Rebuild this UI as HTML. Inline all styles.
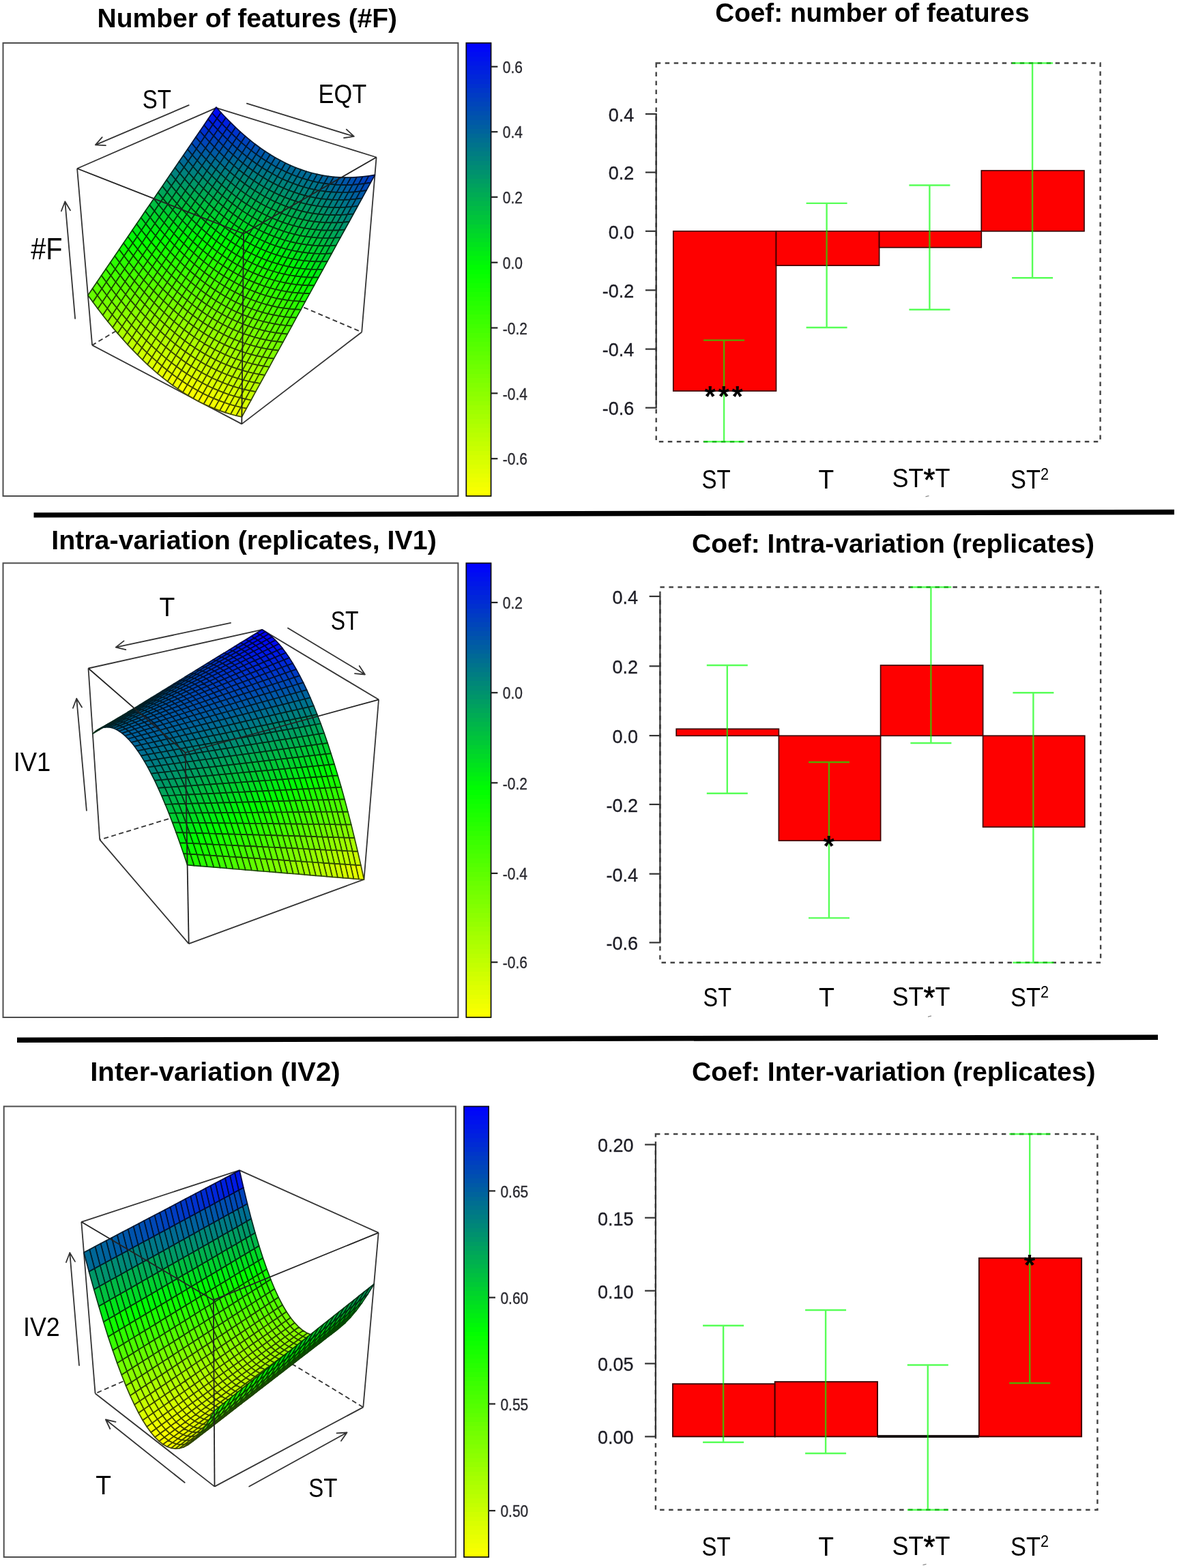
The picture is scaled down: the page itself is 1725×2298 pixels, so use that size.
<!DOCTYPE html>
<html lang="en"><head><meta charset="utf-8"><title>Response surfaces and coefficients</title>
<style>html,body{margin:0;padding:0;background:#fff}body{width:1725px;height:2298px;overflow:hidden}svg{display:block}</style>
</head><body>
<svg width="1725" height="2298" viewBox="0 0 1725 2298" font-family="'Liberation Sans', sans-serif">
<rect width="1725" height="2298" fill="#fff"/>
<path d="M49.5 751.2L1721 746.7V754.3L49.5 758.6z" fill="#000"/>
<path d="M25 1520.6L1697 1516.4V1524L25 1528z" fill="#000"/>
<text x="142.6" y="39.8" font-size="38" font-weight="bold" textLength="439.5" lengthAdjust="spacingAndGlyphs">Number of features (#F)</text>
<text x="1048.2" y="32" font-size="38" font-weight="bold" textLength="460.5" lengthAdjust="spacingAndGlyphs">Coef: number of features</text>
<text x="75.2" y="805.4" font-size="38" font-weight="bold" textLength="564.6" lengthAdjust="spacingAndGlyphs">Intra-variation (replicates, IV1)</text>
<text x="1014" y="810.2" font-size="38" font-weight="bold" textLength="590" lengthAdjust="spacingAndGlyphs">Coef: Intra-variation (replicates)</text>
<text x="132.2" y="1584.4" font-size="38" font-weight="bold" textLength="366.5" lengthAdjust="spacingAndGlyphs">Inter-variation (IV2)</text>
<text x="1014" y="1584" font-size="38" font-weight="bold" textLength="591.5" lengthAdjust="spacingAndGlyphs">Coef: Inter-variation (replicates)</text>
<rect x="4.5" y="63" width="666.9" height="664" fill="none" stroke="#4d4d4d" stroke-width="2"/>
<rect x="4.5" y="825.3" width="666.9" height="665.7" fill="none" stroke="#4d4d4d" stroke-width="2"/>
<rect x="5.7" y="1621.5" width="662.1" height="660.5" fill="none" stroke="#4d4d4d" stroke-width="2"/>
<g shape-rendering="crispEdges">
<rect x="683.3" y="63.00" width="36.3" height="7.24" fill="#0003fc"/>
<rect x="683.3" y="69.64" width="36.3" height="7.24" fill="#0008f7"/>
<rect x="683.3" y="76.28" width="36.3" height="7.24" fill="#000df2"/>
<rect x="683.3" y="82.92" width="36.3" height="7.24" fill="#0012ed"/>
<rect x="683.3" y="89.56" width="36.3" height="7.24" fill="#0017e8"/>
<rect x="683.3" y="96.20" width="36.3" height="7.24" fill="#001ce3"/>
<rect x="683.3" y="102.84" width="36.3" height="7.24" fill="#0021de"/>
<rect x="683.3" y="109.48" width="36.3" height="7.24" fill="#0026d9"/>
<rect x="683.3" y="116.12" width="36.3" height="7.24" fill="#002bd4"/>
<rect x="683.3" y="122.76" width="36.3" height="7.24" fill="#0030cf"/>
<rect x="683.3" y="129.40" width="36.3" height="7.24" fill="#0036c9"/>
<rect x="683.3" y="136.04" width="36.3" height="7.24" fill="#003bc4"/>
<rect x="683.3" y="142.68" width="36.3" height="7.24" fill="#0040bf"/>
<rect x="683.3" y="149.32" width="36.3" height="7.24" fill="#0045ba"/>
<rect x="683.3" y="155.96" width="36.3" height="7.24" fill="#004ab5"/>
<rect x="683.3" y="162.60" width="36.3" height="7.24" fill="#004fb0"/>
<rect x="683.3" y="169.24" width="36.3" height="7.24" fill="#0054ab"/>
<rect x="683.3" y="175.88" width="36.3" height="7.24" fill="#0059a6"/>
<rect x="683.3" y="182.52" width="36.3" height="7.24" fill="#005ea1"/>
<rect x="683.3" y="189.16" width="36.3" height="7.24" fill="#00639c"/>
<rect x="683.3" y="195.80" width="36.3" height="7.24" fill="#006996"/>
<rect x="683.3" y="202.44" width="36.3" height="7.24" fill="#006e91"/>
<rect x="683.3" y="209.08" width="36.3" height="7.24" fill="#00738c"/>
<rect x="683.3" y="215.72" width="36.3" height="7.24" fill="#007887"/>
<rect x="683.3" y="222.36" width="36.3" height="7.24" fill="#007d82"/>
<rect x="683.3" y="229.00" width="36.3" height="7.24" fill="#00827d"/>
<rect x="683.3" y="235.64" width="36.3" height="7.24" fill="#008778"/>
<rect x="683.3" y="242.28" width="36.3" height="7.24" fill="#008c73"/>
<rect x="683.3" y="248.92" width="36.3" height="7.24" fill="#00916e"/>
<rect x="683.3" y="255.56" width="36.3" height="7.24" fill="#009669"/>
<rect x="683.3" y="262.20" width="36.3" height="7.24" fill="#009c63"/>
<rect x="683.3" y="268.84" width="36.3" height="7.24" fill="#00a15e"/>
<rect x="683.3" y="275.48" width="36.3" height="7.24" fill="#00a659"/>
<rect x="683.3" y="282.12" width="36.3" height="7.24" fill="#00ab54"/>
<rect x="683.3" y="288.76" width="36.3" height="7.24" fill="#00b04f"/>
<rect x="683.3" y="295.40" width="36.3" height="7.24" fill="#00b54a"/>
<rect x="683.3" y="302.04" width="36.3" height="7.24" fill="#00ba45"/>
<rect x="683.3" y="308.68" width="36.3" height="7.24" fill="#00bf40"/>
<rect x="683.3" y="315.32" width="36.3" height="7.24" fill="#00c43b"/>
<rect x="683.3" y="321.96" width="36.3" height="7.24" fill="#00c936"/>
<rect x="683.3" y="328.60" width="36.3" height="7.24" fill="#00cf30"/>
<rect x="683.3" y="335.24" width="36.3" height="7.24" fill="#00d42b"/>
<rect x="683.3" y="341.88" width="36.3" height="7.24" fill="#00d926"/>
<rect x="683.3" y="348.52" width="36.3" height="7.24" fill="#00de21"/>
<rect x="683.3" y="355.16" width="36.3" height="7.24" fill="#00e31c"/>
<rect x="683.3" y="361.80" width="36.3" height="7.24" fill="#00e817"/>
<rect x="683.3" y="368.44" width="36.3" height="7.24" fill="#00ed12"/>
<rect x="683.3" y="375.08" width="36.3" height="7.24" fill="#00f20d"/>
<rect x="683.3" y="381.72" width="36.3" height="7.24" fill="#00f708"/>
<rect x="683.3" y="388.36" width="36.3" height="7.24" fill="#00fc03"/>
<rect x="683.3" y="395.00" width="36.3" height="7.24" fill="#03ff00"/>
<rect x="683.3" y="401.64" width="36.3" height="7.24" fill="#08ff00"/>
<rect x="683.3" y="408.28" width="36.3" height="7.24" fill="#0dff00"/>
<rect x="683.3" y="414.92" width="36.3" height="7.24" fill="#12ff00"/>
<rect x="683.3" y="421.56" width="36.3" height="7.24" fill="#17ff00"/>
<rect x="683.3" y="428.20" width="36.3" height="7.24" fill="#1cff00"/>
<rect x="683.3" y="434.84" width="36.3" height="7.24" fill="#21ff00"/>
<rect x="683.3" y="441.48" width="36.3" height="7.24" fill="#26ff00"/>
<rect x="683.3" y="448.12" width="36.3" height="7.24" fill="#2bff00"/>
<rect x="683.3" y="454.76" width="36.3" height="7.24" fill="#30ff00"/>
<rect x="683.3" y="461.40" width="36.3" height="7.24" fill="#36ff00"/>
<rect x="683.3" y="468.04" width="36.3" height="7.24" fill="#3bff00"/>
<rect x="683.3" y="474.68" width="36.3" height="7.24" fill="#40ff00"/>
<rect x="683.3" y="481.32" width="36.3" height="7.24" fill="#45ff00"/>
<rect x="683.3" y="487.96" width="36.3" height="7.24" fill="#4aff00"/>
<rect x="683.3" y="494.60" width="36.3" height="7.24" fill="#4fff00"/>
<rect x="683.3" y="501.24" width="36.3" height="7.24" fill="#54ff00"/>
<rect x="683.3" y="507.88" width="36.3" height="7.24" fill="#59ff00"/>
<rect x="683.3" y="514.52" width="36.3" height="7.24" fill="#5eff00"/>
<rect x="683.3" y="521.16" width="36.3" height="7.24" fill="#63ff00"/>
<rect x="683.3" y="527.80" width="36.3" height="7.24" fill="#69ff00"/>
<rect x="683.3" y="534.44" width="36.3" height="7.24" fill="#6eff00"/>
<rect x="683.3" y="541.08" width="36.3" height="7.24" fill="#73ff00"/>
<rect x="683.3" y="547.72" width="36.3" height="7.24" fill="#78ff00"/>
<rect x="683.3" y="554.36" width="36.3" height="7.24" fill="#7dff00"/>
<rect x="683.3" y="561.00" width="36.3" height="7.24" fill="#82ff00"/>
<rect x="683.3" y="567.64" width="36.3" height="7.24" fill="#87ff00"/>
<rect x="683.3" y="574.28" width="36.3" height="7.24" fill="#8cff00"/>
<rect x="683.3" y="580.92" width="36.3" height="7.24" fill="#91ff00"/>
<rect x="683.3" y="587.56" width="36.3" height="7.24" fill="#96ff00"/>
<rect x="683.3" y="594.20" width="36.3" height="7.24" fill="#9cff00"/>
<rect x="683.3" y="600.84" width="36.3" height="7.24" fill="#a1ff00"/>
<rect x="683.3" y="607.48" width="36.3" height="7.24" fill="#a6ff00"/>
<rect x="683.3" y="614.12" width="36.3" height="7.24" fill="#abff00"/>
<rect x="683.3" y="620.76" width="36.3" height="7.24" fill="#b0ff00"/>
<rect x="683.3" y="627.40" width="36.3" height="7.24" fill="#b5ff00"/>
<rect x="683.3" y="634.04" width="36.3" height="7.24" fill="#baff00"/>
<rect x="683.3" y="640.68" width="36.3" height="7.24" fill="#bfff00"/>
<rect x="683.3" y="647.32" width="36.3" height="7.24" fill="#c4ff00"/>
<rect x="683.3" y="653.96" width="36.3" height="7.24" fill="#c9ff00"/>
<rect x="683.3" y="660.60" width="36.3" height="7.24" fill="#cfff00"/>
<rect x="683.3" y="667.24" width="36.3" height="7.24" fill="#d4ff00"/>
<rect x="683.3" y="673.88" width="36.3" height="7.24" fill="#d9ff00"/>
<rect x="683.3" y="680.52" width="36.3" height="7.24" fill="#deff00"/>
<rect x="683.3" y="687.16" width="36.3" height="7.24" fill="#e3ff00"/>
<rect x="683.3" y="693.80" width="36.3" height="7.24" fill="#e8ff00"/>
<rect x="683.3" y="700.44" width="36.3" height="7.24" fill="#edff00"/>
<rect x="683.3" y="707.08" width="36.3" height="7.24" fill="#f2ff00"/>
<rect x="683.3" y="713.72" width="36.3" height="7.24" fill="#f7ff00"/>
<rect x="683.3" y="720.36" width="36.3" height="7.24" fill="#fcff00"/>
</g>
<rect x="683.3" y="63" width="36.3" height="664" fill="none" stroke="#0a0a14" stroke-width="1.7"/>
<line x1="719.6" y1="97.7" x2="729.4" y2="97.7" stroke="#222" stroke-width="2.2"/>
<text x="736.8" y="106.9" font-size="23.5" textLength="29.2" lengthAdjust="spacingAndGlyphs" fill="#2a2a30" stroke="#2a2a30" stroke-width="0.35">0.6</text>
<line x1="719.6" y1="193.2" x2="729.4" y2="193.2" stroke="#222" stroke-width="2.2"/>
<text x="736.8" y="202.4" font-size="23.5" textLength="29.2" lengthAdjust="spacingAndGlyphs" fill="#2a2a30" stroke="#2a2a30" stroke-width="0.35">0.4</text>
<line x1="719.6" y1="288.8" x2="729.4" y2="288.8" stroke="#222" stroke-width="2.2"/>
<text x="736.8" y="298" font-size="23.5" textLength="29.2" lengthAdjust="spacingAndGlyphs" fill="#2a2a30" stroke="#2a2a30" stroke-width="0.35">0.2</text>
<line x1="719.6" y1="384.7" x2="729.4" y2="384.7" stroke="#222" stroke-width="2.2"/>
<text x="736.8" y="393.9" font-size="23.5" textLength="29.2" lengthAdjust="spacingAndGlyphs" fill="#2a2a30" stroke="#2a2a30" stroke-width="0.35">0.0</text>
<line x1="719.6" y1="480.5" x2="729.4" y2="480.5" stroke="#222" stroke-width="2.2"/>
<text x="736.8" y="489.7" font-size="23.5" textLength="36.2" lengthAdjust="spacingAndGlyphs" fill="#2a2a30" stroke="#2a2a30" stroke-width="0.35">-0.2</text>
<line x1="719.6" y1="576.4" x2="729.4" y2="576.4" stroke="#222" stroke-width="2.2"/>
<text x="736.8" y="585.6" font-size="23.5" textLength="36.2" lengthAdjust="spacingAndGlyphs" fill="#2a2a30" stroke="#2a2a30" stroke-width="0.35">-0.4</text>
<line x1="719.6" y1="672.2" x2="729.4" y2="672.2" stroke="#222" stroke-width="2.2"/>
<text x="736.8" y="681.4" font-size="23.5" textLength="36.2" lengthAdjust="spacingAndGlyphs" fill="#2a2a30" stroke="#2a2a30" stroke-width="0.35">-0.6</text>
<g shape-rendering="crispEdges">
<rect x="683.3" y="825.30" width="36.3" height="7.26" fill="#0003fc"/>
<rect x="683.3" y="831.96" width="36.3" height="7.26" fill="#0008f7"/>
<rect x="683.3" y="838.61" width="36.3" height="7.26" fill="#000df2"/>
<rect x="683.3" y="845.27" width="36.3" height="7.26" fill="#0012ed"/>
<rect x="683.3" y="851.93" width="36.3" height="7.26" fill="#0017e8"/>
<rect x="683.3" y="858.58" width="36.3" height="7.26" fill="#001ce3"/>
<rect x="683.3" y="865.24" width="36.3" height="7.26" fill="#0021de"/>
<rect x="683.3" y="871.90" width="36.3" height="7.26" fill="#0026d9"/>
<rect x="683.3" y="878.56" width="36.3" height="7.26" fill="#002bd4"/>
<rect x="683.3" y="885.21" width="36.3" height="7.26" fill="#0030cf"/>
<rect x="683.3" y="891.87" width="36.3" height="7.26" fill="#0036c9"/>
<rect x="683.3" y="898.53" width="36.3" height="7.26" fill="#003bc4"/>
<rect x="683.3" y="905.18" width="36.3" height="7.26" fill="#0040bf"/>
<rect x="683.3" y="911.84" width="36.3" height="7.26" fill="#0045ba"/>
<rect x="683.3" y="918.50" width="36.3" height="7.26" fill="#004ab5"/>
<rect x="683.3" y="925.15" width="36.3" height="7.26" fill="#004fb0"/>
<rect x="683.3" y="931.81" width="36.3" height="7.26" fill="#0054ab"/>
<rect x="683.3" y="938.47" width="36.3" height="7.26" fill="#0059a6"/>
<rect x="683.3" y="945.13" width="36.3" height="7.26" fill="#005ea1"/>
<rect x="683.3" y="951.78" width="36.3" height="7.26" fill="#00639c"/>
<rect x="683.3" y="958.44" width="36.3" height="7.26" fill="#006996"/>
<rect x="683.3" y="965.10" width="36.3" height="7.26" fill="#006e91"/>
<rect x="683.3" y="971.75" width="36.3" height="7.26" fill="#00738c"/>
<rect x="683.3" y="978.41" width="36.3" height="7.26" fill="#007887"/>
<rect x="683.3" y="985.07" width="36.3" height="7.26" fill="#007d82"/>
<rect x="683.3" y="991.72" width="36.3" height="7.26" fill="#00827d"/>
<rect x="683.3" y="998.38" width="36.3" height="7.26" fill="#008778"/>
<rect x="683.3" y="1005.04" width="36.3" height="7.26" fill="#008c73"/>
<rect x="683.3" y="1011.70" width="36.3" height="7.26" fill="#00916e"/>
<rect x="683.3" y="1018.35" width="36.3" height="7.26" fill="#009669"/>
<rect x="683.3" y="1025.01" width="36.3" height="7.26" fill="#009c63"/>
<rect x="683.3" y="1031.67" width="36.3" height="7.26" fill="#00a15e"/>
<rect x="683.3" y="1038.32" width="36.3" height="7.26" fill="#00a659"/>
<rect x="683.3" y="1044.98" width="36.3" height="7.26" fill="#00ab54"/>
<rect x="683.3" y="1051.64" width="36.3" height="7.26" fill="#00b04f"/>
<rect x="683.3" y="1058.30" width="36.3" height="7.26" fill="#00b54a"/>
<rect x="683.3" y="1064.95" width="36.3" height="7.26" fill="#00ba45"/>
<rect x="683.3" y="1071.61" width="36.3" height="7.26" fill="#00bf40"/>
<rect x="683.3" y="1078.27" width="36.3" height="7.26" fill="#00c43b"/>
<rect x="683.3" y="1084.92" width="36.3" height="7.26" fill="#00c936"/>
<rect x="683.3" y="1091.58" width="36.3" height="7.26" fill="#00cf30"/>
<rect x="683.3" y="1098.24" width="36.3" height="7.26" fill="#00d42b"/>
<rect x="683.3" y="1104.89" width="36.3" height="7.26" fill="#00d926"/>
<rect x="683.3" y="1111.55" width="36.3" height="7.26" fill="#00de21"/>
<rect x="683.3" y="1118.21" width="36.3" height="7.26" fill="#00e31c"/>
<rect x="683.3" y="1124.87" width="36.3" height="7.26" fill="#00e817"/>
<rect x="683.3" y="1131.52" width="36.3" height="7.26" fill="#00ed12"/>
<rect x="683.3" y="1138.18" width="36.3" height="7.26" fill="#00f20d"/>
<rect x="683.3" y="1144.84" width="36.3" height="7.26" fill="#00f708"/>
<rect x="683.3" y="1151.49" width="36.3" height="7.26" fill="#00fc03"/>
<rect x="683.3" y="1158.15" width="36.3" height="7.26" fill="#03ff00"/>
<rect x="683.3" y="1164.81" width="36.3" height="7.26" fill="#08ff00"/>
<rect x="683.3" y="1171.46" width="36.3" height="7.26" fill="#0dff00"/>
<rect x="683.3" y="1178.12" width="36.3" height="7.26" fill="#12ff00"/>
<rect x="683.3" y="1184.78" width="36.3" height="7.26" fill="#17ff00"/>
<rect x="683.3" y="1191.43" width="36.3" height="7.26" fill="#1cff00"/>
<rect x="683.3" y="1198.09" width="36.3" height="7.26" fill="#21ff00"/>
<rect x="683.3" y="1204.75" width="36.3" height="7.26" fill="#26ff00"/>
<rect x="683.3" y="1211.41" width="36.3" height="7.26" fill="#2bff00"/>
<rect x="683.3" y="1218.06" width="36.3" height="7.26" fill="#30ff00"/>
<rect x="683.3" y="1224.72" width="36.3" height="7.26" fill="#36ff00"/>
<rect x="683.3" y="1231.38" width="36.3" height="7.26" fill="#3bff00"/>
<rect x="683.3" y="1238.03" width="36.3" height="7.26" fill="#40ff00"/>
<rect x="683.3" y="1244.69" width="36.3" height="7.26" fill="#45ff00"/>
<rect x="683.3" y="1251.35" width="36.3" height="7.26" fill="#4aff00"/>
<rect x="683.3" y="1258.00" width="36.3" height="7.26" fill="#4fff00"/>
<rect x="683.3" y="1264.66" width="36.3" height="7.26" fill="#54ff00"/>
<rect x="683.3" y="1271.32" width="36.3" height="7.26" fill="#59ff00"/>
<rect x="683.3" y="1277.98" width="36.3" height="7.26" fill="#5eff00"/>
<rect x="683.3" y="1284.63" width="36.3" height="7.26" fill="#63ff00"/>
<rect x="683.3" y="1291.29" width="36.3" height="7.26" fill="#69ff00"/>
<rect x="683.3" y="1297.95" width="36.3" height="7.26" fill="#6eff00"/>
<rect x="683.3" y="1304.60" width="36.3" height="7.26" fill="#73ff00"/>
<rect x="683.3" y="1311.26" width="36.3" height="7.26" fill="#78ff00"/>
<rect x="683.3" y="1317.92" width="36.3" height="7.26" fill="#7dff00"/>
<rect x="683.3" y="1324.57" width="36.3" height="7.26" fill="#82ff00"/>
<rect x="683.3" y="1331.23" width="36.3" height="7.26" fill="#87ff00"/>
<rect x="683.3" y="1337.89" width="36.3" height="7.26" fill="#8cff00"/>
<rect x="683.3" y="1344.55" width="36.3" height="7.26" fill="#91ff00"/>
<rect x="683.3" y="1351.20" width="36.3" height="7.26" fill="#96ff00"/>
<rect x="683.3" y="1357.86" width="36.3" height="7.26" fill="#9cff00"/>
<rect x="683.3" y="1364.52" width="36.3" height="7.26" fill="#a1ff00"/>
<rect x="683.3" y="1371.17" width="36.3" height="7.26" fill="#a6ff00"/>
<rect x="683.3" y="1377.83" width="36.3" height="7.26" fill="#abff00"/>
<rect x="683.3" y="1384.49" width="36.3" height="7.26" fill="#b0ff00"/>
<rect x="683.3" y="1391.14" width="36.3" height="7.26" fill="#b5ff00"/>
<rect x="683.3" y="1397.80" width="36.3" height="7.26" fill="#baff00"/>
<rect x="683.3" y="1404.46" width="36.3" height="7.26" fill="#bfff00"/>
<rect x="683.3" y="1411.12" width="36.3" height="7.26" fill="#c4ff00"/>
<rect x="683.3" y="1417.77" width="36.3" height="7.26" fill="#c9ff00"/>
<rect x="683.3" y="1424.43" width="36.3" height="7.26" fill="#cfff00"/>
<rect x="683.3" y="1431.09" width="36.3" height="7.26" fill="#d4ff00"/>
<rect x="683.3" y="1437.74" width="36.3" height="7.26" fill="#d9ff00"/>
<rect x="683.3" y="1444.40" width="36.3" height="7.26" fill="#deff00"/>
<rect x="683.3" y="1451.06" width="36.3" height="7.26" fill="#e3ff00"/>
<rect x="683.3" y="1457.71" width="36.3" height="7.26" fill="#e8ff00"/>
<rect x="683.3" y="1464.37" width="36.3" height="7.26" fill="#edff00"/>
<rect x="683.3" y="1471.03" width="36.3" height="7.26" fill="#f2ff00"/>
<rect x="683.3" y="1477.69" width="36.3" height="7.26" fill="#f7ff00"/>
<rect x="683.3" y="1484.34" width="36.3" height="7.26" fill="#fcff00"/>
</g>
<rect x="683.3" y="825.3" width="36.3" height="665.7" fill="none" stroke="#0a0a14" stroke-width="1.7"/>
<line x1="719.6" y1="883" x2="729.4" y2="883" stroke="#222" stroke-width="2.2"/>
<text x="736.8" y="892.2" font-size="23.5" textLength="29.2" lengthAdjust="spacingAndGlyphs" fill="#2a2a30" stroke="#2a2a30" stroke-width="0.35">0.2</text>
<line x1="719.6" y1="1015.2" x2="729.4" y2="1015.2" stroke="#222" stroke-width="2.2"/>
<text x="736.8" y="1024.4" font-size="23.5" textLength="29.2" lengthAdjust="spacingAndGlyphs" fill="#2a2a30" stroke="#2a2a30" stroke-width="0.35">0.0</text>
<line x1="719.6" y1="1147.3" x2="729.4" y2="1147.3" stroke="#222" stroke-width="2.2"/>
<text x="736.8" y="1156.5" font-size="23.5" textLength="36.2" lengthAdjust="spacingAndGlyphs" fill="#2a2a30" stroke="#2a2a30" stroke-width="0.35">-0.2</text>
<line x1="719.6" y1="1279.9" x2="729.4" y2="1279.9" stroke="#222" stroke-width="2.2"/>
<text x="736.8" y="1289.1" font-size="23.5" textLength="36.2" lengthAdjust="spacingAndGlyphs" fill="#2a2a30" stroke="#2a2a30" stroke-width="0.35">-0.4</text>
<line x1="719.6" y1="1410.2" x2="729.4" y2="1410.2" stroke="#222" stroke-width="2.2"/>
<text x="736.8" y="1419.4" font-size="23.5" textLength="36.2" lengthAdjust="spacingAndGlyphs" fill="#2a2a30" stroke="#2a2a30" stroke-width="0.35">-0.6</text>
<g shape-rendering="crispEdges">
<rect x="680" y="1621.50" width="36.2" height="7.21" fill="#0003fc"/>
<rect x="680" y="1628.11" width="36.2" height="7.21" fill="#0008f7"/>
<rect x="680" y="1634.71" width="36.2" height="7.21" fill="#000df2"/>
<rect x="680" y="1641.32" width="36.2" height="7.21" fill="#0012ed"/>
<rect x="680" y="1647.92" width="36.2" height="7.21" fill="#0017e8"/>
<rect x="680" y="1654.53" width="36.2" height="7.21" fill="#001ce3"/>
<rect x="680" y="1661.13" width="36.2" height="7.21" fill="#0021de"/>
<rect x="680" y="1667.73" width="36.2" height="7.21" fill="#0026d9"/>
<rect x="680" y="1674.34" width="36.2" height="7.21" fill="#002bd4"/>
<rect x="680" y="1680.94" width="36.2" height="7.21" fill="#0030cf"/>
<rect x="680" y="1687.55" width="36.2" height="7.21" fill="#0036c9"/>
<rect x="680" y="1694.15" width="36.2" height="7.21" fill="#003bc4"/>
<rect x="680" y="1700.76" width="36.2" height="7.21" fill="#0040bf"/>
<rect x="680" y="1707.37" width="36.2" height="7.21" fill="#0045ba"/>
<rect x="680" y="1713.97" width="36.2" height="7.21" fill="#004ab5"/>
<rect x="680" y="1720.58" width="36.2" height="7.21" fill="#004fb0"/>
<rect x="680" y="1727.18" width="36.2" height="7.21" fill="#0054ab"/>
<rect x="680" y="1733.79" width="36.2" height="7.21" fill="#0059a6"/>
<rect x="680" y="1740.39" width="36.2" height="7.21" fill="#005ea1"/>
<rect x="680" y="1746.99" width="36.2" height="7.21" fill="#00639c"/>
<rect x="680" y="1753.60" width="36.2" height="7.21" fill="#006996"/>
<rect x="680" y="1760.20" width="36.2" height="7.21" fill="#006e91"/>
<rect x="680" y="1766.81" width="36.2" height="7.21" fill="#00738c"/>
<rect x="680" y="1773.41" width="36.2" height="7.21" fill="#007887"/>
<rect x="680" y="1780.02" width="36.2" height="7.21" fill="#007d82"/>
<rect x="680" y="1786.62" width="36.2" height="7.21" fill="#00827d"/>
<rect x="680" y="1793.23" width="36.2" height="7.21" fill="#008778"/>
<rect x="680" y="1799.84" width="36.2" height="7.21" fill="#008c73"/>
<rect x="680" y="1806.44" width="36.2" height="7.21" fill="#00916e"/>
<rect x="680" y="1813.05" width="36.2" height="7.21" fill="#009669"/>
<rect x="680" y="1819.65" width="36.2" height="7.21" fill="#009c63"/>
<rect x="680" y="1826.26" width="36.2" height="7.21" fill="#00a15e"/>
<rect x="680" y="1832.86" width="36.2" height="7.21" fill="#00a659"/>
<rect x="680" y="1839.46" width="36.2" height="7.21" fill="#00ab54"/>
<rect x="680" y="1846.07" width="36.2" height="7.21" fill="#00b04f"/>
<rect x="680" y="1852.67" width="36.2" height="7.21" fill="#00b54a"/>
<rect x="680" y="1859.28" width="36.2" height="7.21" fill="#00ba45"/>
<rect x="680" y="1865.88" width="36.2" height="7.21" fill="#00bf40"/>
<rect x="680" y="1872.49" width="36.2" height="7.21" fill="#00c43b"/>
<rect x="680" y="1879.10" width="36.2" height="7.21" fill="#00c936"/>
<rect x="680" y="1885.70" width="36.2" height="7.21" fill="#00cf30"/>
<rect x="680" y="1892.31" width="36.2" height="7.21" fill="#00d42b"/>
<rect x="680" y="1898.91" width="36.2" height="7.21" fill="#00d926"/>
<rect x="680" y="1905.52" width="36.2" height="7.21" fill="#00de21"/>
<rect x="680" y="1912.12" width="36.2" height="7.21" fill="#00e31c"/>
<rect x="680" y="1918.72" width="36.2" height="7.21" fill="#00e817"/>
<rect x="680" y="1925.33" width="36.2" height="7.21" fill="#00ed12"/>
<rect x="680" y="1931.93" width="36.2" height="7.21" fill="#00f20d"/>
<rect x="680" y="1938.54" width="36.2" height="7.21" fill="#00f708"/>
<rect x="680" y="1945.14" width="36.2" height="7.21" fill="#00fc03"/>
<rect x="680" y="1951.75" width="36.2" height="7.21" fill="#03ff00"/>
<rect x="680" y="1958.36" width="36.2" height="7.21" fill="#08ff00"/>
<rect x="680" y="1964.96" width="36.2" height="7.21" fill="#0dff00"/>
<rect x="680" y="1971.57" width="36.2" height="7.21" fill="#12ff00"/>
<rect x="680" y="1978.17" width="36.2" height="7.21" fill="#17ff00"/>
<rect x="680" y="1984.78" width="36.2" height="7.21" fill="#1cff00"/>
<rect x="680" y="1991.38" width="36.2" height="7.21" fill="#21ff00"/>
<rect x="680" y="1997.99" width="36.2" height="7.21" fill="#26ff00"/>
<rect x="680" y="2004.59" width="36.2" height="7.21" fill="#2bff00"/>
<rect x="680" y="2011.20" width="36.2" height="7.21" fill="#30ff00"/>
<rect x="680" y="2017.80" width="36.2" height="7.21" fill="#36ff00"/>
<rect x="680" y="2024.40" width="36.2" height="7.21" fill="#3bff00"/>
<rect x="680" y="2031.01" width="36.2" height="7.21" fill="#40ff00"/>
<rect x="680" y="2037.62" width="36.2" height="7.21" fill="#45ff00"/>
<rect x="680" y="2044.22" width="36.2" height="7.21" fill="#4aff00"/>
<rect x="680" y="2050.82" width="36.2" height="7.21" fill="#4fff00"/>
<rect x="680" y="2057.43" width="36.2" height="7.21" fill="#54ff00"/>
<rect x="680" y="2064.03" width="36.2" height="7.21" fill="#59ff00"/>
<rect x="680" y="2070.64" width="36.2" height="7.21" fill="#5eff00"/>
<rect x="680" y="2077.24" width="36.2" height="7.21" fill="#63ff00"/>
<rect x="680" y="2083.85" width="36.2" height="7.21" fill="#69ff00"/>
<rect x="680" y="2090.45" width="36.2" height="7.21" fill="#6eff00"/>
<rect x="680" y="2097.06" width="36.2" height="7.21" fill="#73ff00"/>
<rect x="680" y="2103.66" width="36.2" height="7.21" fill="#78ff00"/>
<rect x="680" y="2110.27" width="36.2" height="7.21" fill="#7dff00"/>
<rect x="680" y="2116.88" width="36.2" height="7.21" fill="#82ff00"/>
<rect x="680" y="2123.48" width="36.2" height="7.21" fill="#87ff00"/>
<rect x="680" y="2130.09" width="36.2" height="7.21" fill="#8cff00"/>
<rect x="680" y="2136.69" width="36.2" height="7.21" fill="#91ff00"/>
<rect x="680" y="2143.30" width="36.2" height="7.21" fill="#96ff00"/>
<rect x="680" y="2149.90" width="36.2" height="7.21" fill="#9cff00"/>
<rect x="680" y="2156.51" width="36.2" height="7.21" fill="#a1ff00"/>
<rect x="680" y="2163.11" width="36.2" height="7.21" fill="#a6ff00"/>
<rect x="680" y="2169.72" width="36.2" height="7.21" fill="#abff00"/>
<rect x="680" y="2176.32" width="36.2" height="7.21" fill="#b0ff00"/>
<rect x="680" y="2182.93" width="36.2" height="7.21" fill="#b5ff00"/>
<rect x="680" y="2189.53" width="36.2" height="7.21" fill="#baff00"/>
<rect x="680" y="2196.14" width="36.2" height="7.21" fill="#bfff00"/>
<rect x="680" y="2202.74" width="36.2" height="7.21" fill="#c4ff00"/>
<rect x="680" y="2209.35" width="36.2" height="7.21" fill="#c9ff00"/>
<rect x="680" y="2215.95" width="36.2" height="7.21" fill="#cfff00"/>
<rect x="680" y="2222.56" width="36.2" height="7.21" fill="#d4ff00"/>
<rect x="680" y="2229.16" width="36.2" height="7.21" fill="#d9ff00"/>
<rect x="680" y="2235.76" width="36.2" height="7.21" fill="#deff00"/>
<rect x="680" y="2242.37" width="36.2" height="7.21" fill="#e3ff00"/>
<rect x="680" y="2248.97" width="36.2" height="7.21" fill="#e8ff00"/>
<rect x="680" y="2255.58" width="36.2" height="7.21" fill="#edff00"/>
<rect x="680" y="2262.18" width="36.2" height="7.21" fill="#f2ff00"/>
<rect x="680" y="2268.79" width="36.2" height="7.21" fill="#f7ff00"/>
<rect x="680" y="2275.39" width="36.2" height="7.21" fill="#fcff00"/>
</g>
<rect x="680" y="1621.5" width="36.2" height="660.5" fill="none" stroke="#0a0a14" stroke-width="1.7"/>
<line x1="716.2" y1="1745.4" x2="726" y2="1745.4" stroke="#222" stroke-width="2.2"/>
<text x="733.4" y="1754.6" font-size="23.5" textLength="40.9" lengthAdjust="spacingAndGlyphs" fill="#2a2a30" stroke="#2a2a30" stroke-width="0.35">0.65</text>
<line x1="716.2" y1="1901.6" x2="726" y2="1901.6" stroke="#222" stroke-width="2.2"/>
<text x="733.4" y="1910.8" font-size="23.5" textLength="40.9" lengthAdjust="spacingAndGlyphs" fill="#2a2a30" stroke="#2a2a30" stroke-width="0.35">0.60</text>
<line x1="716.2" y1="2057.5" x2="726" y2="2057.5" stroke="#222" stroke-width="2.2"/>
<text x="733.4" y="2066.7" font-size="23.5" textLength="40.9" lengthAdjust="spacingAndGlyphs" fill="#2a2a30" stroke="#2a2a30" stroke-width="0.35">0.55</text>
<line x1="716.2" y1="2214" x2="726" y2="2214" stroke="#222" stroke-width="2.2"/>
<text x="733.4" y="2223.2" font-size="23.5" textLength="40.9" lengthAdjust="spacingAndGlyphs" fill="#2a2a30" stroke="#2a2a30" stroke-width="0.35">0.50</text>
<g fill="none">
<line x1="318.3" y1="396.5" x2="135.1" y2="505.9" stroke="#333" stroke-width="1.8" stroke-dasharray="7 4.5"/>
<line x1="318.3" y1="396.5" x2="530.2" y2="486.7" stroke="#333" stroke-width="1.8" stroke-dasharray="7 4.5"/>
<line x1="318.3" y1="396.5" x2="316.9" y2="158.1" stroke="#333" stroke-width="1.8" stroke-dasharray="7 4.5"/>
<line x1="316.9" y1="158.1" x2="113.1" y2="247" stroke="#333" stroke-width="1.8"/>
<line x1="316.9" y1="158.1" x2="551.6" y2="230.5" stroke="#333" stroke-width="1.8"/>
<line x1="135.1" y1="505.9" x2="113.1" y2="247" stroke="#333" stroke-width="1.8"/>
<line x1="530.2" y1="486.7" x2="551.6" y2="230.5" stroke="#333" stroke-width="1.8"/>
<line x1="135.1" y1="505.9" x2="354.3" y2="621.4" stroke="#333" stroke-width="1.8"/>
<line x1="530.2" y1="486.7" x2="354.3" y2="621.4" stroke="#333" stroke-width="1.8"/>
</g>
<g stroke-width="1.7" stroke-linejoin="round">
<path d="M316.9 157.1L323.9 165L318 173.7L310.9 165.8z" fill="#000bf4" stroke="#000344"/>
<path d="M323.9 165L331 172.5L325.1 181.4L318 173.7z" fill="#0016e9" stroke="#000641"/>
<path d="M310.9 165.8L318 173.7L312 182.6L304.9 174.6z" fill="#0017e8" stroke="#000640"/>
<path d="M331 172.5L338.1 179.7L332.2 188.7L325.1 181.4z" fill="#0020df" stroke="#00083e"/>
<path d="M318 173.7L325.1 181.4L319.1 190.3L312 182.6z" fill="#0022dd" stroke="#00093d"/>
<path d="M304.9 174.6L312 182.6L306 191.4L298.9 183.4z" fill="#0023dc" stroke="#00093d"/>
<path d="M338.1 179.7L345.2 186.7L339.3 195.7L332.2 188.7z" fill="#002ad5" stroke="#000b3b"/>
<path d="M325.1 181.4L332.2 188.7L326.2 197.7L319.1 190.3z" fill="#002cd3" stroke="#000c3b"/>
<path d="M312 182.6L319.1 190.3L313.1 199.2L306 191.4z" fill="#002ed1" stroke="#000c3a"/>
<path d="M298.9 183.4L306 191.4L300 200.3L292.9 192.2z" fill="#002fd0" stroke="#000d3a"/>
<path d="M332.2 188.7L339.3 195.7L333.3 204.7L326.2 197.7z" fill="#0036c9" stroke="#000f38"/>
<path d="M319.1 190.3L326.2 197.7L320.2 206.7L313.1 199.2z" fill="#0038c7" stroke="#000f37"/>
<path d="M345.2 186.7L352.4 193.3L346.4 202.4L339.3 195.7z" fill="#0033cc" stroke="#000e39"/>
<path d="M306 191.4L313.1 199.2L307.1 208.2L300 200.3z" fill="#003ac5" stroke="#001037"/>
<path d="M292.9 192.2L300 200.3L294 209.2L286.9 201z" fill="#003bc4" stroke="#001036"/>
<path d="M326.2 197.7L333.3 204.7L327.3 213.8L320.2 206.7z" fill="#0042bd" stroke="#001234"/>
<path d="M339.3 195.7L346.4 202.4L340.5 211.5L333.3 204.7z" fill="#003fc0" stroke="#001135"/>
<path d="M313.1 199.2L320.2 206.7L314.2 215.7L307.1 208.2z" fill="#0045ba" stroke="#001334"/>
<path d="M352.4 193.3L359.6 199.6L353.6 208.8L346.4 202.4z" fill="#003bc4" stroke="#001036"/>
<path d="M300 200.3L307.1 208.2L301.1 217.2L294 209.2z" fill="#0046b9" stroke="#001333"/>
<path d="M286.9 201L294 209.2L287.9 218.2L280.8 209.9z" fill="#0047b8" stroke="#001333"/>
<path d="M320.2 206.7L327.3 213.8L321.4 222.9L314.2 215.7z" fill="#004eb1" stroke="#001531"/>
<path d="M333.3 204.7L340.5 211.5L334.5 220.7L327.3 213.8z" fill="#004bb4" stroke="#001532"/>
<path d="M307.1 208.2L314.2 215.7L308.2 224.8L301.1 217.2z" fill="#0051ae" stroke="#001630"/>
<path d="M346.4 202.4L353.6 208.8L347.7 218L340.5 211.5z" fill="#0047b8" stroke="#001333"/>
<path d="M294 209.2L301.1 217.2L295 226.2L287.9 218.2z" fill="#0052ad" stroke="#001630"/>
<path d="M359.6 199.6L366.8 205.6L360.8 214.8L353.6 208.8z" fill="#0042bd" stroke="#001234"/>
<path d="M280.8 209.9L287.9 218.2L281.9 227.2L274.8 218.8z" fill="#0053ac" stroke="#001730"/>
<path d="M314.2 215.7L321.4 222.9L315.3 232.1L308.2 224.8z" fill="#005aa5" stroke="#00192e"/>
<path d="M327.3 213.8L334.5 220.7L328.5 229.9L321.4 222.9z" fill="#0057a8" stroke="#00182f"/>
<path d="M301.1 217.2L308.2 224.8L302.2 233.9L295 226.2z" fill="#005da2" stroke="#001a2d"/>
<path d="M340.5 211.5L347.7 218L341.7 227.2L334.5 220.7z" fill="#0053ac" stroke="#001730"/>
<path d="M287.9 218.2L295 226.2L289 235.2L281.9 227.2z" fill="#005ea1" stroke="#001a2d"/>
<path d="M353.6 208.8L360.8 214.8L354.9 224.1L347.7 218z" fill="#004fb0" stroke="#001631"/>
<path d="M274.8 218.8L281.9 227.2L275.8 236.2L268.7 227.7z" fill="#005fa0" stroke="#001a2c"/>
<path d="M366.8 205.6L374 211.3L368.1 220.6L360.8 214.8z" fill="#0049b6" stroke="#001432"/>
<path d="M308.2 224.8L315.3 232.1L309.3 241.3L302.2 233.9z" fill="#006798" stroke="#001c2a"/>
<path d="M321.4 222.9L328.5 229.9L322.5 239.1L315.3 232.1z" fill="#00649b" stroke="#001c2b"/>
<path d="M295 226.2L302.2 233.9L296.1 243L289 235.2z" fill="#006996" stroke="#001d2a"/>
<path d="M334.5 220.7L341.7 227.2L335.7 236.5L328.5 229.9z" fill="#00609f" stroke="#001a2c"/>
<path d="M281.9 227.2L289 235.2L282.9 244.3L275.8 236.2z" fill="#006a95" stroke="#001d29"/>
<path d="M347.7 218L354.9 224.1L348.9 233.4L341.7 227.2z" fill="#005ba4" stroke="#00192d"/>
<path d="M268.7 227.7L275.8 236.2L269.7 245.2L262.5 236.7z" fill="#006b94" stroke="#001d29"/>
<path d="M360.8 214.8L368.1 220.6L362.1 230L354.9 224.1z" fill="#0056a9" stroke="#00182f"/>
<path d="M302.2 233.9L309.3 241.3L303.2 250.5L296.1 243z" fill="#00738c" stroke="#002027"/>
<path d="M315.3 232.1L322.5 239.1L316.5 248.3L309.3 241.3z" fill="#00708f" stroke="#001f28"/>
<path d="M374 211.3L381.3 216.7L375.4 226.1L368.1 220.6z" fill="#004fb0" stroke="#001631"/>
<path d="M289 235.2L296.1 243L290 252.2L282.9 244.3z" fill="#00758a" stroke="#002026"/>
<path d="M328.5 229.9L335.7 236.5L329.7 245.8L322.5 239.1z" fill="#006c93" stroke="#001e29"/>
<path d="M275.8 236.2L282.9 244.3L276.8 253.5L269.7 245.2z" fill="#007689" stroke="#002126"/>
<path d="M341.7 227.2L348.9 233.4L342.9 242.8L335.7 236.5z" fill="#006897" stroke="#001d2a"/>
<path d="M262.5 236.7L269.7 245.2L263.5 254.3L256.4 245.7z" fill="#007689" stroke="#002126"/>
<path d="M354.9 224.1L362.1 230L356.1 239.4L348.9 233.4z" fill="#00629d" stroke="#001b2b"/>
<path d="M368.1 220.6L375.4 226.1L369.4 235.5L362.1 230z" fill="#005ca3" stroke="#00192d"/>
<path d="M309.3 241.3L316.5 248.3L310.4 257.6L303.2 250.5z" fill="#007c83" stroke="#002224"/>
<path d="M296.1 243L303.2 250.5L297.2 259.7L290 252.2z" fill="#007f80" stroke="#002323"/>
<path d="M322.5 239.1L329.7 245.8L323.6 255.1L316.5 248.3z" fill="#007986" stroke="#002125"/>
<path d="M282.9 244.3L290 252.2L283.9 261.4L276.8 253.5z" fill="#00817e" stroke="#002423"/>
<path d="M335.7 236.5L342.9 242.8L336.9 252.2L329.7 245.8z" fill="#00748b" stroke="#002026"/>
<path d="M269.7 245.2L276.8 253.5L270.6 262.6L263.5 254.3z" fill="#00827d" stroke="#002423"/>
<path d="M381.3 216.7L388.6 221.7L382.7 231.2L375.4 226.1z" fill="#0055aa" stroke="#00172f"/>
<path d="M348.9 233.4L356.1 239.4L350.1 248.8L342.9 242.8z" fill="#006f90" stroke="#001f28"/>
<path d="M256.4 245.7L263.5 254.3L257.4 263.4L250.2 254.8z" fill="#00827d" stroke="#002423"/>
<path d="M362.1 230L369.4 235.5L363.4 245L356.1 239.4z" fill="#006996" stroke="#001d2a"/>
<path d="M303.2 250.5L310.4 257.6L304.3 266.9L297.2 259.7z" fill="#008877" stroke="#002621"/>
<path d="M290 252.2L297.2 259.7L291.1 269L283.9 261.4z" fill="#008b74" stroke="#002620"/>
<path d="M316.5 248.3L323.6 255.1L317.6 264.5L310.4 257.6z" fill="#00857a" stroke="#002522"/>
<path d="M276.8 253.5L283.9 261.4L277.8 270.6L270.6 262.6z" fill="#008d72" stroke="#00271f"/>
<path d="M329.7 245.8L336.9 252.2L330.8 261.6L323.6 255.1z" fill="#00807f" stroke="#002323"/>
<path d="M263.5 254.3L270.6 262.6L264.5 271.8L257.4 263.4z" fill="#008e71" stroke="#00271f"/>
<path d="M375.4 226.1L382.7 231.2L376.7 240.8L369.4 235.5z" fill="#00629d" stroke="#001b2b"/>
<path d="M342.9 242.8L350.1 248.8L344.1 258.2L336.9 252.2z" fill="#007b84" stroke="#002224"/>
<path d="M250.2 254.8L257.4 263.4L251.2 272.6L244.1 263.8z" fill="#008e71" stroke="#00271f"/>
<path d="M356.1 239.4L363.4 245L357.4 254.5L350.1 248.8z" fill="#00758a" stroke="#002026"/>
<path d="M388.6 221.7L396 226.5L390.1 236.1L382.7 231.2z" fill="#005aa5" stroke="#00192e"/>
<path d="M297.2 259.7L304.3 266.9L298.2 276.3L291.1 269z" fill="#00956a" stroke="#00291d"/>
<path d="M283.9 261.4L291.1 269L284.9 278.3L277.8 270.6z" fill="#009768" stroke="#002a1d"/>
<path d="M310.4 257.6L317.6 264.5L311.5 273.8L304.3 266.9z" fill="#00916e" stroke="#00281e"/>
<path d="M270.6 262.6L277.8 270.6L271.6 279.8L264.5 271.8z" fill="#009966" stroke="#002a1c"/>
<path d="M323.6 255.1L330.8 261.6L324.8 271L317.6 264.5z" fill="#008d72" stroke="#00271f"/>
<path d="M369.4 235.5L376.7 240.8L370.7 250.3L363.4 245z" fill="#006e91" stroke="#001e28"/>
<path d="M257.4 263.4L264.5 271.8L258.3 281L251.2 272.6z" fill="#009a65" stroke="#002b1c"/>
<path d="M336.9 252.2L344.1 258.2L338.1 267.7L330.8 261.6z" fill="#008877" stroke="#002621"/>
<path d="M244.1 263.8L251.2 272.6L245 281.7L237.9 272.9z" fill="#009a65" stroke="#002b1c"/>
<path d="M350.1 248.8L357.4 254.5L351.4 264L344.1 258.2z" fill="#00827d" stroke="#002423"/>
<path d="M382.7 231.2L390.1 236.1L384.1 245.7L376.7 240.8z" fill="#006798" stroke="#001c2a"/>
<path d="M291.1 269L298.2 276.3L292.1 285.6L284.9 278.3z" fill="#00a15e" stroke="#002d1a"/>
<path d="M277.8 270.6L284.9 278.3L278.8 287.6L271.6 279.8z" fill="#00a35c" stroke="#002d19"/>
<path d="M304.3 266.9L311.5 273.8L305.4 283.3L298.2 276.3z" fill="#009e61" stroke="#002c1b"/>
<path d="M264.5 271.8L271.6 279.8L265.5 289.1L258.3 281z" fill="#00a55a" stroke="#002e19"/>
<path d="M317.6 264.5L324.8 271L318.7 280.5L311.5 273.8z" fill="#009966" stroke="#002a1c"/>
<path d="M363.4 245L370.7 250.3L364.7 259.9L357.4 254.5z" fill="#007b84" stroke="#002224"/>
<path d="M251.2 272.6L258.3 281L252.1 290.2L245 281.7z" fill="#00a659" stroke="#002e18"/>
<path d="M330.8 261.6L338.1 267.7L332 277.2L324.8 271z" fill="#00946b" stroke="#00291d"/>
<path d="M396 226.5L403.4 231L397.5 240.6L390.1 236.1z" fill="#005ea1" stroke="#001a2d"/>
<path d="M237.9 272.9L245 281.7L238.8 290.9L231.6 282.1z" fill="#00a659" stroke="#002e18"/>
<path d="M344.1 258.2L351.4 264L345.4 273.6L338.1 267.7z" fill="#008e71" stroke="#00271f"/>
<path d="M376.7 240.8L384.1 245.7L378.1 255.3L370.7 250.3z" fill="#00738c" stroke="#002027"/>
<path d="M284.9 278.3L292.1 285.6L286 295L278.8 287.6z" fill="#00ad52" stroke="#003016"/>
<path d="M298.2 276.3L305.4 283.3L299.3 292.7L292.1 285.6z" fill="#00aa55" stroke="#002f17"/>
<path d="M271.6 279.8L278.8 287.6L272.6 297L265.5 289.1z" fill="#00b04f" stroke="#003116"/>
<path d="M311.5 273.8L318.7 280.5L312.6 290L305.4 283.3z" fill="#00a659" stroke="#002e18"/>
<path d="M258.3 281L265.5 289.1L259.3 298.5L252.1 290.2z" fill="#00b14e" stroke="#003115"/>
<path d="M357.4 254.5L364.7 259.9L358.7 269.5L351.4 264z" fill="#008877" stroke="#002621"/>
<path d="M324.8 271L332 277.2L325.9 286.8L318.7 280.5z" fill="#00a15e" stroke="#002d1a"/>
<path d="M245 281.7L252.1 290.2L245.9 299.5L238.8 290.9z" fill="#00b24d" stroke="#003115"/>
<path d="M390.1 236.1L397.5 240.6L391.5 250.3L384.1 245.7z" fill="#006b94" stroke="#001d29"/>
<path d="M338.1 267.7L345.4 273.6L339.3 283.2L332 277.2z" fill="#009b64" stroke="#002b1c"/>
<path d="M370.7 250.3L378.1 255.3L372.1 265L364.7 259.9z" fill="#00807f" stroke="#002323"/>
<path d="M231.6 282.1L238.8 290.9L232.5 300.2L225.4 291.2z" fill="#00b24d" stroke="#003115"/>
<path d="M278.8 287.6L286 295L279.8 304.5L272.6 297z" fill="#00b946" stroke="#003313"/>
<path d="M292.1 285.6L299.3 292.7L293.1 302.2L286 295z" fill="#00b649" stroke="#003214"/>
<path d="M265.5 289.1L272.6 297L266.4 306.4L259.3 298.5z" fill="#00bc43" stroke="#003412"/>
<path d="M305.4 283.3L312.6 290L306.5 299.5L299.3 292.7z" fill="#00b24d" stroke="#003115"/>
<path d="M351.4 264L358.7 269.5L352.7 279.1L345.4 273.6z" fill="#00956a" stroke="#00291d"/>
<path d="M252.1 290.2L259.3 298.5L253.1 307.8L245.9 299.5z" fill="#00bd42" stroke="#003412"/>
<path d="M403.4 231L410.9 235.1L404.9 244.9L397.5 240.6z" fill="#00629d" stroke="#001b2b"/>
<path d="M318.7 280.5L325.9 286.8L319.8 296.4L312.6 290z" fill="#00ad52" stroke="#003016"/>
<path d="M384.1 245.7L391.5 250.3L385.5 260L378.1 255.3z" fill="#007887" stroke="#002125"/>
<path d="M238.8 290.9L245.9 299.5L239.7 308.8L232.5 300.2z" fill="#00be41" stroke="#003512"/>
<path d="M332 277.2L339.3 283.2L333.2 292.8L325.9 286.8z" fill="#00a857" stroke="#002f18"/>
<path d="M364.7 259.9L372.1 265L366.1 274.7L358.7 269.5z" fill="#008d72" stroke="#00271f"/>
<path d="M225.4 291.2L232.5 300.2L226.3 309.4L219.1 300.4z" fill="#00be41" stroke="#003512"/>
<path d="M272.6 297L279.8 304.5L273.6 314L266.4 306.4z" fill="#00c639" stroke="#00370f"/>
<path d="M286 295L293.1 302.2L287 311.7L279.8 304.5z" fill="#00c33c" stroke="#003610"/>
<path d="M259.3 298.5L266.4 306.4L260.2 315.8L253.1 307.8z" fill="#00c837" stroke="#00380f"/>
<path d="M345.4 273.6L352.7 279.1L346.6 288.8L339.3 283.2z" fill="#00a15e" stroke="#002d1a"/>
<path d="M299.3 292.7L306.5 299.5L300.4 309.1L293.1 302.2z" fill="#00bf40" stroke="#003511"/>
<path d="M397.5 240.6L404.9 244.9L399 254.6L391.5 250.3z" fill="#006f90" stroke="#001f28"/>
<path d="M245.9 299.5L253.1 307.8L246.8 317.2L239.7 308.8z" fill="#00c936" stroke="#00380f"/>
<path d="M378.1 255.3L385.5 260L379.5 269.8L372.1 265z" fill="#00857a" stroke="#002522"/>
<path d="M312.6 290L319.8 296.4L313.7 306L306.5 299.5z" fill="#00ba45" stroke="#003413"/>
<path d="M232.5 300.2L239.7 308.8L233.4 318.2L226.3 309.4z" fill="#00ca35" stroke="#00380e"/>
<path d="M358.7 269.5L366.1 274.7L360 284.4L352.7 279.1z" fill="#009a65" stroke="#002b1c"/>
<path d="M325.9 286.8L333.2 292.8L327.1 302.5L319.8 296.4z" fill="#00b44b" stroke="#003215"/>
<path d="M219.1 300.4L226.3 309.4L220 318.8L212.8 309.6z" fill="#00ca35" stroke="#00380e"/>
<path d="M266.4 306.4L273.6 314L267.4 323.5L260.2 315.8z" fill="#00d22d" stroke="#003a0c"/>
<path d="M410.9 235.1L418.4 239L412.5 248.8L404.9 244.9z" fill="#00659a" stroke="#001c2b"/>
<path d="M279.8 304.5L287 311.7L280.8 321.3L273.6 314z" fill="#00cf30" stroke="#00390d"/>
<path d="M391.5 250.3L399 254.6L393 264.4L385.5 260z" fill="#007c83" stroke="#002224"/>
<path d="M253.1 307.8L260.2 315.8L254 325.2L246.8 317.2z" fill="#00d42b" stroke="#003b0c"/>
<path d="M339.3 283.2L346.6 288.8L340.5 298.5L333.2 292.8z" fill="#00ae51" stroke="#003016"/>
<path d="M293.1 302.2L300.4 309.1L294.2 318.6L287 311.7z" fill="#00cb34" stroke="#00380e"/>
<path d="M239.7 308.8L246.8 317.2L240.6 326.6L233.4 318.2z" fill="#00d52a" stroke="#003b0b"/>
<path d="M372.1 265L379.5 269.8L373.4 279.6L366.1 274.7z" fill="#00926d" stroke="#00281e"/>
<path d="M306.5 299.5L313.7 306L307.6 315.6L300.4 309.1z" fill="#00c738" stroke="#00370f"/>
<path d="M226.3 309.4L233.4 318.2L227.1 327.6L220 318.8z" fill="#00d629" stroke="#003b0b"/>
<path d="M352.7 279.1L360 284.4L353.9 294.2L346.6 288.8z" fill="#00a758" stroke="#002e18"/>
<path d="M319.8 296.4L327.1 302.5L321 312.1L313.7 306z" fill="#00c13e" stroke="#003611"/>
<path d="M404.9 244.9L412.5 248.8L406.5 258.7L399 254.6z" fill="#00728d" stroke="#001f27"/>
<path d="M212.8 309.6L220 318.8L213.7 328.1L206.5 318.9z" fill="#00d52a" stroke="#003b0b"/>
<path d="M385.5 260L393 264.4L386.9 274.3L379.5 269.8z" fill="#008976" stroke="#002621"/>
<path d="M260.2 315.8L267.4 323.5L261.2 333L254 325.2z" fill="#00de21" stroke="#003e09"/>
<path d="M273.6 314L280.8 321.3L274.6 330.8L267.4 323.5z" fill="#00db24" stroke="#003d0a"/>
<path d="M333.2 292.8L340.5 298.5L334.4 308.3L327.1 302.5z" fill="#00bb44" stroke="#003413"/>
<path d="M246.8 317.2L254 325.2L247.8 334.7L240.6 326.6z" fill="#00e01f" stroke="#003e08"/>
<path d="M287 311.7L294.2 318.6L288 328.3L280.8 321.3z" fill="#00d827" stroke="#003c0a"/>
<path d="M366.1 274.7L373.4 279.6L367.4 289.4L360 284.4z" fill="#009f60" stroke="#002c1a"/>
<path d="M233.4 318.2L240.6 326.6L234.3 336.1L227.1 327.6z" fill="#00e11e" stroke="#003f08"/>
<path d="M300.4 309.1L307.6 315.6L301.4 325.3L294.2 318.6z" fill="#00d32c" stroke="#003b0c"/>
<path d="M346.6 288.8L353.9 294.2L347.9 303.9L340.5 298.5z" fill="#00b44b" stroke="#003215"/>
<path d="M220 318.8L227.1 327.6L220.8 337L213.7 328.1z" fill="#00e21d" stroke="#003f08"/>
<path d="M313.7 306L321 312.1L314.9 321.9L307.6 315.6z" fill="#00ce31" stroke="#00390d"/>
<path d="M399 254.6L406.5 258.7L400.5 268.5L393 264.4z" fill="#007f80" stroke="#002323"/>
<path d="M418.4 239L426 242.5L420 252.4L412.5 248.8z" fill="#006798" stroke="#001c2a"/>
<path d="M379.5 269.8L386.9 274.3L380.9 284.1L373.4 279.6z" fill="#009669" stroke="#002a1d"/>
<path d="M206.5 318.9L213.7 328.1L207.3 337.5L200.1 328.2z" fill="#00e11e" stroke="#003f08"/>
<path d="M327.1 302.5L334.4 308.3L328.3 318L321 312.1z" fill="#00c738" stroke="#00370f"/>
<path d="M267.4 323.5L274.6 330.8L268.4 340.5L261.2 333z" fill="#00e817" stroke="#004006"/>
<path d="M254 325.2L261.2 333L254.9 342.6L247.8 334.7z" fill="#00ea15" stroke="#004105"/>
<path d="M280.8 321.3L288 328.3L281.8 337.9L274.6 330.8z" fill="#00e41b" stroke="#003f07"/>
<path d="M240.6 326.6L247.8 334.7L241.5 344.3L234.3 336.1z" fill="#00ec13" stroke="#004205"/>
<path d="M360 284.4L367.4 289.4L361.3 299.2L353.9 294.2z" fill="#00ac53" stroke="#003017"/>
<path d="M294.2 318.6L301.4 325.3L295.3 335L288 328.3z" fill="#00e01f" stroke="#003e08"/>
<path d="M227.1 327.6L234.3 336.1L228 345.5L220.8 337z" fill="#00ee11" stroke="#004204"/>
<path d="M340.5 298.5L347.9 303.9L341.7 313.8L334.4 308.3z" fill="#00c03f" stroke="#003511"/>
<path d="M307.6 315.6L314.9 321.9L308.7 331.6L301.4 325.3z" fill="#00da25" stroke="#003d0a"/>
<path d="M213.7 328.1L220.8 337L214.5 346.4L207.3 337.5z" fill="#00ee11" stroke="#004204"/>
<path d="M393 264.4L400.5 268.5L394.4 278.4L386.9 274.3z" fill="#008c73" stroke="#002720"/>
<path d="M412.5 248.8L420 252.4L414 262.4L406.5 258.7z" fill="#00748b" stroke="#002026"/>
<path d="M373.4 279.6L380.9 284.1L374.8 294L367.4 289.4z" fill="#00a35c" stroke="#002d19"/>
<path d="M321 312.1L328.3 318L322.1 327.8L314.9 321.9z" fill="#00d42b" stroke="#003b0c"/>
<path d="M261.2 333L268.4 340.5L262.1 350.1L254.9 342.6z" fill="#00f40b" stroke="#004403"/>
<path d="M247.8 334.7L254.9 342.6L248.7 352.2L241.5 344.3z" fill="#00f708" stroke="#004502"/>
<path d="M200.1 328.2L207.3 337.5L201 346.9L193.8 337.5z" fill="#00ed12" stroke="#004205"/>
<path d="M353.9 294.2L361.3 299.2L355.2 309.1L347.9 303.9z" fill="#00b847" stroke="#003313"/>
<path d="M274.6 330.8L281.8 337.9L275.6 347.6L268.4 340.5z" fill="#00f10e" stroke="#004303"/>
<path d="M234.3 336.1L241.5 344.3L235.2 353.8L228 345.5z" fill="#00f906" stroke="#004501"/>
<path d="M288 328.3L295.3 335L289.1 344.7L281.8 337.9z" fill="#00ec13" stroke="#004205"/>
<path d="M220.8 337L228 345.5L221.7 355.1L214.5 346.4z" fill="#00fa05" stroke="#004601"/>
<path d="M334.4 308.3L341.7 313.8L335.6 323.6L328.3 318z" fill="#00cd32" stroke="#00390e"/>
<path d="M301.4 325.3L308.7 331.6L302.5 341.4L295.3 335z" fill="#00e718" stroke="#004006"/>
<path d="M406.5 258.7L414 262.4L408 272.3L400.5 268.5z" fill="#00817e" stroke="#002423"/>
<path d="M386.9 274.3L394.4 278.4L388.4 288.4L380.9 284.1z" fill="#009966" stroke="#002a1c"/>
<path d="M207.3 337.5L214.5 346.4L208.2 355.9L201 346.9z" fill="#00fa05" stroke="#004601"/>
<path d="M426 242.5L433.7 245.7L427.7 255.7L420 252.4z" fill="#006996" stroke="#001d2a"/>
<path d="M367.4 289.4L374.8 294L368.8 303.9L361.3 299.2z" fill="#00b04f" stroke="#003116"/>
<path d="M314.9 321.9L322.1 327.8L316 337.7L308.7 331.6z" fill="#00e11e" stroke="#003f08"/>
<path d="M254.9 342.6L262.1 350.1L255.9 359.8L248.7 352.2z" fill="#01ff00" stroke="#004700"/>
<path d="M347.9 303.9L355.2 309.1L349.1 319L341.7 313.8z" fill="#00c53a" stroke="#003710"/>
<path d="M241.5 344.3L248.7 352.2L242.4 361.8L235.2 353.8z" fill="#04ff00" stroke="#014700"/>
<path d="M268.4 340.5L275.6 347.6L269.4 357.3L262.1 350.1z" fill="#00fd02" stroke="#004600"/>
<path d="M193.8 337.5L201 346.9L194.6 356.3L187.4 346.9z" fill="#00f906" stroke="#004501"/>
<path d="M228 345.5L235.2 353.8L228.9 363.4L221.7 355.1z" fill="#06ff00" stroke="#014700"/>
<path d="M281.8 337.9L289.1 344.7L282.8 354.5L275.6 347.6z" fill="#00f906" stroke="#004501"/>
<path d="M328.3 318L335.6 323.6L329.5 333.5L322.1 327.8z" fill="#00da25" stroke="#003d0a"/>
<path d="M214.5 346.4L221.7 355.1L215.4 364.6L208.2 355.9z" fill="#07ff00" stroke="#014700"/>
<path d="M295.3 335L302.5 341.4L296.3 351.2L289.1 344.7z" fill="#00f40b" stroke="#004403"/>
<path d="M400.5 268.5L408 272.3L402 282.3L394.4 278.4z" fill="#008f70" stroke="#00281f"/>
<path d="M380.9 284.1L388.4 288.4L382.3 298.4L374.8 294z" fill="#00a659" stroke="#002e18"/>
<path d="M420 252.4L427.7 255.7L421.7 265.7L414 262.4z" fill="#007689" stroke="#002126"/>
<path d="M361.3 299.2L368.8 303.9L362.7 313.9L355.2 309.1z" fill="#00bd42" stroke="#003412"/>
<path d="M201 346.9L208.2 355.9L201.8 365.4L194.6 356.3z" fill="#07ff00" stroke="#014700"/>
<path d="M308.7 331.6L316 337.7L309.8 347.5L302.5 341.4z" fill="#00ee11" stroke="#004204"/>
<path d="M341.7 313.8L349.1 319L343 328.9L335.6 323.6z" fill="#00d22d" stroke="#003a0c"/>
<path d="M248.7 352.2L255.9 359.8L249.6 369.5L242.4 361.8z" fill="#0eff00" stroke="#034700"/>
<path d="M235.2 353.8L242.4 361.8L236.1 371.5L228.9 363.4z" fill="#10ff00" stroke="#044700"/>
<path d="M262.1 350.1L269.4 357.3L263.1 367.1L255.9 359.8z" fill="#0aff00" stroke="#024700"/>
<path d="M187.4 346.9L194.6 356.3L188.2 365.8L181 356.3z" fill="#06ff00" stroke="#014700"/>
<path d="M221.7 355.1L228.9 363.4L222.6 373L215.4 364.6z" fill="#12ff00" stroke="#054700"/>
<path d="M275.6 347.6L282.8 354.5L276.6 364.3L269.4 357.3z" fill="#06ff00" stroke="#014700"/>
<path d="M322.1 327.8L329.5 333.5L323.3 343.4L316 337.7z" fill="#00e718" stroke="#004006"/>
<path d="M208.2 355.9L215.4 364.6L209 374.2L201.8 365.4z" fill="#13ff00" stroke="#054700"/>
<path d="M394.4 278.4L402 282.3L395.9 292.3L388.4 288.4z" fill="#009c63" stroke="#002b1b"/>
<path d="M289.1 344.7L296.3 351.2L290.1 361.1L282.8 354.5z" fill="#01ff00" stroke="#004700"/>
<path d="M374.8 294L382.3 298.4L376.2 308.4L368.8 303.9z" fill="#00b34c" stroke="#003215"/>
<path d="M414 262.4L421.7 265.7L415.6 275.8L408 272.3z" fill="#00837c" stroke="#002422"/>
<path d="M355.2 309.1L362.7 313.9L356.5 323.9L349.1 319z" fill="#00ca35" stroke="#00380e"/>
<path d="M433.7 245.7L441.4 248.6L435.4 258.7L427.7 255.7z" fill="#006a95" stroke="#001d29"/>
<path d="M194.6 356.3L201.8 365.4L195.4 374.9L188.2 365.8z" fill="#13ff00" stroke="#054700"/>
<path d="M302.5 341.4L309.8 347.5L303.6 357.4L296.3 351.2z" fill="#00fa05" stroke="#004601"/>
<path d="M335.6 323.6L343 328.9L336.8 338.8L329.5 333.5z" fill="#00df20" stroke="#003e08"/>
<path d="M242.4 361.8L249.6 369.5L243.3 379.2L236.1 371.5z" fill="#1aff00" stroke="#074700"/>
<path d="M255.9 359.8L263.1 367.1L256.8 376.9L249.6 369.5z" fill="#17ff00" stroke="#064700"/>
<path d="M228.9 363.4L236.1 371.5L229.8 381.2L222.6 373z" fill="#1dff00" stroke="#084700"/>
<path d="M269.4 357.3L276.6 364.3L270.3 374.1L263.1 367.1z" fill="#13ff00" stroke="#054700"/>
<path d="M181 356.3L188.2 365.8L181.8 375.3L174.6 365.7z" fill="#12ff00" stroke="#054700"/>
<path d="M215.4 364.6L222.6 373L216.2 382.7L209 374.2z" fill="#1eff00" stroke="#084700"/>
<path d="M316 337.7L323.3 343.4L317.1 353.3L309.8 347.5z" fill="#00f40b" stroke="#004403"/>
<path d="M388.4 288.4L395.9 292.3L389.8 302.4L382.3 298.4z" fill="#00a956" stroke="#002f18"/>
<path d="M368.8 303.9L376.2 308.4L370.1 318.4L362.7 313.9z" fill="#00c03f" stroke="#003511"/>
<path d="M408 272.3L415.6 275.8L409.6 285.9L402 282.3z" fill="#00906f" stroke="#00281f"/>
<path d="M282.8 354.5L290.1 361.1L283.9 370.9L276.6 364.3z" fill="#0eff00" stroke="#034700"/>
<path d="M201.8 365.4L209 374.2L202.6 383.8L195.4 374.9z" fill="#1fff00" stroke="#084700"/>
<path d="M349.1 319L356.5 323.9L350.4 333.9L343 328.9z" fill="#00d728" stroke="#003c0b"/>
<path d="M427.7 255.7L435.4 258.7L429.4 268.8L421.7 265.7z" fill="#007788" stroke="#002126"/>
<path d="M296.3 351.2L303.6 357.4L297.4 367.3L290.1 361.1z" fill="#08ff00" stroke="#024700"/>
<path d="M329.5 333.5L336.8 338.8L330.7 348.8L323.3 343.4z" fill="#00ec13" stroke="#004205"/>
<path d="M188.2 365.8L195.4 374.9L189 384.5L181.8 375.3z" fill="#1fff00" stroke="#084700"/>
<path d="M236.1 371.5L243.3 379.2L237 389L229.8 381.2z" fill="#26ff00" stroke="#0a4700"/>
<path d="M249.6 369.5L256.8 376.9L250.5 386.7L243.3 379.2z" fill="#23ff00" stroke="#094700"/>
<path d="M222.6 373L229.8 381.2L223.4 390.9L216.2 382.7z" fill="#29ff00" stroke="#0b4700"/>
<path d="M263.1 367.1L270.3 374.1L264.1 384L256.8 376.9z" fill="#1fff00" stroke="#084700"/>
<path d="M309.8 347.5L317.1 353.3L310.9 363.3L303.6 357.4z" fill="#02ff00" stroke="#004700"/>
<path d="M209 374.2L216.2 382.7L209.8 392.4L202.6 383.8z" fill="#2aff00" stroke="#0b4700"/>
<path d="M382.3 298.4L389.8 302.4L383.8 312.5L376.2 308.4z" fill="#00b649" stroke="#003214"/>
<path d="M174.6 365.7L181.8 375.3L175.3 384.8L168.1 375.2z" fill="#1eff00" stroke="#084700"/>
<path d="M362.7 313.9L370.1 318.4L364 328.5L356.5 323.9z" fill="#00cd32" stroke="#00390e"/>
<path d="M402 282.3L409.6 285.9L403.5 296L395.9 292.3z" fill="#009e61" stroke="#002c1b"/>
<path d="M276.6 364.3L283.9 370.9L277.6 380.8L270.3 374.1z" fill="#1bff00" stroke="#074700"/>
<path d="M343 328.9L350.4 333.9L344.2 343.9L336.8 338.8z" fill="#00e41b" stroke="#003f07"/>
<path d="M195.4 374.9L202.6 383.8L196.2 393.5L189 384.5z" fill="#2bff00" stroke="#0c4700"/>
<path d="M421.7 265.7L429.4 268.8L423.3 279L415.6 275.8z" fill="#00847b" stroke="#002422"/>
<path d="M290.1 361.1L297.4 367.3L291.1 377.3L283.9 370.9z" fill="#15ff00" stroke="#054700"/>
<path d="M323.3 343.4L330.7 348.8L324.5 358.9L317.1 353.3z" fill="#00f906" stroke="#004501"/>
<path d="M441.4 248.6L449.2 251.2L443.1 261.4L435.4 258.7z" fill="#006a95" stroke="#001d29"/>
<path d="M181.8 375.3L189 384.5L182.6 394.1L175.3 384.8z" fill="#2bff00" stroke="#0c4700"/>
<path d="M229.8 381.2L237 389L230.6 398.8L223.4 390.9z" fill="#33ff00" stroke="#0e4700"/>
<path d="M243.3 379.2L250.5 386.7L244.2 396.6L237 389z" fill="#30ff00" stroke="#0d4700"/>
<path d="M216.2 382.7L223.4 390.9L217 400.7L209.8 392.4z" fill="#35ff00" stroke="#0e4700"/>
<path d="M376.2 308.4L383.8 312.5L377.6 322.6L370.1 318.4z" fill="#00c33c" stroke="#003610"/>
<path d="M256.8 376.9L264.1 384L257.8 393.9L250.5 386.7z" fill="#2cff00" stroke="#0c4700"/>
<path d="M303.6 357.4L310.9 363.3L304.7 373.3L297.4 367.3z" fill="#0eff00" stroke="#034700"/>
<path d="M356.5 323.9L364 328.5L357.9 338.6L350.4 333.9z" fill="#00db24" stroke="#003d0a"/>
<path d="M395.9 292.3L403.5 296L397.4 306.1L389.8 302.4z" fill="#00ab54" stroke="#002f17"/>
<path d="M202.6 383.8L209.8 392.4L203.4 402.1L196.2 393.5z" fill="#36ff00" stroke="#0f4700"/>
<path d="M168.1 375.2L175.3 384.8L168.9 394.4L161.6 384.7z" fill="#2aff00" stroke="#0b4700"/>
<path d="M270.3 374.1L277.6 380.8L271.3 390.8L264.1 384z" fill="#27ff00" stroke="#0a4700"/>
<path d="M336.8 338.8L344.2 343.9L338.1 354L330.7 348.8z" fill="#00f10e" stroke="#004303"/>
<path d="M415.6 275.8L423.3 279L417.3 289.1L409.6 285.9z" fill="#00926d" stroke="#00281e"/>
<path d="M189 384.5L196.2 393.5L189.8 403.1L182.6 394.1z" fill="#37ff00" stroke="#0f4700"/>
<path d="M317.1 353.3L324.5 358.9L318.3 368.9L310.9 363.3z" fill="#07ff00" stroke="#014700"/>
<path d="M283.9 370.9L291.1 377.3L284.9 387.3L277.6 380.8z" fill="#22ff00" stroke="#094700"/>
<path d="M435.4 258.7L443.1 261.4L437.1 271.6L429.4 268.8z" fill="#007788" stroke="#002126"/>
<path d="M175.3 384.8L182.6 394.1L176.1 403.8L168.9 394.4z" fill="#37ff00" stroke="#0f4700"/>
<path d="M223.4 390.9L230.6 398.8L224.3 408.7L217 400.7z" fill="#3fff00" stroke="#114700"/>
<path d="M237 389L244.2 396.6L237.8 406.4L230.6 398.8z" fill="#3cff00" stroke="#104700"/>
<path d="M370.1 318.4L377.6 322.6L371.5 332.8L364 328.5z" fill="#00d12e" stroke="#003a0c"/>
<path d="M209.8 392.4L217 400.7L210.6 410.5L203.4 402.1z" fill="#41ff00" stroke="#124700"/>
<path d="M389.8 302.4L397.4 306.1L391.3 316.3L383.8 312.5z" fill="#00b847" stroke="#003313"/>
<path d="M297.4 367.3L304.7 373.3L298.5 383.4L291.1 377.3z" fill="#1bff00" stroke="#074700"/>
<path d="M350.4 333.9L357.9 338.6L351.7 348.7L344.2 343.9z" fill="#00e817" stroke="#004006"/>
<path d="M250.5 386.7L257.8 393.9L251.4 403.8L244.2 396.6z" fill="#38ff00" stroke="#0f4700"/>
<path d="M409.6 285.9L417.3 289.1L411.2 299.3L403.5 296z" fill="#009f60" stroke="#002c1a"/>
<path d="M196.2 393.5L203.4 402.1L197 411.9L189.8 403.1z" fill="#43ff00" stroke="#124700"/>
<path d="M330.7 348.8L338.1 354L331.9 364.1L324.5 358.9z" fill="#00fe01" stroke="#004700"/>
<path d="M264.1 384L271.3 390.8L265 400.8L257.8 393.9z" fill="#34ff00" stroke="#0e4700"/>
<path d="M161.6 384.7L168.9 394.4L162.4 404L155.1 394.2z" fill="#36ff00" stroke="#0f4700"/>
<path d="M429.4 268.8L437.1 271.6L431.1 281.8L423.3 279z" fill="#00857a" stroke="#002522"/>
<path d="M182.6 394.1L189.8 403.1L183.3 412.9L176.1 403.8z" fill="#43ff00" stroke="#124700"/>
<path d="M310.9 363.3L318.3 368.9L312 379L304.7 373.3z" fill="#14ff00" stroke="#054700"/>
<path d="M277.6 380.8L284.9 387.3L278.6 397.3L271.3 390.8z" fill="#2eff00" stroke="#0c4700"/>
<path d="M364 328.5L371.5 332.8L365.4 342.9L357.9 338.6z" fill="#00de21" stroke="#003e09"/>
<path d="M168.9 394.4L176.1 403.8L169.6 413.4L162.4 404z" fill="#43ff00" stroke="#124700"/>
<path d="M449.2 251.2L457 253.5L451 263.7L443.1 261.4z" fill="#006a95" stroke="#001d29"/>
<path d="M383.8 312.5L391.3 316.3L385.2 326.5L377.6 322.6z" fill="#00c639" stroke="#00370f"/>
<path d="M230.6 398.8L237.8 406.4L231.5 416.4L224.3 408.7z" fill="#49ff00" stroke="#144700"/>
<path d="M217 400.7L224.3 408.7L217.9 418.5L210.6 410.5z" fill="#4cff00" stroke="#154700"/>
<path d="M344.2 343.9L351.7 348.7L345.5 358.8L338.1 354z" fill="#00f50a" stroke="#004402"/>
<path d="M291.1 377.3L298.5 383.4L292.2 393.4L284.9 387.3z" fill="#28ff00" stroke="#0b4700"/>
<path d="M244.2 396.6L251.4 403.8L245.1 413.8L237.8 406.4z" fill="#45ff00" stroke="#134700"/>
<path d="M203.4 402.1L210.6 410.5L204.2 420.3L197 411.9z" fill="#4eff00" stroke="#154700"/>
<path d="M403.5 296L411.2 299.3L405.1 309.6L397.4 306.1z" fill="#00ad52" stroke="#003016"/>
<path d="M324.5 358.9L331.9 364.1L325.7 374.2L318.3 368.9z" fill="#0cff00" stroke="#034700"/>
<path d="M257.8 393.9L265 400.8L258.7 410.8L251.4 403.8z" fill="#40ff00" stroke="#114700"/>
<path d="M189.8 403.1L197 411.9L190.5 421.7L183.3 412.9z" fill="#4fff00" stroke="#164700"/>
<path d="M155.1 394.2L162.4 404L155.8 413.6L148.6 403.8z" fill="#41ff00" stroke="#124700"/>
<path d="M423.3 279L431.1 281.8L425 292.1L417.3 289.1z" fill="#00926d" stroke="#00281e"/>
<path d="M304.7 373.3L312 379L305.8 389.1L298.5 383.4z" fill="#21ff00" stroke="#094700"/>
<path d="M271.3 390.8L278.6 397.3L272.3 407.4L265 400.8z" fill="#3bff00" stroke="#104700"/>
<path d="M176.1 403.8L183.3 412.9L176.8 422.6L169.6 413.4z" fill="#4fff00" stroke="#164700"/>
<path d="M443.1 261.4L451 263.7L444.9 274L437.1 271.6z" fill="#007788" stroke="#002126"/>
<path d="M357.9 338.6L365.4 342.9L359.2 353.2L351.7 348.7z" fill="#00eb14" stroke="#004105"/>
<path d="M377.6 322.6L385.2 326.5L379.1 336.8L371.5 332.8z" fill="#00d32c" stroke="#003b0c"/>
<path d="M338.1 354L345.5 358.8L339.3 369L331.9 364.1z" fill="#03ff00" stroke="#004700"/>
<path d="M284.9 387.3L292.2 393.4L285.9 403.5L278.6 397.3z" fill="#35ff00" stroke="#0e4700"/>
<path d="M162.4 404L169.6 413.4L163.1 423.2L155.8 413.6z" fill="#4fff00" stroke="#164700"/>
<path d="M224.3 408.7L231.5 416.4L225.1 426.3L217.9 418.5z" fill="#55ff00" stroke="#174700"/>
<path d="M210.6 410.5L217.9 418.5L211.4 428.4L204.2 420.3z" fill="#58ff00" stroke="#184700"/>
<path d="M397.4 306.1L405.1 309.6L399 319.8L391.3 316.3z" fill="#00ba45" stroke="#003413"/>
<path d="M237.8 406.4L245.1 413.8L238.7 423.8L231.5 416.4z" fill="#52ff00" stroke="#164700"/>
<path d="M197 411.9L204.2 420.3L197.8 430.2L190.5 421.7z" fill="#5aff00" stroke="#194700"/>
<path d="M318.3 368.9L325.7 374.2L319.4 384.4L312 379z" fill="#19ff00" stroke="#074700"/>
<path d="M251.4 403.8L258.7 410.8L252.3 420.8L245.1 413.8z" fill="#4dff00" stroke="#154700"/>
<path d="M417.3 289.1L425 292.1L418.9 302.4L411.2 299.3z" fill="#00a05f" stroke="#002c1a"/>
<path d="M183.3 412.9L190.5 421.7L184.1 431.5L176.8 422.6z" fill="#5bff00" stroke="#194700"/>
<path d="M298.5 383.4L305.8 389.1L299.5 399.3L292.2 393.4z" fill="#2eff00" stroke="#0c4700"/>
<path d="M148.6 403.8L155.8 413.6L149.3 423.3L142 413.4z" fill="#4dff00" stroke="#154700"/>
<path d="M265 400.8L272.3 407.4L266 417.4L258.7 410.8z" fill="#48ff00" stroke="#144700"/>
<path d="M169.6 413.4L176.8 422.6L170.3 432.4L163.1 423.2z" fill="#5bff00" stroke="#194700"/>
<path d="M437.1 271.6L444.9 274L438.9 284.4L431.1 281.8z" fill="#00857a" stroke="#002522"/>
<path d="M351.7 348.7L359.2 353.2L353 363.4L345.5 358.8z" fill="#00f807" stroke="#004501"/>
<path d="M371.5 332.8L379.1 336.8L372.9 347L365.4 342.9z" fill="#00e01f" stroke="#003e08"/>
<path d="M331.9 364.1L339.3 369L333.1 379.3L325.7 374.2z" fill="#10ff00" stroke="#044700"/>
<path d="M391.3 316.3L399 319.8L392.8 330.1L385.2 326.5z" fill="#00c738" stroke="#00370f"/>
<path d="M278.6 397.3L285.9 403.5L279.6 413.7L272.3 407.4z" fill="#42ff00" stroke="#124700"/>
<path d="M217.9 418.5L225.1 426.3L218.7 436.3L211.4 428.4z" fill="#62ff00" stroke="#1b4700"/>
<path d="M204.2 420.3L211.4 428.4L205 438.4L197.8 430.2z" fill="#64ff00" stroke="#1c4700"/>
<path d="M155.8 413.6L163.1 423.2L156.6 432.9L149.3 423.3z" fill="#5bff00" stroke="#194700"/>
<path d="M231.5 416.4L238.7 423.8L232.3 433.8L225.1 426.3z" fill="#5eff00" stroke="#1a4700"/>
<path d="M312 379L319.4 384.4L313.2 394.6L305.8 389.1z" fill="#26ff00" stroke="#0a4700"/>
<path d="M190.5 421.7L197.8 430.2L191.3 440.1L184.1 431.5z" fill="#66ff00" stroke="#1c4700"/>
<path d="M411.2 299.3L418.9 302.4L412.8 312.7L405.1 309.6z" fill="#00ad52" stroke="#003016"/>
<path d="M457 253.5L464.9 255.4L458.9 265.8L451 263.7z" fill="#006996" stroke="#001d2a"/>
<path d="M245.1 413.8L252.3 420.8L246 430.9L238.7 423.8z" fill="#5aff00" stroke="#194700"/>
<path d="M176.8 422.6L184.1 431.5L177.6 441.4L170.3 432.4z" fill="#67ff00" stroke="#1c4700"/>
<path d="M292.2 393.4L299.5 399.3L293.2 409.5L285.9 403.5z" fill="#3bff00" stroke="#104700"/>
<path d="M258.7 410.8L266 417.4L259.6 427.6L252.3 420.8z" fill="#55ff00" stroke="#174700"/>
<path d="M142 413.4L149.3 423.3L142.7 433L135.5 423z" fill="#59ff00" stroke="#184700"/>
<path d="M431.1 281.8L438.9 284.4L432.8 294.7L425 292.1z" fill="#00926d" stroke="#00281e"/>
<path d="M345.5 358.8L353 363.4L346.8 373.7L339.3 369z" fill="#06ff00" stroke="#014700"/>
<path d="M365.4 342.9L372.9 347L366.7 357.3L359.2 353.2z" fill="#00ee11" stroke="#004204"/>
<path d="M163.1 423.2L170.3 432.4L163.8 442.2L156.6 432.9z" fill="#67ff00" stroke="#1c4700"/>
<path d="M325.7 374.2L333.1 379.3L326.9 389.5L319.4 384.4z" fill="#1dff00" stroke="#084700"/>
<path d="M385.2 326.5L392.8 330.1L386.7 340.4L379.1 336.8z" fill="#00d52a" stroke="#003b0b"/>
<path d="M272.3 407.4L279.6 413.7L273.3 423.8L266 417.4z" fill="#4eff00" stroke="#154700"/>
<path d="M211.4 428.4L218.7 436.3L212.3 446.3L205 438.4z" fill="#6eff00" stroke="#1e4700"/>
<path d="M305.8 389.1L313.2 394.6L306.9 404.8L299.5 399.3z" fill="#33ff00" stroke="#0e4700"/>
<path d="M197.8 430.2L205 438.4L198.6 448.4L191.3 440.1z" fill="#71ff00" stroke="#1f4700"/>
<path d="M405.1 309.6L412.8 312.7L406.7 323L399 319.8z" fill="#00bb44" stroke="#003413"/>
<path d="M225.1 426.3L232.3 433.8L225.9 443.9L218.7 436.3z" fill="#6bff00" stroke="#1d4700"/>
<path d="M451 263.7L458.9 265.8L452.8 276.2L444.9 274z" fill="#007689" stroke="#002126"/>
<path d="M149.3 423.3L156.6 432.9L150 442.7L142.7 433z" fill="#67ff00" stroke="#1c4700"/>
<path d="M184.1 431.5L191.3 440.1L184.8 450L177.6 441.4z" fill="#72ff00" stroke="#1f4700"/>
<path d="M238.7 423.8L246 430.9L239.6 441L232.3 433.8z" fill="#66ff00" stroke="#1c4700"/>
<path d="M285.9 403.5L293.2 409.5L286.9 419.7L279.6 413.7z" fill="#48ff00" stroke="#144700"/>
<path d="M170.3 432.4L177.6 441.4L171.1 451.3L163.8 442.2z" fill="#73ff00" stroke="#204700"/>
<path d="M425 292.1L432.8 294.7L426.7 305.1L418.9 302.4z" fill="#00a05f" stroke="#002c1a"/>
<path d="M252.3 420.8L259.6 427.6L253.3 437.7L246 430.9z" fill="#61ff00" stroke="#1b4700"/>
<path d="M359.2 353.2L366.7 357.3L360.5 367.7L353 363.4z" fill="#00fb04" stroke="#004601"/>
<path d="M339.3 369L346.8 373.7L340.6 384L333.1 379.3z" fill="#14ff00" stroke="#054700"/>
<path d="M135.5 423L142.7 433L136.2 442.8L128.9 432.7z" fill="#65ff00" stroke="#1c4700"/>
<path d="M379.1 336.8L386.7 340.4L380.5 350.8L372.9 347z" fill="#00e21d" stroke="#003f08"/>
<path d="M319.4 384.4L326.9 389.5L320.6 399.8L313.2 394.6z" fill="#2aff00" stroke="#0b4700"/>
<path d="M156.6 432.9L163.8 442.2L157.3 452.1L150 442.7z" fill="#73ff00" stroke="#204700"/>
<path d="M266 417.4L273.3 423.8L266.9 434L259.6 427.6z" fill="#5bff00" stroke="#194700"/>
<path d="M444.9 274L452.8 276.2L446.8 286.6L438.9 284.4z" fill="#00847b" stroke="#002422"/>
<path d="M399 319.8L406.7 323L400.5 333.4L392.8 330.1z" fill="#00c837" stroke="#00380f"/>
<path d="M299.5 399.3L306.9 404.8L300.6 415.1L293.2 409.5z" fill="#40ff00" stroke="#114700"/>
<path d="M205 438.4L212.3 446.3L205.8 456.4L198.6 448.4z" fill="#7aff00" stroke="#224700"/>
<path d="M191.3 440.1L198.6 448.4L192.1 458.4L184.8 450z" fill="#7dff00" stroke="#234700"/>
<path d="M218.7 436.3L225.9 443.9L219.5 454L212.3 446.3z" fill="#77ff00" stroke="#214700"/>
<path d="M142.7 433L150 442.7L143.4 452.5L136.2 442.8z" fill="#73ff00" stroke="#204700"/>
<path d="M177.6 441.4L184.8 450L178.3 460L171.1 451.3z" fill="#7fff00" stroke="#234700"/>
<path d="M232.3 433.8L239.6 441L233.2 451.1L225.9 443.9z" fill="#73ff00" stroke="#204700"/>
<path d="M418.9 302.4L426.7 305.1L420.6 315.5L412.8 312.7z" fill="#00ae51" stroke="#003016"/>
<path d="M279.6 413.7L286.9 419.7L280.6 429.9L273.3 423.8z" fill="#55ff00" stroke="#174700"/>
<path d="M163.8 442.2L171.1 451.3L164.5 461.2L157.3 452.1z" fill="#7fff00" stroke="#234700"/>
<path d="M246 430.9L253.3 437.7L246.9 447.9L239.6 441z" fill="#6eff00" stroke="#1e4700"/>
<path d="M353 363.4L360.5 367.7L354.3 378L346.8 373.7z" fill="#09ff00" stroke="#024700"/>
<path d="M333.1 379.3L340.6 384L334.3 394.3L326.9 389.5z" fill="#21ff00" stroke="#094700"/>
<path d="M464.9 255.4L473 257.1L466.9 267.5L458.9 265.8z" fill="#006798" stroke="#001c2a"/>
<path d="M372.9 347L380.5 350.8L374.3 361.2L366.7 357.3z" fill="#00f00f" stroke="#004304"/>
<path d="M313.2 394.6L320.6 399.8L314.3 410.1L306.9 404.8z" fill="#37ff00" stroke="#0f4700"/>
<path d="M150 442.7L157.3 452.1L150.7 462L143.4 452.5z" fill="#7fff00" stroke="#234700"/>
<path d="M438.9 284.4L446.8 286.6L440.7 297L432.8 294.7z" fill="#00926d" stroke="#00281e"/>
<path d="M392.8 330.1L400.5 333.4L394.4 343.8L386.7 340.4z" fill="#00d629" stroke="#003b0b"/>
<path d="M259.6 427.6L266.9 434L260.6 444.3L253.3 437.7z" fill="#68ff00" stroke="#1d4700"/>
<path d="M293.2 409.5L300.6 415.1L294.3 425.4L286.9 419.7z" fill="#4dff00" stroke="#154700"/>
<path d="M198.6 448.4L205.8 456.4L199.3 466.5L192.1 458.4z" fill="#87ff00" stroke="#254700"/>
<path d="M212.3 446.3L219.5 454L213.1 464.1L205.8 456.4z" fill="#84ff00" stroke="#244700"/>
<path d="M184.8 450L192.1 458.4L185.6 468.4L178.3 460z" fill="#89ff00" stroke="#264700"/>
<path d="M412.8 312.7L420.6 315.5L414.4 325.9L406.7 323z" fill="#00bb44" stroke="#003413"/>
<path d="M225.9 443.9L233.2 451.1L226.8 461.3L219.5 454z" fill="#80ff00" stroke="#234700"/>
<path d="M171.1 451.3L178.3 460L171.8 470L164.5 461.2z" fill="#8bff00" stroke="#264700"/>
<path d="M273.3 423.8L280.6 429.9L274.3 440.2L266.9 434z" fill="#61ff00" stroke="#1b4700"/>
<path d="M346.8 373.7L354.3 378L348.1 388.4L340.6 384z" fill="#16ff00" stroke="#064700"/>
<path d="M458.9 265.8L466.9 267.5L460.8 278L452.8 276.2z" fill="#00758a" stroke="#002026"/>
<path d="M326.9 389.5L334.3 394.3L328.1 404.7L320.6 399.8z" fill="#2eff00" stroke="#0c4700"/>
<path d="M239.6 441L246.9 447.9L240.5 458.1L233.2 451.1z" fill="#7bff00" stroke="#224700"/>
<path d="M157.3 452.1L164.5 461.2L158 471.2L150.7 462z" fill="#8cff00" stroke="#274700"/>
<path d="M366.7 357.3L374.3 361.2L368.1 371.6L360.5 367.7z" fill="#00fd02" stroke="#004600"/>
<path d="M306.9 404.8L314.3 410.1L308 420.5L300.6 415.1z" fill="#44ff00" stroke="#134700"/>
<path d="M432.8 294.7L440.7 297L434.6 307.5L426.7 305.1z" fill="#009f60" stroke="#002c1a"/>
<path d="M386.7 340.4L394.4 343.8L388.2 354.3L380.5 350.8z" fill="#00e31c" stroke="#003f07"/>
<path d="M253.3 437.7L260.6 444.3L254.2 454.5L246.9 447.9z" fill="#75ff00" stroke="#204700"/>
<path d="M286.9 419.7L294.3 425.4L288 435.7L280.6 429.9z" fill="#5aff00" stroke="#194700"/>
<path d="M192.1 458.4L199.3 466.5L192.8 476.6L185.6 468.4z" fill="#93ff00" stroke="#294700"/>
<path d="M406.7 323L414.4 325.9L408.3 336.4L400.5 333.4z" fill="#00c936" stroke="#00380f"/>
<path d="M205.8 456.4L213.1 464.1L206.6 474.3L199.3 466.5z" fill="#90ff00" stroke="#284700"/>
<path d="M178.3 460L185.6 468.4L179 478.5L171.8 470z" fill="#96ff00" stroke="#2a4700"/>
<path d="M219.5 454L226.8 461.3L220.3 471.5L213.1 464.1z" fill="#8cff00" stroke="#274700"/>
<path d="M266.9 434L274.3 440.2L267.9 450.5L260.6 444.3z" fill="#6eff00" stroke="#1e4700"/>
<path d="M452.8 276.2L460.8 278L454.7 288.5L446.8 286.6z" fill="#00837c" stroke="#002422"/>
<path d="M164.5 461.2L171.8 470L165.2 480L158 471.2z" fill="#97ff00" stroke="#2a4700"/>
<path d="M340.6 384L348.1 388.4L341.8 398.8L334.3 394.3z" fill="#24ff00" stroke="#0a4700"/>
<path d="M320.6 399.8L328.1 404.7L321.8 415.1L314.3 410.1z" fill="#3bff00" stroke="#104700"/>
<path d="M360.5 367.7L368.1 371.6L361.9 382.1L354.3 378z" fill="#0bff00" stroke="#034700"/>
<path d="M233.2 451.1L240.5 458.1L234 468.4L226.8 461.3z" fill="#87ff00" stroke="#254700"/>
<path d="M300.6 415.1L308 420.5L301.7 430.8L294.3 425.4z" fill="#52ff00" stroke="#164700"/>
<path d="M426.7 305.1L434.6 307.5L428.4 318L420.6 315.5z" fill="#00ad52" stroke="#003016"/>
<path d="M380.5 350.8L388.2 354.3L382 364.8L374.3 361.2z" fill="#00f10e" stroke="#004303"/>
<path d="M246.9 447.9L254.2 454.5L247.8 464.8L240.5 458.1z" fill="#82ff00" stroke="#244700"/>
<path d="M280.6 429.9L288 435.7L281.6 446.1L274.3 440.2z" fill="#67ff00" stroke="#1c4700"/>
<path d="M400.5 333.4L408.3 336.4L402.1 346.9L394.4 343.8z" fill="#00d629" stroke="#003b0b"/>
<path d="M473 257.1L481.1 258.3L475 268.9L466.9 267.5z" fill="#00659a" stroke="#001c2b"/>
<path d="M185.6 468.4L192.8 476.6L186.3 486.7L179 478.5z" fill="#a0ff00" stroke="#2c4700"/>
<path d="M199.3 466.5L206.6 474.3L200.1 484.5L192.8 476.6z" fill="#9dff00" stroke="#2b4700"/>
<path d="M446.8 286.6L454.7 288.5L448.6 299L440.7 297z" fill="#00906f" stroke="#00281f"/>
<path d="M171.8 470L179 478.5L172.5 488.6L165.2 480z" fill="#a2ff00" stroke="#2d4700"/>
<path d="M213.1 464.1L220.3 471.5L213.8 481.8L206.6 474.3z" fill="#99ff00" stroke="#2a4700"/>
<path d="M260.6 444.3L267.9 450.5L261.5 460.9L254.2 454.5z" fill="#7bff00" stroke="#224700"/>
<path d="M334.3 394.3L341.8 398.8L335.6 409.3L328.1 404.7z" fill="#31ff00" stroke="#0d4700"/>
<path d="M314.3 410.1L321.8 415.1L315.5 425.5L308 420.5z" fill="#48ff00" stroke="#144700"/>
<path d="M354.3 378L361.9 382.1L355.7 392.5L348.1 388.4z" fill="#19ff00" stroke="#074700"/>
<path d="M420.6 315.5L428.4 318L422.3 328.5L414.4 325.9z" fill="#00bb44" stroke="#003413"/>
<path d="M226.8 461.3L234 468.4L227.6 478.7L220.3 471.5z" fill="#94ff00" stroke="#294700"/>
<path d="M294.3 425.4L301.7 430.8L295.4 441.3L288 435.7z" fill="#5fff00" stroke="#1a4700"/>
<path d="M374.3 361.2L382 364.8L375.8 375.3L368.1 371.6z" fill="#00fe01" stroke="#004700"/>
<path d="M240.5 458.1L247.8 464.8L241.3 475.2L234 468.4z" fill="#8fff00" stroke="#284700"/>
<path d="M274.3 440.2L281.6 446.1L275.2 456.5L267.9 450.5z" fill="#74ff00" stroke="#204700"/>
<path d="M394.4 343.8L402.1 346.9L395.9 357.5L388.2 354.3z" fill="#00e41b" stroke="#003f07"/>
<path d="M466.9 267.5L475 268.9L468.9 279.5L460.8 278z" fill="#00738c" stroke="#002027"/>
<path d="M440.7 297L448.6 299L442.5 309.6L434.6 307.5z" fill="#009e61" stroke="#002c1b"/>
<path d="M179 478.5L186.3 486.7L179.8 496.9L172.5 488.6z" fill="#acff00" stroke="#304700"/>
<path d="M192.8 476.6L200.1 484.5L193.6 494.7L186.3 486.7z" fill="#a9ff00" stroke="#2f4700"/>
<path d="M328.1 404.7L335.6 409.3L329.3 419.8L321.8 415.1z" fill="#3eff00" stroke="#114700"/>
<path d="M254.2 454.5L261.5 460.9L255.1 471.3L247.8 464.8z" fill="#88ff00" stroke="#264700"/>
<path d="M206.6 474.3L213.8 481.8L207.4 492.1L200.1 484.5z" fill="#a6ff00" stroke="#2e4700"/>
<path d="M308 420.5L315.5 425.5L309.1 436L301.7 430.8z" fill="#56ff00" stroke="#184700"/>
<path d="M348.1 388.4L355.7 392.5L349.4 403.1L341.8 398.8z" fill="#26ff00" stroke="#0a4700"/>
<path d="M414.4 325.9L422.3 328.5L416.1 339.1L408.3 336.4z" fill="#00c837" stroke="#00380f"/>
<path d="M288 435.7L295.4 441.3L289 451.7L281.6 446.1z" fill="#6cff00" stroke="#1e4700"/>
<path d="M368.1 371.6L375.8 375.3L369.5 385.8L361.9 382.1z" fill="#0dff00" stroke="#034700"/>
<path d="M220.3 471.5L227.6 478.7L221.1 489L213.8 481.8z" fill="#a1ff00" stroke="#2d4700"/>
<path d="M460.8 278L468.9 279.5L462.8 290.1L454.7 288.5z" fill="#00817e" stroke="#002423"/>
<path d="M267.9 450.5L275.2 456.5L268.9 466.9L261.5 460.9z" fill="#81ff00" stroke="#244700"/>
<path d="M388.2 354.3L395.9 357.5L389.7 368L382 364.8z" fill="#00f10e" stroke="#004303"/>
<path d="M234 468.4L241.3 475.2L234.9 485.5L227.6 478.7z" fill="#9bff00" stroke="#2b4700"/>
<path d="M434.6 307.5L442.5 309.6L436.3 320.2L428.4 318z" fill="#00ac53" stroke="#003017"/>
<path d="M321.8 415.1L329.3 419.8L323 430.3L315.5 425.5z" fill="#4cff00" stroke="#154700"/>
<path d="M186.3 486.7L193.6 494.7L187 505L179.8 496.9z" fill="#b6ff00" stroke="#324700"/>
<path d="M341.8 398.8L349.4 403.1L343.1 413.6L335.6 409.3z" fill="#33ff00" stroke="#0e4700"/>
<path d="M301.7 430.8L309.1 436L302.8 446.5L295.4 441.3z" fill="#63ff00" stroke="#1b4700"/>
<path d="M247.8 464.8L255.1 471.3L248.7 481.7L241.3 475.2z" fill="#95ff00" stroke="#294700"/>
<path d="M408.3 336.4L416.1 339.1L409.9 349.7L402.1 346.9z" fill="#00d629" stroke="#003b0b"/>
<path d="M200.1 484.5L207.4 492.1L200.8 502.4L193.6 494.7z" fill="#b2ff00" stroke="#314700"/>
<path d="M361.9 382.1L369.5 385.8L363.3 396.4L355.7 392.5z" fill="#1aff00" stroke="#074700"/>
<path d="M281.6 446.1L289 451.7L282.6 462.2L275.2 456.5z" fill="#79ff00" stroke="#214700"/>
<path d="M213.8 481.8L221.1 489L214.6 499.4L207.4 492.1z" fill="#aeff00" stroke="#304700"/>
<path d="M481.1 258.3L489.2 259.3L483.1 269.9L475 268.9z" fill="#00629d" stroke="#001b2b"/>
<path d="M454.7 288.5L462.8 290.1L456.6 300.7L448.6 299z" fill="#008f70" stroke="#00281f"/>
<path d="M382 364.8L389.7 368L383.5 378.6L375.8 375.3z" fill="#00ff00" stroke="#004700"/>
<path d="M261.5 460.9L268.9 466.9L262.4 477.4L255.1 471.3z" fill="#8eff00" stroke="#274700"/>
<path d="M227.6 478.7L234.9 485.5L228.4 495.9L221.1 489z" fill="#a8ff00" stroke="#2f4700"/>
<path d="M428.4 318L436.3 320.2L430.2 330.8L422.3 328.5z" fill="#00ba45" stroke="#003413"/>
<path d="M315.5 425.5L323 430.3L316.6 440.9L309.1 436z" fill="#59ff00" stroke="#184700"/>
<path d="M402.1 346.9L409.9 349.7L403.7 360.3L395.9 357.5z" fill="#00e41b" stroke="#003f07"/>
<path d="M335.6 409.3L343.1 413.6L336.8 424.2L329.3 419.8z" fill="#41ff00" stroke="#124700"/>
<path d="M295.4 441.3L302.8 446.5L296.4 457L289 451.7z" fill="#70ff00" stroke="#1f4700"/>
<path d="M241.3 475.2L248.7 481.7L242.2 492.1L234.9 485.5z" fill="#a2ff00" stroke="#2d4700"/>
<path d="M355.7 392.5L363.3 396.4L357 407L349.4 403.1z" fill="#28ff00" stroke="#0b4700"/>
<path d="M193.6 494.7L200.8 502.4L194.3 512.7L187 505z" fill="#bfff00" stroke="#354700"/>
<path d="M275.2 456.5L282.6 462.2L276.2 472.7L268.9 466.9z" fill="#86ff00" stroke="#254700"/>
<path d="M475 268.9L483.1 269.9L477 280.6L468.9 279.5z" fill="#00708f" stroke="#001f28"/>
<path d="M207.4 492.1L214.6 499.4L208.1 509.8L200.8 502.4z" fill="#baff00" stroke="#344700"/>
<path d="M448.6 299L456.6 300.7L450.5 311.3L442.5 309.6z" fill="#009c63" stroke="#002b1b"/>
<path d="M375.8 375.3L383.5 378.6L377.2 389.2L369.5 385.8z" fill="#0eff00" stroke="#034700"/>
<path d="M422.3 328.5L430.2 330.8L424 341.5L416.1 339.1z" fill="#00c837" stroke="#00380f"/>
<path d="M255.1 471.3L262.4 477.4L256 487.9L248.7 481.7z" fill="#9bff00" stroke="#2b4700"/>
<path d="M221.1 489L228.4 495.9L221.9 506.4L214.6 499.4z" fill="#b5ff00" stroke="#324700"/>
<path d="M395.9 357.5L403.7 360.3L397.5 371L389.7 368z" fill="#00f10e" stroke="#004303"/>
<path d="M309.1 436L316.6 440.9L310.3 451.4L302.8 446.5z" fill="#66ff00" stroke="#1c4700"/>
<path d="M329.3 419.8L336.8 424.2L330.5 434.8L323 430.3z" fill="#4eff00" stroke="#154700"/>
<path d="M289 451.7L296.4 457L290.1 467.6L282.6 462.2z" fill="#7dff00" stroke="#234700"/>
<path d="M234.9 485.5L242.2 492.1L235.7 502.6L228.4 495.9z" fill="#afff00" stroke="#314700"/>
<path d="M349.4 403.1L357 407L350.7 417.6L343.1 413.6z" fill="#35ff00" stroke="#0e4700"/>
<path d="M468.9 279.5L477 280.6L470.9 291.3L462.8 290.1z" fill="#007e81" stroke="#002324"/>
<path d="M268.9 466.9L276.2 472.7L269.8 483.3L262.4 477.4z" fill="#93ff00" stroke="#294700"/>
<path d="M442.5 309.6L450.5 311.3L444.3 322L436.3 320.2z" fill="#00aa55" stroke="#002f17"/>
<path d="M369.5 385.8L377.2 389.2L371 399.9L363.3 396.4z" fill="#1bff00" stroke="#074700"/>
<path d="M200.8 502.4L208.1 509.8L201.6 520.2L194.3 512.7z" fill="#c7ff00" stroke="#374700"/>
<path d="M416.1 339.1L424 341.5L417.8 352.2L409.9 349.7z" fill="#00d52a" stroke="#003b0b"/>
<path d="M248.7 481.7L256 487.9L249.6 498.4L242.2 492.1z" fill="#a8ff00" stroke="#2f4700"/>
<path d="M214.6 499.4L221.9 506.4L215.4 516.9L208.1 509.8z" fill="#c2ff00" stroke="#364700"/>
<path d="M389.7 368L397.5 371L391.2 381.7L383.5 378.6z" fill="#00ff00" stroke="#004700"/>
<path d="M302.8 446.5L310.3 451.4L303.9 462.1L296.4 457z" fill="#74ff00" stroke="#204700"/>
<path d="M323 430.3L330.5 434.8L324.2 445.4L316.6 440.9z" fill="#5cff00" stroke="#194700"/>
<path d="M282.6 462.2L290.1 467.6L283.7 478.2L276.2 472.7z" fill="#8aff00" stroke="#264700"/>
<path d="M343.1 413.6L350.7 417.6L344.4 428.3L336.8 424.2z" fill="#43ff00" stroke="#124700"/>
<path d="M228.4 495.9L235.7 502.6L229.2 513.1L221.9 506.4z" fill="#bcff00" stroke="#344700"/>
<path d="M462.8 290.1L470.9 291.3L464.8 302L456.6 300.7z" fill="#008c73" stroke="#002720"/>
<path d="M436.3 320.2L444.3 322L438.2 332.8L430.2 330.8z" fill="#00b847" stroke="#003313"/>
<path d="M489.2 259.3L497.5 259.9L491.4 270.7L483.1 269.9z" fill="#005fa0" stroke="#001a2c"/>
<path d="M262.4 477.4L269.8 483.3L263.4 493.8L256 487.9z" fill="#a0ff00" stroke="#2c4700"/>
<path d="M363.3 396.4L371 399.9L364.7 410.6L357 407z" fill="#29ff00" stroke="#0b4700"/>
<path d="M409.9 349.7L417.8 352.2L411.6 362.9L403.7 360.3z" fill="#00e31c" stroke="#003f07"/>
<path d="M242.2 492.1L249.6 498.4L243.1 509L235.7 502.6z" fill="#b5ff00" stroke="#324700"/>
<path d="M208.1 509.8L215.4 516.9L208.9 527.4L201.6 520.2z" fill="#cfff00" stroke="#394700"/>
<path d="M383.5 378.6L391.2 381.7L385 392.4L377.2 389.2z" fill="#0eff00" stroke="#034700"/>
<path d="M296.4 457L303.9 462.1L297.5 472.7L290.1 467.6z" fill="#81ff00" stroke="#244700"/>
<path d="M316.6 440.9L324.2 445.4L317.8 456.1L310.3 451.4z" fill="#69ff00" stroke="#1d4700"/>
<path d="M276.2 472.7L283.7 478.2L277.2 488.8L269.8 483.3z" fill="#98ff00" stroke="#2a4700"/>
<path d="M336.8 424.2L344.4 428.3L338.1 439L330.5 434.8z" fill="#50ff00" stroke="#164700"/>
<path d="M456.6 300.7L464.8 302L458.6 312.8L450.5 311.3z" fill="#009a65" stroke="#002b1c"/>
<path d="M430.2 330.8L438.2 332.8L432 343.5L424 341.5z" fill="#00c639" stroke="#00370f"/>
<path d="M483.1 269.9L491.4 270.7L485.3 281.4L477 280.6z" fill="#006d92" stroke="#001e28"/>
<path d="M221.9 506.4L229.2 513.1L222.7 523.7L215.4 516.9z" fill="#c9ff00" stroke="#384700"/>
<path d="M256 487.9L263.4 493.8L256.9 504.5L249.6 498.4z" fill="#adff00" stroke="#304700"/>
<path d="M357 407L364.7 410.6L358.4 421.3L350.7 417.6z" fill="#36ff00" stroke="#0f4700"/>
<path d="M403.7 360.3L411.6 362.9L405.3 373.6L397.5 371z" fill="#00f10e" stroke="#004303"/>
<path d="M235.7 502.6L243.1 509L236.6 519.6L229.2 513.1z" fill="#c2ff00" stroke="#364700"/>
<path d="M377.2 389.2L385 392.4L378.7 403.1L371 399.9z" fill="#1cff00" stroke="#074700"/>
<path d="M310.3 451.4L317.8 456.1L311.4 466.8L303.9 462.1z" fill="#76ff00" stroke="#214700"/>
<path d="M290.1 467.6L297.5 472.7L291.1 483.4L283.7 478.2z" fill="#8eff00" stroke="#274700"/>
<path d="M450.5 311.3L458.6 312.8L452.4 323.6L444.3 322z" fill="#00a857" stroke="#002f18"/>
<path d="M330.5 434.8L338.1 439L331.7 449.7L324.2 445.4z" fill="#5eff00" stroke="#1a4700"/>
<path d="M269.8 483.3L277.2 488.8L270.8 499.5L263.4 493.8z" fill="#a5ff00" stroke="#2e4700"/>
<path d="M477 280.6L485.3 281.4L479.1 292.2L470.9 291.3z" fill="#007b84" stroke="#002224"/>
<path d="M424 341.5L432 343.5L425.7 354.3L417.8 352.2z" fill="#00d42b" stroke="#003b0c"/>
<path d="M215.4 516.9L222.7 523.7L216.2 534.3L208.9 527.4z" fill="#d6ff00" stroke="#3b4700"/>
<path d="M397.5 371L405.3 373.6L399.1 384.4L391.2 381.7z" fill="#00ff00" stroke="#004700"/>
<path d="M350.7 417.6L358.4 421.3L352 432.1L344.4 428.3z" fill="#44ff00" stroke="#134700"/>
<path d="M249.6 498.4L256.9 504.5L250.4 515.1L243.1 509z" fill="#baff00" stroke="#344700"/>
<path d="M371 399.9L378.7 403.1L372.4 413.9L364.7 410.6z" fill="#29ff00" stroke="#0b4700"/>
<path d="M229.2 513.1L236.6 519.6L230.1 530.2L222.7 523.7z" fill="#cfff00" stroke="#394700"/>
<path d="M444.3 322L452.4 323.6L446.2 334.4L438.2 332.8z" fill="#00b649" stroke="#003214"/>
<path d="M303.9 462.1L311.4 466.8L305 477.5L297.5 472.7z" fill="#84ff00" stroke="#244700"/>
<path d="M283.7 478.2L291.1 483.4L284.7 494.1L277.2 488.8z" fill="#9bff00" stroke="#2b4700"/>
<path d="M470.9 291.3L479.1 292.2L473 303L464.8 302z" fill="#008976" stroke="#002621"/>
<path d="M417.8 352.2L425.7 354.3L419.5 365.1L411.6 362.9z" fill="#00e21d" stroke="#003f08"/>
<path d="M324.2 445.4L331.7 449.7L325.4 460.5L317.8 456.1z" fill="#6bff00" stroke="#1d4700"/>
<path d="M263.4 493.8L270.8 499.5L264.3 510.2L256.9 504.5z" fill="#b2ff00" stroke="#314700"/>
<path d="M497.5 259.9L505.9 260.2L499.8 271L491.4 270.7z" fill="#005aa5" stroke="#00192e"/>
<path d="M391.2 381.7L399.1 384.4L392.8 395.2L385 392.4z" fill="#0dff00" stroke="#034700"/>
<path d="M344.4 428.3L352 432.1L345.7 442.9L338.1 439z" fill="#52ff00" stroke="#164700"/>
<path d="M243.1 509L250.4 515.1L243.9 525.8L236.6 519.6z" fill="#c8ff00" stroke="#384700"/>
<path d="M364.7 410.6L372.4 413.9L366.1 424.7L358.4 421.3z" fill="#37ff00" stroke="#0f4700"/>
<path d="M222.7 523.7L230.1 530.2L223.5 540.9L216.2 534.3z" fill="#dcff00" stroke="#3d4700"/>
<path d="M438.2 332.8L446.2 334.4L440 345.3L432 343.5z" fill="#00c43b" stroke="#003610"/>
<path d="M464.8 302L473 303L466.8 313.9L458.6 312.8z" fill="#009768" stroke="#002a1d"/>
<path d="M297.5 472.7L305 477.5L298.6 488.3L291.1 483.4z" fill="#91ff00" stroke="#284700"/>
<path d="M411.6 362.9L419.5 365.1L413.3 376L405.3 373.6z" fill="#00f00f" stroke="#004304"/>
<path d="M277.2 488.8L284.7 494.1L278.2 504.9L270.8 499.5z" fill="#a9ff00" stroke="#2f4700"/>
<path d="M317.8 456.1L325.4 460.5L319 471.3L311.4 466.8z" fill="#79ff00" stroke="#214700"/>
<path d="M491.4 270.7L499.8 271L493.6 281.9L485.3 281.4z" fill="#006897" stroke="#001d2a"/>
<path d="M256.9 504.5L264.3 510.2L257.8 520.9L250.4 515.1z" fill="#bfff00" stroke="#354700"/>
<path d="M385 392.4L392.8 395.2L386.5 406.1L378.7 403.1z" fill="#1bff00" stroke="#074700"/>
<path d="M338.1 439L345.7 442.9L339.3 453.7L331.7 449.7z" fill="#5fff00" stroke="#1a4700"/>
<path d="M236.6 519.6L243.9 525.8L237.4 536.5L230.1 530.2z" fill="#d5ff00" stroke="#3b4700"/>
<path d="M358.4 421.3L366.1 424.7L359.8 435.6L352 432.1z" fill="#45ff00" stroke="#134700"/>
<path d="M432 343.5L440 345.3L433.8 356.1L425.7 354.3z" fill="#00d22d" stroke="#003a0c"/>
<path d="M458.6 312.8L466.8 313.9L460.6 324.8L452.4 323.6z" fill="#00a55a" stroke="#002e19"/>
<path d="M405.3 373.6L413.3 376L407 386.8L399.1 384.4z" fill="#00fd02" stroke="#004600"/>
<path d="M291.1 483.4L298.6 488.3L292.2 499.1L284.7 494.1z" fill="#9fff00" stroke="#2c4700"/>
<path d="M270.8 499.5L278.2 504.9L271.8 515.7L264.3 510.2z" fill="#b6ff00" stroke="#324700"/>
<path d="M311.4 466.8L319 471.3L312.6 482.1L305 477.5z" fill="#86ff00" stroke="#254700"/>
<path d="M485.3 281.4L493.6 281.9L487.4 292.8L479.1 292.2z" fill="#007788" stroke="#002126"/>
<path d="M250.4 515.1L257.8 520.9L251.3 531.7L243.9 525.8z" fill="#ccff00" stroke="#394700"/>
<path d="M378.7 403.1L386.5 406.1L380.2 416.9L372.4 413.9z" fill="#29ff00" stroke="#0b4700"/>
<path d="M331.7 449.7L339.3 453.7L333 464.5L325.4 460.5z" fill="#6dff00" stroke="#1e4700"/>
<path d="M230.1 530.2L237.4 536.5L230.9 547.3L223.5 540.9z" fill="#e2ff00" stroke="#3f4700"/>
<path d="M352 432.1L359.8 435.6L353.4 446.5L345.7 442.9z" fill="#52ff00" stroke="#164700"/>
<path d="M425.7 354.3L433.8 356.1L427.5 367L419.5 365.1z" fill="#00e01f" stroke="#003e08"/>
<path d="M452.4 323.6L460.6 324.8L454.4 335.7L446.2 334.4z" fill="#00b34c" stroke="#003215"/>
<path d="M399.1 384.4L407 386.8L400.7 397.8L392.8 395.2z" fill="#0cff00" stroke="#034700"/>
<path d="M479.1 292.2L487.4 292.8L481.3 303.7L473 303z" fill="#00857a" stroke="#002522"/>
<path d="M284.7 494.1L292.2 499.1L285.7 510L278.2 504.9z" fill="#acff00" stroke="#304700"/>
<path d="M264.3 510.2L271.8 515.7L265.3 526.5L257.8 520.9z" fill="#c3ff00" stroke="#364700"/>
<path d="M305 477.5L312.6 482.1L306.1 493L298.6 488.3z" fill="#94ff00" stroke="#294700"/>
<path d="M372.4 413.9L380.2 416.9L373.9 427.9L366.1 424.7z" fill="#37ff00" stroke="#0f4700"/>
<path d="M243.9 525.8L251.3 531.7L244.8 542.5L237.4 536.5z" fill="#daff00" stroke="#3d4700"/>
<path d="M325.4 460.5L333 464.5L326.6 475.4L319 471.3z" fill="#7aff00" stroke="#224700"/>
<path d="M505.9 260.2L514.4 260.1L508.2 271.1L499.8 271z" fill="#0056a9" stroke="#00182f"/>
<path d="M345.7 442.9L353.4 446.5L347 457.4L339.3 453.7z" fill="#60ff00" stroke="#1a4700"/>
<path d="M419.5 365.1L427.5 367L421.2 378L413.3 376z" fill="#00ee11" stroke="#004204"/>
<path d="M446.2 334.4L454.4 335.7L448.1 346.7L440 345.3z" fill="#00c13e" stroke="#003611"/>
<path d="M392.8 395.2L400.7 397.8L394.4 408.7L386.5 406.1z" fill="#1aff00" stroke="#074700"/>
<path d="M473 303L481.3 303.7L475.1 314.7L466.8 313.9z" fill="#00936c" stroke="#00291e"/>
<path d="M278.2 504.9L285.7 510L279.2 520.8L271.8 515.7z" fill="#b9ff00" stroke="#334700"/>
<path d="M298.6 488.3L306.1 493L299.7 503.9L292.2 499.1z" fill="#a1ff00" stroke="#2d4700"/>
<path d="M257.8 520.9L265.3 526.5L258.8 537.3L251.3 531.7z" fill="#d1ff00" stroke="#3a4700"/>
<path d="M366.1 424.7L373.9 427.9L367.5 438.8L359.8 435.6z" fill="#44ff00" stroke="#134700"/>
<path d="M499.8 271L508.2 271.1L502.1 282L493.6 281.9z" fill="#00649b" stroke="#001c2b"/>
<path d="M319 471.3L326.6 475.4L320.2 486.3L312.6 482.1z" fill="#88ff00" stroke="#264700"/>
<path d="M237.4 536.5L244.8 542.5L238.3 553.3L230.9 547.3z" fill="#e7ff00" stroke="#404700"/>
<path d="M339.3 453.7L347 457.4L340.6 468.3L333 464.5z" fill="#6eff00" stroke="#1e4700"/>
<path d="M413.3 376L421.2 378L415 389L407 386.8z" fill="#00fc03" stroke="#004600"/>
<path d="M440 345.3L448.1 346.7L441.9 357.6L433.8 356.1z" fill="#00cf30" stroke="#00390d"/>
<path d="M386.5 406.1L394.4 408.7L388.1 419.7L380.2 416.9z" fill="#28ff00" stroke="#0b4700"/>
<path d="M466.8 313.9L475.1 314.7L468.8 325.7L460.6 324.8z" fill="#00a15e" stroke="#002d1a"/>
<path d="M271.8 515.7L279.2 520.8L272.7 531.7L265.3 526.5z" fill="#c7ff00" stroke="#374700"/>
<path d="M292.2 499.1L299.7 503.9L293.2 514.8L285.7 510z" fill="#afff00" stroke="#314700"/>
<path d="M251.3 531.7L258.8 537.3L252.2 548.2L244.8 542.5z" fill="#deff00" stroke="#3e4700"/>
<path d="M359.8 435.6L367.5 438.8L361.2 449.8L353.4 446.5z" fill="#52ff00" stroke="#164700"/>
<path d="M493.6 281.9L502.1 282L495.9 293L487.4 292.8z" fill="#00728d" stroke="#001f27"/>
<path d="M312.6 482.1L320.2 486.3L313.7 497.3L306.1 493z" fill="#95ff00" stroke="#294700"/>
<path d="M433.8 356.1L441.9 357.6L435.6 368.7L427.5 367z" fill="#00dd22" stroke="#003d09"/>
<path d="M407 386.8L415 389L408.7 400L400.7 397.8z" fill="#0bff00" stroke="#034700"/>
<path d="M333 464.5L340.6 468.3L334.2 479.3L326.6 475.4z" fill="#7bff00" stroke="#224700"/>
<path d="M460.6 324.8L468.8 325.7L462.6 336.7L454.4 335.7z" fill="#00af50" stroke="#003116"/>
<path d="M380.2 416.9L388.1 419.7L381.7 430.7L373.9 427.9z" fill="#36ff00" stroke="#0f4700"/>
<path d="M265.3 526.5L272.7 531.7L266.2 542.7L258.8 537.3z" fill="#d4ff00" stroke="#3b4700"/>
<path d="M487.4 292.8L495.9 293L489.7 304.1L481.3 303.7z" fill="#00807f" stroke="#002323"/>
<path d="M285.7 510L293.2 514.8L286.7 525.7L279.2 520.8z" fill="#bcff00" stroke="#344700"/>
<path d="M353.4 446.5L361.2 449.8L354.8 460.8L347 457.4z" fill="#60ff00" stroke="#1a4700"/>
<path d="M244.8 542.5L252.2 548.2L245.7 559.1L238.3 553.3z" fill="#ebff00" stroke="#414700"/>
<path d="M306.1 493L313.7 497.3L307.3 508.3L299.7 503.9z" fill="#a3ff00" stroke="#2d4700"/>
<path d="M427.5 367L435.6 368.7L429.3 379.7L421.2 378z" fill="#00eb14" stroke="#004105"/>
<path d="M400.7 397.8L408.7 400L402.3 411L394.4 408.7z" fill="#18ff00" stroke="#064700"/>
<path d="M514.4 260.1L523 259.7L516.8 270.8L508.2 271.1z" fill="#0050af" stroke="#001631"/>
<path d="M326.6 475.4L334.2 479.3L327.8 490.3L320.2 486.3z" fill="#89ff00" stroke="#264700"/>
<path d="M454.4 335.7L462.6 336.7L456.4 347.7L448.1 346.7z" fill="#00bd42" stroke="#003412"/>
<path d="M373.9 427.9L381.7 430.7L375.4 441.7L367.5 438.8z" fill="#44ff00" stroke="#134700"/>
<path d="M481.3 303.7L489.7 304.1L483.4 315.1L475.1 314.7z" fill="#008e71" stroke="#00271f"/>
<path d="M347 457.4L354.8 460.8L348.4 471.8L340.6 468.3z" fill="#6eff00" stroke="#1e4700"/>
<path d="M258.8 537.3L266.2 542.7L259.7 553.7L252.2 548.2z" fill="#e2ff00" stroke="#3f4700"/>
<path d="M279.2 520.8L286.7 525.7L280.2 536.7L272.7 531.7z" fill="#caff00" stroke="#384700"/>
<path d="M299.7 503.9L307.3 508.3L300.8 519.3L293.2 514.8z" fill="#b1ff00" stroke="#314700"/>
<path d="M421.2 378L429.3 379.7L423 390.8L415 389z" fill="#00f906" stroke="#004501"/>
<path d="M508.2 271.1L516.8 270.8L510.6 281.8L502.1 282z" fill="#005ea1" stroke="#001a2d"/>
<path d="M394.4 408.7L402.3 411L396 422.1L388.1 419.7z" fill="#26ff00" stroke="#0a4700"/>
<path d="M448.1 346.7L456.4 347.7L450.1 358.8L441.9 357.6z" fill="#00cc33" stroke="#00390e"/>
<path d="M320.2 486.3L327.8 490.3L321.4 501.4L313.7 497.3z" fill="#97ff00" stroke="#2a4700"/>
<path d="M367.5 438.8L375.4 441.7L369 452.8L361.2 449.8z" fill="#52ff00" stroke="#164700"/>
<path d="M475.1 314.7L483.4 315.1L477.2 326.2L468.8 325.7z" fill="#009d62" stroke="#002b1b"/>
<path d="M340.6 468.3L348.4 471.8L341.9 482.9L334.2 479.3z" fill="#7cff00" stroke="#224700"/>
<path d="M252.2 548.2L259.7 553.7L253.1 564.7L245.7 559.1z" fill="#efff00" stroke="#424700"/>
<path d="M272.7 531.7L280.2 536.7L273.7 547.8L266.2 542.7z" fill="#d7ff00" stroke="#3c4700"/>
<path d="M293.2 514.8L300.8 519.3L294.3 530.4L286.7 525.7z" fill="#beff00" stroke="#354700"/>
<path d="M502.1 282L510.6 281.8L504.4 292.9L495.9 293z" fill="#006d92" stroke="#001e28"/>
<path d="M415 389L423 390.8L416.7 401.9L408.7 400z" fill="#08ff00" stroke="#024700"/>
<path d="M388.1 419.7L396 422.1L389.6 433.2L381.7 430.7z" fill="#34ff00" stroke="#0e4700"/>
<path d="M441.9 357.6L450.1 358.8L443.8 369.9L435.6 368.7z" fill="#00da25" stroke="#003d0a"/>
<path d="M313.7 497.3L321.4 501.4L314.9 512.4L307.3 508.3z" fill="#a4ff00" stroke="#2d4700"/>
<path d="M361.2 449.8L369 452.8L362.6 463.9L354.8 460.8z" fill="#5fff00" stroke="#1a4700"/>
<path d="M468.8 325.7L477.2 326.2L470.9 337.4L462.6 336.7z" fill="#00ab54" stroke="#002f17"/>
<path d="M334.2 479.3L341.9 482.9L335.5 494L327.8 490.3z" fill="#89ff00" stroke="#264700"/>
<path d="M266.2 542.7L273.7 547.8L267.2 558.8L259.7 553.7z" fill="#e5ff00" stroke="#404700"/>
<path d="M495.9 293L504.4 292.9L498.2 304.1L489.7 304.1z" fill="#007b84" stroke="#002224"/>
<path d="M286.7 525.7L294.3 530.4L287.8 541.4L280.2 536.7z" fill="#ccff00" stroke="#394700"/>
<path d="M408.7 400L416.7 401.9L410.4 413L402.3 411z" fill="#16ff00" stroke="#064700"/>
<path d="M381.7 430.7L389.6 433.2L383.3 444.3L375.4 441.7z" fill="#42ff00" stroke="#124700"/>
<path d="M435.6 368.7L443.8 369.9L437.5 381.1L429.3 379.7z" fill="#00e817" stroke="#004006"/>
<path d="M307.3 508.3L314.9 512.4L308.4 523.5L300.8 519.3z" fill="#b2ff00" stroke="#314700"/>
<path d="M354.8 460.8L362.6 463.9L356.2 475L348.4 471.8z" fill="#6dff00" stroke="#1e4700"/>
<path d="M462.6 336.7L470.9 337.4L464.7 348.5L456.4 347.7z" fill="#00b946" stroke="#003313"/>
<path d="M523 259.7L531.7 258.9L525.5 270.1L516.8 270.8z" fill="#004ab5" stroke="#001432"/>
<path d="M327.8 490.3L335.5 494L329 505.1L321.4 501.4z" fill="#97ff00" stroke="#2a4700"/>
<path d="M489.7 304.1L498.2 304.1L491.9 315.2L483.4 315.1z" fill="#008976" stroke="#002621"/>
<path d="M259.7 553.7L267.2 558.8L260.6 569.9L253.1 564.7z" fill="#f2ff00" stroke="#434700"/>
<path d="M402.3 411L410.4 413L404 424.2L396 422.1z" fill="#24ff00" stroke="#0a4700"/>
<path d="M280.2 536.7L287.8 541.4L281.2 552.6L273.7 547.8z" fill="#d9ff00" stroke="#3c4700"/>
<path d="M375.4 441.7L383.3 444.3L376.9 455.5L369 452.8z" fill="#50ff00" stroke="#164700"/>
<path d="M429.3 379.7L437.5 381.1L431.2 392.3L423 390.8z" fill="#00f609" stroke="#004402"/>
<path d="M300.8 519.3L308.4 523.5L301.9 534.7L294.3 530.4z" fill="#c0ff00" stroke="#354700"/>
<path d="M348.4 471.8L356.2 475L349.7 486.2L341.9 482.9z" fill="#7bff00" stroke="#224700"/>
<path d="M456.4 347.7L464.7 348.5L458.4 359.7L450.1 358.8z" fill="#00c738" stroke="#00370f"/>
<path d="M516.8 270.8L525.5 270.1L519.3 281.3L510.6 281.8z" fill="#0058a7" stroke="#00182e"/>
<path d="M321.4 501.4L329 505.1L322.6 516.3L314.9 512.4z" fill="#a5ff00" stroke="#2e4700"/>
<path d="M483.4 315.1L491.9 315.2L485.7 326.4L477.2 326.2z" fill="#009867" stroke="#002a1c"/>
<path d="M396 422.1L404 424.2L397.6 435.4L389.6 433.2z" fill="#32ff00" stroke="#0e4700"/>
<path d="M423 390.8L431.2 392.3L424.8 403.5L416.7 401.9z" fill="#05ff00" stroke="#014700"/>
<path d="M369 452.8L376.9 455.5L370.4 466.7L362.6 463.9z" fill="#5eff00" stroke="#1a4700"/>
<path d="M273.7 547.8L281.2 552.6L274.7 563.7L267.2 558.8z" fill="#e7ff00" stroke="#404700"/>
<path d="M450.1 358.8L458.4 359.7L452.1 370.9L443.8 369.9z" fill="#00d629" stroke="#003b0b"/>
<path d="M341.9 482.9L349.7 486.2L343.3 497.4L335.5 494z" fill="#89ff00" stroke="#264700"/>
<path d="M294.3 530.4L301.9 534.7L295.4 545.9L287.8 541.4z" fill="#cdff00" stroke="#394700"/>
<path d="M510.6 281.8L519.3 281.3L513 292.5L504.4 292.9z" fill="#006798" stroke="#001c2a"/>
<path d="M477.2 326.2L485.7 326.4L479.4 337.7L470.9 337.4z" fill="#00a659" stroke="#002e18"/>
<path d="M314.9 512.4L322.6 516.3L316.1 527.5L308.4 523.5z" fill="#b3ff00" stroke="#324700"/>
<path d="M389.6 433.2L397.6 435.4L391.2 446.6L383.3 444.3z" fill="#40ff00" stroke="#114700"/>
<path d="M416.7 401.9L424.8 403.5L418.5 414.7L410.4 413z" fill="#13ff00" stroke="#054700"/>
<path d="M362.6 463.9L370.4 466.7L364 477.9L356.2 475z" fill="#6cff00" stroke="#1e4700"/>
<path d="M267.2 558.8L274.7 563.7L268.1 574.9L260.6 569.9z" fill="#f5ff00" stroke="#444700"/>
<path d="M443.8 369.9L452.1 370.9L445.7 382.1L437.5 381.1z" fill="#00e41b" stroke="#003f07"/>
<path d="M335.5 494L343.3 497.4L336.8 508.6L329 505.1z" fill="#97ff00" stroke="#2a4700"/>
<path d="M504.4 292.9L513 292.5L506.8 303.7L498.2 304.1z" fill="#00758a" stroke="#002026"/>
<path d="M287.8 541.4L295.4 545.9L288.8 557.1L281.2 552.6z" fill="#dbff00" stroke="#3d4700"/>
<path d="M470.9 337.4L479.4 337.7L473.1 348.9L464.7 348.5z" fill="#00b44b" stroke="#003215"/>
<path d="M308.4 523.5L316.1 527.5L309.5 538.7L301.9 534.7z" fill="#c0ff00" stroke="#354700"/>
<path d="M383.3 444.3L391.2 446.6L384.8 457.9L376.9 455.5z" fill="#4eff00" stroke="#154700"/>
<path d="M410.4 413L418.5 414.7L412.1 426L404 424.2z" fill="#21ff00" stroke="#094700"/>
<path d="M356.2 475L364 477.9L357.6 489.2L349.7 486.2z" fill="#7aff00" stroke="#224700"/>
<path d="M531.7 258.9L540.5 257.8L534.3 269.1L525.5 270.1z" fill="#0043bc" stroke="#001234"/>
<path d="M437.5 381.1L445.7 382.1L439.4 393.4L431.2 392.3z" fill="#00f20d" stroke="#004303"/>
<path d="M498.2 304.1L506.8 303.7L500.5 315L491.9 315.2z" fill="#00847b" stroke="#002422"/>
<path d="M329 505.1L336.8 508.6L330.3 519.9L322.6 516.3z" fill="#a5ff00" stroke="#2e4700"/>
<path d="M281.2 552.6L288.8 557.1L282.3 568.3L274.7 563.7z" fill="#e9ff00" stroke="#414700"/>
<path d="M464.7 348.5L473.1 348.9L466.8 360.2L458.4 359.7z" fill="#00c33c" stroke="#003610"/>
<path d="M301.9 534.7L309.5 538.7L303 550L295.4 545.9z" fill="#ceff00" stroke="#394700"/>
<path d="M376.9 455.5L384.8 457.9L378.4 469.2L370.4 466.7z" fill="#5cff00" stroke="#194700"/>
<path d="M404 424.2L412.1 426L405.7 437.3L397.6 435.4z" fill="#30ff00" stroke="#0d4700"/>
<path d="M349.7 486.2L357.6 489.2L351.1 500.5L343.3 497.4z" fill="#88ff00" stroke="#264700"/>
<path d="M525.5 270.1L534.3 269.1L528 280.4L519.3 281.3z" fill="#0052ad" stroke="#001630"/>
<path d="M431.2 392.3L439.4 393.4L433 404.7L424.8 403.5z" fill="#01ff00" stroke="#004700"/>
<path d="M491.9 315.2L500.5 315L494.2 326.3L485.7 326.4z" fill="#00926d" stroke="#00281e"/>
<path d="M322.6 516.3L330.3 519.9L323.8 531.2L316.1 527.5z" fill="#b3ff00" stroke="#324700"/>
<path d="M274.7 563.7L282.3 568.3L275.7 579.6L268.1 574.9z" fill="#f6ff00" stroke="#444700"/>
<path d="M458.4 359.7L466.8 360.2L460.4 371.5L452.1 370.9z" fill="#00d12e" stroke="#003a0c"/>
<path d="M295.4 545.9L303 550L296.4 561.3L288.8 557.1z" fill="#dcff00" stroke="#3d4700"/>
<path d="M370.4 466.7L378.4 469.2L371.9 480.5L364 477.9z" fill="#6aff00" stroke="#1d4700"/>
<path d="M397.6 435.4L405.7 437.3L399.3 448.6L391.2 446.6z" fill="#3eff00" stroke="#114700"/>
<path d="M519.3 281.3L528 280.4L521.8 291.7L513 292.5z" fill="#00609f" stroke="#001a2c"/>
<path d="M343.3 497.4L351.1 500.5L344.6 511.8L336.8 508.6z" fill="#96ff00" stroke="#2a4700"/>
<path d="M424.8 403.5L433 404.7L426.7 416.1L418.5 414.7z" fill="#10ff00" stroke="#044700"/>
<path d="M485.7 326.4L494.2 326.3L487.9 337.6L479.4 337.7z" fill="#00a05f" stroke="#002c1a"/>
<path d="M316.1 527.5L323.8 531.2L317.2 542.5L309.5 538.7z" fill="#c1ff00" stroke="#364700"/>
<path d="M452.1 370.9L460.4 371.5L454.1 382.9L445.7 382.1z" fill="#00df20" stroke="#003e08"/>
<path d="M288.8 557.1L296.4 561.3L289.9 572.6L282.3 568.3z" fill="#eaff00" stroke="#414700"/>
<path d="M364 477.9L371.9 480.5L365.5 491.9L357.6 489.2z" fill="#79ff00" stroke="#214700"/>
<path d="M513 292.5L521.8 291.7L515.5 303L506.8 303.7z" fill="#006f90" stroke="#001f28"/>
<path d="M391.2 446.6L399.3 448.6L392.8 460L384.8 457.9z" fill="#4cff00" stroke="#154700"/>
<path d="M336.8 508.6L344.6 511.8L338.1 523.2L330.3 519.9z" fill="#a4ff00" stroke="#2d4700"/>
<path d="M479.4 337.7L487.9 337.6L481.6 349L473.1 348.9z" fill="#00af50" stroke="#003116"/>
<path d="M418.5 414.7L426.7 416.1L420.3 427.4L412.1 426z" fill="#1eff00" stroke="#084700"/>
<path d="M309.5 538.7L317.2 542.5L310.7 553.9L303 550z" fill="#ceff00" stroke="#394700"/>
<path d="M445.7 382.1L454.1 382.9L447.7 394.3L439.4 393.4z" fill="#00ee11" stroke="#004204"/>
<path d="M506.8 303.7L515.5 303L509.2 314.4L500.5 315z" fill="#007d82" stroke="#002324"/>
<path d="M540.5 257.8L549.4 256.3L543.2 267.7L534.3 269.1z" fill="#003cc3" stroke="#001036"/>
<path d="M357.6 489.2L365.5 491.9L359 503.3L351.1 500.5z" fill="#87ff00" stroke="#254700"/>
<path d="M384.8 457.9L392.8 460L386.4 471.4L378.4 469.2z" fill="#5aff00" stroke="#194700"/>
<path d="M282.3 568.3L289.9 572.6L283.3 584L275.7 579.6z" fill="#f7ff00" stroke="#454700"/>
<path d="M473.1 348.9L481.6 349L475.3 360.4L466.8 360.2z" fill="#00bd42" stroke="#003412"/>
<path d="M330.3 519.9L338.1 523.2L331.6 534.5L323.8 531.2z" fill="#b2ff00" stroke="#314700"/>
<path d="M412.1 426L420.3 427.4L413.8 438.8L405.7 437.3z" fill="#2cff00" stroke="#0c4700"/>
<path d="M303 550L310.7 553.9L304.1 565.3L296.4 561.3z" fill="#dcff00" stroke="#3d4700"/>
<path d="M439.4 393.4L447.7 394.3L441.3 405.7L433 404.7z" fill="#00fc03" stroke="#004600"/>
<path d="M534.3 269.1L543.2 267.7L536.9 279.1L528 280.4z" fill="#004ab5" stroke="#001432"/>
<path d="M500.5 315L509.2 314.4L502.9 325.8L494.2 326.3z" fill="#008c73" stroke="#002720"/>
<path d="M378.4 469.2L386.4 471.4L379.9 482.8L371.9 480.5z" fill="#68ff00" stroke="#1d4700"/>
<path d="M351.1 500.5L359 503.3L352.5 514.7L344.6 511.8z" fill="#95ff00" stroke="#294700"/>
<path d="M466.8 360.2L475.3 360.4L468.9 371.8L460.4 371.5z" fill="#00cc33" stroke="#00390e"/>
<path d="M405.7 437.3L413.8 438.8L407.4 450.3L399.3 448.6z" fill="#3aff00" stroke="#104700"/>
<path d="M323.8 531.2L331.6 534.5L325 546L317.2 542.5z" fill="#c0ff00" stroke="#354700"/>
<path d="M433 404.7L441.3 405.7L434.9 417.1L426.7 416.1z" fill="#0bff00" stroke="#034700"/>
<path d="M296.4 561.3L304.1 565.3L297.5 576.7L289.9 572.6z" fill="#eaff00" stroke="#414700"/>
<path d="M528 280.4L536.9 279.1L530.6 290.5L521.8 291.7z" fill="#0059a6" stroke="#00182e"/>
<path d="M494.2 326.3L502.9 325.8L496.6 337.3L487.9 337.6z" fill="#009a65" stroke="#002b1c"/>
<path d="M371.9 480.5L379.9 482.8L373.4 494.3L365.5 491.9z" fill="#76ff00" stroke="#214700"/>
<path d="M344.6 511.8L352.5 514.7L345.9 526.1L338.1 523.2z" fill="#a3ff00" stroke="#2d4700"/>
<path d="M460.4 371.5L468.9 371.8L462.5 383.3L454.1 382.9z" fill="#00da25" stroke="#003d0a"/>
<path d="M399.3 448.6L407.4 450.3L401 461.7L392.8 460z" fill="#49ff00" stroke="#144700"/>
<path d="M317.2 542.5L325 546L318.4 557.4L310.7 553.9z" fill="#ceff00" stroke="#394700"/>
<path d="M426.7 416.1L434.9 417.1L428.5 428.6L420.3 427.4z" fill="#1aff00" stroke="#074700"/>
<path d="M289.9 572.6L297.5 576.7L290.9 588.2L283.3 584z" fill="#f8ff00" stroke="#454700"/>
<path d="M521.8 291.7L530.6 290.5L524.3 302L515.5 303z" fill="#006897" stroke="#001d2a"/>
<path d="M487.9 337.6L496.6 337.3L490.2 348.7L481.6 349z" fill="#00a956" stroke="#002f18"/>
<path d="M365.5 491.9L373.4 494.3L366.9 505.7L359 503.3z" fill="#84ff00" stroke="#244700"/>
<path d="M454.1 382.9L462.5 383.3L456.1 394.8L447.7 394.3z" fill="#00e916" stroke="#004106"/>
<path d="M338.1 523.2L345.9 526.1L339.4 537.6L331.6 534.5z" fill="#b1ff00" stroke="#314700"/>
<path d="M392.8 460L401 461.7L394.5 473.2L386.4 471.4z" fill="#57ff00" stroke="#184700"/>
<path d="M310.7 553.9L318.4 557.4L311.9 568.9L304.1 565.3z" fill="#dcff00" stroke="#3d4700"/>
<path d="M420.3 427.4L428.5 428.6L422.1 440.1L413.8 438.8z" fill="#28ff00" stroke="#0b4700"/>
<path d="M515.5 303L524.3 302L518 313.5L509.2 314.4z" fill="#007689" stroke="#002126"/>
<path d="M481.6 349L490.2 348.7L483.9 360.2L475.3 360.4z" fill="#00b748" stroke="#003314"/>
<path d="M447.7 394.3L456.1 394.8L449.7 406.3L441.3 405.7z" fill="#00f708" stroke="#004502"/>
<path d="M359 503.3L366.9 505.7L360.4 517.3L352.5 514.7z" fill="#93ff00" stroke="#294700"/>
<path d="M331.6 534.5L339.4 537.6L332.8 549.2L325 546z" fill="#bfff00" stroke="#354700"/>
<path d="M386.4 471.4L394.5 473.2L388 484.8L379.9 482.8z" fill="#65ff00" stroke="#1c4700"/>
<path d="M304.1 565.3L311.9 568.9L305.3 580.5L297.5 576.7z" fill="#eaff00" stroke="#414700"/>
<path d="M413.8 438.8L422.1 440.1L415.6 451.6L407.4 450.3z" fill="#36ff00" stroke="#0f4700"/>
<path d="M509.2 314.4L518 313.5L511.7 325L502.9 325.8z" fill="#00857a" stroke="#002522"/>
<path d="M475.3 360.4L483.9 360.2L477.5 371.8L468.9 371.8z" fill="#00c639" stroke="#00370f"/>
<path d="M441.3 405.7L449.7 406.3L443.3 417.8L434.9 417.1z" fill="#06ff00" stroke="#014700"/>
<path d="M352.5 514.7L360.4 517.3L353.9 528.8L345.9 526.1z" fill="#a1ff00" stroke="#2d4700"/>
<path d="M325 546L332.8 549.2L326.3 560.7L318.4 557.4z" fill="#cdff00" stroke="#394700"/>
<path d="M379.9 482.8L388 484.8L381.5 496.3L373.4 494.3z" fill="#73ff00" stroke="#204700"/>
<path d="M297.5 576.7L305.3 580.5L298.6 592L290.9 588.2z" fill="#f8ff00" stroke="#454700"/>
<path d="M407.4 450.3L415.6 451.6L409.2 463.2L401 461.7z" fill="#45ff00" stroke="#134700"/>
<path d="M502.9 325.8L511.7 325L505.3 336.5L496.6 337.3z" fill="#00936c" stroke="#00291e"/>
<path d="M468.9 371.8L477.5 371.8L471.1 383.3L462.5 383.3z" fill="#00d42b" stroke="#003b0c"/>
<path d="M434.9 417.1L443.3 417.8L436.9 429.4L428.5 428.6z" fill="#15ff00" stroke="#054700"/>
<path d="M345.9 526.1L353.9 528.8L347.3 540.4L339.4 537.6z" fill="#afff00" stroke="#314700"/>
<path d="M318.4 557.4L326.3 560.7L319.7 572.3L311.9 568.9z" fill="#dbff00" stroke="#3d4700"/>
<path d="M373.4 494.3L381.5 496.3L375 507.9L366.9 505.7z" fill="#82ff00" stroke="#244700"/>
<path d="M401 461.7L409.2 463.2L402.7 474.8L394.5 473.2z" fill="#53ff00" stroke="#174700"/>
<path d="M496.6 337.3L505.3 336.5L498.9 348.1L490.2 348.7z" fill="#00a25d" stroke="#002d1a"/>
<path d="M462.5 383.3L471.1 383.3L464.7 394.9L456.1 394.8z" fill="#00e31c" stroke="#003f07"/>
<path d="M428.5 428.6L436.9 429.4L430.4 441L422.1 440.1z" fill="#23ff00" stroke="#094700"/>
<path d="M339.4 537.6L347.3 540.4L340.7 552.1L332.8 549.2z" fill="#bdff00" stroke="#344700"/>
<path d="M366.9 505.7L375 507.9L368.4 519.6L360.4 517.3z" fill="#90ff00" stroke="#284700"/>
<path d="M311.9 568.9L319.7 572.3L313 583.9L305.3 580.5z" fill="#e9ff00" stroke="#414700"/>
<path d="M394.5 473.2L402.7 474.8L396.2 486.5L388 484.8z" fill="#61ff00" stroke="#1b4700"/>
<path d="M490.2 348.7L498.9 348.1L492.6 359.7L483.9 360.2z" fill="#00b14e" stroke="#003115"/>
<path d="M456.1 394.8L464.7 394.9L458.2 406.6L449.7 406.3z" fill="#00f10e" stroke="#004303"/>
<path d="M422.1 440.1L430.4 441L423.9 452.7L415.6 451.6z" fill="#32ff00" stroke="#0e4700"/>
<path d="M332.8 549.2L340.7 552.1L334.1 563.7L326.3 560.7z" fill="#cbff00" stroke="#384700"/>
<path d="M360.4 517.3L368.4 519.6L361.9 531.2L353.9 528.8z" fill="#9eff00" stroke="#2c4700"/>
<path d="M305.3 580.5L313 583.9L306.4 595.6L298.6 592z" fill="#f7ff00" stroke="#454700"/>
<path d="M483.9 360.2L492.6 359.7L486.2 371.4L477.5 371.8z" fill="#00bf40" stroke="#003511"/>
<path d="M388 484.8L396.2 486.5L389.6 498.1L381.5 496.3z" fill="#70ff00" stroke="#1f4700"/>
<path d="M449.7 406.3L458.2 406.6L451.8 418.2L443.3 417.8z" fill="#01ff00" stroke="#004700"/>
<path d="M415.6 451.6L423.9 452.7L417.4 464.4L409.2 463.2z" fill="#40ff00" stroke="#114700"/>
<path d="M326.3 560.7L334.1 563.7L327.5 575.4L319.7 572.3z" fill="#d9ff00" stroke="#3c4700"/>
<path d="M353.9 528.8L361.9 531.2L355.3 542.9L347.3 540.4z" fill="#acff00" stroke="#304700"/>
<path d="M477.5 371.8L486.2 371.4L479.7 383.1L471.1 383.3z" fill="#00ce31" stroke="#00390d"/>
<path d="M381.5 496.3L389.6 498.1L383.1 509.8L375 507.9z" fill="#7eff00" stroke="#234700"/>
<path d="M443.3 417.8L451.8 418.2L445.3 429.9L436.9 429.4z" fill="#0fff00" stroke="#044700"/>
<path d="M409.2 463.2L417.4 464.4L410.9 476.1L402.7 474.8z" fill="#4fff00" stroke="#164700"/>
<path d="M319.7 572.3L327.5 575.4L320.9 587.1L313 583.9z" fill="#e7ff00" stroke="#404700"/>
<path d="M347.3 540.4L355.3 542.9L348.7 554.7L340.7 552.1z" fill="#bbff00" stroke="#344700"/>
<path d="M471.1 383.3L479.7 383.1L473.3 394.8L464.7 394.9z" fill="#00dc23" stroke="#003d09"/>
<path d="M375 507.9L383.1 509.8L376.5 521.6L368.4 519.6z" fill="#8cff00" stroke="#274700"/>
<path d="M436.9 429.4L445.3 429.9L438.8 441.6L430.4 441z" fill="#1eff00" stroke="#084700"/>
<path d="M402.7 474.8L410.9 476.1L404.4 487.8L396.2 486.5z" fill="#5dff00" stroke="#1a4700"/>
<path d="M313 583.9L320.9 587.1L314.2 598.9L306.4 595.6z" fill="#f6ff00" stroke="#444700"/>
<path d="M340.7 552.1L348.7 554.7L342.1 566.4L334.1 563.7z" fill="#c9ff00" stroke="#384700"/>
<path d="M464.7 394.9L473.3 394.8L466.8 406.5L458.2 406.6z" fill="#00eb14" stroke="#004105"/>
<path d="M368.4 519.6L376.5 521.6L369.9 533.3L361.9 531.2z" fill="#9bff00" stroke="#2b4700"/>
<path d="M430.4 441L438.8 441.6L432.3 453.4L423.9 452.7z" fill="#2cff00" stroke="#0c4700"/>
<path d="M396.2 486.5L404.4 487.8L397.9 499.6L389.6 498.1z" fill="#6bff00" stroke="#1d4700"/>
<path d="M334.1 563.7L342.1 566.4L335.4 578.2L327.5 575.4z" fill="#d7ff00" stroke="#3c4700"/>
<path d="M458.2 406.6L466.8 406.5L460.4 418.3L451.8 418.2z" fill="#00fa05" stroke="#004601"/>
<path d="M423.9 452.7L432.3 453.4L425.8 465.2L417.4 464.4z" fill="#3bff00" stroke="#104700"/>
<path d="M361.9 531.2L369.9 533.3L363.3 545.1L355.3 542.9z" fill="#a9ff00" stroke="#2f4700"/>
<path d="M389.6 498.1L397.9 499.6L391.3 511.4L383.1 509.8z" fill="#7aff00" stroke="#224700"/>
<path d="M451.8 418.2L460.4 418.3L453.9 430.1L445.3 429.9z" fill="#09ff00" stroke="#024700"/>
<path d="M327.5 575.4L335.4 578.2L328.8 590L320.9 587.1z" fill="#e5ff00" stroke="#404700"/>
<path d="M417.4 464.4L425.8 465.2L419.3 477L410.9 476.1z" fill="#4aff00" stroke="#144700"/>
<path d="M355.3 542.9L363.3 545.1L356.7 557L348.7 554.7z" fill="#b7ff00" stroke="#334700"/>
<path d="M383.1 509.8L391.3 511.4L384.7 523.2L376.5 521.6z" fill="#88ff00" stroke="#264700"/>
<path d="M445.3 429.9L453.9 430.1L447.4 441.9L438.8 441.6z" fill="#18ff00" stroke="#064700"/>
<path d="M320.9 587.1L328.8 590L322.1 601.9L314.2 598.9z" fill="#f3ff00" stroke="#444700"/>
<path d="M410.9 476.1L419.3 477L412.7 488.9L404.4 487.8z" fill="#58ff00" stroke="#184700"/>
<path d="M348.7 554.7L356.7 557L350.1 568.8L342.1 566.4z" fill="#c6ff00" stroke="#374700"/>
<path d="M376.5 521.6L384.7 523.2L378.1 535.1L369.9 533.3z" fill="#97ff00" stroke="#2a4700"/>
<path d="M438.8 441.6L447.4 441.9L440.9 453.8L432.3 453.4z" fill="#27ff00" stroke="#0a4700"/>
<path d="M404.4 487.8L412.7 488.9L406.2 500.7L397.9 499.6z" fill="#67ff00" stroke="#1c4700"/>
<path d="M342.1 566.4L350.1 568.8L343.4 580.7L335.4 578.2z" fill="#d4ff00" stroke="#3b4700"/>
<path d="M369.9 533.3L378.1 535.1L371.5 547L363.3 545.1z" fill="#a5ff00" stroke="#2e4700"/>
<path d="M432.3 453.4L440.9 453.8L434.3 465.7L425.8 465.2z" fill="#35ff00" stroke="#0e4700"/>
<path d="M397.9 499.6L406.2 500.7L399.6 512.7L391.3 511.4z" fill="#75ff00" stroke="#204700"/>
<path d="M335.4 578.2L343.4 580.7L336.8 592.7L328.8 590z" fill="#e2ff00" stroke="#3f4700"/>
<path d="M363.3 545.1L371.5 547L364.8 559L356.7 557z" fill="#b4ff00" stroke="#324700"/>
<path d="M425.8 465.2L434.3 465.7L427.8 477.6L419.3 477z" fill="#44ff00" stroke="#134700"/>
<path d="M391.3 511.4L399.6 512.7L393 524.6L384.7 523.2z" fill="#84ff00" stroke="#244700"/>
<path d="M328.8 590L336.8 592.7L330.1 604.6L322.1 601.9z" fill="#f1ff00" stroke="#434700"/>
<path d="M356.7 557L364.8 559L358.2 570.9L350.1 568.8z" fill="#c2ff00" stroke="#364700"/>
<path d="M419.3 477L427.8 477.6L421.2 489.6L412.7 488.9z" fill="#52ff00" stroke="#164700"/>
<path d="M384.7 523.2L393 524.6L386.4 536.6L378.1 535.1z" fill="#92ff00" stroke="#284700"/>
<path d="M350.1 568.8L358.2 570.9L351.5 582.9L343.4 580.7z" fill="#d0ff00" stroke="#3a4700"/>
<path d="M412.7 488.9L421.2 489.6L414.6 501.6L406.2 500.7z" fill="#61ff00" stroke="#1b4700"/>
<path d="M378.1 535.1L386.4 536.6L379.7 548.6L371.5 547z" fill="#a1ff00" stroke="#2d4700"/>
<path d="M343.4 580.7L351.5 582.9L344.8 595L336.8 592.7z" fill="#dfff00" stroke="#3e4700"/>
<path d="M406.2 500.7L414.6 501.6L408 513.6L399.6 512.7z" fill="#70ff00" stroke="#1f4700"/>
<path d="M371.5 547L379.7 548.6L373.1 560.7L364.8 559z" fill="#afff00" stroke="#314700"/>
<path d="M336.8 592.7L344.8 595L338.1 607L330.1 604.6z" fill="#edff00" stroke="#424700"/>
<path d="M399.6 512.7L408 513.6L401.3 525.7L393 524.6z" fill="#7eff00" stroke="#234700"/>
<path d="M364.8 559L373.1 560.7L366.4 572.7L358.2 570.9z" fill="#beff00" stroke="#354700"/>
<path d="M393 524.6L401.3 525.7L394.7 537.8L386.4 536.6z" fill="#8dff00" stroke="#274700"/>
<path d="M358.2 570.9L366.4 572.7L359.7 584.8L351.5 582.9z" fill="#ccff00" stroke="#394700"/>
<path d="M386.4 536.6L394.7 537.8L388 549.9L379.7 548.6z" fill="#9cff00" stroke="#2b4700"/>
<path d="M351.5 582.9L359.7 584.8L353 597L344.8 595z" fill="#dbff00" stroke="#3d4700"/>
<path d="M379.7 548.6L388 549.9L381.3 562L373.1 560.7z" fill="#aaff00" stroke="#2f4700"/>
<path d="M344.8 595L353 597L346.2 609.2L338.1 607z" fill="#e9ff00" stroke="#414700"/>
<path d="M373.1 560.7L381.3 562L374.6 574.2L366.4 572.7z" fill="#b9ff00" stroke="#334700"/>
<path d="M366.4 572.7L374.6 574.2L367.9 586.5L359.7 584.8z" fill="#c7ff00" stroke="#374700"/>
<path d="M359.7 584.8L367.9 586.5L361.2 598.7L353 597z" fill="#d6ff00" stroke="#3b4700"/>
<path d="M353 597L361.2 598.7L354.4 611L346.2 609.2z" fill="#e5ff00" stroke="#404700"/>
</g>
<g fill="none">
<line x1="357" y1="342.5" x2="113.1" y2="247" stroke="#222" stroke-width="1.8"/>
<line x1="357" y1="342.5" x2="551.6" y2="230.5" stroke="#222" stroke-width="1.8"/>
<line x1="357" y1="342.5" x2="354.3" y2="621.4" stroke="#222" stroke-width="1.8"/>
</g>
<g fill="none">
<line x1="379" y1="1160" x2="146.2" y2="1230.7" stroke="#333" stroke-width="1.8" stroke-dasharray="7 4.5"/>
<line x1="379" y1="1160" x2="533.5" y2="1288.8" stroke="#333" stroke-width="1.8" stroke-dasharray="7 4.5"/>
<line x1="379" y1="1160" x2="384" y2="922.8" stroke="#333" stroke-width="1.8" stroke-dasharray="7 4.5"/>
<line x1="384" y1="922.8" x2="129.5" y2="979.5" stroke="#333" stroke-width="1.8"/>
<line x1="384" y1="922.8" x2="555" y2="1025.3" stroke="#333" stroke-width="1.8"/>
<line x1="146.2" y1="1230.7" x2="129.5" y2="979.5" stroke="#333" stroke-width="1.8"/>
<line x1="533.5" y1="1288.8" x2="555" y2="1025.3" stroke="#333" stroke-width="1.8"/>
<line x1="146.2" y1="1230.7" x2="276.7" y2="1383.1" stroke="#333" stroke-width="1.8"/>
<line x1="533.5" y1="1288.8" x2="276.7" y2="1383.1" stroke="#333" stroke-width="1.8"/>
</g>
<g stroke-width="1.7" stroke-linejoin="round">
<path d="M384 922.8L388.9 925.8L381 930.4L376.1 927.7z" fill="#0003fc" stroke="#000046"/>
<path d="M376.1 927.7L381 930.4L373 935.1L368.2 932.5z" fill="#0009f6" stroke="#000244"/>
<path d="M368.2 932.5L373 935.1L365.1 939.7L360.3 937.4z" fill="#000ff0" stroke="#000443"/>
<path d="M388.9 925.8L393.8 929.3L385.9 933.8L381 930.4z" fill="#0003fc" stroke="#000046"/>
<path d="M360.3 937.4L365.1 939.7L357.1 944.4L352.3 942.3z" fill="#0015ea" stroke="#000541"/>
<path d="M381 930.4L385.9 933.8L377.9 938.2L373 935.1z" fill="#0009f6" stroke="#000244"/>
<path d="M352.3 942.3L357.1 944.4L349.1 949.1L344.3 947.2z" fill="#001be4" stroke="#00073f"/>
<path d="M373 935.1L377.9 938.2L370 942.7L365.1 939.7z" fill="#000ef1" stroke="#000343"/>
<path d="M344.3 947.2L349.1 949.1L341 953.9L336.3 952.1z" fill="#0020df" stroke="#00083e"/>
<path d="M393.8 929.3L398.8 933.5L390.9 937.7L385.9 933.8z" fill="#0005fa" stroke="#000146"/>
<path d="M365.1 939.7L370 942.7L361.9 947.2L357.1 944.4z" fill="#0014eb" stroke="#000541"/>
<path d="M336.3 952.1L341 953.9L333 958.6L328.3 957.1z" fill="#0026d9" stroke="#000a3c"/>
<path d="M385.9 933.8L390.9 937.7L382.9 942L377.9 938.2z" fill="#000af5" stroke="#000244"/>
<path d="M328.3 957.1L333 958.6L324.9 963.3L320.2 962z" fill="#002cd3" stroke="#000c3b"/>
<path d="M357.1 944.4L361.9 947.2L353.9 951.7L349.1 949.1z" fill="#0019e6" stroke="#000740"/>
<path d="M377.9 938.2L382.9 942L374.9 946.2L370 942.7z" fill="#000ff0" stroke="#000443"/>
<path d="M320.2 962L324.9 963.3L316.8 968.1L312.1 967z" fill="#0032cd" stroke="#000e39"/>
<path d="M349.1 949.1L353.9 951.7L345.8 956.2L341 953.9z" fill="#001ee1" stroke="#00083f"/>
<path d="M398.8 933.5L403.8 938.3L395.8 942.3L390.9 937.7z" fill="#0007f8" stroke="#000145"/>
<path d="M370 942.7L374.9 946.2L366.8 950.5L361.9 947.2z" fill="#0014eb" stroke="#000541"/>
<path d="M312.1 967L316.8 968.1L308.6 972.9L304 972z" fill="#0038c7" stroke="#000f37"/>
<path d="M341 953.9L345.8 956.2L337.7 960.7L333 958.6z" fill="#0024db" stroke="#000a3d"/>
<path d="M390.9 937.7L395.8 942.3L387.8 946.4L382.9 942z" fill="#000cf3" stroke="#000344"/>
<path d="M361.9 947.2L366.8 950.5L358.8 954.8L353.9 951.7z" fill="#0019e6" stroke="#000740"/>
<path d="M304 972L308.6 972.9L300.4 977.7L295.9 977z" fill="#003ec1" stroke="#001136"/>
<path d="M333 958.6L337.7 960.7L329.6 965.3L324.9 963.3z" fill="#0029d6" stroke="#000b3b"/>
<path d="M382.9 942L387.8 946.4L379.8 950.4L374.9 946.2z" fill="#0011ee" stroke="#000442"/>
<path d="M403.8 938.3L408.8 943.8L400.8 947.6L395.8 942.3z" fill="#000bf4" stroke="#000344"/>
<path d="M353.9 951.7L358.8 954.8L350.7 959.1L345.8 956.2z" fill="#001ee1" stroke="#00083f"/>
<path d="M295.9 977L300.4 977.7L292.2 982.5L287.7 982z" fill="#0044bb" stroke="#001334"/>
<path d="M324.9 963.3L329.6 965.3L321.4 969.8L316.8 968.1z" fill="#002fd0" stroke="#000d3a"/>
<path d="M374.9 946.2L379.8 950.4L371.7 954.5L366.8 950.5z" fill="#0015ea" stroke="#000541"/>
<path d="M395.8 942.3L400.8 947.6L392.8 951.4L387.8 946.4z" fill="#000ff0" stroke="#000443"/>
<path d="M287.7 982L292.2 982.5L284 987.4L279.5 987.1z" fill="#004ab5" stroke="#001432"/>
<path d="M345.8 956.2L350.7 959.1L342.5 963.5L337.7 960.7z" fill="#0023dc" stroke="#00093d"/>
<path d="M316.8 968.1L321.4 969.8L313.3 974.4L308.6 972.9z" fill="#0034cb" stroke="#000e38"/>
<path d="M366.8 950.5L371.7 954.5L363.7 958.6L358.8 954.8z" fill="#001ae5" stroke="#000740"/>
<path d="M408.8 943.8L413.9 949.9L405.9 953.5L400.8 947.6z" fill="#0010ef" stroke="#000442"/>
<path d="M387.8 946.4L392.8 951.4L384.8 955.3L379.8 950.4z" fill="#0013ec" stroke="#000542"/>
<path d="M279.5 987.1L284 987.4L275.7 992.2L271.3 992.1z" fill="#0050af" stroke="#001631"/>
<path d="M337.7 960.7L342.5 963.5L334.4 967.8L329.6 965.3z" fill="#0028d7" stroke="#000b3c"/>
<path d="M308.6 972.9L313.3 974.4L305 979L300.4 977.7z" fill="#003ac5" stroke="#001037"/>
<path d="M358.8 954.8L363.7 958.6L355.5 962.7L350.7 959.1z" fill="#001ee1" stroke="#00083f"/>
<path d="M271.3 992.1L275.7 992.2L267.4 997.1L263 997.2z" fill="#0055aa" stroke="#00172f"/>
<path d="M379.8 950.4L384.8 955.3L376.7 959.2L371.7 954.5z" fill="#0018e7" stroke="#000640"/>
<path d="M400.8 947.6L405.9 953.5L397.9 957.1L392.8 951.4z" fill="#0014eb" stroke="#000541"/>
<path d="M329.6 965.3L334.4 967.8L326.2 972.2L321.4 969.8z" fill="#002dd2" stroke="#000c3a"/>
<path d="M300.4 977.7L305 979L296.8 983.6L292.2 982.5z" fill="#003fc0" stroke="#001135"/>
<path d="M350.7 959.1L355.5 962.7L347.4 966.9L342.5 963.5z" fill="#0023dc" stroke="#00093d"/>
<path d="M263 997.2L267.4 997.1L259.1 1002L254.8 1002.3z" fill="#005ba4" stroke="#00192d"/>
<path d="M413.9 949.9L418.9 956.7L410.9 960.1L405.9 953.5z" fill="#0016e9" stroke="#000641"/>
<path d="M371.7 954.5L376.7 959.2L368.6 963.1L363.7 958.6z" fill="#001ce3" stroke="#00073f"/>
<path d="M392.8 951.4L397.9 957.1L389.8 960.8L384.8 955.3z" fill="#0018e7" stroke="#000640"/>
<path d="M321.4 969.8L326.2 972.2L318 976.6L313.3 974.4z" fill="#0032cd" stroke="#000e39"/>
<path d="M292.2 982.5L296.8 983.6L288.5 988.3L284 987.4z" fill="#0045ba" stroke="#001334"/>
<path d="M254.8 1002.3L259.1 1002L250.7 1006.9L246.4 1007.4z" fill="#00619e" stroke="#001b2c"/>
<path d="M342.5 963.5L347.4 966.9L339.2 971L334.4 967.8z" fill="#0027d8" stroke="#000a3c"/>
<path d="M405.9 953.5L410.9 960.1L402.9 963.5L397.9 957.1z" fill="#001ae5" stroke="#000740"/>
<path d="M284 987.4L288.5 988.3L280.2 992.9L275.7 992.2z" fill="#004ab5" stroke="#001432"/>
<path d="M313.3 974.4L318 976.6L309.7 981L305 979z" fill="#0037c8" stroke="#000f38"/>
<path d="M363.7 958.6L368.6 963.1L360.4 967L355.5 962.7z" fill="#0020df" stroke="#00083e"/>
<path d="M384.8 955.3L389.8 960.8L381.7 964.5L376.7 959.2z" fill="#001be4" stroke="#00073f"/>
<path d="M246.4 1007.4L250.7 1006.9L242.3 1011.8L238.1 1012.5z" fill="#006798" stroke="#001c2a"/>
<path d="M418.9 956.7L424 964.1L416 967.3L410.9 960.1z" fill="#001ee1" stroke="#00083f"/>
<path d="M334.4 967.8L339.2 971L331 975.2L326.2 972.2z" fill="#002cd3" stroke="#000c3b"/>
<path d="M275.7 992.2L280.2 992.9L271.9 997.6L267.4 997.1z" fill="#004fb0" stroke="#001631"/>
<path d="M305 979L309.7 981L301.4 985.4L296.8 983.6z" fill="#003cc3" stroke="#001036"/>
<path d="M397.9 957.1L402.9 963.5L394.8 966.9L389.8 960.8z" fill="#001de2" stroke="#00083f"/>
<path d="M355.5 962.7L360.4 967L352.3 970.9L347.4 966.9z" fill="#0024db" stroke="#000a3d"/>
<path d="M376.7 959.2L381.7 964.5L373.6 968.1L368.6 963.1z" fill="#001fe0" stroke="#00083e"/>
<path d="M238.1 1012.5L242.3 1011.8L233.9 1016.8L229.8 1017.6z" fill="#006d92" stroke="#001e28"/>
<path d="M326.2 972.2L331 975.2L322.7 979.3L318 976.6z" fill="#0030cf" stroke="#000d39"/>
<path d="M267.4 997.1L271.9 997.6L263.5 1002.3L259.1 1002z" fill="#0055aa" stroke="#00172f"/>
<path d="M410.9 960.1L416 967.3L408 970.5L402.9 963.5z" fill="#0021de" stroke="#00093e"/>
<path d="M296.8 983.6L301.4 985.4L293.1 989.8L288.5 988.3z" fill="#0041be" stroke="#001235"/>
<path d="M347.4 966.9L352.3 970.9L344 974.8L339.2 971z" fill="#0028d7" stroke="#000b3c"/>
<path d="M389.8 960.8L394.8 966.9L386.7 970.4L381.7 964.5z" fill="#0020df" stroke="#00083e"/>
<path d="M229.8 1017.6L233.9 1016.8L225.5 1021.7L221.4 1022.8z" fill="#00738c" stroke="#002027"/>
<path d="M368.6 963.1L373.6 968.1L365.4 971.8L360.4 967z" fill="#0022dd" stroke="#00093d"/>
<path d="M424 964.1L429.1 972.2L421.1 975.2L416 967.3z" fill="#0026d9" stroke="#000a3c"/>
<path d="M318 976.6L322.7 979.3L314.4 983.5L309.7 981z" fill="#0035ca" stroke="#000e38"/>
<path d="M259.1 1002L263.5 1002.3L255.1 1007L250.7 1006.9z" fill="#005aa5" stroke="#00192e"/>
<path d="M288.5 988.3L293.1 989.8L284.7 994.3L280.2 992.9z" fill="#0046b9" stroke="#001333"/>
<path d="M402.9 963.5L408 970.5L399.9 973.8L394.8 966.9z" fill="#0023dc" stroke="#00093d"/>
<path d="M221.4 1022.8L225.5 1021.7L217 1026.7L212.9 1028z" fill="#007986" stroke="#002125"/>
<path d="M339.2 971L344 974.8L335.8 978.8L331 975.2z" fill="#002cd3" stroke="#000c3b"/>
<path d="M381.7 964.5L386.7 970.4L378.6 973.9L373.6 968.1z" fill="#0023dc" stroke="#00093d"/>
<path d="M360.4 967L365.4 971.8L357.2 975.6L352.3 970.9z" fill="#0026d9" stroke="#000a3c"/>
<path d="M416 967.3L421.1 975.2L413 978.2L408 970.5z" fill="#0029d6" stroke="#000b3b"/>
<path d="M250.7 1006.9L255.1 1007L246.6 1011.7L242.3 1011.8z" fill="#00609f" stroke="#001a2c"/>
<path d="M309.7 981L314.4 983.5L306.1 987.7L301.4 985.4z" fill="#0039c6" stroke="#000f37"/>
<path d="M280.2 992.9L284.7 994.3L276.4 998.7L271.9 997.6z" fill="#004bb4" stroke="#001532"/>
<path d="M212.9 1028L217 1026.7L208.5 1031.7L204.5 1033.2z" fill="#007f80" stroke="#002323"/>
<path d="M429.1 972.2L434.2 980.9L426.2 983.7L421.1 975.2z" fill="#0030cf" stroke="#000d39"/>
<path d="M394.8 966.9L399.9 973.8L391.7 977L386.7 970.4z" fill="#0026d9" stroke="#000a3c"/>
<path d="M331 975.2L335.8 978.8L327.5 982.7L322.7 979.3z" fill="#0030cf" stroke="#000d39"/>
<path d="M373.6 968.1L378.6 973.9L370.4 977.4L365.4 971.8z" fill="#0026d9" stroke="#000a3c"/>
<path d="M352.3 970.9L357.2 975.6L348.9 979.3L344 974.8z" fill="#002ad5" stroke="#000b3b"/>
<path d="M242.3 1011.8L246.6 1011.7L238.2 1016.5L233.9 1016.8z" fill="#00659a" stroke="#001c2b"/>
<path d="M301.4 985.4L306.1 987.7L297.7 992L293.1 989.8z" fill="#003ec1" stroke="#001136"/>
<path d="M271.9 997.6L276.4 998.7L267.9 1003.2L263.5 1002.3z" fill="#0050af" stroke="#001631"/>
<path d="M408 970.5L413 978.2L404.9 981.2L399.9 973.8z" fill="#002bd4" stroke="#000c3b"/>
<path d="M204.5 1033.2L208.5 1031.7L200 1036.7L196 1038.4z" fill="#00857a" stroke="#002522"/>
<path d="M322.7 979.3L327.5 982.7L319.2 986.7L314.4 983.5z" fill="#0034cb" stroke="#000e38"/>
<path d="M421.1 975.2L426.2 983.7L418.1 986.5L413 978.2z" fill="#0032cd" stroke="#000e39"/>
<path d="M386.7 970.4L391.7 977L383.6 980.3L378.6 973.9z" fill="#0029d6" stroke="#000b3b"/>
<path d="M233.9 1016.8L238.2 1016.5L229.7 1021.2L225.5 1021.7z" fill="#006b94" stroke="#001d29"/>
<path d="M344 974.8L348.9 979.3L340.7 983L335.8 978.8z" fill="#002dd2" stroke="#000c3a"/>
<path d="M434.2 980.9L439.3 990.3L431.3 992.9L426.2 983.7z" fill="#003bc4" stroke="#001036"/>
<path d="M365.4 971.8L370.4 977.4L362.1 980.9L357.2 975.6z" fill="#002ad5" stroke="#000b3b"/>
<path d="M293.1 989.8L297.7 992L289.3 996.2L284.7 994.3z" fill="#0042bd" stroke="#001234"/>
<path d="M196 1038.4L200 1036.7L191.4 1041.7L187.5 1043.6z" fill="#008a75" stroke="#002620"/>
<path d="M263.5 1002.3L267.9 1003.2L259.5 1007.7L255.1 1007z" fill="#0055aa" stroke="#00172f"/>
<path d="M399.9 973.8L404.9 981.2L396.8 984.3L391.7 977z" fill="#002dd2" stroke="#000c3a"/>
<path d="M314.4 983.5L319.2 986.7L310.8 990.7L306.1 987.7z" fill="#0038c7" stroke="#000f37"/>
<path d="M225.5 1021.7L229.7 1021.2L221.1 1026L217 1026.7z" fill="#00708f" stroke="#001f28"/>
<path d="M378.6 973.9L383.6 980.3L375.4 983.6L370.4 977.4z" fill="#002bd4" stroke="#000c3b"/>
<path d="M413 978.2L418.1 986.5L410 989.4L404.9 981.2z" fill="#0034cb" stroke="#000e38"/>
<path d="M335.8 978.8L340.7 983L332.4 986.8L327.5 982.7z" fill="#0031ce" stroke="#000d39"/>
<path d="M187.5 1043.6L191.4 1041.7L182.8 1046.8L179 1048.9z" fill="#00906f" stroke="#00281f"/>
<path d="M284.7 994.3L289.3 996.2L280.9 1000.5L276.4 998.7z" fill="#0047b8" stroke="#001333"/>
<path d="M357.2 975.6L362.1 980.9L353.9 984.4L348.9 979.3z" fill="#002dd2" stroke="#000c3a"/>
<path d="M255.1 1007L259.5 1007.7L251 1012.2L246.6 1011.7z" fill="#005aa5" stroke="#00192e"/>
<path d="M426.2 983.7L431.3 992.9L423.3 995.5L418.1 986.5z" fill="#003cc3" stroke="#001036"/>
<path d="M439.3 990.3L444.5 1000.4L436.4 1002.8L431.3 992.9z" fill="#0047b8" stroke="#001333"/>
<path d="M391.7 977L396.8 984.3L388.6 987.3L383.6 980.3z" fill="#002fd0" stroke="#000d3a"/>
<path d="M306.1 987.7L310.8 990.7L302.4 994.7L297.7 992z" fill="#003cc3" stroke="#001036"/>
<path d="M217 1026.7L221.1 1026L212.6 1030.8L208.5 1031.7z" fill="#007689" stroke="#002126"/>
<path d="M179 1048.9L182.8 1046.8L174.2 1051.8L170.4 1054.1z" fill="#009669" stroke="#002a1d"/>
<path d="M370.4 977.4L375.4 983.6L367.1 986.9L362.1 980.9z" fill="#002ed1" stroke="#000c3a"/>
<path d="M276.4 998.7L280.9 1000.5L272.5 1004.7L267.9 1003.2z" fill="#004bb4" stroke="#001532"/>
<path d="M246.6 1011.7L251 1012.2L242.5 1016.8L238.2 1016.5z" fill="#005fa0" stroke="#001a2c"/>
<path d="M327.5 982.7L332.4 986.8L324 990.6L319.2 986.7z" fill="#0035ca" stroke="#000e38"/>
<path d="M404.9 981.2L410 989.4L401.9 992.2L396.8 984.3z" fill="#0036c9" stroke="#000f38"/>
<path d="M348.9 979.3L353.9 984.4L345.6 987.9L340.7 983z" fill="#0030cf" stroke="#000d39"/>
<path d="M418.1 986.5L423.3 995.5L415.1 998.2L410 989.4z" fill="#003ec1" stroke="#001136"/>
<path d="M208.5 1031.7L212.6 1030.8L204 1035.6L200 1036.7z" fill="#007b84" stroke="#002224"/>
<path d="M444.5 1000.4L449.6 1011.1L441.6 1013.3L436.4 1002.8z" fill="#0054ab" stroke="#00172f"/>
<path d="M431.3 992.9L436.4 1002.8L428.4 1005.2L423.3 995.5z" fill="#0048b7" stroke="#001433"/>
<path d="M297.7 992L302.4 994.7L294 998.8L289.3 996.2z" fill="#0040bf" stroke="#001135"/>
<path d="M170.4 1054.1L174.2 1051.8L165.5 1056.9L161.8 1059.4z" fill="#009c63" stroke="#002b1b"/>
<path d="M383.6 980.3L388.6 987.3L380.4 990.4L375.4 983.6z" fill="#0032cd" stroke="#000e39"/>
<path d="M238.2 1016.5L242.5 1016.8L233.9 1021.3L229.7 1021.2z" fill="#00649b" stroke="#001c2b"/>
<path d="M267.9 1003.2L272.5 1004.7L264 1009L259.5 1007.7z" fill="#0050af" stroke="#001631"/>
<path d="M319.2 986.7L324 990.6L315.6 994.4L310.8 990.7z" fill="#0038c7" stroke="#000f37"/>
<path d="M362.1 980.9L367.1 986.9L358.8 990.2L353.9 984.4z" fill="#0031ce" stroke="#000d39"/>
<path d="M340.7 983L345.6 987.9L337.2 991.5L332.4 986.8z" fill="#0033cc" stroke="#000e39"/>
<path d="M396.8 984.3L401.9 992.2L393.7 995.1L388.6 987.3z" fill="#0037c8" stroke="#000f38"/>
<path d="M200 1036.7L204 1035.6L195.4 1040.4L191.4 1041.7z" fill="#00807f" stroke="#002323"/>
<path d="M161.8 1059.4L165.5 1056.9L156.8 1062L153.2 1064.7z" fill="#00a25d" stroke="#002d1a"/>
<path d="M410 989.4L415.1 998.2L407 1000.8L401.9 992.2z" fill="#003fc0" stroke="#001135"/>
<path d="M289.3 996.2L294 998.8L285.6 1002.8L280.9 1000.5z" fill="#0044bb" stroke="#001334"/>
<path d="M449.6 1011.1L454.7 1022.5L446.7 1024.5L441.6 1013.3z" fill="#00639c" stroke="#001b2b"/>
<path d="M229.7 1021.2L233.9 1021.3L225.4 1025.9L221.1 1026z" fill="#006996" stroke="#001d2a"/>
<path d="M423.3 995.5L428.4 1005.2L420.3 1007.6L415.1 998.2z" fill="#0049b6" stroke="#001432"/>
<path d="M375.4 983.6L380.4 990.4L372.2 993.5L367.1 986.9z" fill="#0034cb" stroke="#000e38"/>
<path d="M436.4 1002.8L441.6 1013.3L433.5 1015.5L428.4 1005.2z" fill="#0055aa" stroke="#00172f"/>
<path d="M259.5 1007.7L264 1009L255.4 1013.4L251 1012.2z" fill="#0055aa" stroke="#00172f"/>
<path d="M310.8 990.7L315.6 994.4L307.2 998.2L302.4 994.7z" fill="#003cc3" stroke="#001036"/>
<path d="M353.9 984.4L358.8 990.2L350.5 993.5L345.6 987.9z" fill="#0034cb" stroke="#000e38"/>
<path d="M332.4 986.8L337.2 991.5L328.9 995.1L324 990.6z" fill="#0036c9" stroke="#000f38"/>
<path d="M191.4 1041.7L195.4 1040.4L186.7 1045.3L182.8 1046.8z" fill="#008679" stroke="#002521"/>
<path d="M153.2 1064.7L156.8 1062L148.1 1067.2L144.6 1070z" fill="#00a857" stroke="#002f18"/>
<path d="M388.6 987.3L393.7 995.1L385.5 997.9L380.4 990.4z" fill="#0039c6" stroke="#000f37"/>
<path d="M280.9 1000.5L285.6 1002.8L277.1 1006.9L272.5 1004.7z" fill="#0049b6" stroke="#001432"/>
<path d="M221.1 1026L225.4 1025.9L216.7 1030.5L212.6 1030.8z" fill="#006d92" stroke="#001e28"/>
<path d="M454.7 1022.5L459.8 1034.5L451.8 1036.3L446.7 1024.5z" fill="#00728d" stroke="#001f27"/>
<path d="M251 1012.2L255.4 1013.4L246.9 1017.7L242.5 1016.8z" fill="#0059a6" stroke="#00182e"/>
<path d="M401.9 992.2L407 1000.8L398.8 1003.4L393.7 995.1z" fill="#0040bf" stroke="#001135"/>
<path d="M367.1 986.9L372.2 993.5L363.9 996.6L358.8 990.2z" fill="#0036c9" stroke="#000f38"/>
<path d="M441.6 1013.3L446.7 1024.5L438.6 1026.5L433.5 1015.5z" fill="#00639c" stroke="#001b2b"/>
<path d="M415.1 998.2L420.3 1007.6L412.1 1010L407 1000.8z" fill="#004ab5" stroke="#001432"/>
<path d="M302.4 994.7L307.2 998.2L298.7 1002L294 998.8z" fill="#003fc0" stroke="#001135"/>
<path d="M428.4 1005.2L433.5 1015.5L425.4 1017.7L420.3 1007.6z" fill="#0055aa" stroke="#00172f"/>
<path d="M182.8 1046.8L186.7 1045.3L178 1050.1L174.2 1051.8z" fill="#008b74" stroke="#002620"/>
<path d="M144.6 1070L148.1 1067.2L139.4 1072.3L135.9 1075.3z" fill="#00ae51" stroke="#003016"/>
<path d="M345.6 987.9L350.5 993.5L342.2 996.8L337.2 991.5z" fill="#0036c9" stroke="#000f38"/>
<path d="M324 990.6L328.9 995.1L320.4 998.6L315.6 994.4z" fill="#0039c6" stroke="#000f37"/>
<path d="M272.5 1004.7L277.1 1006.9L268.5 1011L264 1009z" fill="#004db2" stroke="#001531"/>
<path d="M380.4 990.4L385.5 997.9L377.2 1000.8L372.2 993.5z" fill="#003bc4" stroke="#001036"/>
<path d="M212.6 1030.8L216.7 1030.5L208.1 1035.1L204 1035.6z" fill="#00728d" stroke="#001f27"/>
<path d="M459.8 1034.5L464.9 1047.2L456.9 1048.8L451.8 1036.3z" fill="#00837c" stroke="#002422"/>
<path d="M242.5 1016.8L246.9 1017.7L238.3 1022L233.9 1021.3z" fill="#005ea1" stroke="#001a2d"/>
<path d="M174.2 1051.8L178 1050.1L169.3 1055L165.5 1056.9z" fill="#00916e" stroke="#00281e"/>
<path d="M393.7 995.1L398.8 1003.4L390.6 1006.1L385.5 997.9z" fill="#0042bd" stroke="#001234"/>
<path d="M446.7 1024.5L451.8 1036.3L443.7 1038.1L438.6 1026.5z" fill="#00728d" stroke="#001f27"/>
<path d="M294 998.8L298.7 1002L290.2 1005.8L285.6 1002.8z" fill="#0043bc" stroke="#001234"/>
<path d="M358.8 990.2L363.9 996.6L355.5 999.7L350.5 993.5z" fill="#0039c6" stroke="#000f37"/>
<path d="M407 1000.8L412.1 1010L403.9 1012.5L398.8 1003.4z" fill="#004bb4" stroke="#001532"/>
<path d="M433.5 1015.5L438.6 1026.5L430.5 1028.5L425.4 1017.7z" fill="#00639c" stroke="#001b2b"/>
<path d="M315.6 994.4L320.4 998.6L312 1002.2L307.2 998.2z" fill="#003dc2" stroke="#001136"/>
<path d="M337.2 991.5L342.2 996.8L333.8 1000.2L328.9 995.1z" fill="#0039c6" stroke="#000f37"/>
<path d="M420.3 1007.6L425.4 1017.7L417.2 1020L412.1 1010z" fill="#0056a9" stroke="#00182f"/>
<path d="M464.9 1047.2L470 1060.5L462 1062L456.9 1048.8z" fill="#00956a" stroke="#00291d"/>
<path d="M204 1035.6L208.1 1035.1L199.4 1039.7L195.4 1040.4z" fill="#007788" stroke="#002126"/>
<path d="M264 1009L268.5 1011L259.9 1015.1L255.4 1013.4z" fill="#0051ae" stroke="#001630"/>
<path d="M233.9 1021.3L238.3 1022L229.7 1026.4L225.4 1025.9z" fill="#00629d" stroke="#001b2b"/>
<path d="M372.2 993.5L377.2 1000.8L368.9 1003.7L363.9 996.6z" fill="#003dc2" stroke="#001136"/>
<path d="M165.5 1056.9L169.3 1055L160.5 1059.9L156.8 1062z" fill="#009669" stroke="#002a1d"/>
<path d="M451.8 1036.3L456.9 1048.8L448.9 1050.4L443.7 1038.1z" fill="#00827d" stroke="#002423"/>
<path d="M285.6 1002.8L290.2 1005.8L281.7 1009.7L277.1 1006.9z" fill="#0047b8" stroke="#001333"/>
<path d="M470 1060.5L475.1 1074.5L467.1 1075.8L462 1062z" fill="#00a857" stroke="#002f18"/>
<path d="M350.5 993.5L355.5 999.7L347.1 1002.9L342.2 996.8z" fill="#003bc4" stroke="#001036"/>
<path d="M385.5 997.9L390.6 1006.1L382.3 1008.8L377.2 1000.8z" fill="#0043bc" stroke="#001234"/>
<path d="M307.2 998.2L312 1002.2L303.5 1005.9L298.7 1002z" fill="#0040bf" stroke="#001135"/>
<path d="M195.4 1040.4L199.4 1039.7L190.7 1044.4L186.7 1045.3z" fill="#007c83" stroke="#002224"/>
<path d="M328.9 995.1L333.8 1000.2L325.3 1003.6L320.4 998.6z" fill="#003cc3" stroke="#001036"/>
<path d="M438.6 1026.5L443.7 1038.1L435.6 1040L430.5 1028.5z" fill="#00718e" stroke="#001f27"/>
<path d="M255.4 1013.4L259.9 1015.1L251.3 1019.2L246.9 1017.7z" fill="#0055aa" stroke="#00172f"/>
<path d="M398.8 1003.4L403.9 1012.5L395.7 1015L390.6 1006.1z" fill="#004cb3" stroke="#001532"/>
<path d="M225.4 1025.9L229.7 1026.4L221 1030.8L216.7 1030.5z" fill="#006798" stroke="#001c2a"/>
<path d="M425.4 1017.7L430.5 1028.5L422.4 1030.6L417.2 1020z" fill="#00639c" stroke="#001b2b"/>
<path d="M412.1 1010L417.2 1020L409 1022.2L403.9 1012.5z" fill="#0056a9" stroke="#00182f"/>
<path d="M156.8 1062L160.5 1059.9L151.7 1064.9L148.1 1067.2z" fill="#009c63" stroke="#002b1b"/>
<path d="M475.1 1074.5L480.1 1089.1L472.2 1090.2L467.1 1075.8z" fill="#00bc43" stroke="#003412"/>
<path d="M456.9 1048.8L462 1062L454 1063.4L448.9 1050.4z" fill="#00946b" stroke="#00291d"/>
<path d="M363.9 996.6L368.9 1003.7L360.5 1006.6L355.5 999.7z" fill="#003fc0" stroke="#001135"/>
<path d="M277.1 1006.9L281.7 1009.7L273.1 1013.6L268.5 1011z" fill="#004ab5" stroke="#001432"/>
<path d="M528.9 1268.1L533.5 1289.1L525.9 1288.5L521.2 1267.7z" fill="#eaff00" stroke="#414700"/>
<path d="M186.7 1045.3L190.7 1044.4L181.9 1049L178 1050.1z" fill="#00817e" stroke="#002423"/>
<path d="M342.2 996.8L347.1 1002.9L338.7 1006L333.8 1000.2z" fill="#003dc2" stroke="#001136"/>
<path d="M480.1 1089.1L485.1 1104.4L477.2 1105.2L472.2 1090.2z" fill="#00d22d" stroke="#003a0c"/>
<path d="M443.7 1038.1L448.9 1050.4L440.8 1052.1L435.6 1040z" fill="#00817e" stroke="#002423"/>
<path d="M298.7 1002L303.5 1005.9L295 1009.5L290.2 1005.8z" fill="#0043bc" stroke="#001234"/>
<path d="M377.2 1000.8L382.3 1008.8L374 1011.5L368.9 1003.7z" fill="#0045ba" stroke="#001334"/>
<path d="M246.9 1017.7L251.3 1019.2L242.7 1023.4L238.3 1022z" fill="#0059a6" stroke="#00182e"/>
<path d="M320.4 998.6L325.3 1003.6L316.8 1007L312 1002.2z" fill="#003fc0" stroke="#001135"/>
<path d="M216.7 1030.5L221 1030.8L212.3 1035.2L208.1 1035.1z" fill="#006b94" stroke="#001d29"/>
<path d="M148.1 1067.2L151.7 1064.9L142.9 1069.8L139.4 1072.3z" fill="#00a15e" stroke="#002d1a"/>
<path d="M462 1062L467.1 1075.8L459.1 1077L454 1063.4z" fill="#00a659" stroke="#002e18"/>
<path d="M524.2 1247.7L528.9 1268.1L521.2 1267.7L516.5 1247.3z" fill="#c9ff00" stroke="#384700"/>
<path d="M430.5 1028.5L435.6 1040L427.5 1041.8L422.4 1030.6z" fill="#00718e" stroke="#001f27"/>
<path d="M390.6 1006.1L395.7 1015L387.4 1017.4L382.3 1008.8z" fill="#004db2" stroke="#001531"/>
<path d="M485.1 1104.4L490.1 1120.2L482.2 1120.9L477.2 1105.2z" fill="#00e916" stroke="#004106"/>
<path d="M417.2 1020L422.4 1030.6L414.2 1032.6L409 1022.2z" fill="#00639c" stroke="#001b2b"/>
<path d="M403.9 1012.5L409 1022.2L400.8 1024.5L395.7 1015z" fill="#0057a8" stroke="#00182f"/>
<path d="M519.4 1227.8L524.2 1247.7L516.5 1247.3L511.7 1227.6z" fill="#a9ff00" stroke="#2f4700"/>
<path d="M355.5 999.7L360.5 1006.6L352.1 1009.6L347.1 1002.9z" fill="#0041be" stroke="#001235"/>
<path d="M268.5 1011L273.1 1013.6L264.5 1017.5L259.9 1015.1z" fill="#004eb1" stroke="#001531"/>
<path d="M490.1 1120.2L495.1 1136.7L487.2 1137.2L482.2 1120.9z" fill="#01ff00" stroke="#004700"/>
<path d="M178 1050.1L181.9 1049L173.2 1053.7L169.3 1055z" fill="#008679" stroke="#002521"/>
<path d="M514.7 1208.4L519.4 1227.8L511.7 1227.6L506.9 1208.4z" fill="#8aff00" stroke="#264700"/>
<path d="M448.9 1050.4L454 1063.4L445.9 1064.8L440.8 1052.1z" fill="#00926d" stroke="#00281e"/>
<path d="M467.1 1075.8L472.2 1090.2L464.2 1091.2L459.1 1077z" fill="#00ba45" stroke="#003413"/>
<path d="M495.1 1136.7L500.1 1153.7L492.2 1154.1L487.2 1137.2z" fill="#1aff00" stroke="#074700"/>
<path d="M333.8 1000.2L338.7 1006L330.2 1009.2L325.3 1003.6z" fill="#003fc0" stroke="#001135"/>
<path d="M509.8 1189.6L514.7 1208.4L506.9 1208.4L502.1 1189.7z" fill="#6dff00" stroke="#1e4700"/>
<path d="M238.3 1022L242.7 1023.4L234 1027.5L229.7 1026.4z" fill="#005da2" stroke="#001a2d"/>
<path d="M290.2 1005.8L295 1009.5L286.4 1013.2L281.7 1009.7z" fill="#0046b9" stroke="#001333"/>
<path d="M208.1 1035.1L212.3 1035.2L203.5 1039.6L199.4 1039.7z" fill="#00708f" stroke="#001f28"/>
<path d="M500.1 1153.7L505 1171.4L497.2 1171.6L492.2 1154.1z" fill="#35ff00" stroke="#0e4700"/>
<path d="M505 1171.4L509.8 1189.6L502.1 1189.7L497.2 1171.6z" fill="#50ff00" stroke="#164700"/>
<path d="M312 1002.2L316.8 1007L308.3 1010.4L303.5 1005.9z" fill="#0041be" stroke="#001235"/>
<path d="M368.9 1003.7L374 1011.5L365.6 1014.2L360.5 1006.6z" fill="#0046b9" stroke="#001333"/>
<path d="M435.6 1040L440.8 1052.1L432.6 1053.7L427.5 1041.8z" fill="#00807f" stroke="#002323"/>
<path d="M472.2 1090.2L477.2 1105.2L469.2 1106.1L464.2 1091.2z" fill="#00cf30" stroke="#00390d"/>
<path d="M382.3 1008.8L387.4 1017.4L379 1019.9L374 1011.5z" fill="#004eb1" stroke="#001531"/>
<path d="M169.3 1055L173.2 1053.7L164.3 1058.4L160.5 1059.9z" fill="#008b74" stroke="#002620"/>
<path d="M259.9 1015.1L264.5 1017.5L255.9 1021.4L251.3 1019.2z" fill="#0052ad" stroke="#001630"/>
<path d="M422.4 1030.6L427.5 1041.8L419.3 1043.7L414.2 1032.6z" fill="#00718e" stroke="#001f27"/>
<path d="M454 1063.4L459.1 1077L451 1078.3L445.9 1064.8z" fill="#00a55a" stroke="#002e19"/>
<path d="M521.2 1267.7L525.9 1288.5L518.3 1287.8L513.5 1267.1z" fill="#e3ff00" stroke="#3f4700"/>
<path d="M395.7 1015L400.8 1024.5L392.5 1026.8L387.4 1017.4z" fill="#0057a8" stroke="#00182f"/>
<path d="M347.1 1002.9L352.1 1009.6L343.7 1012.5L338.7 1006z" fill="#0042bd" stroke="#001234"/>
<path d="M409 1022.2L414.2 1032.6L405.9 1034.7L400.8 1024.5z" fill="#00639c" stroke="#001b2b"/>
<path d="M477.2 1105.2L482.2 1120.9L474.3 1121.6L469.2 1106.1z" fill="#00e51a" stroke="#004007"/>
<path d="M199.4 1039.7L203.5 1039.6L194.8 1044L190.7 1044.4z" fill="#00748b" stroke="#002026"/>
<path d="M229.7 1026.4L234 1027.5L225.3 1031.7L221 1030.8z" fill="#00619e" stroke="#001b2c"/>
<path d="M281.7 1009.7L286.4 1013.2L277.8 1016.8L273.1 1013.6z" fill="#0049b6" stroke="#001432"/>
<path d="M516.5 1247.3L521.2 1267.7L513.5 1267.1L508.8 1247z" fill="#c2ff00" stroke="#364700"/>
<path d="M325.3 1003.6L330.2 1009.2L321.7 1012.4L316.8 1007z" fill="#0042bd" stroke="#001234"/>
<path d="M303.5 1005.9L308.3 1010.4L299.8 1013.8L295 1009.5z" fill="#0044bb" stroke="#001334"/>
<path d="M482.2 1120.9L487.2 1137.2L479.3 1137.8L474.3 1121.6z" fill="#00fd02" stroke="#004600"/>
<path d="M440.8 1052.1L445.9 1064.8L437.8 1066.3L432.6 1053.7z" fill="#00916e" stroke="#00281e"/>
<path d="M360.5 1006.6L365.6 1014.2L357.2 1016.9L352.1 1009.6z" fill="#0047b8" stroke="#001333"/>
<path d="M459.1 1077L464.2 1091.2L456.1 1092.3L451 1078.3z" fill="#00b847" stroke="#003313"/>
<path d="M511.7 1227.6L516.5 1247.3L508.8 1247L504 1227.4z" fill="#a3ff00" stroke="#2d4700"/>
<path d="M160.5 1059.9L164.3 1058.4L155.5 1063.1L151.7 1064.9z" fill="#00906f" stroke="#00281f"/>
<path d="M487.2 1137.2L492.2 1154.1L484.3 1154.5L479.3 1137.8z" fill="#16ff00" stroke="#064700"/>
<path d="M506.9 1208.4L511.7 1227.6L504 1227.4L499.1 1208.3z" fill="#84ff00" stroke="#244700"/>
<path d="M251.3 1019.2L255.9 1021.4L247.2 1025.3L242.7 1023.4z" fill="#0055aa" stroke="#00172f"/>
<path d="M492.2 1154.1L497.2 1171.6L489.3 1171.8L484.3 1154.5z" fill="#30ff00" stroke="#0d4700"/>
<path d="M427.5 1041.8L432.6 1053.7L424.4 1055.4L419.3 1043.7z" fill="#00807f" stroke="#002323"/>
<path d="M502.1 1189.7L506.9 1208.4L499.1 1208.3L494.2 1189.8z" fill="#67ff00" stroke="#1c4700"/>
<path d="M374 1011.5L379 1019.9L370.7 1022.4L365.6 1014.2z" fill="#004eb1" stroke="#001531"/>
<path d="M497.2 1171.6L502.1 1189.7L494.2 1189.8L489.3 1171.8z" fill="#4bff00" stroke="#154700"/>
<path d="M190.7 1044.4L194.8 1044L185.9 1048.5L181.9 1049z" fill="#007986" stroke="#002125"/>
<path d="M338.7 1006L343.7 1012.5L335.2 1015.5L330.2 1009.2z" fill="#0044bb" stroke="#001334"/>
<path d="M221 1030.8L225.3 1031.7L216.5 1035.9L212.3 1035.2z" fill="#00659a" stroke="#001c2b"/>
<path d="M464.2 1091.2L469.2 1106.1L461.2 1107L456.1 1092.3z" fill="#00cd32" stroke="#00390e"/>
<path d="M414.2 1032.6L419.3 1043.7L411.1 1045.5L405.9 1034.7z" fill="#00708f" stroke="#001f28"/>
<path d="M387.4 1017.4L392.5 1026.8L384.1 1029L379 1019.9z" fill="#0058a7" stroke="#00182e"/>
<path d="M273.1 1013.6L277.8 1016.8L269.1 1020.5L264.5 1017.5z" fill="#004db2" stroke="#001531"/>
<path d="M400.8 1024.5L405.9 1034.7L397.6 1036.7L392.5 1026.8z" fill="#00639c" stroke="#001b2b"/>
<path d="M445.9 1064.8L451 1078.3L442.9 1079.5L437.8 1066.3z" fill="#00a35c" stroke="#002d19"/>
<path d="M316.8 1007L321.7 1012.4L313.2 1015.6L308.3 1010.4z" fill="#0044bb" stroke="#001334"/>
<path d="M295 1009.5L299.8 1013.8L291.2 1017.3L286.4 1013.2z" fill="#0047b8" stroke="#001333"/>
<path d="M151.7 1064.9L155.5 1063.1L146.6 1067.9L142.9 1069.8z" fill="#00956a" stroke="#00291d"/>
<path d="M469.2 1106.1L474.3 1121.6L466.3 1122.4L461.2 1107z" fill="#00e21d" stroke="#003f08"/>
<path d="M352.1 1009.6L357.2 1016.9L348.7 1019.6L343.7 1012.5z" fill="#0049b6" stroke="#001432"/>
<path d="M513.5 1267.1L518.3 1287.8L510.6 1287.2L505.8 1266.6z" fill="#dcff00" stroke="#3d4700"/>
<path d="M242.7 1023.4L247.2 1025.3L238.4 1029.3L234 1027.5z" fill="#0059a6" stroke="#00182e"/>
<path d="M432.6 1053.7L437.8 1066.3L429.6 1067.8L424.4 1055.4z" fill="#00906f" stroke="#00281f"/>
<path d="M181.9 1049L185.9 1048.5L177.1 1053L173.2 1053.7z" fill="#007d82" stroke="#002324"/>
<path d="M451 1078.3L456.1 1092.3L448 1093.4L442.9 1079.5z" fill="#00b649" stroke="#003214"/>
<path d="M474.3 1121.6L479.3 1137.8L471.3 1138.3L466.3 1122.4z" fill="#00f906" stroke="#004501"/>
<path d="M212.3 1035.2L216.5 1035.9L207.7 1040.1L203.5 1039.6z" fill="#006996" stroke="#001d2a"/>
<path d="M508.8 1247L513.5 1267.1L505.8 1266.6L501 1246.6z" fill="#bcff00" stroke="#344700"/>
<path d="M365.6 1014.2L370.7 1022.4L362.2 1024.9L357.2 1016.9z" fill="#004fb0" stroke="#001631"/>
<path d="M330.2 1009.2L335.2 1015.5L326.7 1018.4L321.7 1012.4z" fill="#0046b9" stroke="#001333"/>
<path d="M419.3 1043.7L424.4 1055.4L416.2 1057.1L411.1 1045.5z" fill="#007f80" stroke="#002323"/>
<path d="M264.5 1017.5L269.1 1020.5L260.4 1024.2L255.9 1021.4z" fill="#0050af" stroke="#001631"/>
<path d="M479.3 1137.8L484.3 1154.5L476.4 1154.9L471.3 1138.3z" fill="#12ff00" stroke="#054700"/>
<path d="M504 1227.4L508.8 1247L501 1246.6L496.1 1227.1z" fill="#9cff00" stroke="#2b4700"/>
<path d="M379 1019.9L384.1 1029L375.8 1031.3L370.7 1022.4z" fill="#0058a7" stroke="#00182e"/>
<path d="M308.3 1010.4L313.2 1015.6L304.6 1018.8L299.8 1013.8z" fill="#0046b9" stroke="#001333"/>
<path d="M405.9 1034.7L411.1 1045.5L402.8 1047.4L397.6 1036.7z" fill="#00708f" stroke="#001f28"/>
<path d="M286.4 1013.2L291.2 1017.3L282.5 1020.7L277.8 1016.8z" fill="#0049b6" stroke="#001432"/>
<path d="M484.3 1154.5L489.3 1171.8L481.4 1172.1L476.4 1154.9z" fill="#2cff00" stroke="#0c4700"/>
<path d="M392.5 1026.8L397.6 1036.7L389.3 1038.8L384.1 1029z" fill="#00639c" stroke="#001b2b"/>
<path d="M499.1 1208.3L504 1227.4L496.1 1227.1L491.2 1208.2z" fill="#7eff00" stroke="#234700"/>
<path d="M456.1 1092.3L461.2 1107L453.1 1107.9L448 1093.4z" fill="#00ca35" stroke="#00380e"/>
<path d="M489.3 1171.8L494.2 1189.8L486.3 1189.8L481.4 1172.1z" fill="#46ff00" stroke="#134700"/>
<path d="M494.2 1189.8L499.1 1208.3L491.2 1208.2L486.3 1189.8z" fill="#62ff00" stroke="#1b4700"/>
<path d="M437.8 1066.3L442.9 1079.5L434.7 1080.8L429.6 1067.8z" fill="#00a15e" stroke="#002d1a"/>
<path d="M234 1027.5L238.4 1029.3L229.7 1033.3L225.3 1031.7z" fill="#005da2" stroke="#001a2d"/>
<path d="M173.2 1053.7L177.1 1053L168.2 1057.5L164.3 1058.4z" fill="#00827d" stroke="#002423"/>
<path d="M343.7 1012.5L348.7 1019.6L340.2 1022.4L335.2 1015.5z" fill="#004ab5" stroke="#001432"/>
<path d="M203.5 1039.6L207.7 1040.1L198.9 1044.3L194.8 1044z" fill="#006d92" stroke="#001e28"/>
<path d="M461.2 1107L466.3 1122.4L458.2 1123.1L453.1 1107.9z" fill="#00df20" stroke="#003e08"/>
<path d="M424.4 1055.4L429.6 1067.8L421.3 1069.2L416.2 1057.1z" fill="#008e71" stroke="#00271f"/>
<path d="M255.9 1021.4L260.4 1024.2L251.7 1027.9L247.2 1025.3z" fill="#0053ac" stroke="#001730"/>
<path d="M321.7 1012.4L326.7 1018.4L318.1 1021.4L313.2 1015.6z" fill="#0048b7" stroke="#001433"/>
<path d="M357.2 1016.9L362.2 1024.9L353.8 1027.5L348.7 1019.6z" fill="#0050af" stroke="#001631"/>
<path d="M442.9 1079.5L448 1093.4L439.9 1094.5L434.7 1080.8z" fill="#00b34c" stroke="#003215"/>
<path d="M277.8 1016.8L282.5 1020.7L273.8 1024.2L269.1 1020.5z" fill="#004cb3" stroke="#001532"/>
<path d="M299.8 1013.8L304.6 1018.8L296 1022L291.2 1017.3z" fill="#0048b7" stroke="#001433"/>
<path d="M466.3 1122.4L471.3 1138.3L463.3 1138.9L458.2 1123.1z" fill="#00f609" stroke="#004402"/>
<path d="M411.1 1045.5L416.2 1057.1L407.9 1058.7L402.8 1047.4z" fill="#007e81" stroke="#002324"/>
<path d="M505.8 1266.6L510.6 1287.2L502.8 1286.6L498 1266.1z" fill="#d5ff00" stroke="#3b4700"/>
<path d="M370.7 1022.4L375.8 1031.3L367.3 1033.6L362.2 1024.9z" fill="#0059a6" stroke="#00182e"/>
<path d="M225.3 1031.7L229.7 1033.3L220.9 1037.2L216.5 1035.9z" fill="#00609f" stroke="#001a2c"/>
<path d="M164.3 1058.4L168.2 1057.5L159.3 1062L155.5 1063.1z" fill="#008679" stroke="#002521"/>
<path d="M397.6 1036.7L402.8 1047.4L394.4 1049.3L389.3 1038.8z" fill="#006f90" stroke="#001f28"/>
<path d="M384.1 1029L389.3 1038.8L380.9 1040.9L375.8 1031.3z" fill="#00639c" stroke="#001b2b"/>
<path d="M194.8 1044L198.9 1044.3L190 1048.6L185.9 1048.5z" fill="#00718e" stroke="#001f27"/>
<path d="M471.3 1138.3L476.4 1154.9L468.3 1155.3L463.3 1138.9z" fill="#0eff00" stroke="#034700"/>
<path d="M501 1246.6L505.8 1266.6L498 1266.1L493.1 1246.2z" fill="#b5ff00" stroke="#324700"/>
<path d="M335.2 1015.5L340.2 1022.4L331.7 1025.2L326.7 1018.4z" fill="#004bb4" stroke="#001532"/>
<path d="M448 1093.4L453.1 1107.9L445 1108.8L439.9 1094.5z" fill="#00c738" stroke="#00370f"/>
<path d="M429.6 1067.8L434.7 1080.8L426.5 1082.1L421.3 1069.2z" fill="#009f60" stroke="#002c1a"/>
<path d="M476.4 1154.9L481.4 1172.1L473.4 1172.3L468.3 1155.3z" fill="#27ff00" stroke="#0a4700"/>
<path d="M496.1 1227.1L501 1246.6L493.1 1246.2L488.2 1226.9z" fill="#96ff00" stroke="#2a4700"/>
<path d="M247.2 1025.3L251.7 1027.9L242.9 1031.7L238.4 1029.3z" fill="#0056a9" stroke="#00182f"/>
<path d="M481.4 1172.1L486.3 1189.8L478.4 1189.9L473.4 1172.3z" fill="#41ff00" stroke="#124700"/>
<path d="M491.2 1208.2L496.1 1227.1L488.2 1226.9L483.3 1208.1z" fill="#79ff00" stroke="#214700"/>
<path d="M486.3 1189.8L491.2 1208.2L483.3 1208.1L478.4 1189.9z" fill="#5cff00" stroke="#194700"/>
<path d="M313.2 1015.6L318.1 1021.4L309.5 1024.4L304.6 1018.8z" fill="#004ab5" stroke="#001432"/>
<path d="M348.7 1019.6L353.8 1027.5L345.2 1030L340.2 1022.4z" fill="#0051ae" stroke="#001630"/>
<path d="M269.1 1020.5L273.8 1024.2L265.1 1027.7L260.4 1024.2z" fill="#004fb0" stroke="#001631"/>
<path d="M416.2 1057.1L421.3 1069.2L413.1 1070.7L407.9 1058.7z" fill="#008d72" stroke="#00271f"/>
<path d="M291.2 1017.3L296 1022L287.3 1025.3L282.5 1020.7z" fill="#004bb4" stroke="#001532"/>
<path d="M155.5 1063.1L159.3 1062L150.3 1066.5L146.6 1067.9z" fill="#008b74" stroke="#002620"/>
<path d="M453.1 1107.9L458.2 1123.1L450.1 1123.8L445 1108.8z" fill="#00dc23" stroke="#003d09"/>
<path d="M216.5 1035.9L220.9 1037.2L212 1041.2L207.7 1040.1z" fill="#00649b" stroke="#001c2b"/>
<path d="M185.9 1048.5L190 1048.6L181.1 1052.9L177.1 1053z" fill="#00758a" stroke="#002026"/>
<path d="M362.2 1024.9L367.3 1033.6L358.8 1036L353.8 1027.5z" fill="#0059a6" stroke="#00182e"/>
<path d="M434.7 1080.8L439.9 1094.5L431.6 1095.6L426.5 1082.1z" fill="#00b14e" stroke="#003115"/>
<path d="M402.8 1047.4L407.9 1058.7L399.6 1060.4L394.4 1049.3z" fill="#007d82" stroke="#002324"/>
<path d="M375.8 1031.3L380.9 1040.9L372.4 1043L367.3 1033.6z" fill="#00639c" stroke="#001b2b"/>
<path d="M389.3 1038.8L394.4 1049.3L386 1051.2L380.9 1040.9z" fill="#006f90" stroke="#001f28"/>
<path d="M458.2 1123.1L463.3 1138.9L455.2 1139.4L450.1 1123.8z" fill="#00f20d" stroke="#004303"/>
<path d="M326.7 1018.4L331.7 1025.2L323.1 1027.9L318.1 1021.4z" fill="#004db2" stroke="#001531"/>
<path d="M238.4 1029.3L242.9 1031.7L234.1 1035.4L229.7 1033.3z" fill="#0059a6" stroke="#00182e"/>
<path d="M498 1266.1L502.8 1286.6L494.9 1285.9L490.1 1265.6z" fill="#cdff00" stroke="#394700"/>
<path d="M463.3 1138.9L468.3 1155.3L460.3 1155.7L455.2 1139.4z" fill="#0aff00" stroke="#024700"/>
<path d="M421.3 1069.2L426.5 1082.1L418.2 1083.4L413.1 1070.7z" fill="#009d62" stroke="#002b1b"/>
<path d="M304.6 1018.8L309.5 1024.4L300.8 1027.5L296 1022z" fill="#004bb4" stroke="#001532"/>
<path d="M439.9 1094.5L445 1108.8L436.8 1109.8L431.6 1095.6z" fill="#00c43b" stroke="#003610"/>
<path d="M260.4 1024.2L265.1 1027.7L256.3 1031.2L251.7 1027.9z" fill="#0052ad" stroke="#001630"/>
<path d="M207.7 1040.1L212 1041.2L203.1 1045.3L198.9 1044.3z" fill="#006798" stroke="#001c2a"/>
<path d="M282.5 1020.7L287.3 1025.3L278.6 1028.5L273.8 1024.2z" fill="#004db2" stroke="#001531"/>
<path d="M340.2 1022.4L345.2 1030L336.7 1032.6L331.7 1025.2z" fill="#0052ad" stroke="#001630"/>
<path d="M493.1 1246.2L498 1266.1L490.1 1265.6L485.2 1245.9z" fill="#aeff00" stroke="#304700"/>
<path d="M177.1 1053L181.1 1052.9L172.2 1057.1L168.2 1057.5z" fill="#007986" stroke="#002125"/>
<path d="M468.3 1155.3L473.4 1172.3L465.3 1172.5L460.3 1155.7z" fill="#23ff00" stroke="#094700"/>
<path d="M488.2 1226.9L493.1 1246.2L485.2 1245.9L480.3 1226.7z" fill="#90ff00" stroke="#284700"/>
<path d="M473.4 1172.3L478.4 1189.9L470.3 1190L465.3 1172.5z" fill="#3cff00" stroke="#104700"/>
<path d="M407.9 1058.7L413.1 1070.7L404.7 1072.2L399.6 1060.4z" fill="#008c73" stroke="#002720"/>
<path d="M483.3 1208.1L488.2 1226.9L480.3 1226.7L475.3 1208z" fill="#73ff00" stroke="#204700"/>
<path d="M478.4 1189.9L483.3 1208.1L475.3 1208L470.3 1190z" fill="#57ff00" stroke="#184700"/>
<path d="M353.8 1027.5L358.8 1036L350.3 1038.3L345.2 1030z" fill="#0059a6" stroke="#00182e"/>
<path d="M445 1108.8L450.1 1123.8L441.9 1124.6L436.8 1109.8z" fill="#00d926" stroke="#003c0a"/>
<path d="M394.4 1049.3L399.6 1060.4L391.2 1062.1L386 1051.2z" fill="#007c83" stroke="#002224"/>
<path d="M229.7 1033.3L234.1 1035.4L225.3 1039.2L220.9 1037.2z" fill="#005ca3" stroke="#00192d"/>
<path d="M318.1 1021.4L323.1 1027.9L314.4 1030.7L309.5 1024.4z" fill="#004eb1" stroke="#001531"/>
<path d="M367.3 1033.6L372.4 1043L363.9 1045.2L358.8 1036z" fill="#00639c" stroke="#001b2b"/>
<path d="M426.5 1082.1L431.6 1095.6L423.4 1096.7L418.2 1083.4z" fill="#00af50" stroke="#003116"/>
<path d="M380.9 1040.9L386 1051.2L377.6 1053.1L372.4 1043z" fill="#006e91" stroke="#001e28"/>
<path d="M198.9 1044.3L203.1 1045.3L194.2 1049.3L190 1048.6z" fill="#006b94" stroke="#001d29"/>
<path d="M251.7 1027.9L256.3 1031.2L247.5 1034.7L242.9 1031.7z" fill="#0054ab" stroke="#00172f"/>
<path d="M296 1022L300.8 1027.5L292.1 1030.5L287.3 1025.3z" fill="#004db2" stroke="#001531"/>
<path d="M450.1 1123.8L455.2 1139.4L447 1140L441.9 1124.6z" fill="#00ee11" stroke="#004204"/>
<path d="M168.2 1057.5L172.2 1057.1L163.2 1061.5L159.3 1062z" fill="#007e81" stroke="#002324"/>
<path d="M273.8 1024.2L278.6 1028.5L269.8 1031.8L265.1 1027.7z" fill="#004fb0" stroke="#001631"/>
<path d="M331.7 1025.2L336.7 1032.6L328.1 1035.1L323.1 1027.9z" fill="#0053ac" stroke="#001730"/>
<path d="M413.1 1070.7L418.2 1083.4L409.9 1084.7L404.7 1072.2z" fill="#009c63" stroke="#002b1b"/>
<path d="M431.6 1095.6L436.8 1109.8L428.5 1110.7L423.4 1096.7z" fill="#00c23d" stroke="#003611"/>
<path d="M455.2 1139.4L460.3 1155.7L452.1 1156.1L447 1140z" fill="#06ff00" stroke="#014700"/>
<path d="M490.1 1265.6L494.9 1285.9L487 1285.3L482.1 1265.1z" fill="#c6ff00" stroke="#374700"/>
<path d="M220.9 1037.2L225.3 1039.2L216.4 1043L212 1041.2z" fill="#00609f" stroke="#001a2c"/>
<path d="M345.2 1030L350.3 1038.3L341.7 1040.7L336.7 1032.6z" fill="#005aa5" stroke="#00192e"/>
<path d="M399.6 1060.4L404.7 1072.2L396.3 1073.7L391.2 1062.1z" fill="#008a75" stroke="#002620"/>
<path d="M460.3 1155.7L465.3 1172.5L457.2 1172.7L452.1 1156.1z" fill="#1eff00" stroke="#084700"/>
<path d="M309.5 1024.4L314.4 1030.7L305.7 1033.6L300.8 1027.5z" fill="#0050af" stroke="#001631"/>
<path d="M485.2 1245.9L490.1 1265.6L482.1 1265.1L477.2 1245.5z" fill="#a7ff00" stroke="#2e4700"/>
<path d="M358.8 1036L363.9 1045.2L355.4 1047.3L350.3 1038.3z" fill="#00639c" stroke="#001b2b"/>
<path d="M386 1051.2L391.2 1062.1L382.7 1063.8L377.6 1053.1z" fill="#007b84" stroke="#002224"/>
<path d="M465.3 1172.5L470.3 1190L462.2 1190L457.2 1172.7z" fill="#37ff00" stroke="#0f4700"/>
<path d="M190 1048.6L194.2 1049.3L185.2 1053.4L181.1 1052.9z" fill="#006f90" stroke="#001f28"/>
<path d="M159.3 1062L163.2 1061.5L154.2 1065.8L150.3 1066.5z" fill="#00827d" stroke="#002423"/>
<path d="M372.4 1043L377.6 1053.1L369.1 1055L363.9 1045.2z" fill="#006e91" stroke="#001e28"/>
<path d="M436.8 1109.8L441.9 1124.6L433.7 1125.3L428.5 1110.7z" fill="#00d629" stroke="#003b0b"/>
<path d="M480.3 1226.7L485.2 1245.9L477.2 1245.5L472.3 1226.4z" fill="#89ff00" stroke="#264700"/>
<path d="M242.9 1031.7L247.5 1034.7L238.6 1038.3L234.1 1035.4z" fill="#0057a8" stroke="#00182f"/>
<path d="M470.3 1190L475.3 1208L467.3 1207.9L462.2 1190z" fill="#51ff00" stroke="#164700"/>
<path d="M475.3 1208L480.3 1226.7L472.3 1226.4L467.3 1207.9z" fill="#6dff00" stroke="#1e4700"/>
<path d="M418.2 1083.4L423.4 1096.7L415.1 1097.8L409.9 1084.7z" fill="#00ad52" stroke="#003016"/>
<path d="M287.3 1025.3L292.1 1030.5L283.4 1033.5L278.6 1028.5z" fill="#004fb0" stroke="#001631"/>
<path d="M265.1 1027.7L269.8 1031.8L261 1035.1L256.3 1031.2z" fill="#0052ad" stroke="#001630"/>
<path d="M323.1 1027.9L328.1 1035.1L319.4 1037.7L314.4 1030.7z" fill="#0054ab" stroke="#00172f"/>
<path d="M441.9 1124.6L447 1140L438.8 1140.6L433.7 1125.3z" fill="#00eb14" stroke="#004105"/>
<path d="M212 1041.2L216.4 1043L207.4 1046.8L203.1 1045.3z" fill="#00639c" stroke="#001b2b"/>
<path d="M404.7 1072.2L409.9 1084.7L401.5 1086L396.3 1073.7z" fill="#009a65" stroke="#002b1c"/>
<path d="M423.4 1096.7L428.5 1110.7L420.2 1111.6L415.1 1097.8z" fill="#00bf40" stroke="#003511"/>
<path d="M336.7 1032.6L341.7 1040.7L333.1 1043L328.1 1035.1z" fill="#005aa5" stroke="#00192e"/>
<path d="M181.1 1052.9L185.2 1053.4L176.2 1057.4L172.2 1057.1z" fill="#00728d" stroke="#001f27"/>
<path d="M300.8 1027.5L305.7 1033.6L297 1036.4L292.1 1030.5z" fill="#0051ae" stroke="#001630"/>
<path d="M447 1140L452.1 1156.1L443.9 1156.4L438.8 1140.6z" fill="#02ff00" stroke="#004700"/>
<path d="M391.2 1062.1L396.3 1073.7L387.9 1075.2L382.7 1063.8z" fill="#008976" stroke="#002621"/>
<path d="M234.1 1035.4L238.6 1038.3L229.7 1041.8L225.3 1039.2z" fill="#005aa5" stroke="#00192e"/>
<path d="M350.3 1038.3L355.4 1047.3L346.8 1049.4L341.7 1040.7z" fill="#00639c" stroke="#001b2b"/>
<path d="M278.6 1028.5L283.4 1033.5L274.6 1036.6L269.8 1031.8z" fill="#0051ae" stroke="#001630"/>
<path d="M377.6 1053.1L382.7 1063.8L374.2 1065.5L369.1 1055z" fill="#007a85" stroke="#002225"/>
<path d="M256.3 1031.2L261 1035.1L252.1 1038.4L247.5 1034.7z" fill="#0054ab" stroke="#00172f"/>
<path d="M363.9 1045.2L369.1 1055L360.5 1056.9L355.4 1047.3z" fill="#006d92" stroke="#001e28"/>
<path d="M452.1 1156.1L457.2 1172.7L449 1173L443.9 1156.4z" fill="#1aff00" stroke="#074700"/>
<path d="M482.1 1265.1L487 1285.3L479.1 1284.6L474.1 1264.6z" fill="#bfff00" stroke="#354700"/>
<path d="M428.5 1110.7L433.7 1125.3L425.4 1126L420.2 1111.6z" fill="#00d32c" stroke="#003b0c"/>
<path d="M409.9 1084.7L415.1 1097.8L406.7 1098.9L401.5 1086z" fill="#00aa55" stroke="#002f17"/>
<path d="M457.2 1172.7L462.2 1190L454.1 1190.1L449 1173z" fill="#32ff00" stroke="#0e4700"/>
<path d="M314.4 1030.7L319.4 1037.7L310.7 1040.3L305.7 1033.6z" fill="#0055aa" stroke="#00172f"/>
<path d="M203.1 1045.3L207.4 1046.8L198.4 1050.6L194.2 1049.3z" fill="#006699" stroke="#001c2a"/>
<path d="M477.2 1245.5L482.1 1265.1L474.1 1264.6L469.2 1245.1z" fill="#a0ff00" stroke="#2c4700"/>
<path d="M462.2 1190L467.3 1207.9L459.2 1207.8L454.1 1190.1z" fill="#4cff00" stroke="#154700"/>
<path d="M472.3 1226.4L477.2 1245.5L469.2 1245.1L464.2 1226.2z" fill="#83ff00" stroke="#244700"/>
<path d="M467.3 1207.9L472.3 1226.4L464.2 1226.2L459.2 1207.8z" fill="#67ff00" stroke="#1c4700"/>
<path d="M172.2 1057.1L176.2 1057.4L167.2 1061.5L163.2 1061.5z" fill="#007689" stroke="#002126"/>
<path d="M396.3 1073.7L401.5 1086L393.1 1087.3L387.9 1075.2z" fill="#009867" stroke="#002a1c"/>
<path d="M292.1 1030.5L297 1036.4L288.2 1039.2L283.4 1033.5z" fill="#0052ad" stroke="#001630"/>
<path d="M328.1 1035.1L333.1 1043L324.4 1045.4L319.4 1037.7z" fill="#005ba4" stroke="#00192d"/>
<path d="M225.3 1039.2L229.7 1041.8L220.8 1045.4L216.4 1043z" fill="#005da2" stroke="#001a2d"/>
<path d="M433.7 1125.3L438.8 1140.6L430.5 1141.1L425.4 1126z" fill="#00e718" stroke="#004006"/>
<path d="M269.8 1031.8L274.6 1036.6L265.7 1039.7L261 1035.1z" fill="#0053ac" stroke="#001730"/>
<path d="M247.5 1034.7L252.1 1038.4L243.2 1041.8L238.6 1038.3z" fill="#0056a9" stroke="#00182f"/>
<path d="M415.1 1097.8L420.2 1111.6L411.8 1112.5L406.7 1098.9z" fill="#00bc43" stroke="#003412"/>
<path d="M382.7 1063.8L387.9 1075.2L379.4 1076.8L374.2 1065.5z" fill="#008877" stroke="#002621"/>
<path d="M341.7 1040.7L346.8 1049.4L338.2 1051.6L333.1 1043z" fill="#00639c" stroke="#001b2b"/>
<path d="M369.1 1055L374.2 1065.5L365.7 1067.3L360.5 1056.9z" fill="#007986" stroke="#002125"/>
<path d="M355.4 1047.3L360.5 1056.9L351.9 1058.9L346.8 1049.4z" fill="#006d92" stroke="#001e28"/>
<path d="M438.8 1140.6L443.9 1156.4L435.7 1156.8L430.5 1141.1z" fill="#00fd02" stroke="#004600"/>
<path d="M194.2 1049.3L198.4 1050.6L189.4 1054.5L185.2 1053.4z" fill="#006996" stroke="#001d2a"/>
<path d="M305.7 1033.6L310.7 1040.3L301.9 1043L297 1036.4z" fill="#0056a9" stroke="#00182f"/>
<path d="M163.2 1061.5L167.2 1061.5L158.1 1065.6L154.2 1065.8z" fill="#007a85" stroke="#002225"/>
<path d="M443.9 1156.4L449 1173L440.8 1173.2L435.7 1156.8z" fill="#15ff00" stroke="#054700"/>
<path d="M401.5 1086L406.7 1098.9L398.2 1100.1L393.1 1087.3z" fill="#00a857" stroke="#002f18"/>
<path d="M420.2 1111.6L425.4 1126L417 1126.8L411.8 1112.5z" fill="#00cf30" stroke="#00390d"/>
<path d="M216.4 1043L220.8 1045.4L211.8 1049L207.4 1046.8z" fill="#005fa0" stroke="#001a2c"/>
<path d="M283.4 1033.5L288.2 1039.2L279.4 1042.1L274.6 1036.6z" fill="#0054ab" stroke="#00172f"/>
<path d="M449 1173L454.1 1190.1L445.9 1190.2L440.8 1173.2z" fill="#2dff00" stroke="#0c4700"/>
<path d="M474.1 1264.6L479.1 1284.6L471 1283.9L466.1 1264z" fill="#b8ff00" stroke="#334700"/>
<path d="M319.4 1037.7L324.4 1045.4L315.7 1047.8L310.7 1040.3z" fill="#005ba4" stroke="#00192d"/>
<path d="M238.6 1038.3L243.2 1041.8L234.3 1045.1L229.7 1041.8z" fill="#0058a7" stroke="#00182e"/>
<path d="M261 1035.1L265.7 1039.7L256.8 1042.8L252.1 1038.4z" fill="#0055aa" stroke="#00172f"/>
<path d="M454.1 1190.1L459.2 1207.8L451 1207.8L445.9 1190.2z" fill="#47ff00" stroke="#134700"/>
<path d="M387.9 1075.2L393.1 1087.3L384.6 1088.6L379.4 1076.8z" fill="#009669" stroke="#002a1d"/>
<path d="M469.2 1245.1L474.1 1264.6L466.1 1264L461.1 1244.7z" fill="#9aff00" stroke="#2b4700"/>
<path d="M459.2 1207.8L464.2 1226.2L456 1225.9L451 1207.8z" fill="#61ff00" stroke="#1b4700"/>
<path d="M464.2 1226.2L469.2 1245.1L461.1 1244.7L456 1225.9z" fill="#7dff00" stroke="#234700"/>
<path d="M185.2 1053.4L189.4 1054.5L180.3 1058.4L176.2 1057.4z" fill="#006c93" stroke="#001e29"/>
<path d="M425.4 1126L430.5 1141.1L422.2 1141.7L417 1126.8z" fill="#00e41b" stroke="#003f07"/>
<path d="M333.1 1043L338.2 1051.6L329.5 1053.8L324.4 1045.4z" fill="#00639c" stroke="#001b2b"/>
<path d="M374.2 1065.5L379.4 1076.8L370.8 1078.3L365.7 1067.3z" fill="#008679" stroke="#002521"/>
<path d="M406.7 1098.9L411.8 1112.5L403.4 1113.5L398.2 1100.1z" fill="#00ba45" stroke="#003413"/>
<path d="M346.8 1049.4L351.9 1058.9L343.3 1060.8L338.2 1051.6z" fill="#006d92" stroke="#001e28"/>
<path d="M360.5 1056.9L365.7 1067.3L357 1069L351.9 1058.9z" fill="#007887" stroke="#002125"/>
<path d="M297 1036.4L301.9 1043L293.1 1045.6L288.2 1039.2z" fill="#0057a8" stroke="#00182f"/>
<path d="M430.5 1141.1L435.7 1156.8L427.3 1157.3L422.2 1141.7z" fill="#00f906" stroke="#004501"/>
<path d="M207.4 1046.8L211.8 1049L202.8 1052.6L198.4 1050.6z" fill="#00629d" stroke="#001b2b"/>
<path d="M274.6 1036.6L279.4 1042.1L270.5 1045L265.7 1039.7z" fill="#0055aa" stroke="#00172f"/>
<path d="M393.1 1087.3L398.2 1100.1L389.7 1101.2L384.6 1088.6z" fill="#00a659" stroke="#002e18"/>
<path d="M229.7 1041.8L234.3 1045.1L225.3 1048.5L220.8 1045.4z" fill="#005ba4" stroke="#00192d"/>
<path d="M310.7 1040.3L315.7 1047.8L306.9 1050.2L301.9 1043z" fill="#005ca3" stroke="#00192d"/>
<path d="M252.1 1038.4L256.8 1042.8L247.9 1045.9L243.2 1041.8z" fill="#0056a9" stroke="#00182f"/>
<path d="M411.8 1112.5L417 1126.8L408.6 1127.6L403.4 1113.5z" fill="#00cc33" stroke="#00390e"/>
<path d="M435.7 1156.8L440.8 1173.2L432.5 1173.4L427.3 1157.3z" fill="#11ff00" stroke="#044700"/>
<path d="M176.2 1057.4L180.3 1058.4L171.2 1062.2L167.2 1061.5z" fill="#006f90" stroke="#001f28"/>
<path d="M379.4 1076.8L384.6 1088.6L376 1090L370.8 1078.3z" fill="#00946b" stroke="#00291d"/>
<path d="M440.8 1173.2L445.9 1190.2L437.6 1190.2L432.5 1173.4z" fill="#28ff00" stroke="#0b4700"/>
<path d="M324.4 1045.4L329.5 1053.8L320.7 1055.9L315.7 1047.8z" fill="#00639c" stroke="#001b2b"/>
<path d="M466.1 1264L471 1283.9L462.9 1283.3L457.9 1263.5z" fill="#b1ff00" stroke="#314700"/>
<path d="M365.7 1067.3L370.8 1078.3L362.2 1079.8L357 1069z" fill="#00857a" stroke="#002522"/>
<path d="M445.9 1190.2L451 1207.8L442.7 1207.7L437.6 1190.2z" fill="#41ff00" stroke="#124700"/>
<path d="M288.2 1039.2L293.1 1045.6L284.3 1048.2L279.4 1042.1z" fill="#0058a7" stroke="#00182e"/>
<path d="M338.2 1051.6L343.3 1060.8L334.5 1062.8L329.5 1053.8z" fill="#006c93" stroke="#001e29"/>
<path d="M417 1126.8L422.2 1141.7L413.8 1142.3L408.6 1127.6z" fill="#00e01f" stroke="#003e08"/>
<path d="M198.4 1050.6L202.8 1052.6L193.7 1056.3L189.4 1054.5z" fill="#00659a" stroke="#001c2b"/>
<path d="M351.9 1058.9L357 1069L348.4 1070.8L343.3 1060.8z" fill="#007887" stroke="#002125"/>
<path d="M461.1 1244.7L466.1 1264L457.9 1263.5L452.9 1244.3z" fill="#93ff00" stroke="#294700"/>
<path d="M451 1207.8L456 1225.9L447.8 1225.7L442.7 1207.7z" fill="#5bff00" stroke="#194700"/>
<path d="M398.2 1100.1L403.4 1113.5L394.9 1114.4L389.7 1101.2z" fill="#00b748" stroke="#003314"/>
<path d="M456 1225.9L461.1 1244.7L452.9 1244.3L447.8 1225.7z" fill="#76ff00" stroke="#214700"/>
<path d="M265.7 1039.7L270.5 1045L261.6 1047.8L256.8 1042.8z" fill="#0056a9" stroke="#00182f"/>
<path d="M220.8 1045.4L225.3 1048.5L216.3 1051.9L211.8 1049z" fill="#005da2" stroke="#001a2d"/>
<path d="M167.2 1061.5L171.2 1062.2L162.1 1066.1L158.1 1065.6z" fill="#00738c" stroke="#002027"/>
<path d="M243.2 1041.8L247.9 1045.9L238.9 1049.1L234.3 1045.1z" fill="#0058a7" stroke="#00182e"/>
<path d="M422.2 1141.7L427.3 1157.3L419 1157.7L413.8 1142.3z" fill="#00f50a" stroke="#004402"/>
<path d="M301.9 1043L306.9 1050.2L298.1 1052.6L293.1 1045.6z" fill="#005ca3" stroke="#00192d"/>
<path d="M384.6 1088.6L389.7 1101.2L381.2 1102.3L376 1090z" fill="#00a45b" stroke="#002d19"/>
<path d="M403.4 1113.5L408.6 1127.6L400.1 1128.3L394.9 1114.4z" fill="#00c936" stroke="#00380f"/>
<path d="M315.7 1047.8L320.7 1055.9L311.9 1058.1L306.9 1050.2z" fill="#00639c" stroke="#001b2b"/>
<path d="M427.3 1157.3L432.5 1173.4L424.1 1173.7L419 1157.7z" fill="#0cff00" stroke="#034700"/>
<path d="M189.4 1054.5L193.7 1056.3L184.6 1059.9L180.3 1058.4z" fill="#006798" stroke="#001c2a"/>
<path d="M370.8 1078.3L376 1090L367.4 1091.3L362.2 1079.8z" fill="#00936c" stroke="#00291e"/>
<path d="M279.4 1042.1L284.3 1048.2L275.3 1050.9L270.5 1045z" fill="#0058a7" stroke="#00182e"/>
<path d="M329.5 1053.8L334.5 1062.8L325.8 1064.8L320.7 1055.9z" fill="#006c93" stroke="#001e29"/>
<path d="M357 1069L362.2 1079.8L353.5 1081.4L348.4 1070.8z" fill="#00847b" stroke="#002422"/>
<path d="M343.3 1060.8L348.4 1070.8L339.7 1072.5L334.5 1062.8z" fill="#007788" stroke="#002126"/>
<path d="M432.5 1173.4L437.6 1190.2L429.3 1190.3L424.1 1173.7z" fill="#23ff00" stroke="#094700"/>
<path d="M211.8 1049L216.3 1051.9L207.2 1055.3L202.8 1052.6z" fill="#005fa0" stroke="#001a2c"/>
<path d="M256.8 1042.8L261.6 1047.8L252.6 1050.7L247.9 1045.9z" fill="#0058a7" stroke="#00182e"/>
<path d="M408.6 1127.6L413.8 1142.3L405.3 1142.9L400.1 1128.3z" fill="#00dc23" stroke="#003d09"/>
<path d="M389.7 1101.2L394.9 1114.4L386.4 1115.4L381.2 1102.3z" fill="#00b44b" stroke="#003215"/>
<path d="M234.3 1045.1L238.9 1049.1L229.9 1052.2L225.3 1048.5z" fill="#005aa5" stroke="#00192e"/>
<path d="M437.6 1190.2L442.7 1207.7L434.4 1207.6L429.3 1190.3z" fill="#3cff00" stroke="#104700"/>
<path d="M457.9 1263.5L462.9 1283.3L454.7 1282.6L449.7 1263z" fill="#a9ff00" stroke="#2f4700"/>
<path d="M293.1 1045.6L298.1 1052.6L289.2 1055.1L284.3 1048.2z" fill="#005da2" stroke="#001a2d"/>
<path d="M442.7 1207.7L447.8 1225.7L439.5 1225.4L434.4 1207.6z" fill="#55ff00" stroke="#174700"/>
<path d="M452.9 1244.3L457.9 1263.5L449.7 1263L444.6 1243.9z" fill="#8cff00" stroke="#274700"/>
<path d="M447.8 1225.7L452.9 1244.3L444.6 1243.9L439.5 1225.4z" fill="#70ff00" stroke="#1f4700"/>
<path d="M180.3 1058.4L184.6 1059.9L175.4 1063.6L171.2 1062.2z" fill="#006a95" stroke="#001d29"/>
<path d="M376 1090L381.2 1102.3L372.6 1103.5L367.4 1091.3z" fill="#00a15e" stroke="#002d1a"/>
<path d="M413.8 1142.3L419 1157.7L410.5 1158.1L405.3 1142.9z" fill="#00f10e" stroke="#004303"/>
<path d="M306.9 1050.2L311.9 1058.1L303.1 1060.4L298.1 1052.6z" fill="#00639c" stroke="#001b2b"/>
<path d="M270.5 1045L275.3 1050.9L266.4 1053.6L261.6 1047.8z" fill="#0059a6" stroke="#00182e"/>
<path d="M394.9 1114.4L400.1 1128.3L391.6 1129.1L386.4 1115.4z" fill="#00c639" stroke="#00370f"/>
<path d="M362.2 1079.8L367.4 1091.3L358.7 1092.7L353.5 1081.4z" fill="#00916e" stroke="#00281e"/>
<path d="M202.8 1052.6L207.2 1055.3L198 1058.7L193.7 1056.3z" fill="#00619e" stroke="#001b2c"/>
<path d="M320.7 1055.9L325.8 1064.8L317 1066.8L311.9 1058.1z" fill="#006b94" stroke="#001d29"/>
<path d="M247.9 1045.9L252.6 1050.7L243.6 1053.7L238.9 1049.1z" fill="#0059a6" stroke="#00182e"/>
<path d="M419 1157.7L424.1 1173.7L415.7 1173.9L410.5 1158.1z" fill="#07ff00" stroke="#014700"/>
<path d="M348.4 1070.8L353.5 1081.4L344.8 1082.9L339.7 1072.5z" fill="#00827d" stroke="#002423"/>
<path d="M225.3 1048.5L229.9 1052.2L220.8 1055.4L216.3 1051.9z" fill="#005ca3" stroke="#00192d"/>
<path d="M334.5 1062.8L339.7 1072.5L330.9 1074.3L325.8 1064.8z" fill="#007689" stroke="#002126"/>
<path d="M284.3 1048.2L289.2 1055.1L280.2 1057.5L275.3 1050.9z" fill="#005da2" stroke="#001a2d"/>
<path d="M424.1 1173.7L429.3 1190.3L420.9 1190.4L415.7 1173.9z" fill="#1eff00" stroke="#084700"/>
<path d="M381.2 1102.3L386.4 1115.4L377.8 1116.3L372.6 1103.5z" fill="#00b24d" stroke="#003115"/>
<path d="M400.1 1128.3L405.3 1142.9L396.8 1143.5L391.6 1129.1z" fill="#00d926" stroke="#003c0a"/>
<path d="M171.2 1062.2L175.4 1063.6L166.2 1067.3L162.1 1066.1z" fill="#006d92" stroke="#001e28"/>
<path d="M429.3 1190.3L434.4 1207.6L426 1207.5L420.9 1190.4z" fill="#36ff00" stroke="#0f4700"/>
<path d="M261.6 1047.8L266.4 1053.6L257.4 1056.3L252.6 1050.7z" fill="#005aa5" stroke="#00192e"/>
<path d="M298.1 1052.6L303.1 1060.4L294.2 1062.6L289.2 1055.1z" fill="#00639c" stroke="#001b2b"/>
<path d="M367.4 1091.3L372.6 1103.5L363.9 1104.7L358.7 1092.7z" fill="#009f60" stroke="#002c1a"/>
<path d="M434.4 1207.6L439.5 1225.4L431.2 1225.2L426 1207.5z" fill="#4fff00" stroke="#164700"/>
<path d="M193.7 1056.3L198 1058.7L188.9 1062.1L184.6 1059.9z" fill="#00649b" stroke="#001c2b"/>
<path d="M449.7 1263L454.7 1282.6L446.5 1281.9L441.4 1262.4z" fill="#a2ff00" stroke="#2d4700"/>
<path d="M439.5 1225.4L444.6 1243.9L436.3 1243.5L431.2 1225.2z" fill="#6aff00" stroke="#1d4700"/>
<path d="M444.6 1243.9L449.7 1263L441.4 1262.4L436.3 1243.5z" fill="#85ff00" stroke="#254700"/>
<path d="M405.3 1142.9L410.5 1158.1L402 1158.5L396.8 1143.5z" fill="#00ed12" stroke="#004205"/>
<path d="M238.9 1049.1L243.6 1053.7L234.5 1056.6L229.9 1052.2z" fill="#005aa5" stroke="#00192e"/>
<path d="M216.3 1051.9L220.8 1055.4L211.6 1058.6L207.2 1055.3z" fill="#005ea1" stroke="#001a2d"/>
<path d="M311.9 1058.1L317 1066.8L308.1 1068.8L303.1 1060.4z" fill="#006b94" stroke="#001d29"/>
<path d="M353.5 1081.4L358.7 1092.7L350 1094L344.8 1082.9z" fill="#008f70" stroke="#00281f"/>
<path d="M386.4 1115.4L391.6 1129.1L383 1129.9L377.8 1116.3z" fill="#00c33c" stroke="#003610"/>
<path d="M325.8 1064.8L330.9 1074.3L322.1 1076.1L317 1066.8z" fill="#00758a" stroke="#002026"/>
<path d="M339.7 1072.5L344.8 1082.9L336 1084.5L330.9 1074.3z" fill="#00817e" stroke="#002423"/>
<path d="M275.3 1050.9L280.2 1057.5L271.3 1060L266.4 1053.6z" fill="#005ea1" stroke="#001a2d"/>
<path d="M410.5 1158.1L415.7 1173.9L407.2 1174.1L402 1158.5z" fill="#03ff00" stroke="#004700"/>
<path d="M372.6 1103.5L377.8 1116.3L369.1 1117.3L363.9 1104.7z" fill="#00af50" stroke="#003116"/>
<path d="M391.6 1129.1L396.8 1143.5L388.2 1144L383 1129.9z" fill="#00d52a" stroke="#003b0b"/>
<path d="M184.6 1059.9L188.9 1062.1L179.6 1065.6L175.4 1063.6z" fill="#006699" stroke="#001c2a"/>
<path d="M415.7 1173.9L420.9 1190.4L412.4 1190.5L407.2 1174.1z" fill="#19ff00" stroke="#074700"/>
<path d="M252.6 1050.7L257.4 1056.3L248.3 1059L243.6 1053.7z" fill="#005ba4" stroke="#00192d"/>
<path d="M289.2 1055.1L294.2 1062.6L285.2 1064.8L280.2 1057.5z" fill="#00639c" stroke="#001b2b"/>
<path d="M207.2 1055.3L211.6 1058.6L202.5 1061.8L198 1058.7z" fill="#005fa0" stroke="#001a2c"/>
<path d="M229.9 1052.2L234.5 1056.6L225.4 1059.6L220.8 1055.4z" fill="#005ca3" stroke="#00192d"/>
<path d="M358.7 1092.7L363.9 1104.7L355.2 1105.8L350 1094z" fill="#009d62" stroke="#002b1b"/>
<path d="M420.9 1190.4L426 1207.5L417.6 1207.4L412.4 1190.5z" fill="#31ff00" stroke="#0d4700"/>
<path d="M303.1 1060.4L308.1 1068.8L299.2 1070.8L294.2 1062.6z" fill="#006a95" stroke="#001d29"/>
<path d="M344.8 1082.9L350 1094L341.2 1095.4L336 1084.5z" fill="#008d72" stroke="#00271f"/>
<path d="M426 1207.5L431.2 1225.2L422.7 1224.9L417.6 1207.4z" fill="#4aff00" stroke="#144700"/>
<path d="M396.8 1143.5L402 1158.5L393.4 1158.9L388.2 1144z" fill="#00e916" stroke="#004106"/>
<path d="M317 1066.8L322.1 1076.1L313.2 1077.9L308.1 1068.8z" fill="#00748b" stroke="#002026"/>
<path d="M330.9 1074.3L336 1084.5L327.2 1086.1L322.1 1076.1z" fill="#00807f" stroke="#002323"/>
<path d="M377.8 1116.3L383 1129.9L374.3 1130.6L369.1 1117.3z" fill="#00c03f" stroke="#003511"/>
<path d="M431.2 1225.2L436.3 1243.5L427.9 1243.1L422.7 1224.9z" fill="#64ff00" stroke="#1c4700"/>
<path d="M266.4 1053.6L271.3 1060L262.2 1062.4L257.4 1056.3z" fill="#005ea1" stroke="#001a2d"/>
<path d="M441.4 1262.4L446.5 1281.9L438.1 1281.2L433 1261.9z" fill="#9bff00" stroke="#2b4700"/>
<path d="M436.3 1243.5L441.4 1262.4L433 1261.9L427.9 1243.1z" fill="#7fff00" stroke="#234700"/>
<path d="M175.4 1063.6L179.6 1065.6L170.4 1069L166.2 1067.3z" fill="#006897" stroke="#001d2a"/>
<path d="M402 1158.5L407.2 1174.1L398.6 1174.4L393.4 1158.9z" fill="#00fd02" stroke="#004600"/>
<path d="M243.6 1053.7L248.3 1059L239.2 1061.7L234.5 1056.6z" fill="#005ca3" stroke="#00192d"/>
<path d="M363.9 1104.7L369.1 1117.3L360.4 1118.3L355.2 1105.8z" fill="#00ac53" stroke="#003017"/>
<path d="M280.2 1057.5L285.2 1064.8L276.2 1067.1L271.3 1060z" fill="#00639c" stroke="#001b2b"/>
<path d="M198 1058.7L202.5 1061.8L193.2 1065L188.9 1062.1z" fill="#00619e" stroke="#001b2c"/>
<path d="M220.8 1055.4L225.4 1059.6L216.2 1062.5L211.6 1058.6z" fill="#005da2" stroke="#001a2d"/>
<path d="M383 1129.9L388.2 1144L379.6 1144.6L374.3 1130.6z" fill="#00d22d" stroke="#003a0c"/>
<path d="M407.2 1174.1L412.4 1190.5L403.9 1190.5L398.6 1174.4z" fill="#14ff00" stroke="#054700"/>
<path d="M350 1094L355.2 1105.8L346.4 1107L341.2 1095.4z" fill="#009b64" stroke="#002b1c"/>
<path d="M294.2 1062.6L299.2 1070.8L290.2 1072.8L285.2 1064.8z" fill="#006a95" stroke="#001d29"/>
<path d="M257.4 1056.3L262.2 1062.4L253.1 1064.9L248.3 1059z" fill="#005fa0" stroke="#001a2c"/>
<path d="M336 1084.5L341.2 1095.4L332.3 1096.8L327.2 1086.1z" fill="#008b74" stroke="#002620"/>
<path d="M308.1 1068.8L313.2 1077.9L304.2 1079.7L299.2 1070.8z" fill="#00738c" stroke="#002027"/>
<path d="M412.4 1190.5L417.6 1207.4L409.1 1207.3L403.9 1190.5z" fill="#2bff00" stroke="#0c4700"/>
<path d="M322.1 1076.1L327.2 1086.1L318.3 1087.7L313.2 1077.9z" fill="#007e81" stroke="#002324"/>
<path d="M388.2 1144L393.4 1158.9L384.8 1159.3L379.6 1144.6z" fill="#00e51a" stroke="#004007"/>
<path d="M369.1 1117.3L374.3 1130.6L365.6 1131.4L360.4 1118.3z" fill="#00bc43" stroke="#003412"/>
<path d="M417.6 1207.4L422.7 1224.9L414.3 1224.7L409.1 1207.3z" fill="#44ff00" stroke="#134700"/>
<path d="M234.5 1056.6L239.2 1061.7L230 1064.4L225.4 1059.6z" fill="#005da2" stroke="#001a2d"/>
<path d="M188.9 1062.1L193.2 1065L184 1068.2L179.6 1065.6z" fill="#00639c" stroke="#001b2b"/>
<path d="M422.7 1224.9L427.9 1243.1L419.4 1242.7L414.3 1224.7z" fill="#5dff00" stroke="#1a4700"/>
<path d="M211.6 1058.6L216.2 1062.5L207 1065.5L202.5 1061.8z" fill="#005fa0" stroke="#001a2c"/>
<path d="M271.3 1060L276.2 1067.1L267.1 1069.3L262.2 1062.4z" fill="#00639c" stroke="#001b2b"/>
<path d="M433 1261.9L438.1 1281.2L429.7 1280.5L424.6 1261.3z" fill="#94ff00" stroke="#294700"/>
<path d="M427.9 1243.1L433 1261.9L424.6 1261.3L419.4 1242.7z" fill="#78ff00" stroke="#214700"/>
<path d="M355.2 1105.8L360.4 1118.3L351.6 1119.3L346.4 1107z" fill="#00a956" stroke="#002f18"/>
<path d="M393.4 1158.9L398.6 1174.4L390 1174.6L384.8 1159.3z" fill="#00f906" stroke="#004501"/>
<path d="M285.2 1064.8L290.2 1072.8L281.1 1074.9L276.2 1067.1z" fill="#006a95" stroke="#001d29"/>
<path d="M374.3 1130.6L379.6 1144.6L370.8 1145.2L365.6 1131.4z" fill="#00ce31" stroke="#00390d"/>
<path d="M341.2 1095.4L346.4 1107L337.5 1108.2L332.3 1096.8z" fill="#009867" stroke="#002a1c"/>
<path d="M248.3 1059L253.1 1064.9L244 1067.4L239.2 1061.7z" fill="#005fa0" stroke="#001a2c"/>
<path d="M398.6 1174.4L403.9 1190.5L395.2 1190.6L390 1174.6z" fill="#0fff00" stroke="#044700"/>
<path d="M299.2 1070.8L304.2 1079.7L295.2 1081.5L290.2 1072.8z" fill="#00728d" stroke="#001f27"/>
<path d="M327.2 1086.1L332.3 1096.8L323.4 1098.2L318.3 1087.7z" fill="#008a75" stroke="#002620"/>
<path d="M313.2 1077.9L318.3 1087.7L309.3 1089.3L304.2 1079.7z" fill="#007d82" stroke="#002324"/>
<path d="M225.4 1059.6L230 1064.4L220.8 1067.2L216.2 1062.5z" fill="#005ea1" stroke="#001a2d"/>
<path d="M179.6 1065.6L184 1068.2L174.6 1071.5L170.4 1069z" fill="#00659a" stroke="#001c2b"/>
<path d="M202.5 1061.8L207 1065.5L197.7 1068.5L193.2 1065z" fill="#00609f" stroke="#001a2c"/>
<path d="M403.9 1190.5L409.1 1207.3L400.5 1207.2L395.2 1190.6z" fill="#26ff00" stroke="#0a4700"/>
<path d="M360.4 1118.3L365.6 1131.4L356.8 1132.2L351.6 1119.3z" fill="#00b946" stroke="#003313"/>
<path d="M379.6 1144.6L384.8 1159.3L376.1 1159.7L370.8 1145.2z" fill="#00e11e" stroke="#003f08"/>
<path d="M262.2 1062.4L267.1 1069.3L258 1071.6L253.1 1064.9z" fill="#00639c" stroke="#001b2b"/>
<path d="M409.1 1207.3L414.3 1224.7L405.7 1224.4L400.5 1207.2z" fill="#3eff00" stroke="#114700"/>
<path d="M346.4 1107L351.6 1119.3L342.7 1120.3L337.5 1108.2z" fill="#00a758" stroke="#002e18"/>
<path d="M414.3 1224.7L419.4 1242.7L410.9 1242.3L405.7 1224.4z" fill="#57ff00" stroke="#184700"/>
<path d="M276.2 1067.1L281.1 1074.9L272.1 1076.9L267.1 1069.3z" fill="#006996" stroke="#001d2a"/>
<path d="M419.4 1242.7L424.6 1261.3L416.1 1260.8L410.9 1242.3z" fill="#71ff00" stroke="#1f4700"/>
<path d="M239.2 1061.7L244 1067.4L234.8 1070L230 1064.4z" fill="#005fa0" stroke="#001a2c"/>
<path d="M384.8 1159.3L390 1174.6L381.3 1174.9L376.1 1159.7z" fill="#00f40b" stroke="#004403"/>
<path d="M424.6 1261.3L429.7 1280.5L421.2 1279.8L416.1 1260.8z" fill="#8cff00" stroke="#274700"/>
<path d="M365.6 1131.4L370.8 1145.2L362.1 1145.8L356.8 1132.2z" fill="#00ca35" stroke="#00380e"/>
<path d="M332.3 1096.8L337.5 1108.2L328.6 1109.4L323.4 1098.2z" fill="#009669" stroke="#002a1d"/>
<path d="M290.2 1072.8L295.2 1081.5L286.2 1083.3L281.1 1074.9z" fill="#00718e" stroke="#001f27"/>
<path d="M216.2 1062.5L220.8 1067.2L211.5 1069.9L207 1065.5z" fill="#005fa0" stroke="#001a2c"/>
<path d="M318.3 1087.7L323.4 1098.2L314.5 1099.6L309.3 1089.3z" fill="#008877" stroke="#002621"/>
<path d="M304.2 1079.7L309.3 1089.3L300.3 1090.9L295.2 1081.5z" fill="#007b84" stroke="#002224"/>
<path d="M193.2 1065L197.7 1068.5L188.4 1071.5L184 1068.2z" fill="#00619e" stroke="#001b2c"/>
<path d="M390 1174.6L395.2 1190.6L386.6 1190.7L381.3 1174.9z" fill="#0aff00" stroke="#024700"/>
<path d="M253.1 1064.9L258 1071.6L248.8 1073.9L244 1067.4z" fill="#00639c" stroke="#001b2b"/>
<path d="M351.6 1119.3L356.8 1132.2L348 1133L342.7 1120.3z" fill="#00b649" stroke="#003214"/>
<path d="M370.8 1145.2L376.1 1159.7L367.3 1160.1L362.1 1145.8z" fill="#00dd22" stroke="#003d09"/>
<path d="M395.2 1190.6L400.5 1207.2L391.8 1207.1L386.6 1190.7z" fill="#21ff00" stroke="#094700"/>
<path d="M267.1 1069.3L272.1 1076.9L262.9 1079L258 1071.6z" fill="#006996" stroke="#001d2a"/>
<path d="M230 1064.4L234.8 1070L225.5 1072.5L220.8 1067.2z" fill="#00609f" stroke="#001a2c"/>
<path d="M337.5 1108.2L342.7 1120.3L333.8 1121.3L328.6 1109.4z" fill="#00a45b" stroke="#002d19"/>
<path d="M400.5 1207.2L405.7 1224.4L397.1 1224.2L391.8 1207.1z" fill="#38ff00" stroke="#0f4700"/>
<path d="M207 1065.5L211.5 1069.9L202.2 1072.7L197.7 1068.5z" fill="#00609f" stroke="#001a2c"/>
<path d="M184 1068.2L188.4 1071.5L179 1074.6L174.6 1071.5z" fill="#00639c" stroke="#001b2b"/>
<path d="M281.1 1074.9L286.2 1083.3L277.1 1085.2L272.1 1076.9z" fill="#00708f" stroke="#001f28"/>
<path d="M405.7 1224.4L410.9 1242.3L402.3 1241.9L397.1 1224.2z" fill="#51ff00" stroke="#164700"/>
<path d="M323.4 1098.2L328.6 1109.4L319.6 1110.6L314.5 1099.6z" fill="#00946b" stroke="#00291d"/>
<path d="M376.1 1159.7L381.3 1174.9L372.6 1175.1L367.3 1160.1z" fill="#00f00f" stroke="#004304"/>
<path d="M356.8 1132.2L362.1 1145.8L353.2 1146.5L348 1133z" fill="#00c738" stroke="#00370f"/>
<path d="M295.2 1081.5L300.3 1090.9L291.2 1092.5L286.2 1083.3z" fill="#007a85" stroke="#002225"/>
<path d="M309.3 1089.3L314.5 1099.6L305.4 1101L300.3 1090.9z" fill="#008679" stroke="#002521"/>
<path d="M410.9 1242.3L416.1 1260.8L407.5 1260.2L402.3 1241.9z" fill="#6aff00" stroke="#1d4700"/>
<path d="M416.1 1260.8L421.2 1279.8L412.7 1279.1L407.5 1260.2z" fill="#85ff00" stroke="#254700"/>
<path d="M244 1067.4L248.8 1073.9L239.6 1076.2L234.8 1070z" fill="#00639c" stroke="#001b2b"/>
<path d="M381.3 1174.9L386.6 1190.7L377.8 1190.7L372.6 1175.1z" fill="#05ff00" stroke="#014700"/>
<path d="M342.7 1120.3L348 1133L339 1133.8L333.8 1121.3z" fill="#00b34c" stroke="#003215"/>
<path d="M220.8 1067.2L225.5 1072.5L216.2 1075.1L211.5 1069.9z" fill="#00609f" stroke="#001a2c"/>
<path d="M258 1071.6L262.9 1079L253.7 1081.1L248.8 1073.9z" fill="#006897" stroke="#001d2a"/>
<path d="M362.1 1145.8L367.3 1160.1L358.5 1160.6L353.2 1146.5z" fill="#00d827" stroke="#003c0a"/>
<path d="M197.7 1068.5L202.2 1072.7L192.8 1075.5L188.4 1071.5z" fill="#00619e" stroke="#001b2c"/>
<path d="M386.6 1190.7L391.8 1207.1L383.1 1207L377.8 1190.7z" fill="#1bff00" stroke="#074700"/>
<path d="M328.6 1109.4L333.8 1121.3L324.8 1122.3L319.6 1110.6z" fill="#00a15e" stroke="#002d1a"/>
<path d="M272.1 1076.9L277.1 1085.2L267.9 1087L262.9 1079z" fill="#006f90" stroke="#001f28"/>
<path d="M314.5 1099.6L319.6 1110.6L310.6 1111.8L305.4 1101z" fill="#00926d" stroke="#00281e"/>
<path d="M391.8 1207.1L397.1 1224.2L388.3 1223.9L383.1 1207z" fill="#32ff00" stroke="#0e4700"/>
<path d="M286.2 1083.3L291.2 1092.5L282.1 1094.2L277.1 1085.2z" fill="#007986" stroke="#002125"/>
<path d="M300.3 1090.9L305.4 1101L296.3 1102.4L291.2 1092.5z" fill="#00847b" stroke="#002422"/>
<path d="M234.8 1070L239.6 1076.2L230.3 1078.5L225.5 1072.5z" fill="#00639c" stroke="#001b2b"/>
<path d="M367.3 1160.1L372.6 1175.1L363.7 1175.4L358.5 1160.6z" fill="#00eb14" stroke="#004105"/>
<path d="M348 1133L353.2 1146.5L344.3 1147.1L339 1133.8z" fill="#00c33c" stroke="#003610"/>
<path d="M397.1 1224.2L402.3 1241.9L393.6 1241.5L388.3 1223.9z" fill="#4aff00" stroke="#144700"/>
<path d="M402.3 1241.9L407.5 1260.2L398.8 1259.6L393.6 1241.5z" fill="#64ff00" stroke="#1c4700"/>
<path d="M211.5 1069.9L216.2 1075.1L206.8 1077.6L202.2 1072.7z" fill="#00619e" stroke="#001b2c"/>
<path d="M407.5 1260.2L412.7 1279.1L404.1 1278.4L398.8 1259.6z" fill="#7eff00" stroke="#234700"/>
<path d="M248.8 1073.9L253.7 1081.1L244.4 1083.1L239.6 1076.2z" fill="#006897" stroke="#001d2a"/>
<path d="M333.8 1121.3L339 1133.8L330.1 1134.6L324.8 1122.3z" fill="#00b04f" stroke="#003116"/>
<path d="M372.6 1175.1L377.8 1190.7L369 1190.8L363.7 1175.4z" fill="#01ff00" stroke="#004700"/>
<path d="M188.4 1071.5L192.8 1075.5L183.4 1078.3L179 1074.6z" fill="#00629d" stroke="#001b2b"/>
<path d="M353.2 1146.5L358.5 1160.6L349.6 1161L344.3 1147.1z" fill="#00d42b" stroke="#003b0c"/>
<path d="M262.9 1079L267.9 1087L258.6 1088.9L253.7 1081.1z" fill="#006f90" stroke="#001f28"/>
<path d="M319.6 1110.6L324.8 1122.3L315.8 1123.3L310.6 1111.8z" fill="#009f60" stroke="#002c1a"/>
<path d="M377.8 1190.7L383.1 1207L374.3 1206.9L369 1190.8z" fill="#16ff00" stroke="#064700"/>
<path d="M225.5 1072.5L230.3 1078.5L220.9 1080.9L216.2 1075.1z" fill="#00639c" stroke="#001b2b"/>
<path d="M277.1 1085.2L282.1 1094.2L272.9 1095.8L267.9 1087z" fill="#007788" stroke="#002126"/>
<path d="M305.4 1101L310.6 1111.8L301.5 1113L296.3 1102.4z" fill="#008f70" stroke="#00281f"/>
<path d="M291.2 1092.5L296.3 1102.4L287.2 1103.8L282.1 1094.2z" fill="#00827d" stroke="#002423"/>
<path d="M383.1 1207L388.3 1223.9L379.6 1223.7L374.3 1206.9z" fill="#2cff00" stroke="#0c4700"/>
<path d="M339 1133.8L344.3 1147.1L335.3 1147.7L330.1 1134.6z" fill="#00bf40" stroke="#003511"/>
<path d="M358.5 1160.6L363.7 1175.4L354.8 1175.6L349.6 1161z" fill="#00e718" stroke="#004006"/>
<path d="M202.2 1072.7L206.8 1077.6L197.4 1080.2L192.8 1075.5z" fill="#00619e" stroke="#001b2c"/>
<path d="M239.6 1076.2L244.4 1083.1L235.1 1085.3L230.3 1078.5z" fill="#006798" stroke="#001c2a"/>
<path d="M388.3 1223.9L393.6 1241.5L384.8 1241.1L379.6 1223.7z" fill="#44ff00" stroke="#134700"/>
<path d="M324.8 1122.3L330.1 1134.6L321 1135.4L315.8 1123.3z" fill="#00ad52" stroke="#003016"/>
<path d="M393.6 1241.5L398.8 1259.6L390.1 1259.1L384.8 1241.1z" fill="#5dff00" stroke="#1a4700"/>
<path d="M363.7 1175.4L369 1190.8L360.1 1190.9L354.8 1175.6z" fill="#00fb04" stroke="#004601"/>
<path d="M398.8 1259.6L404.1 1278.4L395.4 1277.7L390.1 1259.1z" fill="#77ff00" stroke="#214700"/>
<path d="M253.7 1081.1L258.6 1088.9L249.3 1090.8L244.4 1083.1z" fill="#006e91" stroke="#001e28"/>
<path d="M344.3 1147.1L349.6 1161L340.6 1161.4L335.3 1147.7z" fill="#00d02f" stroke="#003a0d"/>
<path d="M216.2 1075.1L220.9 1080.9L211.5 1083.2L206.8 1077.6z" fill="#00639c" stroke="#001b2b"/>
<path d="M310.6 1111.8L315.8 1123.3L306.7 1124.3L301.5 1113z" fill="#009c63" stroke="#002b1b"/>
<path d="M267.9 1087L272.9 1095.8L263.6 1097.5L258.6 1088.9z" fill="#007689" stroke="#002126"/>
<path d="M296.3 1102.4L301.5 1113L292.3 1114.2L287.2 1103.8z" fill="#008d72" stroke="#00271f"/>
<path d="M282.1 1094.2L287.2 1103.8L278 1105.3L272.9 1095.8z" fill="#00817e" stroke="#002423"/>
<path d="M369 1190.8L374.3 1206.9L365.4 1206.8L360.1 1190.9z" fill="#10ff00" stroke="#044700"/>
<path d="M192.8 1075.5L197.4 1080.2L187.9 1082.8L183.4 1078.3z" fill="#00629d" stroke="#001b2b"/>
<path d="M330.1 1134.6L335.3 1147.7L326.3 1148.3L321 1135.4z" fill="#00bc43" stroke="#003412"/>
<path d="M230.3 1078.5L235.1 1085.3L225.7 1087.4L220.9 1080.9z" fill="#006798" stroke="#001c2a"/>
<path d="M349.6 1161L354.8 1175.6L345.9 1175.9L340.6 1161.4z" fill="#00e21d" stroke="#003f08"/>
<path d="M374.3 1206.9L379.6 1223.7L370.7 1223.4L365.4 1206.8z" fill="#26ff00" stroke="#0a4700"/>
<path d="M315.8 1123.3L321 1135.4L311.9 1136.3L306.7 1124.3z" fill="#00a956" stroke="#002f18"/>
<path d="M244.4 1083.1L249.3 1090.8L240 1092.7L235.1 1085.3z" fill="#006d92" stroke="#001e28"/>
<path d="M379.6 1223.7L384.8 1241.1L376 1240.6L370.7 1223.4z" fill="#3eff00" stroke="#114700"/>
<path d="M206.8 1077.6L211.5 1083.2L202 1085.6L197.4 1080.2z" fill="#00639c" stroke="#001b2b"/>
<path d="M354.8 1175.6L360.1 1190.9L351.2 1191L345.9 1175.9z" fill="#00f609" stroke="#004402"/>
<path d="M384.8 1241.1L390.1 1259.1L381.3 1258.5L376 1240.6z" fill="#56ff00" stroke="#184700"/>
<path d="M301.5 1113L306.7 1124.3L297.5 1125.3L292.3 1114.2z" fill="#009966" stroke="#002a1c"/>
<path d="M258.6 1088.9L263.6 1097.5L254.3 1099.1L249.3 1090.8z" fill="#00758a" stroke="#002026"/>
<path d="M335.3 1147.7L340.6 1161.4L331.5 1161.9L326.3 1148.3z" fill="#00cc33" stroke="#00390e"/>
<path d="M390.1 1259.1L395.4 1277.7L386.6 1277L381.3 1258.5z" fill="#6fff00" stroke="#1f4700"/>
<path d="M287.2 1103.8L292.3 1114.2L283.1 1115.5L278 1105.3z" fill="#008b74" stroke="#002620"/>
<path d="M272.9 1095.8L278 1105.3L268.7 1106.7L263.6 1097.5z" fill="#007f80" stroke="#002323"/>
<path d="M220.9 1080.9L225.7 1087.4L216.3 1089.5L211.5 1083.2z" fill="#006699" stroke="#001c2a"/>
<path d="M360.1 1190.9L365.4 1206.8L356.5 1206.7L351.2 1191z" fill="#0bff00" stroke="#034700"/>
<path d="M321 1135.4L326.3 1148.3L317.1 1148.9L311.9 1136.3z" fill="#00b847" stroke="#003313"/>
<path d="M340.6 1161.4L345.9 1175.9L336.8 1176.1L331.5 1161.9z" fill="#00de21" stroke="#003e09"/>
<path d="M235.1 1085.3L240 1092.7L230.6 1094.6L225.7 1087.4z" fill="#006c93" stroke="#001e29"/>
<path d="M197.4 1080.2L202 1085.6L192.5 1088L187.9 1082.8z" fill="#00639c" stroke="#001b2b"/>
<path d="M365.4 1206.8L370.7 1223.4L361.8 1223.1L356.5 1206.7z" fill="#21ff00" stroke="#094700"/>
<path d="M306.7 1124.3L311.9 1136.3L302.7 1137.1L297.5 1125.3z" fill="#00a659" stroke="#002e18"/>
<path d="M249.3 1090.8L254.3 1099.1L244.9 1100.8L240 1092.7z" fill="#00738c" stroke="#002027"/>
<path d="M370.7 1223.4L376 1240.6L367.1 1240.2L361.8 1223.1z" fill="#37ff00" stroke="#0f4700"/>
<path d="M292.3 1114.2L297.5 1125.3L288.2 1126.3L283.1 1115.5z" fill="#009669" stroke="#002a1d"/>
<path d="M263.6 1097.5L268.7 1106.7L259.3 1108.2L254.3 1099.1z" fill="#007d82" stroke="#002324"/>
<path d="M278 1105.3L283.1 1115.5L273.8 1116.7L268.7 1106.7z" fill="#008976" stroke="#002621"/>
<path d="M345.9 1175.9L351.2 1191L342.1 1191L336.8 1176.1z" fill="#00f10e" stroke="#004303"/>
<path d="M326.3 1148.3L331.5 1161.9L322.4 1162.3L317.1 1148.9z" fill="#00c837" stroke="#00380f"/>
<path d="M211.5 1083.2L216.3 1089.5L206.8 1091.7L202 1085.6z" fill="#006699" stroke="#001c2a"/>
<path d="M376 1240.6L381.3 1258.5L372.4 1257.9L367.1 1240.2z" fill="#4fff00" stroke="#164700"/>
<path d="M381.3 1258.5L386.6 1277L377.7 1276.3L372.4 1257.9z" fill="#68ff00" stroke="#1d4700"/>
<path d="M351.2 1191L356.5 1206.7L347.4 1206.6L342.1 1191z" fill="#06ff00" stroke="#014700"/>
<path d="M311.9 1136.3L317.1 1148.9L307.9 1149.6L302.7 1137.1z" fill="#00b54a" stroke="#003214"/>
<path d="M225.7 1087.4L230.6 1094.6L221.1 1096.5L216.3 1089.5z" fill="#006b94" stroke="#001d29"/>
<path d="M331.5 1161.9L336.8 1176.1L327.7 1176.4L322.4 1162.3z" fill="#00d926" stroke="#003c0a"/>
<path d="M297.5 1125.3L302.7 1137.1L293.4 1137.9L288.2 1126.3z" fill="#00a35c" stroke="#002d19"/>
<path d="M240 1092.7L244.9 1100.8L235.5 1102.5L230.6 1094.6z" fill="#00728d" stroke="#001f27"/>
<path d="M356.5 1206.7L361.8 1223.1L352.8 1222.9L347.4 1206.6z" fill="#1bff00" stroke="#074700"/>
<path d="M283.1 1115.5L288.2 1126.3L278.9 1127.4L273.8 1116.7z" fill="#00946b" stroke="#00291d"/>
<path d="M254.3 1099.1L259.3 1108.2L249.9 1109.7L244.9 1100.8z" fill="#007b84" stroke="#002224"/>
<path d="M202 1085.6L206.8 1091.7L197.2 1093.8L192.5 1088z" fill="#006699" stroke="#001c2a"/>
<path d="M268.7 1106.7L273.8 1116.7L264.4 1118L259.3 1108.2z" fill="#008679" stroke="#002521"/>
<path d="M361.8 1223.1L367.1 1240.2L358.1 1239.8L352.8 1222.9z" fill="#31ff00" stroke="#0d4700"/>
<path d="M317.1 1148.9L322.4 1162.3L313.2 1162.8L307.9 1149.6z" fill="#00c43b" stroke="#003610"/>
<path d="M336.8 1176.1L342.1 1191L333 1191.1L327.7 1176.4z" fill="#00ec13" stroke="#004205"/>
<path d="M367.1 1240.2L372.4 1257.9L363.4 1257.3L358.1 1239.8z" fill="#48ff00" stroke="#144700"/>
<path d="M216.3 1089.5L221.1 1096.5L211.5 1098.4L206.8 1091.7z" fill="#006a95" stroke="#001d29"/>
<path d="M302.7 1137.1L307.9 1149.6L298.7 1150.2L293.4 1137.9z" fill="#00b14e" stroke="#003115"/>
<path d="M372.4 1257.9L377.7 1276.3L368.8 1275.5L363.4 1257.3z" fill="#61ff00" stroke="#1b4700"/>
<path d="M342.1 1191L347.4 1206.6L338.3 1206.5L333 1191.1z" fill="#00ff00" stroke="#004700"/>
<path d="M230.6 1094.6L235.5 1102.5L226 1104.2L221.1 1096.5z" fill="#00718e" stroke="#001f27"/>
<path d="M322.4 1162.3L327.7 1176.4L318.5 1176.6L313.2 1162.8z" fill="#00d52a" stroke="#003b0b"/>
<path d="M288.2 1126.3L293.4 1137.9L284.1 1138.8L278.9 1127.4z" fill="#00a05f" stroke="#002c1a"/>
<path d="M244.9 1100.8L249.9 1109.7L240.5 1111.1L235.5 1102.5z" fill="#007986" stroke="#002125"/>
<path d="M273.8 1116.7L278.9 1127.4L269.5 1128.4L264.4 1118z" fill="#00916e" stroke="#00281e"/>
<path d="M259.3 1108.2L264.4 1118L255 1119.2L249.9 1109.7z" fill="#00847b" stroke="#002422"/>
<path d="M347.4 1206.6L352.8 1222.9L343.7 1222.6L338.3 1206.5z" fill="#15ff00" stroke="#054700"/>
<path d="M307.9 1149.6L313.2 1162.8L303.9 1163.2L298.7 1150.2z" fill="#00c03f" stroke="#003511"/>
<path d="M327.7 1176.4L333 1191.1L323.8 1191.2L318.5 1176.6z" fill="#00e718" stroke="#004006"/>
<path d="M206.8 1091.7L211.5 1098.4L201.9 1100.4L197.2 1093.8z" fill="#006996" stroke="#001d2a"/>
<path d="M352.8 1222.9L358.1 1239.8L349 1239.4L343.7 1222.6z" fill="#2bff00" stroke="#0c4700"/>
<path d="M293.4 1137.9L298.7 1150.2L289.3 1150.9L284.1 1138.8z" fill="#00ad52" stroke="#003016"/>
<path d="M358.1 1239.8L363.4 1257.3L354.4 1256.7L349 1239.4z" fill="#42ff00" stroke="#124700"/>
<path d="M221.1 1096.5L226 1104.2L216.4 1105.9L211.5 1098.4z" fill="#006f90" stroke="#001f28"/>
<path d="M333 1191.1L338.3 1206.5L329.2 1206.4L323.8 1191.2z" fill="#00fa05" stroke="#004601"/>
<path d="M363.4 1257.3L368.8 1275.5L359.7 1274.8L354.4 1256.7z" fill="#5aff00" stroke="#194700"/>
<path d="M278.9 1127.4L284.1 1138.8L274.7 1139.6L269.5 1128.4z" fill="#009d62" stroke="#002b1b"/>
<path d="M313.2 1162.8L318.5 1176.6L309.2 1176.9L303.9 1163.2z" fill="#00d02f" stroke="#003a0d"/>
<path d="M235.5 1102.5L240.5 1111.1L230.9 1112.6L226 1104.2z" fill="#007887" stroke="#002125"/>
<path d="M264.4 1118L269.5 1128.4L260.1 1129.5L255 1119.2z" fill="#008e71" stroke="#00271f"/>
<path d="M249.9 1109.7L255 1119.2L245.5 1120.5L240.5 1111.1z" fill="#00827d" stroke="#002423"/>
<path d="M338.3 1206.5L343.7 1222.6L334.5 1222.3L329.2 1206.4z" fill="#0fff00" stroke="#044700"/>
<path d="M298.7 1150.2L303.9 1163.2L294.6 1163.7L289.3 1150.9z" fill="#00bc43" stroke="#003412"/>
<path d="M318.5 1176.6L323.8 1191.2L314.6 1191.3L309.2 1176.9z" fill="#00e21d" stroke="#003f08"/>
<path d="M343.7 1222.6L349 1239.4L339.9 1238.9L334.5 1222.3z" fill="#24ff00" stroke="#0a4700"/>
<path d="M211.5 1098.4L216.4 1105.9L206.7 1107.6L201.9 1100.4z" fill="#006e91" stroke="#001e28"/>
<path d="M284.1 1138.8L289.3 1150.9L279.9 1151.5L274.7 1139.6z" fill="#00aa55" stroke="#002f17"/>
<path d="M226 1104.2L230.9 1112.6L221.3 1114.1L216.4 1105.9z" fill="#007689" stroke="#002126"/>
<path d="M349 1239.4L354.4 1256.7L345.2 1256.1L339.9 1238.9z" fill="#3bff00" stroke="#104700"/>
<path d="M269.5 1128.4L274.7 1139.6L265.3 1140.5L260.1 1129.5z" fill="#009a65" stroke="#002b1c"/>
<path d="M323.8 1191.2L329.2 1206.4L319.9 1206.3L314.6 1191.3z" fill="#00f40b" stroke="#004403"/>
<path d="M240.5 1111.1L245.5 1120.5L235.9 1121.8L230.9 1112.6z" fill="#00807f" stroke="#002323"/>
<path d="M255 1119.2L260.1 1129.5L250.6 1130.5L245.5 1120.5z" fill="#008c73" stroke="#002720"/>
<path d="M303.9 1163.2L309.2 1176.9L299.9 1177.2L294.6 1163.7z" fill="#00cc33" stroke="#00390e"/>
<path d="M354.4 1256.7L359.7 1274.8L350.6 1274L345.2 1256.1z" fill="#53ff00" stroke="#174700"/>
<path d="M329.2 1206.4L334.5 1222.3L325.3 1222.1L319.9 1206.3z" fill="#09ff00" stroke="#024700"/>
<path d="M289.3 1150.9L294.6 1163.7L285.2 1164.1L279.9 1151.5z" fill="#00b847" stroke="#003313"/>
<path d="M309.2 1176.9L314.6 1191.3L305.2 1191.3L299.9 1177.2z" fill="#00dd22" stroke="#003d09"/>
<path d="M274.7 1139.6L279.9 1151.5L270.5 1152.2L265.3 1140.5z" fill="#00a659" stroke="#002e18"/>
<path d="M334.5 1222.3L339.9 1238.9L330.6 1238.5L325.3 1222.1z" fill="#1eff00" stroke="#084700"/>
<path d="M216.4 1105.9L221.3 1114.1L211.6 1115.6L206.7 1107.6z" fill="#00748b" stroke="#002026"/>
<path d="M260.1 1129.5L265.3 1140.5L255.7 1141.3L250.6 1130.5z" fill="#009768" stroke="#002a1d"/>
<path d="M230.9 1112.6L235.9 1121.8L226.3 1123.1L221.3 1114.1z" fill="#007d82" stroke="#002324"/>
<path d="M245.5 1120.5L250.6 1130.5L241 1131.6L235.9 1121.8z" fill="#008976" stroke="#002621"/>
<path d="M339.9 1238.9L345.2 1256.1L336 1255.5L330.6 1238.5z" fill="#34ff00" stroke="#0e4700"/>
<path d="M294.6 1163.7L299.9 1177.2L290.5 1177.4L285.2 1164.1z" fill="#00c738" stroke="#00370f"/>
<path d="M314.6 1191.3L319.9 1206.3L310.6 1206.2L305.2 1191.3z" fill="#00ef10" stroke="#004204"/>
<path d="M345.2 1256.1L350.6 1274L341.4 1273.3L336 1255.5z" fill="#4bff00" stroke="#154700"/>
<path d="M279.9 1151.5L285.2 1164.1L275.7 1164.6L270.5 1152.2z" fill="#00b44b" stroke="#003215"/>
<path d="M319.9 1206.3L325.3 1222.1L315.9 1221.8L310.6 1206.2z" fill="#03ff00" stroke="#004700"/>
<path d="M299.9 1177.2L305.2 1191.3L295.8 1191.4L290.5 1177.4z" fill="#00d827" stroke="#003c0a"/>
<path d="M265.3 1140.5L270.5 1152.2L260.9 1152.8L255.7 1141.3z" fill="#00a35c" stroke="#002d19"/>
<path d="M221.3 1114.1L226.3 1123.1L216.6 1124.3L211.6 1115.6z" fill="#007b84" stroke="#002224"/>
<path d="M250.6 1130.5L255.7 1141.3L246.1 1142.2L241 1131.6z" fill="#00936c" stroke="#00291e"/>
<path d="M325.3 1222.1L330.6 1238.5L321.3 1238L315.9 1221.8z" fill="#18ff00" stroke="#064700"/>
<path d="M235.9 1121.8L241 1131.6L231.3 1132.7L226.3 1123.1z" fill="#008679" stroke="#002521"/>
<path d="M285.2 1164.1L290.5 1177.4L281 1177.7L275.7 1164.6z" fill="#00c33c" stroke="#003610"/>
<path d="M305.2 1191.3L310.6 1206.2L301.2 1206.1L295.8 1191.4z" fill="#00e916" stroke="#004106"/>
<path d="M330.6 1238.5L336 1255.5L326.7 1254.9L321.3 1238z" fill="#2dff00" stroke="#0c4700"/>
<path d="M270.5 1152.2L275.7 1164.6L266.1 1165L260.9 1152.8z" fill="#00b04f" stroke="#003116"/>
<path d="M336 1255.5L341.4 1273.3L332.1 1272.5L326.7 1254.9z" fill="#44ff00" stroke="#134700"/>
<path d="M310.6 1206.2L315.9 1221.8L306.5 1221.5L301.2 1206.1z" fill="#00fc03" stroke="#004600"/>
<path d="M255.7 1141.3L260.9 1152.8L251.3 1153.5L246.1 1142.2z" fill="#009f60" stroke="#002c1a"/>
<path d="M290.5 1177.4L295.8 1191.4L286.3 1191.5L281 1177.7z" fill="#00d32c" stroke="#003b0c"/>
<path d="M241 1131.6L246.1 1142.2L236.4 1143.1L231.3 1132.7z" fill="#00906f" stroke="#00281f"/>
<path d="M226.3 1123.1L231.3 1132.7L221.6 1133.8L216.6 1124.3z" fill="#00847b" stroke="#002422"/>
<path d="M315.9 1221.8L321.3 1238L311.9 1237.6L306.5 1221.5z" fill="#11ff00" stroke="#044700"/>
<path d="M275.7 1164.6L281 1177.7L271.4 1178L266.1 1165z" fill="#00be41" stroke="#003512"/>
<path d="M295.8 1191.4L301.2 1206.1L291.7 1206L286.3 1191.5z" fill="#00e41b" stroke="#003f07"/>
<path d="M321.3 1238L326.7 1254.9L317.3 1254.3L311.9 1237.6z" fill="#27ff00" stroke="#0a4700"/>
<path d="M260.9 1152.8L266.1 1165L256.5 1165.5L251.3 1153.5z" fill="#00ac53" stroke="#003017"/>
<path d="M326.7 1254.9L332.1 1272.5L322.8 1271.7L317.3 1254.3z" fill="#3dff00" stroke="#114700"/>
<path d="M246.1 1142.2L251.3 1153.5L241.6 1154.2L236.4 1143.1z" fill="#009b64" stroke="#002b1c"/>
<path d="M301.2 1206.1L306.5 1221.5L297 1221.2L291.7 1206z" fill="#00f609" stroke="#004402"/>
<path d="M281 1177.7L286.3 1191.5L276.7 1191.6L271.4 1178z" fill="#00ce31" stroke="#00390d"/>
<path d="M231.3 1132.7L236.4 1143.1L226.7 1143.9L221.6 1133.8z" fill="#008d72" stroke="#00271f"/>
<path d="M306.5 1221.5L311.9 1237.6L302.4 1237.1L297 1221.2z" fill="#0bff00" stroke="#034700"/>
<path d="M266.1 1165L271.4 1178L261.8 1178.2L256.5 1165.5z" fill="#00ba45" stroke="#003413"/>
<path d="M286.3 1191.5L291.7 1206L282.1 1205.9L276.7 1191.6z" fill="#00df20" stroke="#003e08"/>
<path d="M251.3 1153.5L256.5 1165.5L246.8 1166L241.6 1154.2z" fill="#00a857" stroke="#002f18"/>
<path d="M311.9 1237.6L317.3 1254.3L307.9 1253.7L302.4 1237.1z" fill="#20ff00" stroke="#084700"/>
<path d="M236.4 1143.1L241.6 1154.2L231.8 1154.8L226.7 1143.9z" fill="#009867" stroke="#002a1c"/>
<path d="M317.3 1254.3L322.8 1271.7L313.3 1270.9L307.9 1253.7z" fill="#36ff00" stroke="#0f4700"/>
<path d="M271.4 1178L276.7 1191.6L267.1 1191.7L261.8 1178.2z" fill="#00c936" stroke="#00380f"/>
<path d="M291.7 1206L297 1221.2L287.5 1220.9L282.1 1205.9z" fill="#00f10e" stroke="#004303"/>
<path d="M256.5 1165.5L261.8 1178.2L252 1178.5L246.8 1166z" fill="#00b54a" stroke="#003214"/>
<path d="M297 1221.2L302.4 1237.1L292.9 1236.7L287.5 1220.9z" fill="#05ff00" stroke="#014700"/>
<path d="M276.7 1191.6L282.1 1205.9L272.4 1205.8L267.1 1191.7z" fill="#00d926" stroke="#003c0a"/>
<path d="M241.6 1154.2L246.8 1166L237 1166.4L231.8 1154.8z" fill="#00a45b" stroke="#002d19"/>
<path d="M302.4 1237.1L307.9 1253.7L298.3 1253.1L292.9 1236.7z" fill="#19ff00" stroke="#074700"/>
<path d="M261.8 1178.2L267.1 1191.7L257.3 1191.7L252 1178.5z" fill="#00c43b" stroke="#003610"/>
<path d="M282.1 1205.9L287.5 1220.9L277.8 1220.7L272.4 1205.8z" fill="#00eb14" stroke="#004105"/>
<path d="M307.9 1253.7L313.3 1270.9L303.8 1270.2L298.3 1253.1z" fill="#2eff00" stroke="#0c4700"/>
<path d="M246.8 1166L252 1178.5L242.2 1178.8L237 1166.4z" fill="#00b14e" stroke="#003115"/>
<path d="M287.5 1220.9L292.9 1236.7L283.2 1236.2L277.8 1220.7z" fill="#00fd02" stroke="#004600"/>
<path d="M267.1 1191.7L272.4 1205.8L262.7 1205.7L257.3 1191.7z" fill="#00d42b" stroke="#003b0c"/>
<path d="M292.9 1236.7L298.3 1253.1L288.7 1252.4L283.2 1236.2z" fill="#12ff00" stroke="#054700"/>
<path d="M252 1178.5L257.3 1191.7L247.5 1191.8L242.2 1178.8z" fill="#00bf40" stroke="#003511"/>
<path d="M272.4 1205.8L277.8 1220.7L268.1 1220.4L262.7 1205.7z" fill="#00e51a" stroke="#004007"/>
<path d="M298.3 1253.1L303.8 1270.2L294.1 1269.4L288.7 1252.4z" fill="#27ff00" stroke="#0a4700"/>
<path d="M277.8 1220.7L283.2 1236.2L273.5 1235.7L268.1 1220.4z" fill="#00f708" stroke="#004502"/>
<path d="M257.3 1191.7L262.7 1205.7L252.8 1205.6L247.5 1191.8z" fill="#00ce31" stroke="#00390d"/>
<path d="M283.2 1236.2L288.7 1252.4L278.9 1251.8L273.5 1235.7z" fill="#0bff00" stroke="#034700"/>
<path d="M262.7 1205.7L268.1 1220.4L258.2 1220.1L252.8 1205.6z" fill="#00df20" stroke="#003e08"/>
<path d="M288.7 1252.4L294.1 1269.4L284.4 1268.6L278.9 1251.8z" fill="#20ff00" stroke="#084700"/>
<path d="M268.1 1220.4L273.5 1235.7L263.6 1235.3L258.2 1220.1z" fill="#00f10e" stroke="#004303"/>
<path d="M273.5 1235.7L278.9 1251.8L269.1 1251.2L263.6 1235.3z" fill="#05ff00" stroke="#014700"/>
<path d="M278.9 1251.8L284.4 1268.6L274.6 1267.7L269.1 1251.2z" fill="#19ff00" stroke="#074700"/>
</g>
<g fill="none">
<line x1="271.6" y1="1103" x2="129.5" y2="979.5" stroke="#222" stroke-width="1.8"/>
<line x1="271.6" y1="1103" x2="555" y2="1025.3" stroke="#222" stroke-width="1.8"/>
<line x1="271.6" y1="1103" x2="276.7" y2="1383.1" stroke="#222" stroke-width="1.8"/>
</g>
<g fill="none">
<line x1="349.1" y1="1950.9" x2="139.6" y2="2042.3" stroke="#333" stroke-width="1.8" stroke-dasharray="7 4.5"/>
<line x1="349.1" y1="1950.9" x2="532.3" y2="2062.4" stroke="#333" stroke-width="1.8" stroke-dasharray="7 4.5"/>
<line x1="349.1" y1="1950.9" x2="351" y2="1715.1" stroke="#333" stroke-width="1.8" stroke-dasharray="7 4.5"/>
<line x1="351" y1="1715.1" x2="119.3" y2="1790.8" stroke="#333" stroke-width="1.8"/>
<line x1="351" y1="1715.1" x2="554.7" y2="1806.6" stroke="#333" stroke-width="1.8"/>
<line x1="139.6" y1="2042.3" x2="119.3" y2="1790.8" stroke="#333" stroke-width="1.8"/>
<line x1="532.3" y1="2062.4" x2="554.7" y2="1806.6" stroke="#333" stroke-width="1.8"/>
<line x1="139.6" y1="2042.3" x2="314.5" y2="2178.6" stroke="#333" stroke-width="1.8"/>
<line x1="532.3" y1="2062.4" x2="314.5" y2="2178.6" stroke="#333" stroke-width="1.8"/>
</g>
<g stroke-width="1.7" stroke-linejoin="round">
<path d="M402.4 1888.8L408.2 1901.3L401.5 1905.7L395.7 1893.2z" fill="#3fff00" stroke="#114700"/>
<path d="M396.7 1875L402.4 1888.8L395.7 1893.2L389.9 1879.3z" fill="#29ff00" stroke="#0b4700"/>
<path d="M408.2 1901.3L414 1912.5L407.3 1917L401.5 1905.7z" fill="#51ff00" stroke="#164700"/>
<path d="M391 1859.9L396.7 1875L389.9 1879.3L384.2 1864.2z" fill="#11ff00" stroke="#044700"/>
<path d="M414 1912.5L419.9 1922.5L413.2 1927L407.3 1917z" fill="#61ff00" stroke="#1b4700"/>
<path d="M385.3 1843.5L391 1859.9L384.2 1864.2L378.5 1847.7z" fill="#00f50a" stroke="#004402"/>
<path d="M395.7 1893.2L401.5 1905.7L394.7 1910.2L388.9 1897.6z" fill="#42ff00" stroke="#124700"/>
<path d="M389.9 1879.3L395.7 1893.2L388.9 1897.6L383.2 1883.7z" fill="#2cff00" stroke="#0c4700"/>
<path d="M401.5 1905.7L407.3 1917L400.6 1921.5L394.7 1910.2z" fill="#55ff00" stroke="#174700"/>
<path d="M419.9 1922.5L425.9 1931.2L419.2 1935.9L413.2 1927z" fill="#6eff00" stroke="#1e4700"/>
<path d="M384.2 1864.2L389.9 1879.3L383.2 1883.7L377.4 1868.5z" fill="#14ff00" stroke="#054700"/>
<path d="M379.6 1825.8L385.3 1843.5L378.5 1847.7L372.8 1829.9z" fill="#00d728" stroke="#003c0b"/>
<path d="M407.3 1917L413.2 1927L406.5 1931.7L400.6 1921.5z" fill="#65ff00" stroke="#1c4700"/>
<path d="M378.5 1847.7L384.2 1864.2L377.4 1868.5L371.7 1851.9z" fill="#00f807" stroke="#004501"/>
<path d="M388.9 1897.6L394.7 1910.2L388 1914.7L382.1 1902z" fill="#46ff00" stroke="#134700"/>
<path d="M425.9 1931.2L431.9 1938.7L425.2 1943.4L419.2 1935.9z" fill="#78ff00" stroke="#214700"/>
<path d="M383.2 1883.7L388.9 1897.6L382.1 1902L376.3 1888z" fill="#30ff00" stroke="#0d4700"/>
<path d="M373.9 1806.7L379.6 1825.8L372.8 1829.9L367.1 1810.7z" fill="#00b649" stroke="#003214"/>
<path d="M413.2 1927L419.2 1935.9L412.4 1940.5L406.5 1931.7z" fill="#72ff00" stroke="#1f4700"/>
<path d="M394.7 1910.2L400.6 1921.5L393.8 1926.1L388 1914.7z" fill="#58ff00" stroke="#184700"/>
<path d="M377.4 1868.5L383.2 1883.7L376.3 1888L370.6 1872.7z" fill="#18ff00" stroke="#064700"/>
<path d="M372.8 1829.9L378.5 1847.7L371.7 1851.9L365.9 1834z" fill="#00da25" stroke="#003d0a"/>
<path d="M400.6 1921.5L406.5 1931.7L399.7 1936.3L393.8 1926.1z" fill="#68ff00" stroke="#1d4700"/>
<path d="M371.7 1851.9L377.4 1868.5L370.6 1872.7L364.8 1856.1z" fill="#00fb04" stroke="#004601"/>
<path d="M419.2 1935.9L425.2 1943.4L418.5 1948.2L412.4 1940.5z" fill="#7cff00" stroke="#224700"/>
<path d="M382.1 1902L388 1914.7L381.1 1919.2L375.3 1906.4z" fill="#49ff00" stroke="#144700"/>
<path d="M431.9 1938.7L438 1945L431.3 1949.8L425.2 1943.4z" fill="#80ff00" stroke="#234700"/>
<path d="M376.3 1888L382.1 1902L375.3 1906.4L369.5 1892.4z" fill="#33ff00" stroke="#0e4700"/>
<path d="M368.2 1786.1L373.9 1806.7L367.1 1810.7L361.3 1790z" fill="#00936c" stroke="#00291e"/>
<path d="M367.1 1810.7L372.8 1829.9L365.9 1834L360.2 1814.7z" fill="#00b946" stroke="#003313"/>
<path d="M406.5 1931.7L412.4 1940.5L405.7 1945.2L399.7 1936.3z" fill="#76ff00" stroke="#214700"/>
<path d="M388 1914.7L393.8 1926.1L387 1930.7L381.1 1919.2z" fill="#5cff00" stroke="#194700"/>
<path d="M370.6 1872.7L376.3 1888L369.5 1892.4L363.7 1877.1z" fill="#1bff00" stroke="#074700"/>
<path d="M365.9 1834L371.7 1851.9L364.8 1856.1L359 1838.2z" fill="#00dd22" stroke="#003d09"/>
<path d="M393.8 1926.1L399.7 1936.3L392.9 1940.9L387 1930.7z" fill="#6cff00" stroke="#1e4700"/>
<path d="M364.8 1856.1L370.6 1872.7L363.7 1877.1L357.9 1860.4z" fill="#00ff00" stroke="#004700"/>
<path d="M412.4 1940.5L418.5 1948.2L411.7 1952.9L405.7 1945.2z" fill="#80ff00" stroke="#234700"/>
<path d="M425.2 1943.4L431.3 1949.8L424.6 1954.6L418.5 1948.2z" fill="#84ff00" stroke="#244700"/>
<path d="M375.3 1906.4L381.1 1919.2L374.3 1923.7L368.4 1910.9z" fill="#4dff00" stroke="#154700"/>
<path d="M369.5 1892.4L375.3 1906.4L368.4 1910.9L362.6 1896.8z" fill="#37ff00" stroke="#0f4700"/>
<path d="M361.3 1790L367.1 1810.7L360.2 1814.7L354.4 1794z" fill="#009669" stroke="#002a1d"/>
<path d="M360.2 1814.7L365.9 1834L359 1838.2L353.3 1818.8z" fill="#00bd42" stroke="#003412"/>
<path d="M399.7 1936.3L405.7 1945.2L398.9 1949.9L392.9 1940.9z" fill="#79ff00" stroke="#214700"/>
<path d="M381.1 1919.2L387 1930.7L380.2 1935.3L374.3 1923.7z" fill="#60ff00" stroke="#1a4700"/>
<path d="M438 1945L444.2 1950.1L437.5 1954.9L431.3 1949.8z" fill="#85ff00" stroke="#254700"/>
<path d="M363.7 1877.1L369.5 1892.4L362.6 1896.8L356.8 1881.4z" fill="#1eff00" stroke="#084700"/>
<path d="M362.5 1764.1L368.2 1786.1L361.3 1790L355.6 1767.9z" fill="#006d92" stroke="#001e28"/>
<path d="M359 1838.2L364.8 1856.1L357.9 1860.4L352.1 1842.3z" fill="#00e11e" stroke="#003f08"/>
<path d="M387 1930.7L392.9 1940.9L386.1 1945.6L380.2 1935.3z" fill="#70ff00" stroke="#1f4700"/>
<path d="M357.9 1860.4L363.7 1877.1L356.8 1881.4L351 1864.6z" fill="#03ff00" stroke="#004700"/>
<path d="M405.7 1945.2L411.7 1952.9L404.9 1957.7L398.9 1949.9z" fill="#84ff00" stroke="#244700"/>
<path d="M418.5 1948.2L424.6 1954.6L417.8 1959.4L411.7 1952.9z" fill="#88ff00" stroke="#264700"/>
<path d="M368.4 1910.9L374.3 1923.7L367.4 1928.3L361.5 1915.4z" fill="#50ff00" stroke="#164700"/>
<path d="M362.6 1896.8L368.4 1910.9L361.5 1915.4L355.7 1901.2z" fill="#3aff00" stroke="#104700"/>
<path d="M354.4 1794L360.2 1814.7L353.3 1818.8L347.5 1798z" fill="#009966" stroke="#002a1c"/>
<path d="M353.3 1818.8L359 1838.2L352.1 1842.3L346.3 1822.9z" fill="#00c03f" stroke="#003511"/>
<path d="M392.9 1940.9L398.9 1949.9L392 1954.7L386.1 1945.6z" fill="#7dff00" stroke="#234700"/>
<path d="M374.3 1923.7L380.2 1935.3L373.3 1939.9L367.4 1928.3z" fill="#63ff00" stroke="#1b4700"/>
<path d="M431.3 1949.8L437.5 1954.9L430.7 1959.8L424.6 1954.6z" fill="#89ff00" stroke="#264700"/>
<path d="M356.8 1881.4L362.6 1896.8L355.7 1901.2L349.9 1885.7z" fill="#22ff00" stroke="#094700"/>
<path d="M355.6 1767.9L361.3 1790L354.4 1794L348.6 1771.8z" fill="#00708f" stroke="#001f28"/>
<path d="M352.1 1842.3L357.9 1860.4L351 1864.6L345.2 1846.5z" fill="#00e41b" stroke="#003f07"/>
<path d="M380.2 1935.3L386.1 1945.6L379.2 1950.3L373.3 1939.9z" fill="#73ff00" stroke="#204700"/>
<path d="M444.2 1950.1L450.5 1953.9L443.8 1958.8L437.5 1954.9z" fill="#87ff00" stroke="#254700"/>
<path d="M356.8 1740.5L362.5 1764.1L355.6 1767.9L349.8 1744.3z" fill="#0044bb" stroke="#001334"/>
<path d="M351 1864.6L356.8 1881.4L349.9 1885.7L344 1868.9z" fill="#06ff00" stroke="#014700"/>
<path d="M398.9 1949.9L404.9 1957.7L398.1 1962.5L392 1954.7z" fill="#88ff00" stroke="#264700"/>
<path d="M411.7 1952.9L417.8 1959.4L411 1964.3L404.9 1957.7z" fill="#8cff00" stroke="#274700"/>
<path d="M361.5 1915.4L367.4 1928.3L360.5 1932.9L354.6 1919.9z" fill="#54ff00" stroke="#174700"/>
<path d="M355.7 1901.2L361.5 1915.4L354.6 1919.9L348.7 1905.7z" fill="#3eff00" stroke="#114700"/>
<path d="M386.1 1945.6L392 1954.7L385.2 1959.4L379.2 1950.3z" fill="#81ff00" stroke="#244700"/>
<path d="M424.6 1954.6L430.7 1959.8L424 1964.7L417.8 1959.4z" fill="#8dff00" stroke="#274700"/>
<path d="M346.3 1822.9L352.1 1842.3L345.2 1846.5L339.3 1827z" fill="#00c33c" stroke="#003610"/>
<path d="M347.5 1798L353.3 1818.8L346.3 1822.9L340.5 1802z" fill="#009c63" stroke="#002b1b"/>
<path d="M367.4 1928.3L373.3 1939.9L366.4 1944.6L360.5 1932.9z" fill="#67ff00" stroke="#1c4700"/>
<path d="M349.9 1885.7L355.7 1901.2L348.7 1905.7L342.9 1890.1z" fill="#25ff00" stroke="#0a4700"/>
<path d="M345.2 1846.5L351 1864.6L344 1868.9L338.2 1850.7z" fill="#00e718" stroke="#004006"/>
<path d="M348.6 1771.8L354.4 1794L347.5 1798L341.6 1775.7z" fill="#00738c" stroke="#002027"/>
<path d="M373.3 1939.9L379.2 1950.3L372.3 1955L366.4 1944.6z" fill="#77ff00" stroke="#214700"/>
<path d="M437.5 1954.9L443.8 1958.8L437 1963.8L430.7 1959.8z" fill="#8bff00" stroke="#264700"/>
<path d="M344 1868.9L349.9 1885.7L342.9 1890.1L337 1873.2z" fill="#09ff00" stroke="#024700"/>
<path d="M349.8 1744.3L355.6 1767.9L348.6 1771.8L342.8 1748.1z" fill="#0047b8" stroke="#001333"/>
<path d="M392 1954.7L398.1 1962.5L391.2 1967.3L385.2 1959.4z" fill="#8cff00" stroke="#274700"/>
<path d="M404.9 1957.7L411 1964.3L404.1 1969.1L398.1 1962.5z" fill="#90ff00" stroke="#284700"/>
<path d="M354.6 1919.9L360.5 1932.9L353.5 1937.5L347.6 1924.5z" fill="#57ff00" stroke="#184700"/>
<path d="M348.7 1905.7L354.6 1919.9L347.6 1924.5L341.7 1910.2z" fill="#41ff00" stroke="#124700"/>
<path d="M379.2 1950.3L385.2 1959.4L378.3 1964.2L372.3 1955z" fill="#85ff00" stroke="#254700"/>
<path d="M417.8 1959.4L424 1964.7L417.1 1969.6L411 1964.3z" fill="#91ff00" stroke="#284700"/>
<path d="M360.5 1932.9L366.4 1944.6L359.4 1949.3L353.5 1937.5z" fill="#6aff00" stroke="#1d4700"/>
<path d="M339.3 1827L345.2 1846.5L338.2 1850.7L332.3 1831.1z" fill="#00c639" stroke="#00370f"/>
<path d="M340.5 1802L346.3 1822.9L339.3 1827L333.5 1806z" fill="#009f60" stroke="#002c1a"/>
<path d="M450.5 1953.9L456.9 1956.5L450.2 1961.5L443.8 1958.8z" fill="#86ff00" stroke="#254700"/>
<path d="M342.9 1890.1L348.7 1905.7L341.7 1910.2L335.9 1894.5z" fill="#28ff00" stroke="#0b4700"/>
<path d="M351 1715.3L356.8 1740.5L349.8 1744.3L344 1719z" fill="#0018e7" stroke="#000640"/>
<path d="M338.2 1850.7L344 1868.9L337 1873.2L331.1 1855z" fill="#00ea15" stroke="#004105"/>
<path d="M341.6 1775.7L347.5 1798L340.5 1802L334.6 1779.6z" fill="#007689" stroke="#002126"/>
<path d="M366.4 1944.6L372.3 1955L365.3 1959.8L359.4 1949.3z" fill="#7bff00" stroke="#224700"/>
<path d="M430.7 1959.8L437 1963.8L430.2 1968.7L424 1964.7z" fill="#8fff00" stroke="#284700"/>
<path d="M337 1873.2L342.9 1890.1L335.9 1894.5L330 1877.6z" fill="#0dff00" stroke="#034700"/>
<path d="M342.8 1748.1L348.6 1771.8L341.6 1775.7L335.8 1751.9z" fill="#004ab5" stroke="#001432"/>
<path d="M398.1 1962.5L404.1 1969.1L397.3 1974L391.2 1967.3z" fill="#93ff00" stroke="#294700"/>
<path d="M385.2 1959.4L391.2 1967.3L384.3 1972.2L378.3 1964.2z" fill="#8fff00" stroke="#284700"/>
<path d="M347.6 1924.5L353.5 1937.5L346.5 1942.1L340.6 1929z" fill="#5bff00" stroke="#194700"/>
<path d="M341.7 1910.2L347.6 1924.5L340.6 1929L334.7 1914.7z" fill="#45ff00" stroke="#134700"/>
<path d="M411 1964.3L417.1 1969.6L410.3 1974.5L404.1 1969.1z" fill="#95ff00" stroke="#294700"/>
<path d="M372.3 1955L378.3 1964.2L371.3 1969L365.3 1959.8z" fill="#88ff00" stroke="#264700"/>
<path d="M353.5 1937.5L359.4 1949.3L352.4 1954L346.5 1942.1z" fill="#6eff00" stroke="#1e4700"/>
<path d="M443.8 1958.8L450.2 1961.5L443.4 1966.5L437 1963.8z" fill="#8aff00" stroke="#264700"/>
<path d="M332.3 1831.1L338.2 1850.7L331.1 1855L325.2 1835.3z" fill="#00c936" stroke="#00380f"/>
<path d="M333.5 1806L339.3 1827L332.3 1831.1L326.4 1810.1z" fill="#00a25d" stroke="#002d1a"/>
<path d="M335.9 1894.5L341.7 1910.2L334.7 1914.7L328.8 1899z" fill="#2cff00" stroke="#0c4700"/>
<path d="M344 1719L349.8 1744.3L342.8 1748.1L337 1722.7z" fill="#001be4" stroke="#00073f"/>
<path d="M331.1 1855L337 1873.2L330 1877.6L324.1 1859.2z" fill="#00ed12" stroke="#004205"/>
<path d="M334.6 1779.6L340.5 1802L333.5 1806L327.6 1783.6z" fill="#007986" stroke="#002125"/>
<path d="M424 1964.7L430.2 1968.7L423.4 1973.7L417.1 1969.6z" fill="#93ff00" stroke="#294700"/>
<path d="M359.4 1949.3L365.3 1959.8L358.4 1964.5L352.4 1954z" fill="#7eff00" stroke="#234700"/>
<path d="M330 1877.6L335.9 1894.5L328.8 1899L322.9 1881.9z" fill="#10ff00" stroke="#044700"/>
<path d="M335.8 1751.9L341.6 1775.7L334.6 1779.6L328.7 1755.7z" fill="#004cb3" stroke="#001532"/>
<path d="M391.2 1967.3L397.3 1974L390.3 1978.9L384.3 1972.2z" fill="#97ff00" stroke="#2a4700"/>
<path d="M378.3 1964.2L384.3 1972.2L377.3 1977.1L371.3 1969z" fill="#93ff00" stroke="#294700"/>
<path d="M340.6 1929L346.5 1942.1L339.5 1946.8L333.6 1933.6z" fill="#5eff00" stroke="#1a4700"/>
<path d="M456.9 1956.5L463.5 1957.9L456.7 1962.9L450.2 1961.5z" fill="#82ff00" stroke="#244700"/>
<path d="M404.1 1969.1L410.3 1974.5L403.4 1979.5L397.3 1974z" fill="#99ff00" stroke="#2a4700"/>
<path d="M334.7 1914.7L340.6 1929L333.6 1933.6L327.7 1919.2z" fill="#48ff00" stroke="#144700"/>
<path d="M365.3 1959.8L371.3 1969L364.3 1973.9L358.4 1964.5z" fill="#8cff00" stroke="#274700"/>
<path d="M437 1963.8L443.4 1966.5L436.6 1971.5L430.2 1968.7z" fill="#8eff00" stroke="#274700"/>
<path d="M346.5 1942.1L352.4 1954L345.4 1958.7L339.5 1946.8z" fill="#71ff00" stroke="#1f4700"/>
<path d="M325.2 1835.3L331.1 1855L324.1 1859.2L318.1 1839.5z" fill="#00cc33" stroke="#00390e"/>
<path d="M326.4 1810.1L332.3 1831.1L325.2 1835.3L319.3 1814.2z" fill="#00a55a" stroke="#002e19"/>
<path d="M328.8 1899L334.7 1914.7L327.7 1919.2L321.7 1903.4z" fill="#2fff00" stroke="#0d4700"/>
<path d="M324.1 1859.2L330 1877.6L322.9 1881.9L317 1863.5z" fill="#00f10e" stroke="#004303"/>
<path d="M337 1722.7L342.8 1748.1L335.8 1751.9L329.9 1726.5z" fill="#001ee1" stroke="#00083f"/>
<path d="M327.6 1783.6L333.5 1806L326.4 1810.1L320.5 1787.5z" fill="#007c83" stroke="#002224"/>
<path d="M417.1 1969.6L423.4 1973.7L416.5 1978.7L410.3 1974.5z" fill="#97ff00" stroke="#2a4700"/>
<path d="M352.4 1954L358.4 1964.5L351.4 1969.3L345.4 1958.7z" fill="#82ff00" stroke="#244700"/>
<path d="M322.9 1881.9L328.8 1899L321.7 1903.4L315.8 1886.3z" fill="#13ff00" stroke="#054700"/>
<path d="M384.3 1972.2L390.3 1978.9L383.4 1983.9L377.3 1977.1z" fill="#9bff00" stroke="#2b4700"/>
<path d="M371.3 1969L377.3 1977.1L370.4 1982L364.3 1973.9z" fill="#97ff00" stroke="#2a4700"/>
<path d="M328.7 1755.7L334.6 1779.6L327.6 1783.6L321.6 1759.6z" fill="#004fb0" stroke="#001631"/>
<path d="M450.2 1961.5L456.7 1962.9L449.9 1968L443.4 1966.5z" fill="#86ff00" stroke="#254700"/>
<path d="M333.6 1933.6L339.5 1946.8L332.4 1951.5L326.5 1938.3z" fill="#62ff00" stroke="#1b4700"/>
<path d="M397.3 1974L403.4 1979.5L396.5 1984.5L390.3 1978.9z" fill="#9cff00" stroke="#2b4700"/>
<path d="M358.4 1964.5L364.3 1973.9L357.3 1978.7L351.4 1969.3z" fill="#90ff00" stroke="#284700"/>
<path d="M327.7 1919.2L333.6 1933.6L326.5 1938.3L320.6 1923.7z" fill="#4bff00" stroke="#154700"/>
<path d="M430.2 1968.7L436.6 1971.5L429.8 1976.5L423.4 1973.7z" fill="#92ff00" stroke="#284700"/>
<path d="M339.5 1946.8L345.4 1958.7L338.4 1963.5L332.4 1951.5z" fill="#75ff00" stroke="#204700"/>
<path d="M318.1 1839.5L324.1 1859.2L317 1863.5L311 1843.7z" fill="#00cf30" stroke="#00390d"/>
<path d="M319.3 1814.2L325.2 1835.3L318.1 1839.5L312.2 1818.3z" fill="#00a857" stroke="#002f18"/>
<path d="M321.7 1903.4L327.7 1919.2L320.6 1923.7L314.6 1907.9z" fill="#32ff00" stroke="#0e4700"/>
<path d="M317 1863.5L322.9 1881.9L315.8 1886.3L309.8 1867.8z" fill="#00f40b" stroke="#004403"/>
<path d="M410.3 1974.5L416.5 1978.7L409.6 1983.7L403.4 1979.5z" fill="#9bff00" stroke="#2b4700"/>
<path d="M329.9 1726.5L335.8 1751.9L328.7 1755.7L322.8 1730.2z" fill="#0020df" stroke="#00083e"/>
<path d="M345.4 1958.7L351.4 1969.3L344.3 1974.2L338.4 1963.5z" fill="#86ff00" stroke="#254700"/>
<path d="M320.5 1787.5L326.4 1810.1L319.3 1814.2L313.3 1791.5z" fill="#007f80" stroke="#002323"/>
<path d="M315.8 1886.3L321.7 1903.4L314.6 1907.9L308.6 1890.7z" fill="#17ff00" stroke="#064700"/>
<path d="M377.3 1977.1L383.4 1983.9L376.4 1988.9L370.4 1982z" fill="#9fff00" stroke="#2c4700"/>
<path d="M364.3 1973.9L370.4 1982L363.3 1986.9L357.3 1978.7z" fill="#9bff00" stroke="#2b4700"/>
<path d="M321.6 1759.6L327.6 1783.6L320.5 1787.5L314.5 1763.5z" fill="#0052ad" stroke="#001630"/>
<path d="M443.4 1966.5L449.9 1968L443.1 1973L436.6 1971.5z" fill="#8bff00" stroke="#264700"/>
<path d="M390.3 1978.9L396.5 1984.5L389.5 1989.5L383.4 1983.9z" fill="#a0ff00" stroke="#2c4700"/>
<path d="M326.5 1938.3L332.4 1951.5L325.3 1956.2L319.4 1942.9z" fill="#65ff00" stroke="#1c4700"/>
<path d="M351.4 1969.3L357.3 1978.7L350.3 1983.6L344.3 1974.2z" fill="#93ff00" stroke="#294700"/>
<path d="M463.5 1957.9L470.2 1958L463.4 1963.1L456.7 1962.9z" fill="#7cff00" stroke="#224700"/>
<path d="M423.4 1973.7L429.8 1976.5L422.9 1981.6L416.5 1978.7z" fill="#96ff00" stroke="#2a4700"/>
<path d="M320.6 1923.7L326.5 1938.3L319.4 1942.9L313.4 1928.3z" fill="#4fff00" stroke="#164700"/>
<path d="M332.4 1951.5L338.4 1963.5L331.3 1968.2L325.3 1956.2z" fill="#79ff00" stroke="#214700"/>
<path d="M311 1843.7L317 1863.5L309.8 1867.8L303.8 1847.9z" fill="#00d32c" stroke="#003b0c"/>
<path d="M312.2 1818.3L318.1 1839.5L311 1843.7L305 1822.4z" fill="#00ab54" stroke="#002f17"/>
<path d="M314.6 1907.9L320.6 1923.7L313.4 1928.3L307.4 1912.4z" fill="#36ff00" stroke="#0f4700"/>
<path d="M403.4 1979.5L409.6 1983.7L402.7 1988.7L396.5 1984.5z" fill="#9fff00" stroke="#2c4700"/>
<path d="M309.8 1867.8L315.8 1886.3L308.6 1890.7L302.6 1872.1z" fill="#00f708" stroke="#004502"/>
<path d="M338.4 1963.5L344.3 1974.2L337.2 1979L331.3 1968.2z" fill="#89ff00" stroke="#264700"/>
<path d="M322.8 1730.2L328.7 1755.7L321.6 1759.6L315.6 1734z" fill="#0023dc" stroke="#00093d"/>
<path d="M313.3 1791.5L319.3 1814.2L312.2 1818.3L306.1 1795.5z" fill="#00827d" stroke="#002423"/>
<path d="M370.4 1982L376.4 1988.9L369.4 1993.8L363.3 1986.9z" fill="#a3ff00" stroke="#2d4700"/>
<path d="M357.3 1978.7L363.3 1986.9L356.3 1991.9L350.3 1983.6z" fill="#9fff00" stroke="#2c4700"/>
<path d="M308.6 1890.7L314.6 1907.9L307.4 1912.4L301.5 1895.1z" fill="#1aff00" stroke="#074700"/>
<path d="M436.6 1971.5L443.1 1973L436.2 1978.1L429.8 1976.5z" fill="#8fff00" stroke="#284700"/>
<path d="M314.5 1763.5L320.5 1787.5L313.3 1791.5L307.3 1767.4z" fill="#0055aa" stroke="#00172f"/>
<path d="M383.4 1983.9L389.5 1989.5L382.5 1994.5L376.4 1988.9z" fill="#a4ff00" stroke="#2d4700"/>
<path d="M319.4 1942.9L325.3 1956.2L318.2 1960.9L312.2 1947.6z" fill="#69ff00" stroke="#1d4700"/>
<path d="M456.7 1962.9L463.4 1963.1L456.6 1968.2L449.9 1968z" fill="#80ff00" stroke="#234700"/>
<path d="M416.5 1978.7L422.9 1981.6L416 1986.7L409.6 1983.7z" fill="#9aff00" stroke="#2b4700"/>
<path d="M344.3 1974.2L350.3 1983.6L343.2 1988.5L337.2 1979z" fill="#97ff00" stroke="#2a4700"/>
<path d="M313.4 1928.3L319.4 1942.9L312.2 1947.6L306.2 1932.9z" fill="#52ff00" stroke="#164700"/>
<path d="M325.3 1956.2L331.3 1968.2L324.1 1973L318.2 1960.9z" fill="#7cff00" stroke="#224700"/>
<path d="M303.8 1847.9L309.8 1867.8L302.6 1872.1L296.6 1852.1z" fill="#00d629" stroke="#003b0b"/>
<path d="M307.4 1912.4L313.4 1928.3L306.2 1932.9L300.2 1916.9z" fill="#39ff00" stroke="#0f4700"/>
<path d="M305 1822.4L311 1843.7L303.8 1847.9L297.8 1826.5z" fill="#00ae51" stroke="#003016"/>
<path d="M396.5 1984.5L402.7 1988.7L395.7 1993.8L389.5 1989.5z" fill="#a3ff00" stroke="#2d4700"/>
<path d="M331.3 1968.2L337.2 1979L330.1 1983.9L324.1 1973z" fill="#8dff00" stroke="#274700"/>
<path d="M302.6 1872.1L308.6 1890.7L301.5 1895.1L295.4 1876.5z" fill="#00fa05" stroke="#004601"/>
<path d="M315.6 1734L321.6 1759.6L314.5 1763.5L308.4 1737.8z" fill="#0026d9" stroke="#000a3c"/>
<path d="M306.1 1795.5L312.2 1818.3L305 1822.4L298.9 1799.6z" fill="#00857a" stroke="#002522"/>
<path d="M363.3 1986.9L369.4 1993.8L362.3 1998.9L356.3 1991.9z" fill="#a7ff00" stroke="#2e4700"/>
<path d="M350.3 1983.6L356.3 1991.9L349.2 1996.8L343.2 1988.5z" fill="#a2ff00" stroke="#2d4700"/>
<path d="M301.5 1895.1L307.4 1912.4L300.2 1916.9L294.2 1899.6z" fill="#1dff00" stroke="#084700"/>
<path d="M429.8 1976.5L436.2 1978.1L429.3 1983.3L422.9 1981.6z" fill="#93ff00" stroke="#294700"/>
<path d="M376.4 1988.9L382.5 1994.5L375.5 1999.6L369.4 1993.8z" fill="#a8ff00" stroke="#2f4700"/>
<path d="M449.9 1968L456.6 1968.2L449.7 1973.3L443.1 1973z" fill="#84ff00" stroke="#244700"/>
<path d="M409.6 1983.7L416 1986.7L409 1991.8L402.7 1988.7z" fill="#9eff00" stroke="#2c4700"/>
<path d="M307.3 1767.4L313.3 1791.5L306.1 1795.5L300.1 1771.3z" fill="#0058a7" stroke="#00182e"/>
<path d="M312.2 1947.6L318.2 1960.9L311 1965.7L305 1952.2z" fill="#6cff00" stroke="#1e4700"/>
<path d="M337.2 1979L343.2 1988.5L336.1 1993.5L330.1 1983.9z" fill="#9bff00" stroke="#2b4700"/>
<path d="M306.2 1932.9L312.2 1947.6L305 1952.2L299 1937.5z" fill="#56ff00" stroke="#184700"/>
<path d="M318.2 1960.9L324.1 1973L317 1977.9L311 1965.7z" fill="#80ff00" stroke="#234700"/>
<path d="M470.2 1958L477 1956.8L470.2 1961.9L463.4 1963.1z" fill="#73ff00" stroke="#204700"/>
<path d="M389.5 1989.5L395.7 1993.8L388.7 1998.9L382.5 1994.5z" fill="#a7ff00" stroke="#2e4700"/>
<path d="M296.6 1852.1L302.6 1872.1L295.4 1876.5L289.3 1856.4z" fill="#00d926" stroke="#003c0a"/>
<path d="M300.2 1916.9L306.2 1932.9L299 1937.5L293 1921.4z" fill="#3cff00" stroke="#104700"/>
<path d="M297.8 1826.5L303.8 1847.9L296.6 1852.1L290.5 1830.7z" fill="#00b14e" stroke="#003115"/>
<path d="M324.1 1973L330.1 1983.9L322.9 1988.8L317 1977.9z" fill="#91ff00" stroke="#284700"/>
<path d="M295.4 1876.5L301.5 1895.1L294.2 1899.6L288.2 1880.8z" fill="#00fd02" stroke="#004600"/>
<path d="M308.4 1737.8L314.5 1763.5L307.3 1767.4L301.2 1741.6z" fill="#0029d6" stroke="#000b3b"/>
<path d="M298.9 1799.6L305 1822.4L297.8 1826.5L291.7 1803.6z" fill="#008877" stroke="#002621"/>
<path d="M356.3 1991.9L362.3 1998.9L355.3 2003.9L349.2 1996.8z" fill="#abff00" stroke="#2f4700"/>
<path d="M343.2 1988.5L349.2 1996.8L342.1 2001.8L336.1 1993.5z" fill="#a6ff00" stroke="#2e4700"/>
<path d="M422.9 1981.6L429.3 1983.3L422.4 1988.4L416 1986.7z" fill="#97ff00" stroke="#2a4700"/>
<path d="M294.2 1899.6L300.2 1916.9L293 1921.4L287 1904z" fill="#20ff00" stroke="#084700"/>
<path d="M369.4 1993.8L375.5 1999.6L368.5 2004.6L362.3 1998.9z" fill="#acff00" stroke="#304700"/>
<path d="M443.1 1973L449.7 1973.3L442.8 1978.5L436.2 1978.1z" fill="#89ff00" stroke="#264700"/>
<path d="M402.7 1988.7L409 1991.8L402 1996.9L395.7 1993.8z" fill="#a3ff00" stroke="#2d4700"/>
<path d="M330.1 1983.9L336.1 1993.5L328.9 1998.4L322.9 1988.8z" fill="#9fff00" stroke="#2c4700"/>
<path d="M305 1952.2L311 1965.7L303.8 1970.5L297.8 1957z" fill="#70ff00" stroke="#1f4700"/>
<path d="M300.1 1771.3L306.1 1795.5L298.9 1799.6L292.8 1775.2z" fill="#005ba4" stroke="#00192d"/>
<path d="M299 1937.5L305 1952.2L297.8 1957L291.8 1942.1z" fill="#59ff00" stroke="#184700"/>
<path d="M311 1965.7L317 1977.9L309.8 1982.7L303.8 1970.5z" fill="#83ff00" stroke="#244700"/>
<path d="M463.4 1963.1L470.2 1961.9L463.4 1967.1L456.6 1968.2z" fill="#77ff00" stroke="#214700"/>
<path d="M382.5 1994.5L388.7 1998.9L381.7 2004L375.5 1999.6z" fill="#abff00" stroke="#2f4700"/>
<path d="M293 1921.4L299 1937.5L291.8 1942.1L285.7 1926z" fill="#40ff00" stroke="#114700"/>
<path d="M289.3 1856.4L295.4 1876.5L288.2 1880.8L282.1 1860.7z" fill="#00dc23" stroke="#003d09"/>
<path d="M290.5 1830.7L296.6 1852.1L289.3 1856.4L283.2 1834.9z" fill="#00b54a" stroke="#003214"/>
<path d="M317 1977.9L322.9 1988.8L315.7 1993.7L309.8 1982.7z" fill="#94ff00" stroke="#294700"/>
<path d="M288.2 1880.8L294.2 1899.6L287 1904L280.9 1885.2z" fill="#02ff00" stroke="#004700"/>
<path d="M301.2 1741.6L307.3 1767.4L300.1 1771.3L293.9 1745.4z" fill="#002cd3" stroke="#000c3b"/>
<path d="M291.7 1803.6L297.8 1826.5L290.5 1830.7L284.4 1807.7z" fill="#008b74" stroke="#002620"/>
<path d="M349.2 1996.8L355.3 2003.9L348.1 2009L342.1 2001.8z" fill="#afff00" stroke="#314700"/>
<path d="M336.1 1993.5L342.1 2001.8L334.9 2006.9L328.9 1998.4z" fill="#aaff00" stroke="#2f4700"/>
<path d="M416 1986.7L422.4 1988.4L415.4 1993.6L409 1991.8z" fill="#9bff00" stroke="#2b4700"/>
<path d="M436.2 1978.1L442.8 1978.5L435.9 1983.7L429.3 1983.3z" fill="#8dff00" stroke="#274700"/>
<path d="M287 1904L293 1921.4L285.7 1926L279.7 1908.5z" fill="#24ff00" stroke="#0a4700"/>
<path d="M362.3 1998.9L368.5 2004.6L361.4 2009.7L355.3 2003.9z" fill="#b0ff00" stroke="#314700"/>
<path d="M395.7 1993.8L402 1996.9L395 2002.1L388.7 1998.9z" fill="#a7ff00" stroke="#2e4700"/>
<path d="M322.9 1988.8L328.9 1998.4L321.7 2003.4L315.7 1993.7z" fill="#a2ff00" stroke="#2d4700"/>
<path d="M297.8 1957L303.8 1970.5L296.5 1975.3L290.5 1961.7z" fill="#73ff00" stroke="#204700"/>
<path d="M292.8 1775.2L298.9 1799.6L291.7 1803.6L285.5 1779.2z" fill="#005ea1" stroke="#001a2d"/>
<path d="M291.8 1942.1L297.8 1957L290.5 1961.7L284.5 1946.8z" fill="#5dff00" stroke="#1a4700"/>
<path d="M303.8 1970.5L309.8 1982.7L302.5 1987.6L296.5 1975.3z" fill="#87ff00" stroke="#254700"/>
<path d="M456.6 1968.2L463.4 1967.1L456.5 1972.3L449.7 1973.3z" fill="#7bff00" stroke="#224700"/>
<path d="M375.5 1999.6L381.7 2004L374.6 2009.2L368.5 2004.6z" fill="#afff00" stroke="#314700"/>
<path d="M285.7 1926L291.8 1942.1L284.5 1946.8L278.4 1930.6z" fill="#43ff00" stroke="#124700"/>
<path d="M282.1 1860.7L288.2 1880.8L280.9 1885.2L274.7 1865z" fill="#00df20" stroke="#003e08"/>
<path d="M309.8 1982.7L315.7 1993.7L308.5 1998.6L302.5 1987.6z" fill="#98ff00" stroke="#2a4700"/>
<path d="M283.2 1834.9L289.3 1856.4L282.1 1860.7L275.9 1839.1z" fill="#00b847" stroke="#003313"/>
<path d="M280.9 1885.2L287 1904L279.7 1908.5L273.5 1889.6z" fill="#05ff00" stroke="#014700"/>
<path d="M342.1 2001.8L348.1 2009L341 2014.1L334.9 2006.9z" fill="#b2ff00" stroke="#314700"/>
<path d="M284.4 1807.7L290.5 1830.7L283.2 1834.9L277 1811.8z" fill="#008e71" stroke="#00271f"/>
<path d="M477 1956.8L484 1954.2L477.2 1959.5L470.2 1961.9z" fill="#67ff00" stroke="#1c4700"/>
<path d="M328.9 1998.4L334.9 2006.9L327.7 2011.9L321.7 2003.4z" fill="#aeff00" stroke="#304700"/>
<path d="M293.9 1745.4L300.1 1771.3L292.8 1775.2L286.6 1749.3z" fill="#002fd0" stroke="#000d3a"/>
<path d="M409 1991.8L415.4 1993.6L408.4 1998.8L402 1996.9z" fill="#9fff00" stroke="#2c4700"/>
<path d="M429.3 1983.3L435.9 1983.7L429 1988.9L422.4 1988.4z" fill="#91ff00" stroke="#284700"/>
<path d="M355.3 2003.9L361.4 2009.7L354.2 2014.9L348.1 2009z" fill="#b4ff00" stroke="#324700"/>
<path d="M388.7 1998.9L395 2002.1L388 2007.3L381.7 2004z" fill="#abff00" stroke="#2f4700"/>
<path d="M279.7 1908.5L285.7 1926L278.4 1930.6L272.3 1913z" fill="#27ff00" stroke="#0a4700"/>
<path d="M315.7 1993.7L321.7 2003.4L314.5 2008.4L308.5 1998.6z" fill="#a6ff00" stroke="#2e4700"/>
<path d="M290.5 1961.7L296.5 1975.3L289.2 1980.1L283.2 1966.5z" fill="#77ff00" stroke="#214700"/>
<path d="M284.5 1946.8L290.5 1961.7L283.2 1966.5L277.1 1951.5z" fill="#60ff00" stroke="#1a4700"/>
<path d="M449.7 1973.3L456.5 1972.3L449.6 1977.5L442.8 1978.5z" fill="#80ff00" stroke="#234700"/>
<path d="M296.5 1975.3L302.5 1987.6L295.2 1992.5L289.2 1980.1z" fill="#8bff00" stroke="#264700"/>
<path d="M285.5 1779.2L291.7 1803.6L284.4 1807.7L278.1 1783.2z" fill="#00619e" stroke="#001b2c"/>
<path d="M368.5 2004.6L374.6 2009.2L367.5 2014.4L361.4 2009.7z" fill="#b3ff00" stroke="#324700"/>
<path d="M278.4 1930.6L284.5 1946.8L277.1 1951.5L271.1 1935.2z" fill="#47ff00" stroke="#134700"/>
<path d="M274.7 1865L280.9 1885.2L273.5 1889.6L267.3 1869.3z" fill="#00e21d" stroke="#003f08"/>
<path d="M302.5 1987.6L308.5 1998.6L301.2 2003.6L295.2 1992.5z" fill="#9cff00" stroke="#2b4700"/>
<path d="M275.9 1839.1L282.1 1860.7L274.7 1865L268.5 1843.3z" fill="#00bb44" stroke="#003413"/>
<path d="M273.5 1889.6L279.7 1908.5L272.3 1913L266.2 1894.1z" fill="#08ff00" stroke="#024700"/>
<path d="M470.2 1961.9L477.2 1959.5L470.3 1964.7L463.4 1967.1z" fill="#6bff00" stroke="#1d4700"/>
<path d="M334.9 2006.9L341 2014.1L333.8 2019.2L327.7 2011.9z" fill="#b6ff00" stroke="#324700"/>
<path d="M402 1996.9L408.4 1998.8L401.4 2004L395 2002.1z" fill="#a4ff00" stroke="#2d4700"/>
<path d="M321.7 2003.4L327.7 2011.9L320.5 2017L314.5 2008.4z" fill="#b2ff00" stroke="#314700"/>
<path d="M277 1811.8L283.2 1834.9L275.9 1839.1L269.6 1815.9z" fill="#00916e" stroke="#00281e"/>
<path d="M422.4 1988.4L429 1988.9L422 1994.1L415.4 1993.6z" fill="#95ff00" stroke="#294700"/>
<path d="M286.6 1749.3L292.8 1775.2L285.5 1779.2L279.2 1753.2z" fill="#0031ce" stroke="#000d39"/>
<path d="M348.1 2009L354.2 2014.9L347.1 2020L341 2014.1z" fill="#b8ff00" stroke="#334700"/>
<path d="M381.7 2004L388 2007.3L380.9 2012.5L374.6 2009.2z" fill="#afff00" stroke="#314700"/>
<path d="M272.3 1913L278.4 1930.6L271.1 1935.2L264.9 1917.6z" fill="#2aff00" stroke="#0b4700"/>
<path d="M308.5 1998.6L314.5 2008.4L307.2 2013.5L301.2 2003.6z" fill="#aaff00" stroke="#2f4700"/>
<path d="M283.2 1966.5L289.2 1980.1L281.9 1985L275.8 1971.3z" fill="#7aff00" stroke="#224700"/>
<path d="M442.8 1978.5L449.6 1977.5L442.6 1982.8L435.9 1983.7z" fill="#84ff00" stroke="#244700"/>
<path d="M277.1 1951.5L283.2 1966.5L275.8 1971.3L269.8 1956.2z" fill="#63ff00" stroke="#1b4700"/>
<path d="M289.2 1980.1L295.2 1992.5L287.9 1997.4L281.9 1985z" fill="#8eff00" stroke="#274700"/>
<path d="M361.4 2009.7L367.5 2014.4L360.4 2019.6L354.2 2014.9z" fill="#b7ff00" stroke="#334700"/>
<path d="M278.1 1783.2L284.4 1807.7L277 1811.8L270.7 1787.2z" fill="#00649b" stroke="#001c2b"/>
<path d="M271.1 1935.2L277.1 1951.5L269.8 1956.2L263.7 1939.9z" fill="#4aff00" stroke="#144700"/>
<path d="M295.2 1992.5L301.2 2003.6L293.9 2008.6L287.9 1997.4z" fill="#9fff00" stroke="#2c4700"/>
<path d="M267.3 1869.3L273.5 1889.6L266.2 1894.1L259.9 1873.7z" fill="#00e51a" stroke="#004007"/>
<path d="M268.5 1843.3L274.7 1865L267.3 1869.3L261.1 1847.6z" fill="#00be41" stroke="#003512"/>
<path d="M463.4 1967.1L470.3 1964.7L463.4 1970L456.5 1972.3z" fill="#6fff00" stroke="#1f4700"/>
<path d="M266.2 1894.1L272.3 1913L264.9 1917.6L258.7 1898.5z" fill="#0bff00" stroke="#034700"/>
<path d="M327.7 2011.9L333.8 2019.2L326.5 2024.3L320.5 2017z" fill="#baff00" stroke="#344700"/>
<path d="M395 2002.1L401.4 2004L394.3 2009.3L388 2007.3z" fill="#a8ff00" stroke="#2f4700"/>
<path d="M314.5 2008.4L320.5 2017L313.2 2022.1L307.2 2013.5z" fill="#b5ff00" stroke="#324700"/>
<path d="M415.4 1993.6L422 1994.1L414.9 1999.4L408.4 1998.8z" fill="#9aff00" stroke="#2b4700"/>
<path d="M374.6 2009.2L380.9 2012.5L373.8 2017.7L367.5 2014.4z" fill="#b3ff00" stroke="#324700"/>
<path d="M341 2014.1L347.1 2020L339.8 2025.2L333.8 2019.2z" fill="#bcff00" stroke="#344700"/>
<path d="M269.6 1815.9L275.9 1839.1L268.5 1843.3L262.2 1820.1z" fill="#00936c" stroke="#00291e"/>
<path d="M279.2 1753.2L285.5 1779.2L278.1 1783.2L271.8 1757.1z" fill="#0034cb" stroke="#000e38"/>
<path d="M264.9 1917.6L271.1 1935.2L263.7 1939.9L257.5 1922.1z" fill="#2eff00" stroke="#0c4700"/>
<path d="M301.2 2003.6L307.2 2013.5L299.9 2018.6L293.9 2008.6z" fill="#aeff00" stroke="#304700"/>
<path d="M435.9 1983.7L442.6 1982.8L435.6 1988L429 1988.9z" fill="#88ff00" stroke="#264700"/>
<path d="M275.8 1971.3L281.9 1985L274.5 1989.9L268.5 1976.1z" fill="#7eff00" stroke="#234700"/>
<path d="M281.9 1985L287.9 1997.4L280.5 2002.4L274.5 1989.9z" fill="#92ff00" stroke="#284700"/>
<path d="M269.8 1956.2L275.8 1971.3L268.5 1976.1L262.4 1961z" fill="#67ff00" stroke="#1c4700"/>
<path d="M354.2 2014.9L360.4 2019.6L353.2 2024.8L347.1 2020z" fill="#bbff00" stroke="#344700"/>
<path d="M270.7 1787.2L277 1811.8L269.6 1815.9L263.3 1791.2z" fill="#006798" stroke="#001c2a"/>
<path d="M484 1954.2L491.2 1950.4L484.4 1955.7L477.2 1959.5z" fill="#58ff00" stroke="#184700"/>
<path d="M287.9 1997.4L293.9 2008.6L286.6 2013.6L280.5 2002.4z" fill="#a3ff00" stroke="#2d4700"/>
<path d="M263.7 1939.9L269.8 1956.2L262.4 1961L256.2 1944.5z" fill="#4dff00" stroke="#154700"/>
<path d="M259.9 1873.7L266.2 1894.1L258.7 1898.5L252.5 1878.1z" fill="#00e817" stroke="#004006"/>
<path d="M456.5 1972.3L463.4 1970L456.5 1975.2L449.6 1977.5z" fill="#74ff00" stroke="#204700"/>
<path d="M261.1 1847.6L267.3 1869.3L259.9 1873.7L253.6 1851.8z" fill="#00c13e" stroke="#003611"/>
<path d="M388 2007.3L394.3 2009.3L387.2 2014.5L380.9 2012.5z" fill="#acff00" stroke="#304700"/>
<path d="M320.5 2017L326.5 2024.3L319.3 2029.5L313.2 2022.1z" fill="#beff00" stroke="#354700"/>
<path d="M258.7 1898.5L264.9 1917.6L257.5 1922.1L251.3 1903z" fill="#0eff00" stroke="#034700"/>
<path d="M408.4 1998.8L414.9 1999.4L407.9 2004.7L401.4 2004z" fill="#9eff00" stroke="#2c4700"/>
<path d="M307.2 2013.5L313.2 2022.1L305.9 2027.3L299.9 2018.6z" fill="#b9ff00" stroke="#334700"/>
<path d="M367.5 2014.4L373.8 2017.7L366.6 2023L360.4 2019.6z" fill="#b7ff00" stroke="#334700"/>
<path d="M333.8 2019.2L339.8 2025.2L332.6 2030.4L326.5 2024.3z" fill="#c0ff00" stroke="#354700"/>
<path d="M262.2 1820.1L268.5 1843.3L261.1 1847.6L254.8 1824.3z" fill="#009669" stroke="#002a1d"/>
<path d="M271.8 1757.1L278.1 1783.2L270.7 1787.2L264.4 1761z" fill="#0037c8" stroke="#000f38"/>
<path d="M293.9 2008.6L299.9 2018.6L292.6 2023.6L286.6 2013.6z" fill="#b1ff00" stroke="#314700"/>
<path d="M257.5 1922.1L263.7 1939.9L256.2 1944.5L250 1926.7z" fill="#31ff00" stroke="#0d4700"/>
<path d="M429 1988.9L435.6 1988L428.6 1993.3L422 1994.1z" fill="#8dff00" stroke="#274700"/>
<path d="M268.5 1976.1L274.5 1989.9L267.1 1994.8L261 1980.9z" fill="#81ff00" stroke="#244700"/>
<path d="M347.1 2020L353.2 2024.8L346 2030L339.8 2025.2z" fill="#bfff00" stroke="#354700"/>
<path d="M274.5 1989.9L280.5 2002.4L273.2 2007.4L267.1 1994.8z" fill="#95ff00" stroke="#294700"/>
<path d="M262.4 1961L268.5 1976.1L261 1980.9L254.9 1965.7z" fill="#6aff00" stroke="#1d4700"/>
<path d="M477.2 1959.5L484.4 1955.7L477.4 1961L470.3 1964.7z" fill="#5cff00" stroke="#194700"/>
<path d="M263.3 1791.2L269.6 1815.9L262.2 1820.1L255.8 1795.3z" fill="#006a95" stroke="#001d29"/>
<path d="M280.5 2002.4L286.6 2013.6L279.2 2018.7L273.2 2007.4z" fill="#a7ff00" stroke="#2e4700"/>
<path d="M256.2 1944.5L262.4 1961L254.9 1965.7L248.8 1949.2z" fill="#51ff00" stroke="#164700"/>
<path d="M449.6 1977.5L456.5 1975.2L449.5 1980.6L442.6 1982.8z" fill="#78ff00" stroke="#214700"/>
<path d="M252.5 1878.1L258.7 1898.5L251.3 1903L245 1882.5z" fill="#00ec13" stroke="#004205"/>
<path d="M380.9 2012.5L387.2 2014.5L380.1 2019.8L373.8 2017.7z" fill="#b0ff00" stroke="#314700"/>
<path d="M313.2 2022.1L319.3 2029.5L311.9 2034.7L305.9 2027.3z" fill="#c2ff00" stroke="#364700"/>
<path d="M401.4 2004L407.9 2004.7L400.8 2010L394.3 2009.3z" fill="#a2ff00" stroke="#2d4700"/>
<path d="M253.6 1851.8L259.9 1873.7L252.5 1878.1L246.1 1856.1z" fill="#00c43b" stroke="#003610"/>
<path d="M299.9 2018.6L305.9 2027.3L298.6 2032.4L292.6 2023.6z" fill="#bdff00" stroke="#344700"/>
<path d="M251.3 1903L257.5 1922.1L250 1926.7L243.8 1907.5z" fill="#12ff00" stroke="#054700"/>
<path d="M360.4 2019.6L366.6 2023L359.4 2028.3L353.2 2024.8z" fill="#bbff00" stroke="#344700"/>
<path d="M326.5 2024.3L332.6 2030.4L325.3 2035.7L319.3 2029.5z" fill="#c4ff00" stroke="#364700"/>
<path d="M254.8 1824.3L261.1 1847.6L253.6 1851.8L247.3 1828.4z" fill="#009966" stroke="#002a1c"/>
<path d="M422 1994.1L428.6 1993.3L421.6 1998.7L414.9 1999.4z" fill="#91ff00" stroke="#284700"/>
<path d="M286.6 2013.6L292.6 2023.6L285.2 2028.8L279.2 2018.7z" fill="#b5ff00" stroke="#324700"/>
<path d="M264.4 1761L270.7 1787.2L263.3 1791.2L256.9 1764.9z" fill="#003ac5" stroke="#001037"/>
<path d="M250 1926.7L256.2 1944.5L248.8 1949.2L242.5 1931.3z" fill="#34ff00" stroke="#0e4700"/>
<path d="M261 1980.9L267.1 1994.8L259.7 1999.7L253.6 1985.8z" fill="#85ff00" stroke="#254700"/>
<path d="M339.8 2025.2L346 2030L338.7 2035.3L332.6 2030.4z" fill="#c3ff00" stroke="#364700"/>
<path d="M267.1 1994.8L273.2 2007.4L265.7 2012.4L259.7 1999.7z" fill="#99ff00" stroke="#2a4700"/>
<path d="M254.9 1965.7L261 1980.9L253.6 1985.8L247.4 1970.5z" fill="#6eff00" stroke="#1e4700"/>
<path d="M470.3 1964.7L477.4 1961L470.5 1966.3L463.4 1970z" fill="#61ff00" stroke="#1b4700"/>
<path d="M255.8 1795.3L262.2 1820.1L254.8 1824.3L248.3 1799.4z" fill="#006c93" stroke="#001e29"/>
<path d="M442.6 1982.8L449.5 1980.6L442.5 1985.9L435.6 1988z" fill="#7dff00" stroke="#234700"/>
<path d="M273.2 2007.4L279.2 2018.7L271.7 2023.8L265.7 2012.4z" fill="#aaff00" stroke="#2f4700"/>
<path d="M248.8 1949.2L254.9 1965.7L247.4 1970.5L241.2 1953.9z" fill="#54ff00" stroke="#174700"/>
<path d="M373.8 2017.7L380.1 2019.8L372.9 2025.2L366.6 2023z" fill="#b4ff00" stroke="#324700"/>
<path d="M394.3 2009.3L400.8 2010L393.6 2015.3L387.2 2014.5z" fill="#a6ff00" stroke="#2e4700"/>
<path d="M305.9 2027.3L311.9 2034.7L304.6 2040L298.6 2032.4z" fill="#c6ff00" stroke="#374700"/>
<path d="M245 1882.5L251.3 1903L243.8 1907.5L237.4 1886.9z" fill="#00ef10" stroke="#004204"/>
<path d="M292.6 2023.6L298.6 2032.4L291.2 2037.6L285.2 2028.8z" fill="#c1ff00" stroke="#364700"/>
<path d="M246.1 1856.1L252.5 1878.1L245 1882.5L238.6 1860.5z" fill="#00c738" stroke="#00370f"/>
<path d="M353.2 2024.8L359.4 2028.3L352.2 2033.6L346 2030z" fill="#bfff00" stroke="#354700"/>
<path d="M243.8 1907.5L250 1926.7L242.5 1931.3L236.2 1912.1z" fill="#15ff00" stroke="#054700"/>
<path d="M319.3 2029.5L325.3 2035.7L318 2041L311.9 2034.7z" fill="#c8ff00" stroke="#384700"/>
<path d="M414.9 1999.4L421.6 1998.7L414.5 2004L407.9 2004.7z" fill="#95ff00" stroke="#294700"/>
<path d="M279.2 2018.7L285.2 2028.8L277.8 2033.9L271.7 2023.8z" fill="#b9ff00" stroke="#334700"/>
<path d="M247.3 1828.4L253.6 1851.8L246.1 1856.1L239.7 1832.7z" fill="#009c63" stroke="#002b1b"/>
<path d="M256.9 1764.9L263.3 1791.2L255.8 1795.3L249.4 1768.9z" fill="#003dc2" stroke="#001136"/>
<path d="M242.5 1931.3L248.8 1949.2L241.2 1953.9L235 1936z" fill="#37ff00" stroke="#0f4700"/>
<path d="M253.6 1985.8L259.7 1999.7L252.2 2004.7L246.1 1990.7z" fill="#88ff00" stroke="#264700"/>
<path d="M332.6 2030.4L338.7 2035.3L331.4 2040.6L325.3 2035.7z" fill="#c7ff00" stroke="#374700"/>
<path d="M259.7 1999.7L265.7 2012.4L258.2 2017.4L252.2 2004.7z" fill="#9cff00" stroke="#2b4700"/>
<path d="M463.4 1970L470.5 1966.3L463.5 1971.6L456.5 1975.2z" fill="#65ff00" stroke="#1c4700"/>
<path d="M247.4 1970.5L253.6 1985.8L246.1 1990.7L239.9 1975.3z" fill="#71ff00" stroke="#1f4700"/>
<path d="M491.2 1950.4L498.6 1945.1L491.7 1950.5L484.4 1955.7z" fill="#46ff00" stroke="#134700"/>
<path d="M435.6 1988L442.5 1985.9L435.4 1991.3L428.6 1993.3z" fill="#81ff00" stroke="#244700"/>
<path d="M248.3 1799.4L254.8 1824.3L247.3 1828.4L240.8 1803.5z" fill="#006f90" stroke="#001f28"/>
<path d="M265.7 2012.4L271.7 2023.8L264.3 2028.9L258.2 2017.4z" fill="#aeff00" stroke="#304700"/>
<path d="M366.6 2023L372.9 2025.2L365.7 2030.5L359.4 2028.3z" fill="#b9ff00" stroke="#334700"/>
<path d="M241.2 1953.9L247.4 1970.5L239.9 1975.3L233.7 1958.7z" fill="#57ff00" stroke="#184700"/>
<path d="M387.2 2014.5L393.6 2015.3L386.5 2020.7L380.1 2019.8z" fill="#abff00" stroke="#2f4700"/>
<path d="M298.6 2032.4L304.6 2040L297.2 2045.2L291.2 2037.6z" fill="#caff00" stroke="#384700"/>
<path d="M237.4 1886.9L243.8 1907.5L236.2 1912.1L229.9 1891.4z" fill="#00f20d" stroke="#004303"/>
<path d="M285.2 2028.8L291.2 2037.6L283.8 2042.8L277.8 2033.9z" fill="#c5ff00" stroke="#374700"/>
<path d="M346 2030L352.2 2033.6L344.9 2039L338.7 2035.3z" fill="#c3ff00" stroke="#364700"/>
<path d="M311.9 2034.7L318 2041L310.6 2046.3L304.6 2040z" fill="#ccff00" stroke="#394700"/>
<path d="M238.6 1860.5L245 1882.5L237.4 1886.9L231 1864.8z" fill="#00ca35" stroke="#00380e"/>
<path d="M236.2 1912.1L242.5 1931.3L235 1936L228.7 1916.6z" fill="#18ff00" stroke="#064700"/>
<path d="M407.9 2004.7L414.5 2004L407.4 2009.4L400.8 2010z" fill="#9aff00" stroke="#2b4700"/>
<path d="M271.7 2023.8L277.8 2033.9L270.3 2039.1L264.3 2028.9z" fill="#bdff00" stroke="#344700"/>
<path d="M239.7 1832.7L246.1 1856.1L238.6 1860.5L232.1 1836.9z" fill="#009f60" stroke="#002c1a"/>
<path d="M235 1936L241.2 1953.9L233.7 1958.7L227.4 1940.7z" fill="#3bff00" stroke="#104700"/>
<path d="M325.3 2035.7L331.4 2040.6L324.1 2046L318 2041z" fill="#cbff00" stroke="#384700"/>
<path d="M249.4 1768.9L255.8 1795.3L248.3 1799.4L241.8 1772.9z" fill="#0040bf" stroke="#001135"/>
<path d="M246.1 1990.7L252.2 2004.7L244.6 2009.7L238.5 1995.6z" fill="#8cff00" stroke="#274700"/>
<path d="M456.5 1975.2L463.5 1971.6L456.5 1977L449.5 1980.6z" fill="#6aff00" stroke="#1d4700"/>
<path d="M484.4 1955.7L491.7 1950.5L484.8 1955.8L477.4 1961z" fill="#4bff00" stroke="#154700"/>
<path d="M252.2 2004.7L258.2 2017.4L250.7 2022.5L244.6 2009.7z" fill="#a0ff00" stroke="#2c4700"/>
<path d="M239.9 1975.3L246.1 1990.7L238.5 1995.6L232.3 1980.2z" fill="#75ff00" stroke="#204700"/>
<path d="M428.6 1993.3L435.4 1991.3L428.3 1996.7L421.6 1998.7z" fill="#85ff00" stroke="#254700"/>
<path d="M258.2 2017.4L264.3 2028.9L256.8 2034L250.7 2022.5z" fill="#b2ff00" stroke="#314700"/>
<path d="M359.4 2028.3L365.7 2030.5L358.4 2035.9L352.2 2033.6z" fill="#bdff00" stroke="#344700"/>
<path d="M240.8 1803.5L247.3 1828.4L239.7 1832.7L233.2 1807.6z" fill="#00728d" stroke="#001f27"/>
<path d="M380.1 2019.8L386.5 2020.7L379.3 2026.1L372.9 2025.2z" fill="#afff00" stroke="#314700"/>
<path d="M233.7 1958.7L239.9 1975.3L232.3 1980.2L226.1 1963.5z" fill="#5bff00" stroke="#194700"/>
<path d="M291.2 2037.6L297.2 2045.2L289.8 2050.5L283.8 2042.8z" fill="#ceff00" stroke="#394700"/>
<path d="M338.7 2035.3L344.9 2039L337.6 2044.3L331.4 2040.6z" fill="#c8ff00" stroke="#384700"/>
<path d="M277.8 2033.9L283.8 2042.8L276.3 2048.1L270.3 2039.1z" fill="#c8ff00" stroke="#384700"/>
<path d="M229.9 1891.4L236.2 1912.1L228.7 1916.6L222.2 1895.9z" fill="#00f50a" stroke="#004402"/>
<path d="M304.6 2040L310.6 2046.3L303.3 2051.6L297.2 2045.2z" fill="#d0ff00" stroke="#3a4700"/>
<path d="M231 1864.8L237.4 1886.9L229.9 1891.4L223.4 1869.2z" fill="#00cd32" stroke="#00390e"/>
<path d="M400.8 2010L407.4 2009.4L400.2 2014.8L393.6 2015.3z" fill="#9eff00" stroke="#2c4700"/>
<path d="M228.7 1916.6L235 1936L227.4 1940.7L221 1921.2z" fill="#1bff00" stroke="#074700"/>
<path d="M264.3 2028.9L270.3 2039.1L262.8 2044.3L256.8 2034z" fill="#c0ff00" stroke="#354700"/>
<path d="M318 2041L324.1 2046L316.7 2051.3L310.6 2046.3z" fill="#cfff00" stroke="#394700"/>
<path d="M232.1 1836.9L238.6 1860.5L231 1864.8L224.5 1841.2z" fill="#00a25d" stroke="#002d1a"/>
<path d="M449.5 1980.6L456.5 1977L449.5 1982.4L442.5 1985.9z" fill="#6eff00" stroke="#1e4700"/>
<path d="M227.4 1940.7L233.7 1958.7L226.1 1963.5L219.8 1945.4z" fill="#3eff00" stroke="#114700"/>
<path d="M477.4 1961L484.8 1955.8L477.8 1961.2L470.5 1966.3z" fill="#4fff00" stroke="#164700"/>
<path d="M238.5 1995.6L244.6 2009.7L237.1 2014.7L230.9 2000.5z" fill="#8fff00" stroke="#284700"/>
<path d="M241.8 1772.9L248.3 1799.4L240.8 1803.5L234.2 1776.9z" fill="#0042bd" stroke="#001234"/>
<path d="M244.6 2009.7L250.7 2022.5L243.2 2027.6L237.1 2014.7z" fill="#a4ff00" stroke="#2d4700"/>
<path d="M232.3 1980.2L238.5 1995.6L230.9 2000.5L224.7 1985.1z" fill="#78ff00" stroke="#214700"/>
<path d="M421.6 1998.7L428.3 1996.7L421.2 2002.1L414.5 2004z" fill="#8aff00" stroke="#264700"/>
<path d="M352.2 2033.6L358.4 2035.9L351.1 2041.3L344.9 2039z" fill="#c1ff00" stroke="#364700"/>
<path d="M250.7 2022.5L256.8 2034L249.2 2039.2L243.2 2027.6z" fill="#b5ff00" stroke="#324700"/>
<path d="M372.9 2025.2L379.3 2026.1L372 2031.5L365.7 2030.5z" fill="#b3ff00" stroke="#324700"/>
<path d="M233.2 1807.6L239.7 1832.7L232.1 1836.9L225.5 1811.8z" fill="#00758a" stroke="#002026"/>
<path d="M283.8 2042.8L289.8 2050.5L282.3 2055.8L276.3 2048.1z" fill="#d2ff00" stroke="#3a4700"/>
<path d="M226.1 1963.5L232.3 1980.2L224.7 1985.1L218.4 1968.2z" fill="#5eff00" stroke="#1a4700"/>
<path d="M331.4 2040.6L337.6 2044.3L330.2 2049.7L324.1 2046z" fill="#ccff00" stroke="#394700"/>
<path d="M270.3 2039.1L276.3 2048.1L268.8 2053.3L262.8 2044.3z" fill="#ccff00" stroke="#394700"/>
<path d="M297.2 2045.2L303.3 2051.6L295.8 2056.9L289.8 2050.5z" fill="#d4ff00" stroke="#3b4700"/>
<path d="M222.2 1895.9L228.7 1916.6L221 1921.2L214.6 1900.4z" fill="#00f807" stroke="#004501"/>
<path d="M393.6 2015.3L400.2 2014.8L393 2020.3L386.5 2020.7z" fill="#a2ff00" stroke="#2d4700"/>
<path d="M223.4 1869.2L229.9 1891.4L222.2 1895.9L215.7 1873.6z" fill="#00d02f" stroke="#003a0d"/>
<path d="M221 1921.2L227.4 1940.7L219.8 1945.4L213.4 1925.8z" fill="#1fff00" stroke="#084700"/>
<path d="M256.8 2034L262.8 2044.3L255.3 2049.5L249.2 2039.2z" fill="#c4ff00" stroke="#364700"/>
<path d="M442.5 1985.9L449.5 1982.4L442.4 1987.9L435.4 1991.3z" fill="#73ff00" stroke="#204700"/>
<path d="M310.6 2046.3L316.7 2051.3L309.3 2056.7L303.3 2051.6z" fill="#d3ff00" stroke="#3b4700"/>
<path d="M470.5 1966.3L477.8 1961.2L470.8 1966.7L463.5 1971.6z" fill="#54ff00" stroke="#174700"/>
<path d="M224.5 1841.2L231 1864.8L223.4 1869.2L216.8 1845.4z" fill="#00a55a" stroke="#002e19"/>
<path d="M219.8 1945.4L226.1 1963.5L218.4 1968.2L212.1 1950.1z" fill="#41ff00" stroke="#124700"/>
<path d="M230.9 2000.5L237.1 2014.7L229.5 2019.7L223.3 2005.5z" fill="#93ff00" stroke="#294700"/>
<path d="M237.1 2014.7L243.2 2027.6L235.6 2032.7L229.5 2019.7z" fill="#a7ff00" stroke="#2e4700"/>
<path d="M234.2 1776.9L240.8 1803.5L233.2 1807.6L226.5 1780.9z" fill="#0045ba" stroke="#001334"/>
<path d="M414.5 2004L421.2 2002.1L414.1 2007.5L407.4 2009.4z" fill="#8eff00" stroke="#274700"/>
<path d="M224.7 1985.1L230.9 2000.5L223.3 2005.5L217.1 1990z" fill="#7bff00" stroke="#224700"/>
<path d="M498.6 1945.1L506.2 1938.5L499.3 1943.9L491.7 1950.5z" fill="#32ff00" stroke="#0e4700"/>
<path d="M344.9 2039L351.1 2041.3L343.8 2046.8L337.6 2044.3z" fill="#c5ff00" stroke="#374700"/>
<path d="M365.7 2030.5L372 2031.5L364.8 2037L358.4 2035.9z" fill="#b7ff00" stroke="#334700"/>
<path d="M243.2 2027.6L249.2 2039.2L241.6 2044.4L235.6 2032.7z" fill="#b9ff00" stroke="#334700"/>
<path d="M276.3 2048.1L282.3 2055.8L274.8 2061.1L268.8 2053.3z" fill="#d5ff00" stroke="#3b4700"/>
<path d="M324.1 2046L330.2 2049.7L322.8 2055.2L316.7 2051.3z" fill="#d0ff00" stroke="#3a4700"/>
<path d="M225.5 1811.8L232.1 1836.9L224.5 1841.2L217.9 1815.9z" fill="#007887" stroke="#002125"/>
<path d="M218.4 1968.2L224.7 1985.1L217.1 1990L210.8 1973.1z" fill="#61ff00" stroke="#1b4700"/>
<path d="M262.8 2044.3L268.8 2053.3L261.3 2058.6L255.3 2049.5z" fill="#d0ff00" stroke="#3a4700"/>
<path d="M289.8 2050.5L295.8 2056.9L288.3 2062.3L282.3 2055.8z" fill="#d8ff00" stroke="#3c4700"/>
<path d="M386.5 2020.7L393 2020.3L385.8 2025.7L379.3 2026.1z" fill="#a7ff00" stroke="#2e4700"/>
<path d="M214.6 1900.4L221 1921.2L213.4 1925.8L206.9 1904.9z" fill="#00fb04" stroke="#004601"/>
<path d="M213.4 1925.8L219.8 1945.4L212.1 1950.1L205.7 1930.5z" fill="#22ff00" stroke="#094700"/>
<path d="M215.7 1873.6L222.2 1895.9L214.6 1900.4L208 1878z" fill="#00d32c" stroke="#003b0c"/>
<path d="M249.2 2039.2L255.3 2049.5L247.7 2054.8L241.6 2044.4z" fill="#c8ff00" stroke="#384700"/>
<path d="M435.4 1991.3L442.4 1987.9L435.2 1993.3L428.3 1996.7z" fill="#77ff00" stroke="#214700"/>
<path d="M463.5 1971.6L470.8 1966.7L463.7 1972.1L456.5 1977z" fill="#58ff00" stroke="#184700"/>
<path d="M303.3 2051.6L309.3 2056.7L301.9 2062.1L295.8 2056.9z" fill="#d7ff00" stroke="#3c4700"/>
<path d="M223.3 2005.5L229.5 2019.7L221.8 2024.8L215.6 2010.5z" fill="#96ff00" stroke="#2a4700"/>
<path d="M212.1 1950.1L218.4 1968.2L210.8 1973.1L204.4 1954.8z" fill="#45ff00" stroke="#134700"/>
<path d="M216.8 1845.4L223.4 1869.2L215.7 1873.6L209.1 1849.8z" fill="#00a857" stroke="#002f18"/>
<path d="M407.4 2009.4L414.1 2007.5L406.9 2013L400.2 2014.8z" fill="#93ff00" stroke="#294700"/>
<path d="M229.5 2019.7L235.6 2032.7L227.9 2037.8L221.8 2024.8z" fill="#abff00" stroke="#2f4700"/>
<path d="M491.7 1950.5L499.3 1943.9L492.3 1949.3L484.8 1955.8z" fill="#36ff00" stroke="#0f4700"/>
<path d="M226.5 1780.9L233.2 1807.6L225.5 1811.8L218.8 1785z" fill="#0048b7" stroke="#001433"/>
<path d="M217.1 1990L223.3 2005.5L215.6 2010.5L209.4 1994.9z" fill="#7fff00" stroke="#234700"/>
<path d="M337.6 2044.3L343.8 2046.8L336.4 2052.3L330.2 2049.7z" fill="#c9ff00" stroke="#384700"/>
<path d="M358.4 2035.9L364.8 2037L357.4 2042.5L351.1 2041.3z" fill="#bcff00" stroke="#344700"/>
<path d="M235.6 2032.7L241.6 2044.4L234 2049.6L227.9 2037.8z" fill="#bdff00" stroke="#344700"/>
<path d="M268.8 2053.3L274.8 2061.1L267.3 2066.5L261.3 2058.6z" fill="#d9ff00" stroke="#3c4700"/>
<path d="M316.7 2051.3L322.8 2055.2L315.4 2060.6L309.3 2056.7z" fill="#d4ff00" stroke="#3b4700"/>
<path d="M255.3 2049.5L261.3 2058.6L253.7 2064L247.7 2054.8z" fill="#d4ff00" stroke="#3b4700"/>
<path d="M210.8 1973.1L217.1 1990L209.4 1994.9L203 1977.9z" fill="#65ff00" stroke="#1c4700"/>
<path d="M282.3 2055.8L288.3 2062.3L280.8 2067.7L274.8 2061.1z" fill="#dcff00" stroke="#3d4700"/>
<path d="M379.3 2026.1L385.8 2025.7L378.5 2031.2L372 2031.5z" fill="#abff00" stroke="#2f4700"/>
<path d="M217.9 1815.9L224.5 1841.2L216.8 1845.4L210.1 1820.1z" fill="#007b84" stroke="#002224"/>
<path d="M206.9 1904.9L213.4 1925.8L205.7 1930.5L199.1 1909.4z" fill="#00fe01" stroke="#004700"/>
<path d="M428.3 1996.7L435.2 1993.3L428.1 1998.8L421.2 2002.1z" fill="#7cff00" stroke="#224700"/>
<path d="M456.5 1977L463.7 1972.1L456.6 1977.6L449.5 1982.4z" fill="#5dff00" stroke="#1a4700"/>
<path d="M205.7 1930.5L212.1 1950.1L204.4 1954.8L197.9 1935.1z" fill="#25ff00" stroke="#0a4700"/>
<path d="M208 1878L214.6 1900.4L206.9 1904.9L200.3 1882.4z" fill="#00d629" stroke="#003b0b"/>
<path d="M241.6 2044.4L247.7 2054.8L240.1 2060.1L234 2049.6z" fill="#cbff00" stroke="#384700"/>
<path d="M295.8 2056.9L301.9 2062.1L294.4 2067.6L288.3 2062.3z" fill="#dbff00" stroke="#3d4700"/>
<path d="M400.2 2014.8L406.9 2013L399.6 2018.5L393 2020.3z" fill="#97ff00" stroke="#2a4700"/>
<path d="M484.8 1955.8L492.3 1949.3L485.2 1954.8L477.8 1961.2z" fill="#3bff00" stroke="#104700"/>
<path d="M215.6 2010.5L221.8 2024.8L214.1 2029.9L207.9 2015.5z" fill="#9aff00" stroke="#2b4700"/>
<path d="M204.4 1954.8L210.8 1973.1L203 1977.9L196.6 1959.6z" fill="#48ff00" stroke="#144700"/>
<path d="M221.8 2024.8L227.9 2037.8L220.3 2043L214.1 2029.9z" fill="#aeff00" stroke="#304700"/>
<path d="M209.1 1849.8L215.7 1873.6L208 1878L201.3 1854.1z" fill="#00ab54" stroke="#002f17"/>
<path d="M209.4 1994.9L215.6 2010.5L207.9 2015.5L201.6 1999.8z" fill="#82ff00" stroke="#244700"/>
<path d="M330.2 2049.7L336.4 2052.3L329 2057.8L322.8 2055.2z" fill="#cdff00" stroke="#394700"/>
<path d="M218.8 1785L225.5 1811.8L217.9 1815.9L211.1 1789z" fill="#004bb4" stroke="#001532"/>
<path d="M351.1 2041.3L357.4 2042.5L350.1 2048L343.8 2046.8z" fill="#c0ff00" stroke="#354700"/>
<path d="M227.9 2037.8L234 2049.6L226.3 2054.8L220.3 2043z" fill="#c0ff00" stroke="#354700"/>
<path d="M261.3 2058.6L267.3 2066.5L259.7 2071.9L253.7 2064z" fill="#ddff00" stroke="#3d4700"/>
<path d="M309.3 2056.7L315.4 2060.6L308 2066.1L301.9 2062.1z" fill="#d8ff00" stroke="#3c4700"/>
<path d="M372 2031.5L378.5 2031.2L371.2 2036.8L364.8 2037z" fill="#afff00" stroke="#314700"/>
<path d="M247.7 2054.8L253.7 2064L246.1 2069.3L240.1 2060.1z" fill="#d8ff00" stroke="#3c4700"/>
<path d="M274.8 2061.1L280.8 2067.7L273.3 2073.2L267.3 2066.5z" fill="#e0ff00" stroke="#3e4700"/>
<path d="M203 1977.9L209.4 1994.9L201.6 1999.8L195.3 1982.8z" fill="#68ff00" stroke="#1d4700"/>
<path d="M210.1 1820.1L216.8 1845.4L209.1 1849.8L202.4 1824.3z" fill="#007e81" stroke="#002324"/>
<path d="M421.2 2002.1L428.1 1998.8L420.9 2004.3L414.1 2007.5z" fill="#80ff00" stroke="#234700"/>
<path d="M449.5 1982.4L456.6 1977.6L449.5 1983.1L442.4 1987.9z" fill="#61ff00" stroke="#1b4700"/>
<path d="M199.1 1909.4L205.7 1930.5L197.9 1935.1L191.3 1914z" fill="#02ff00" stroke="#004700"/>
<path d="M197.9 1935.1L204.4 1954.8L196.6 1959.6L190.1 1939.8z" fill="#28ff00" stroke="#0b4700"/>
<path d="M234 2049.6L240.1 2060.1L232.4 2065.4L226.3 2054.8z" fill="#cfff00" stroke="#394700"/>
<path d="M288.3 2062.3L294.4 2067.6L286.9 2073.1L280.8 2067.7z" fill="#dfff00" stroke="#3e4700"/>
<path d="M200.3 1882.4L206.9 1904.9L199.1 1909.4L192.5 1886.9z" fill="#00d926" stroke="#003c0a"/>
<path d="M393 2020.3L399.6 2018.5L392.4 2024.1L385.8 2025.7z" fill="#9bff00" stroke="#2b4700"/>
<path d="M477.8 1961.2L485.2 1954.8L478.2 1960.3L470.8 1966.7z" fill="#40ff00" stroke="#114700"/>
<path d="M207.9 2015.5L214.1 2029.9L206.4 2035L200.2 2020.6z" fill="#9dff00" stroke="#2b4700"/>
<path d="M196.6 1959.6L203 1977.9L195.3 1982.8L188.8 1964.4z" fill="#4bff00" stroke="#154700"/>
<path d="M214.1 2029.9L220.3 2043L212.5 2048.2L206.4 2035z" fill="#b2ff00" stroke="#314700"/>
<path d="M201.3 1854.1L208 1878L200.3 1882.4L193.5 1858.5z" fill="#00ae51" stroke="#003016"/>
<path d="M322.8 2055.2L329 2057.8L321.6 2063.3L315.4 2060.6z" fill="#d2ff00" stroke="#3a4700"/>
<path d="M343.8 2046.8L350.1 2048L342.7 2053.5L336.4 2052.3z" fill="#c4ff00" stroke="#364700"/>
<path d="M201.6 1999.8L207.9 2015.5L200.2 2020.6L193.9 2004.8z" fill="#86ff00" stroke="#254700"/>
<path d="M211.1 1789L217.9 1815.9L210.1 1820.1L203.3 1793.2z" fill="#004eb1" stroke="#001531"/>
<path d="M220.3 2043L226.3 2054.8L218.6 2060.1L212.5 2048.2z" fill="#c4ff00" stroke="#364700"/>
<path d="M301.9 2062.1L308 2066.1L300.5 2071.6L294.4 2067.6z" fill="#dcff00" stroke="#3d4700"/>
<path d="M253.7 2064L259.7 2071.9L252.1 2077.3L246.1 2069.3z" fill="#e1ff00" stroke="#3f4700"/>
<path d="M364.8 2037L371.2 2036.8L363.8 2042.3L357.4 2042.5z" fill="#b4ff00" stroke="#324700"/>
<path d="M506.2 1938.5L514.1 1930.3L507 1935.8L499.3 1943.9z" fill="#1bff00" stroke="#074700"/>
<path d="M267.3 2066.5L273.3 2073.2L265.7 2078.6L259.7 2071.9z" fill="#e4ff00" stroke="#3f4700"/>
<path d="M240.1 2060.1L246.1 2069.3L238.4 2074.7L232.4 2065.4z" fill="#dbff00" stroke="#3d4700"/>
<path d="M195.3 1982.8L201.6 1999.8L193.9 2004.8L187.5 1987.7z" fill="#6bff00" stroke="#1d4700"/>
<path d="M442.4 1987.9L449.5 1983.1L442.3 1988.6L435.2 1993.3z" fill="#66ff00" stroke="#1c4700"/>
<path d="M202.4 1824.3L209.1 1849.8L201.3 1854.1L194.5 1828.6z" fill="#00817e" stroke="#002423"/>
<path d="M414.1 2007.5L420.9 2004.3L413.7 2009.9L406.9 2013z" fill="#85ff00" stroke="#254700"/>
<path d="M191.3 1914L197.9 1935.1L190.1 1939.8L183.5 1918.6z" fill="#06ff00" stroke="#014700"/>
<path d="M280.8 2067.7L286.9 2073.1L279.3 2078.6L273.3 2073.2z" fill="#e3ff00" stroke="#3f4700"/>
<path d="M226.3 2054.8L232.4 2065.4L224.7 2070.7L218.6 2060.1z" fill="#d3ff00" stroke="#3b4700"/>
<path d="M190.1 1939.8L196.6 1959.6L188.8 1964.4L182.3 1944.6z" fill="#2bff00" stroke="#0c4700"/>
<path d="M470.8 1966.7L478.2 1960.3L471.1 1965.8L463.7 1972.1z" fill="#44ff00" stroke="#134700"/>
<path d="M192.5 1886.9L199.1 1909.4L191.3 1914L184.6 1891.4z" fill="#00dc23" stroke="#003d09"/>
<path d="M385.8 2025.7L392.4 2024.1L385.1 2029.6L378.5 2031.2z" fill="#a0ff00" stroke="#2c4700"/>
<path d="M200.2 2020.6L206.4 2035L198.6 2040.2L192.4 2025.7z" fill="#a1ff00" stroke="#2d4700"/>
<path d="M206.4 2035L212.5 2048.2L204.8 2053.4L198.6 2040.2z" fill="#b5ff00" stroke="#324700"/>
<path d="M188.8 1964.4L195.3 1982.8L187.5 1987.7L181 1969.2z" fill="#4eff00" stroke="#154700"/>
<path d="M315.4 2060.6L321.6 2063.3L314.1 2068.8L308 2066.1z" fill="#d6ff00" stroke="#3b4700"/>
<path d="M336.4 2052.3L342.7 2053.5L335.3 2059.1L329 2057.8z" fill="#c8ff00" stroke="#384700"/>
<path d="M193.5 1858.5L200.3 1882.4L192.5 1886.9L185.7 1862.8z" fill="#00b14e" stroke="#003115"/>
<path d="M193.9 2004.8L200.2 2020.6L192.4 2025.7L186 2009.8z" fill="#89ff00" stroke="#264700"/>
<path d="M294.4 2067.6L300.5 2071.6L292.9 2077.2L286.9 2073.1z" fill="#e0ff00" stroke="#3e4700"/>
<path d="M203.3 1793.2L210.1 1820.1L202.4 1824.3L195.5 1797.3z" fill="#0051ae" stroke="#001630"/>
<path d="M499.3 1943.9L507 1935.8L500 1941.3L492.3 1949.3z" fill="#1fff00" stroke="#084700"/>
<path d="M212.5 2048.2L218.6 2060.1L210.9 2065.4L204.8 2053.4z" fill="#c7ff00" stroke="#374700"/>
<path d="M246.1 2069.3L252.1 2077.3L244.4 2082.8L238.4 2074.7z" fill="#e5ff00" stroke="#404700"/>
<path d="M357.4 2042.5L363.8 2042.3L356.5 2047.9L350.1 2048z" fill="#b8ff00" stroke="#334700"/>
<path d="M259.7 2071.9L265.7 2078.6L258.1 2084.1L252.1 2077.3z" fill="#e8ff00" stroke="#404700"/>
<path d="M232.4 2065.4L238.4 2074.7L230.7 2080.1L224.7 2070.7z" fill="#dfff00" stroke="#3e4700"/>
<path d="M187.5 1987.7L193.9 2004.8L186 2009.8L179.6 1992.6z" fill="#6fff00" stroke="#1f4700"/>
<path d="M435.2 1993.3L442.3 1988.6L435.1 1994.2L428.1 1998.8z" fill="#6bff00" stroke="#1d4700"/>
<path d="M406.9 2013L413.7 2009.9L406.4 2015.5L399.6 2018.5z" fill="#89ff00" stroke="#264700"/>
<path d="M194.5 1828.6L201.3 1854.1L193.5 1858.5L186.7 1832.9z" fill="#00847b" stroke="#002422"/>
<path d="M273.3 2073.2L279.3 2078.6L271.7 2084.1L265.7 2078.6z" fill="#e7ff00" stroke="#404700"/>
<path d="M218.6 2060.1L224.7 2070.7L216.9 2076.1L210.9 2065.4z" fill="#d7ff00" stroke="#3c4700"/>
<path d="M463.7 1972.1L471.1 1965.8L464 1971.3L456.6 1977.6z" fill="#49ff00" stroke="#144700"/>
<path d="M183.5 1918.6L190.1 1939.8L182.3 1944.6L175.6 1923.3z" fill="#09ff00" stroke="#024700"/>
<path d="M378.5 2031.2L385.1 2029.6L377.7 2035.2L371.2 2036.8z" fill="#a4ff00" stroke="#2d4700"/>
<path d="M182.3 1944.6L188.8 1964.4L181 1969.2L174.4 1949.3z" fill="#2fff00" stroke="#0d4700"/>
<path d="M184.6 1891.4L191.3 1914L183.5 1918.6L176.7 1895.9z" fill="#00df20" stroke="#003e08"/>
<path d="M192.4 2025.7L198.6 2040.2L190.8 2045.4L184.5 2030.8z" fill="#a4ff00" stroke="#2d4700"/>
<path d="M308 2066.1L314.1 2068.8L306.6 2074.4L300.5 2071.6z" fill="#daff00" stroke="#3d4700"/>
<path d="M329 2057.8L335.3 2059.1L327.8 2064.7L321.6 2063.3z" fill="#cdff00" stroke="#394700"/>
<path d="M198.6 2040.2L204.8 2053.4L197 2058.7L190.8 2045.4z" fill="#b9ff00" stroke="#334700"/>
<path d="M181 1969.2L187.5 1987.7L179.6 1992.6L173.1 1974.1z" fill="#52ff00" stroke="#164700"/>
<path d="M186 2009.8L192.4 2025.7L184.5 2030.8L178.2 2014.9z" fill="#8dff00" stroke="#274700"/>
<path d="M185.7 1862.8L192.5 1886.9L184.6 1891.4L177.8 1867.3z" fill="#00b44b" stroke="#003215"/>
<path d="M492.3 1949.3L500 1941.3L492.9 1946.8L485.2 1954.8z" fill="#24ff00" stroke="#0a4700"/>
<path d="M286.9 2073.1L292.9 2077.2L285.3 2082.8L279.3 2078.6z" fill="#e4ff00" stroke="#3f4700"/>
<path d="M350.1 2048L356.5 2047.9L349 2053.5L342.7 2053.5z" fill="#bcff00" stroke="#344700"/>
<path d="M238.4 2074.7L244.4 2082.8L236.7 2088.3L230.7 2080.1z" fill="#e9ff00" stroke="#414700"/>
<path d="M204.8 2053.4L210.9 2065.4L203.1 2070.7L197 2058.7z" fill="#cbff00" stroke="#384700"/>
<path d="M195.5 1797.3L202.4 1824.3L194.5 1828.6L187.6 1801.4z" fill="#0053ac" stroke="#001730"/>
<path d="M252.1 2077.3L258.1 2084.1L250.4 2089.6L244.4 2082.8z" fill="#ecff00" stroke="#424700"/>
<path d="M224.7 2070.7L230.7 2080.1L223 2085.6L216.9 2076.1z" fill="#e3ff00" stroke="#3f4700"/>
<path d="M428.1 1998.8L435.1 1994.2L427.9 1999.8L420.9 2004.3z" fill="#6fff00" stroke="#1f4700"/>
<path d="M399.6 2018.5L406.4 2015.5L399.1 2021.1L392.4 2024.1z" fill="#8eff00" stroke="#274700"/>
<path d="M179.6 1992.6L186 2009.8L178.2 2014.9L171.7 1997.6z" fill="#72ff00" stroke="#1f4700"/>
<path d="M456.6 1977.6L464 1971.3L456.8 1976.9L449.5 1983.1z" fill="#4eff00" stroke="#154700"/>
<path d="M265.7 2078.6L271.7 2084.1L264.1 2089.7L258.1 2084.1z" fill="#ebff00" stroke="#414700"/>
<path d="M186.7 1832.9L193.5 1858.5L185.7 1862.8L178.8 1837.2z" fill="#008778" stroke="#002521"/>
<path d="M371.2 2036.8L377.7 2035.2L370.3 2040.8L363.8 2042.3z" fill="#a9ff00" stroke="#2f4700"/>
<path d="M210.9 2065.4L216.9 2076.1L209.2 2081.5L203.1 2070.7z" fill="#daff00" stroke="#3d4700"/>
<path d="M175.6 1923.3L182.3 1944.6L174.4 1949.3L167.7 1927.9z" fill="#0cff00" stroke="#034700"/>
<path d="M174.4 1949.3L181 1969.2L173.1 1974.1L166.5 1954.1z" fill="#32ff00" stroke="#0e4700"/>
<path d="M176.7 1895.9L183.5 1918.6L175.6 1923.3L168.8 1900.5z" fill="#00e21d" stroke="#003f08"/>
<path d="M300.5 2071.6L306.6 2074.4L299 2080L292.9 2077.2z" fill="#deff00" stroke="#3e4700"/>
<path d="M321.6 2063.3L327.8 2064.7L320.3 2070.3L314.1 2068.8z" fill="#d1ff00" stroke="#3a4700"/>
<path d="M173.1 1974.1L179.6 1992.6L171.7 1997.6L165.2 1978.9z" fill="#55ff00" stroke="#174700"/>
<path d="M485.2 1954.8L492.9 1946.8L485.8 1952.4L478.2 1960.3z" fill="#29ff00" stroke="#0b4700"/>
<path d="M279.3 2078.6L285.3 2082.8L277.7 2088.4L271.7 2084.1z" fill="#e8ff00" stroke="#404700"/>
<path d="M342.7 2053.5L349 2053.5L341.6 2059.1L335.3 2059.1z" fill="#c1ff00" stroke="#364700"/>
<path d="M177.8 1867.3L184.6 1891.4L176.7 1895.9L169.9 1871.7z" fill="#00b748" stroke="#003314"/>
<path d="M230.7 2080.1L236.7 2088.3L229 2093.8L223 2085.6z" fill="#edff00" stroke="#424700"/>
<path d="M244.4 2082.8L250.4 2089.6L242.7 2095.2L236.7 2088.3z" fill="#f0ff00" stroke="#434700"/>
<path d="M420.9 2004.3L427.9 1999.8L420.6 2005.4L413.7 2009.9z" fill="#74ff00" stroke="#204700"/>
<path d="M216.9 2076.1L223 2085.6L215.2 2091L209.2 2081.5z" fill="#e7ff00" stroke="#404700"/>
<path d="M187.6 1801.4L194.5 1828.6L186.7 1832.9L179.7 1805.6z" fill="#0056a9" stroke="#00182f"/>
<path d="M392.4 2024.1L399.1 2021.1L391.8 2026.7L385.1 2029.6z" fill="#92ff00" stroke="#284700"/>
<path d="M449.5 1983.1L456.8 1976.9L449.6 1982.5L442.3 1988.6z" fill="#52ff00" stroke="#164700"/>
<path d="M258.1 2084.1L264.1 2089.7L256.4 2095.3L250.4 2089.6z" fill="#f0ff00" stroke="#434700"/>
<path d="M363.8 2042.3L370.3 2040.8L362.9 2046.5L356.5 2047.9z" fill="#adff00" stroke="#304700"/>
<path d="M178.8 1837.2L185.7 1862.8L177.8 1867.3L170.8 1841.5z" fill="#008a75" stroke="#002620"/>
<path d="M167.7 1927.9L174.4 1949.3L166.5 1954.1L159.7 1932.6z" fill="#0fff00" stroke="#044700"/>
<path d="M514.1 1930.3L522.1 1920.7L515.1 1926.2L507 1935.8z" fill="#01ff00" stroke="#004700"/>
<path d="M166.5 1954.1L173.1 1974.1L165.2 1978.9L158.5 1958.9z" fill="#35ff00" stroke="#0e4700"/>
<path d="M314.1 2068.8L320.3 2070.3L312.7 2076L306.6 2074.4z" fill="#d5ff00" stroke="#3b4700"/>
<path d="M292.9 2077.2L299 2080L291.4 2085.7L285.3 2082.8z" fill="#e2ff00" stroke="#3f4700"/>
<path d="M168.8 1900.5L175.6 1923.3L167.7 1927.9L160.8 1905.1z" fill="#00e51a" stroke="#004007"/>
<path d="M478.2 1960.3L485.8 1952.4L478.7 1958L471.1 1965.8z" fill="#2dff00" stroke="#0c4700"/>
<path d="M335.3 2059.1L341.6 2059.1L334.1 2064.8L327.8 2064.7z" fill="#c5ff00" stroke="#374700"/>
<path d="M271.7 2084.1L277.7 2088.4L270.1 2094L264.1 2089.7z" fill="#edff00" stroke="#424700"/>
<path d="M223 2085.6L229 2093.8L221.2 2099.3L215.2 2091z" fill="#f1ff00" stroke="#434700"/>
<path d="M169.9 1871.7L176.7 1895.9L168.8 1900.5L161.9 1876.1z" fill="#00ba45" stroke="#003413"/>
<path d="M413.7 2009.9L420.6 2005.4L413.3 2011L406.4 2015.5z" fill="#78ff00" stroke="#214700"/>
<path d="M236.7 2088.3L242.7 2095.2L234.9 2100.8L229 2093.8z" fill="#f4ff00" stroke="#444700"/>
<path d="M385.1 2029.6L391.8 2026.7L384.4 2032.3L377.7 2035.2z" fill="#96ff00" stroke="#2a4700"/>
<path d="M179.7 1805.6L186.7 1832.9L178.8 1837.2L171.7 1809.8z" fill="#0059a6" stroke="#00182e"/>
<path d="M442.3 1988.6L449.6 1982.5L442.3 1988.1L435.1 1994.2z" fill="#57ff00" stroke="#184700"/>
<path d="M356.5 2047.9L362.9 2046.5L355.5 2052.2L349 2053.5z" fill="#b1ff00" stroke="#314700"/>
<path d="M250.4 2089.6L256.4 2095.3L248.6 2100.9L242.7 2095.2z" fill="#f4ff00" stroke="#444700"/>
<path d="M507 1935.8L515.1 1926.2L508 1931.8L500 1941.3z" fill="#05ff00" stroke="#014700"/>
<path d="M170.8 1841.5L177.8 1867.3L169.9 1871.7L162.8 1845.8z" fill="#008c73" stroke="#002720"/>
<path d="M159.7 1932.6L166.5 1954.1L158.5 1958.9L151.7 1937.3z" fill="#12ff00" stroke="#054700"/>
<path d="M306.6 2074.4L312.7 2076L305.1 2081.6L299 2080z" fill="#d9ff00" stroke="#3c4700"/>
<path d="M285.3 2082.8L291.4 2085.7L283.8 2091.4L277.7 2088.4z" fill="#e7ff00" stroke="#404700"/>
<path d="M471.1 1965.8L478.7 1958L471.5 1963.6L464 1971.3z" fill="#32ff00" stroke="#0e4700"/>
<path d="M160.8 1905.1L167.7 1927.9L159.7 1932.6L152.8 1909.7z" fill="#00e916" stroke="#004106"/>
<path d="M327.8 2064.7L334.1 2064.8L326.5 2070.5L320.3 2070.3z" fill="#c9ff00" stroke="#384700"/>
<path d="M264.1 2089.7L270.1 2094L262.4 2099.7L256.4 2095.3z" fill="#f1ff00" stroke="#434700"/>
<path d="M406.4 2015.5L413.3 2011L406 2016.7L399.1 2021.1z" fill="#7dff00" stroke="#234700"/>
<path d="M377.7 2035.2L384.4 2032.3L377 2038L370.3 2040.8z" fill="#9bff00" stroke="#2b4700"/>
<path d="M229 2093.8L234.9 2100.8L227.1 2106.4L221.2 2099.3z" fill="#f7ff00" stroke="#454700"/>
<path d="M161.9 1876.1L168.8 1900.5L160.8 1905.1L153.9 1880.6z" fill="#00bd42" stroke="#003412"/>
<path d="M435.1 1994.2L442.3 1988.1L435.1 1993.8L427.9 1999.8z" fill="#5bff00" stroke="#194700"/>
<path d="M171.7 1809.8L178.8 1837.2L170.8 1841.5L163.7 1814z" fill="#005ca3" stroke="#00192d"/>
<path d="M349 2053.5L355.5 2052.2L348 2057.9L341.6 2059.1z" fill="#b6ff00" stroke="#324700"/>
<path d="M242.7 2095.2L248.6 2100.9L240.9 2106.5L234.9 2100.8z" fill="#f8ff00" stroke="#454700"/>
<path d="M500 1941.3L508 1931.8L500.9 1937.4L492.9 1946.8z" fill="#0aff00" stroke="#024700"/>
<path d="M299 2080L305.1 2081.6L297.5 2087.4L291.4 2085.7z" fill="#deff00" stroke="#3e4700"/>
<path d="M162.8 1845.8L169.9 1871.7L161.9 1876.1L154.8 1850.2z" fill="#008f70" stroke="#00281f"/>
<path d="M277.7 2088.4L283.8 2091.4L276.1 2097.1L270.1 2094z" fill="#ebff00" stroke="#414700"/>
<path d="M464 1971.3L471.5 1963.6L464.3 1969.2L456.8 1976.9z" fill="#37ff00" stroke="#0f4700"/>
<path d="M152.8 1909.7L159.7 1932.6L151.7 1937.3L144.8 1914.3z" fill="#00ec13" stroke="#004205"/>
<path d="M320.3 2070.3L326.5 2070.5L319 2076.2L312.7 2076z" fill="#ceff00" stroke="#394700"/>
<path d="M256.4 2095.3L262.4 2099.7L254.6 2105.4L248.6 2100.9z" fill="#f5ff00" stroke="#444700"/>
<path d="M399.1 2021.1L406 2016.7L398.6 2022.4L391.8 2026.7z" fill="#81ff00" stroke="#244700"/>
<path d="M370.3 2040.8L377 2038L369.5 2043.8L362.9 2046.5z" fill="#9fff00" stroke="#2c4700"/>
<path d="M153.9 1880.6L160.8 1905.1L152.8 1909.7L145.8 1885.1z" fill="#00c03f" stroke="#003511"/>
<path d="M427.9 1999.8L435.1 1993.8L427.7 1999.4L420.6 2005.4z" fill="#60ff00" stroke="#1a4700"/>
<path d="M341.6 2059.1L348 2057.9L340.4 2063.6L334.1 2064.8z" fill="#baff00" stroke="#344700"/>
<path d="M234.9 2100.8L240.9 2106.5L233.1 2112.2L227.1 2106.4z" fill="#fcff00" stroke="#464700"/>
<path d="M492.9 1946.8L500.9 1937.4L493.7 1943L485.8 1952.4z" fill="#0fff00" stroke="#044700"/>
<path d="M163.7 1814L170.8 1841.5L162.8 1845.8L155.6 1818.3z" fill="#005fa0" stroke="#001a2c"/>
<path d="M291.4 2085.7L297.5 2087.4L289.9 2093.1L283.8 2091.4z" fill="#e2ff00" stroke="#3f4700"/>
<path d="M456.8 1976.9L464.3 1969.2L457 1974.9L449.6 1982.5z" fill="#3cff00" stroke="#104700"/>
<path d="M270.1 2094L276.1 2097.1L268.4 2102.8L262.4 2099.7z" fill="#efff00" stroke="#424700"/>
<path d="M154.8 1850.2L161.9 1876.1L153.9 1880.6L146.7 1854.6z" fill="#00926d" stroke="#00281e"/>
<path d="M312.7 2076L319 2076.2L311.3 2082L305.1 2081.6z" fill="#d2ff00" stroke="#3a4700"/>
<path d="M248.6 2100.9L254.6 2105.4L246.8 2111.1L240.9 2106.5z" fill="#f9ff00" stroke="#454700"/>
<path d="M391.8 2026.7L398.6 2022.4L391.2 2028.1L384.4 2032.3z" fill="#86ff00" stroke="#254700"/>
<path d="M362.9 2046.5L369.5 2043.8L362 2049.5L355.5 2052.2z" fill="#a4ff00" stroke="#2d4700"/>
<path d="M420.6 2005.4L427.7 1999.4L420.4 2005.1L413.3 2011z" fill="#65ff00" stroke="#1c4700"/>
<path d="M145.8 1885.1L152.8 1909.7L144.8 1914.3L137.7 1889.7z" fill="#00c33c" stroke="#003610"/>
<path d="M334.1 2064.8L340.4 2063.6L332.9 2069.4L326.5 2070.5z" fill="#bfff00" stroke="#354700"/>
<path d="M522.1 1920.7L530.5 1909.4L523.4 1915.1L515.1 1926.2z" fill="#00e31c" stroke="#003f07"/>
<path d="M485.8 1952.4L493.7 1943L486.5 1948.6L478.7 1958z" fill="#14ff00" stroke="#054700"/>
<path d="M155.6 1818.3L162.8 1845.8L154.8 1850.2L147.5 1822.5z" fill="#00629d" stroke="#001b2b"/>
<path d="M449.6 1982.5L457 1974.9L449.7 1980.6L442.3 1988.1z" fill="#40ff00" stroke="#114700"/>
<path d="M283.8 2091.4L289.9 2093.1L282.2 2098.9L276.1 2097.1z" fill="#e6ff00" stroke="#404700"/>
<path d="M262.4 2099.7L268.4 2102.8L260.6 2108.6L254.6 2105.4z" fill="#f3ff00" stroke="#444700"/>
<path d="M305.1 2081.6L311.3 2082L303.7 2087.8L297.5 2087.4z" fill="#d6ff00" stroke="#3b4700"/>
<path d="M146.7 1854.6L153.9 1880.6L145.8 1885.1L138.6 1859z" fill="#00956a" stroke="#00291d"/>
<path d="M240.9 2106.5L246.8 2111.1L239 2116.8L233.1 2112.2z" fill="#fdff00" stroke="#464700"/>
<path d="M384.4 2032.3L391.2 2028.1L383.7 2033.9L377 2038z" fill="#8bff00" stroke="#264700"/>
<path d="M355.5 2052.2L362 2049.5L354.5 2055.3L348 2057.9z" fill="#a8ff00" stroke="#2f4700"/>
<path d="M413.3 2011L420.4 2005.1L413 2010.9L406 2016.7z" fill="#69ff00" stroke="#1d4700"/>
<path d="M326.5 2070.5L332.9 2069.4L325.3 2075.2L319 2076.2z" fill="#c3ff00" stroke="#364700"/>
<path d="M515.1 1926.2L523.4 1915.1L516.2 1920.7L508 1931.8z" fill="#00e817" stroke="#004006"/>
<path d="M478.7 1958L486.5 1948.6L479.3 1954.3L471.5 1963.6z" fill="#19ff00" stroke="#074700"/>
<path d="M442.3 1988.1L449.7 1980.6L442.4 1986.3L435.1 1993.8z" fill="#45ff00" stroke="#134700"/>
<path d="M147.5 1822.5L154.8 1850.2L146.7 1854.6L139.4 1826.8z" fill="#00649b" stroke="#001c2b"/>
<path d="M276.1 2097.1L282.2 2098.9L274.4 2104.7L268.4 2102.8z" fill="#eaff00" stroke="#414700"/>
<path d="M254.6 2105.4L260.6 2108.6L252.8 2114.4L246.8 2111.1z" fill="#f7ff00" stroke="#454700"/>
<path d="M297.5 2087.4L303.7 2087.8L296 2093.6L289.9 2093.1z" fill="#dbff00" stroke="#3d4700"/>
<path d="M377 2038L383.7 2033.9L376.2 2039.7L369.5 2043.8z" fill="#8fff00" stroke="#284700"/>
<path d="M138.6 1859L145.8 1885.1L137.7 1889.7L130.4 1863.4z" fill="#009867" stroke="#002a1c"/>
<path d="M348 2057.9L354.5 2055.3L346.9 2061.1L340.4 2063.6z" fill="#adff00" stroke="#304700"/>
<path d="M406 2016.7L413 2010.9L405.6 2016.7L398.6 2022.4z" fill="#6eff00" stroke="#1e4700"/>
<path d="M508 1931.8L516.2 1920.7L509.1 1926.3L500.9 1937.4z" fill="#00ed12" stroke="#004205"/>
<path d="M471.5 1963.6L479.3 1954.3L472 1960L464.3 1969.2z" fill="#1dff00" stroke="#084700"/>
<path d="M319 2076.2L325.3 2075.2L317.6 2081L311.3 2082z" fill="#c7ff00" stroke="#374700"/>
<path d="M435.1 1993.8L442.4 1986.3L435 1992L427.7 1999.4z" fill="#4aff00" stroke="#144700"/>
<path d="M268.4 2102.8L274.4 2104.7L266.6 2110.5L260.6 2108.6z" fill="#efff00" stroke="#424700"/>
<path d="M246.8 2111.1L252.8 2114.4L245 2120.2L239 2116.8z" fill="#fbff00" stroke="#464700"/>
<path d="M139.4 1826.8L146.7 1854.6L138.6 1859L131.2 1831.2z" fill="#006798" stroke="#001c2a"/>
<path d="M289.9 2093.1L296 2093.6L288.3 2099.4L282.2 2098.9z" fill="#dfff00" stroke="#3e4700"/>
<path d="M369.5 2043.8L376.2 2039.7L368.7 2045.5L362 2049.5z" fill="#94ff00" stroke="#294700"/>
<path d="M340.4 2063.6L346.9 2061.1L339.3 2066.9L332.9 2069.4z" fill="#b1ff00" stroke="#314700"/>
<path d="M398.6 2022.4L405.6 2016.7L398.1 2022.5L391.2 2028.1z" fill="#73ff00" stroke="#204700"/>
<path d="M500.9 1937.4L509.1 1926.3L501.8 1932L493.7 1943z" fill="#00f20d" stroke="#004303"/>
<path d="M464.3 1969.2L472 1960L464.7 1965.8L457 1974.9z" fill="#22ff00" stroke="#094700"/>
<path d="M311.3 2082L317.6 2081L309.9 2086.9L303.7 2087.8z" fill="#ccff00" stroke="#394700"/>
<path d="M427.7 1999.4L435 1992L427.6 1997.8L420.4 2005.1z" fill="#4eff00" stroke="#154700"/>
<path d="M260.6 2108.6L266.6 2110.5L258.8 2116.4L252.8 2114.4z" fill="#f3ff00" stroke="#444700"/>
<path d="M282.2 2098.9L288.3 2099.4L280.5 2105.3L274.4 2104.7z" fill="#e3ff00" stroke="#3f4700"/>
<path d="M131.2 1831.2L138.6 1859L130.4 1863.4L122.9 1835.5z" fill="#006a95" stroke="#001d29"/>
<path d="M362 2049.5L368.7 2045.5L361.1 2051.3L354.5 2055.3z" fill="#98ff00" stroke="#2a4700"/>
<path d="M332.9 2069.4L339.3 2066.9L331.7 2072.8L325.3 2075.2z" fill="#b6ff00" stroke="#324700"/>
<path d="M391.2 2028.1L398.1 2022.5L390.6 2028.3L383.7 2033.9z" fill="#77ff00" stroke="#214700"/>
<path d="M493.7 1943L501.8 1932L494.6 1937.7L486.5 1948.6z" fill="#00f609" stroke="#004402"/>
<path d="M457 1974.9L464.7 1965.8L457.4 1971.5L449.7 1980.6z" fill="#27ff00" stroke="#0a4700"/>
<path d="M303.7 2087.8L309.9 2086.9L302.2 2092.7L296 2093.6z" fill="#d0ff00" stroke="#3a4700"/>
<path d="M530.5 1909.4L539.1 1896.6L532 1902.2L523.4 1915.1z" fill="#00c33c" stroke="#003610"/>
<path d="M420.4 2005.1L427.6 1997.8L420.2 2003.6L413 2010.9z" fill="#53ff00" stroke="#174700"/>
<path d="M252.8 2114.4L258.8 2116.4L250.9 2122.3L245 2120.2z" fill="#f7ff00" stroke="#454700"/>
<path d="M274.4 2104.7L280.5 2105.3L272.7 2111.2L266.6 2110.5z" fill="#e8ff00" stroke="#404700"/>
<path d="M354.5 2055.3L361.1 2051.3L353.5 2057.2L346.9 2061.1z" fill="#9dff00" stroke="#2b4700"/>
<path d="M325.3 2075.2L331.7 2072.8L324 2078.7L317.6 2081z" fill="#baff00" stroke="#344700"/>
<path d="M383.7 2033.9L390.6 2028.3L383.1 2034.1L376.2 2039.7z" fill="#7cff00" stroke="#224700"/>
<path d="M486.5 1948.6L494.6 1937.7L487.3 1943.5L479.3 1954.3z" fill="#00fb04" stroke="#004601"/>
<path d="M449.7 1980.6L457.4 1971.5L450 1977.3L442.4 1986.3z" fill="#2cff00" stroke="#0c4700"/>
<path d="M296 2093.6L302.2 2092.7L294.4 2098.7L288.3 2099.4z" fill="#d5ff00" stroke="#3b4700"/>
<path d="M523.4 1915.1L532 1902.2L524.8 1907.9L516.2 1920.7z" fill="#00c837" stroke="#00380f"/>
<path d="M413 2010.9L420.2 2003.6L412.7 2009.5L405.6 2016.7z" fill="#58ff00" stroke="#184700"/>
<path d="M266.6 2110.5L272.7 2111.2L264.8 2117.1L258.8 2116.4z" fill="#ecff00" stroke="#424700"/>
<path d="M346.9 2061.1L353.5 2057.2L345.8 2063.1L339.3 2066.9z" fill="#a1ff00" stroke="#2d4700"/>
<path d="M317.6 2081L324 2078.7L316.2 2084.6L309.9 2086.9z" fill="#bfff00" stroke="#354700"/>
<path d="M376.2 2039.7L383.1 2034.1L375.5 2040L368.7 2045.5z" fill="#81ff00" stroke="#244700"/>
<path d="M479.3 1954.3L487.3 1943.5L480 1949.3L472 1960z" fill="#01ff00" stroke="#004700"/>
<path d="M442.4 1986.3L450 1977.3L442.6 1983.1L435 1992z" fill="#30ff00" stroke="#0d4700"/>
<path d="M288.3 2099.4L294.4 2098.7L286.6 2104.6L280.5 2105.3z" fill="#d9ff00" stroke="#3c4700"/>
<path d="M516.2 1920.7L524.8 1907.9L517.5 1913.7L509.1 1926.3z" fill="#00cd32" stroke="#00390e"/>
<path d="M405.6 2016.7L412.7 2009.5L405.2 2015.3L398.1 2022.5z" fill="#5dff00" stroke="#1a4700"/>
<path d="M339.3 2066.9L345.8 2063.1L338.1 2069L331.7 2072.8z" fill="#a6ff00" stroke="#2e4700"/>
<path d="M258.8 2116.4L264.8 2117.1L256.9 2123.1L250.9 2122.3z" fill="#f0ff00" stroke="#434700"/>
<path d="M309.9 2086.9L316.2 2084.6L308.5 2090.6L302.2 2092.7z" fill="#c3ff00" stroke="#364700"/>
<path d="M368.7 2045.5L375.5 2040L367.8 2046L361.1 2051.3z" fill="#85ff00" stroke="#254700"/>
<path d="M472 1960L480 1949.3L472.6 1955.1L464.7 1965.8z" fill="#06ff00" stroke="#014700"/>
<path d="M435 1992L442.6 1983.1L435.1 1989L427.6 1997.8z" fill="#35ff00" stroke="#0e4700"/>
<path d="M280.5 2105.3L286.6 2104.6L278.8 2110.6L272.7 2111.2z" fill="#deff00" stroke="#3e4700"/>
<path d="M509.1 1926.3L517.5 1913.7L510.2 1919.4L501.8 1932z" fill="#00d22d" stroke="#003a0c"/>
<path d="M398.1 2022.5L405.2 2015.3L397.6 2021.2L390.6 2028.3z" fill="#61ff00" stroke="#1b4700"/>
<path d="M331.7 2072.8L338.1 2069L330.4 2075L324 2078.7z" fill="#aaff00" stroke="#2f4700"/>
<path d="M302.2 2092.7L308.5 2090.6L300.6 2096.6L294.4 2098.7z" fill="#c8ff00" stroke="#384700"/>
<path d="M361.1 2051.3L367.8 2046L360.2 2051.9L353.5 2057.2z" fill="#8aff00" stroke="#264700"/>
<path d="M464.7 1965.8L472.6 1955.1L465.2 1960.9L457.4 1971.5z" fill="#0bff00" stroke="#034700"/>
<path d="M427.6 1997.8L435.1 1989L427.6 1994.9L420.2 2003.6z" fill="#3aff00" stroke="#104700"/>
<path d="M501.8 1932L510.2 1919.4L502.9 1925.2L494.6 1937.7z" fill="#00d728" stroke="#003c0b"/>
<path d="M272.7 2111.2L278.8 2110.6L270.9 2116.6L264.8 2117.1z" fill="#e2ff00" stroke="#3f4700"/>
<path d="M390.6 2028.3L397.6 2021.2L390.1 2027.2L383.1 2034.1z" fill="#66ff00" stroke="#1c4700"/>
<path d="M539.1 1896.6L548.1 1881.9L540.9 1887.7L532 1902.2z" fill="#00a15e" stroke="#002d1a"/>
<path d="M324 2078.7L330.4 2075L322.6 2081L316.2 2084.6z" fill="#afff00" stroke="#314700"/>
<path d="M294.4 2098.7L300.6 2096.6L292.8 2102.6L286.6 2104.6z" fill="#ccff00" stroke="#394700"/>
<path d="M353.5 2057.2L360.2 2051.9L352.5 2057.9L345.8 2063.1z" fill="#8eff00" stroke="#274700"/>
<path d="M457.4 1971.5L465.2 1960.9L457.8 1966.8L450 1977.3z" fill="#10ff00" stroke="#044700"/>
<path d="M420.2 2003.6L427.6 1994.9L420.1 2000.8L412.7 2009.5z" fill="#3fff00" stroke="#114700"/>
<path d="M494.6 1937.7L502.9 1925.2L495.6 1931L487.3 1943.5z" fill="#00dc23" stroke="#003d09"/>
<path d="M264.8 2117.1L270.9 2116.6L262.9 2122.6L256.9 2123.1z" fill="#e6ff00" stroke="#404700"/>
<path d="M383.1 2034.1L390.1 2027.2L382.4 2033.1L375.5 2040z" fill="#6bff00" stroke="#1d4700"/>
<path d="M532 1902.2L540.9 1887.7L533.6 1893.4L524.8 1907.9z" fill="#00a659" stroke="#002e18"/>
<path d="M316.2 2084.6L322.6 2081L314.8 2087.1L308.5 2090.6z" fill="#b4ff00" stroke="#324700"/>
<path d="M286.6 2104.6L292.8 2102.6L284.9 2108.6L278.8 2110.6z" fill="#d1ff00" stroke="#3a4700"/>
<path d="M345.8 2063.1L352.5 2057.9L344.7 2063.9L338.1 2069z" fill="#93ff00" stroke="#294700"/>
<path d="M450 1977.3L457.8 1966.8L450.3 1972.7L442.6 1983.1z" fill="#15ff00" stroke="#054700"/>
<path d="M412.7 2009.5L420.1 2000.8L412.5 2006.7L405.2 2015.3z" fill="#44ff00" stroke="#134700"/>
<path d="M487.3 1943.5L495.6 1931L488.2 1936.9L480 1949.3z" fill="#00e11e" stroke="#003f08"/>
<path d="M375.5 2040L382.4 2033.1L374.7 2039.1L367.8 2046z" fill="#6fff00" stroke="#1f4700"/>
<path d="M524.8 1907.9L533.6 1893.4L526.3 1899.2L517.5 1913.7z" fill="#00ab54" stroke="#002f17"/>
<path d="M308.5 2090.6L314.8 2087.1L307 2093.1L300.6 2096.6z" fill="#b8ff00" stroke="#334700"/>
<path d="M278.8 2110.6L284.9 2108.6L277 2114.7L270.9 2116.6z" fill="#d5ff00" stroke="#3b4700"/>
<path d="M442.6 1983.1L450.3 1972.7L442.8 1978.6L435.1 1989z" fill="#19ff00" stroke="#074700"/>
<path d="M338.1 2069L344.7 2063.9L337 2069.9L330.4 2075z" fill="#98ff00" stroke="#2a4700"/>
<path d="M405.2 2015.3L412.5 2006.7L404.9 2012.7L397.6 2021.2z" fill="#48ff00" stroke="#144700"/>
<path d="M480 1949.3L488.2 1936.9L480.8 1942.7L472.6 1955.1z" fill="#00e619" stroke="#004007"/>
<path d="M367.8 2046L374.7 2039.1L367 2045.2L360.2 2051.9z" fill="#74ff00" stroke="#204700"/>
<path d="M517.5 1913.7L526.3 1899.2L519 1905.1L510.2 1919.4z" fill="#00b04f" stroke="#003116"/>
<path d="M300.6 2096.6L307 2093.1L299.1 2099.2L292.8 2102.6z" fill="#bdff00" stroke="#344700"/>
<path d="M435.1 1989L442.8 1978.6L435.2 1984.5L427.6 1994.9z" fill="#1eff00" stroke="#084700"/>
<path d="M270.9 2116.6L277 2114.7L269 2120.9L262.9 2122.6z" fill="#daff00" stroke="#3d4700"/>
<path d="M330.4 2075L337 2069.9L329.1 2076L322.6 2081z" fill="#9cff00" stroke="#2b4700"/>
<path d="M397.6 2021.2L404.9 2012.7L397.2 2018.7L390.1 2027.2z" fill="#4dff00" stroke="#154700"/>
<path d="M472.6 1955.1L480.8 1942.7L473.3 1948.6L465.2 1960.9z" fill="#00eb14" stroke="#004105"/>
<path d="M360.2 2051.9L367 2045.2L359.3 2051.2L352.5 2057.9z" fill="#79ff00" stroke="#214700"/>
<path d="M510.2 1919.4L519 1905.1L511.6 1910.9L502.9 1925.2z" fill="#00b54a" stroke="#003214"/>
<path d="M292.8 2102.6L299.1 2099.2L291.1 2105.4L284.9 2108.6z" fill="#c1ff00" stroke="#364700"/>
<path d="M427.6 1994.9L435.2 1984.5L427.6 1990.5L420.1 2000.8z" fill="#23ff00" stroke="#094700"/>
<path d="M322.6 2081L329.1 2076L321.3 2082.1L314.8 2087.1z" fill="#a1ff00" stroke="#2d4700"/>
<path d="M390.1 2027.2L397.2 2018.7L389.5 2024.7L382.4 2033.1z" fill="#52ff00" stroke="#164700"/>
<path d="M465.2 1960.9L473.3 1948.6L465.8 1954.6L457.8 1966.8z" fill="#00f00f" stroke="#004304"/>
<path d="M352.5 2057.9L359.3 2051.2L351.5 2057.3L344.7 2063.9z" fill="#7dff00" stroke="#234700"/>
<path d="M502.9 1925.2L511.6 1910.9L504.2 1916.8L495.6 1931z" fill="#00ba45" stroke="#003413"/>
<path d="M284.9 2108.6L291.1 2105.4L283.1 2111.5L277 2114.7z" fill="#c6ff00" stroke="#374700"/>
<path d="M420.1 2000.8L427.6 1990.5L420 1996.5L412.5 2006.7z" fill="#28ff00" stroke="#0b4700"/>
<path d="M314.8 2087.1L321.3 2082.1L313.4 2088.3L307 2093.1z" fill="#a6ff00" stroke="#2e4700"/>
<path d="M382.4 2033.1L389.5 2024.7L381.8 2030.8L374.7 2039.1z" fill="#57ff00" stroke="#184700"/>
<path d="M457.8 1966.8L465.8 1954.6L458.2 1960.5L450.3 1972.7z" fill="#00f50a" stroke="#004402"/>
<path d="M344.7 2063.9L351.5 2057.3L343.6 2063.4L337 2069.9z" fill="#82ff00" stroke="#244700"/>
<path d="M495.6 1931L504.2 1916.8L496.7 1922.7L488.2 1936.9z" fill="#00bf40" stroke="#003511"/>
<path d="M277 2114.7L283.1 2111.5L275.1 2117.7L269 2120.9z" fill="#caff00" stroke="#384700"/>
<path d="M412.5 2006.7L420 1996.5L412.3 2002.6L404.9 2012.7z" fill="#2dff00" stroke="#0c4700"/>
<path d="M307 2093.1L313.4 2088.3L305.4 2094.5L299.1 2099.2z" fill="#aaff00" stroke="#2f4700"/>
<path d="M374.7 2039.1L381.8 2030.8L374 2036.9L367 2045.2z" fill="#5cff00" stroke="#194700"/>
<path d="M450.3 1972.7L458.2 1960.5L450.7 1966.5L442.8 1978.6z" fill="#00fa05" stroke="#004601"/>
<path d="M337 2069.9L343.6 2063.4L335.8 2069.6L329.1 2076z" fill="#87ff00" stroke="#254700"/>
<path d="M488.2 1936.9L496.7 1922.7L489.2 1928.7L480.8 1942.7z" fill="#00c43b" stroke="#003610"/>
<path d="M404.9 2012.7L412.3 2002.6L404.6 2008.7L397.2 2018.7z" fill="#32ff00" stroke="#0e4700"/>
<path d="M299.1 2099.2L305.4 2094.5L297.4 2100.7L291.1 2105.4z" fill="#afff00" stroke="#314700"/>
<path d="M367 2045.2L374 2036.9L366.2 2043L359.3 2051.2z" fill="#60ff00" stroke="#1a4700"/>
<path d="M442.8 1978.6L450.7 1966.5L443 1972.6L435.2 1984.5z" fill="#00ff00" stroke="#004700"/>
<path d="M329.1 2076L335.8 2069.6L327.8 2075.8L321.3 2082.1z" fill="#8cff00" stroke="#274700"/>
<path d="M480.8 1942.7L489.2 1928.7L481.7 1934.6L473.3 1948.6z" fill="#00c936" stroke="#00380f"/>
<path d="M397.2 2018.7L404.6 2008.7L396.8 2014.8L389.5 2024.7z" fill="#37ff00" stroke="#0f4700"/>
<path d="M359.3 2051.2L366.2 2043L358.3 2049.2L351.5 2057.3z" fill="#65ff00" stroke="#1c4700"/>
<path d="M291.1 2105.4L297.4 2100.7L289.4 2106.9L283.1 2111.5z" fill="#b3ff00" stroke="#324700"/>
<path d="M435.2 1984.5L443 1972.6L435.4 1978.6L427.6 1990.5z" fill="#05ff00" stroke="#014700"/>
<path d="M321.3 2082.1L327.8 2075.8L319.9 2082L313.4 2088.3z" fill="#90ff00" stroke="#284700"/>
<path d="M473.3 1948.6L481.7 1934.6L474.1 1940.7L465.8 1954.6z" fill="#00ce31" stroke="#00390d"/>
<path d="M389.5 2024.7L396.8 2014.8L389 2020.9L381.8 2030.8z" fill="#3bff00" stroke="#104700"/>
<path d="M351.5 2057.3L358.3 2049.2L350.4 2055.4L343.6 2063.4z" fill="#6aff00" stroke="#1d4700"/>
<path d="M283.1 2111.5L289.4 2106.9L281.3 2113.2L275.1 2117.7z" fill="#b8ff00" stroke="#334700"/>
<path d="M427.6 1990.5L435.4 1978.6L427.7 1984.7L420 1996.5z" fill="#09ff00" stroke="#024700"/>
<path d="M313.4 2088.3L319.9 2082L311.9 2088.2L305.4 2094.5z" fill="#95ff00" stroke="#294700"/>
<path d="M465.8 1954.6L474.1 1940.7L466.5 1946.7L458.2 1960.5z" fill="#00d32c" stroke="#003b0c"/>
<path d="M381.8 2030.8L389 2020.9L381.2 2027.1L374 2036.9z" fill="#40ff00" stroke="#114700"/>
<path d="M343.6 2063.4L350.4 2055.4L342.5 2061.6L335.8 2069.6z" fill="#6fff00" stroke="#1f4700"/>
<path d="M420 1996.5L427.7 1984.7L419.9 1990.8L412.3 2002.6z" fill="#0eff00" stroke="#034700"/>
<path d="M305.4 2094.5L311.9 2088.2L303.8 2094.5L297.4 2100.7z" fill="#9aff00" stroke="#2b4700"/>
<path d="M458.2 1960.5L466.5 1946.7L458.8 1952.8L450.7 1966.5z" fill="#00d827" stroke="#003c0a"/>
<path d="M374 2036.9L381.2 2027.1L373.3 2033.3L366.2 2043z" fill="#45ff00" stroke="#134700"/>
<path d="M335.8 2069.6L342.5 2061.6L334.5 2067.9L327.8 2075.8z" fill="#73ff00" stroke="#204700"/>
<path d="M412.3 2002.6L419.9 1990.8L412.1 1997L404.6 2008.7z" fill="#13ff00" stroke="#054700"/>
<path d="M297.4 2100.7L303.8 2094.5L295.7 2100.8L289.4 2106.9z" fill="#9eff00" stroke="#2c4700"/>
<path d="M450.7 1966.5L458.8 1952.8L451.1 1958.9L443 1972.6z" fill="#00dd22" stroke="#003d09"/>
<path d="M366.2 2043L373.3 2033.3L365.4 2039.6L358.3 2049.2z" fill="#4aff00" stroke="#144700"/>
<path d="M327.8 2075.8L334.5 2067.9L326.5 2074.2L319.9 2082z" fill="#78ff00" stroke="#214700"/>
<path d="M404.6 2008.7L412.1 1997L404.3 2003.2L396.8 2014.8z" fill="#18ff00" stroke="#064700"/>
<path d="M289.4 2106.9L295.7 2100.8L287.6 2107.2L281.3 2113.2z" fill="#a3ff00" stroke="#2d4700"/>
<path d="M443 1972.6L451.1 1958.9L443.4 1965L435.4 1978.6z" fill="#00e21d" stroke="#003f08"/>
<path d="M358.3 2049.2L365.4 2039.6L357.4 2045.8L350.4 2055.4z" fill="#4fff00" stroke="#164700"/>
<path d="M319.9 2082L326.5 2074.2L318.4 2080.5L311.9 2088.2z" fill="#7dff00" stroke="#234700"/>
<path d="M396.8 2014.8L404.3 2003.2L396.4 2009.4L389 2020.9z" fill="#1dff00" stroke="#084700"/>
<path d="M435.4 1978.6L443.4 1965L435.6 1971.2L427.7 1984.7z" fill="#00e718" stroke="#004006"/>
<path d="M350.4 2055.4L357.4 2045.8L349.4 2052.1L342.5 2061.6z" fill="#54ff00" stroke="#174700"/>
<path d="M389 2020.9L396.4 2009.4L388.5 2015.7L381.2 2027.1z" fill="#22ff00" stroke="#094700"/>
<path d="M311.9 2088.2L318.4 2080.5L310.3 2086.9L303.8 2094.5z" fill="#82ff00" stroke="#244700"/>
<path d="M427.7 1984.7L435.6 1971.2L427.8 1977.4L419.9 1990.8z" fill="#00ec13" stroke="#004205"/>
<path d="M342.5 2061.6L349.4 2052.1L341.4 2058.5L334.5 2067.9z" fill="#59ff00" stroke="#184700"/>
<path d="M381.2 2027.1L388.5 2015.7L380.6 2021.9L373.3 2033.3z" fill="#27ff00" stroke="#0a4700"/>
<path d="M303.8 2094.5L310.3 2086.9L302.2 2093.3L295.7 2100.8z" fill="#87ff00" stroke="#254700"/>
<path d="M419.9 1990.8L427.8 1977.4L419.9 1983.6L412.1 1997z" fill="#00f10e" stroke="#004303"/>
<path d="M334.5 2067.9L341.4 2058.5L333.3 2064.9L326.5 2074.2z" fill="#5dff00" stroke="#1a4700"/>
<path d="M373.3 2033.3L380.6 2021.9L372.6 2028.3L365.4 2039.6z" fill="#2cff00" stroke="#0c4700"/>
<path d="M295.7 2100.8L302.2 2093.3L294 2099.7L287.6 2107.2z" fill="#8bff00" stroke="#264700"/>
<path d="M412.1 1997L419.9 1983.6L412 1989.9L404.3 2003.2z" fill="#00f609" stroke="#004402"/>
<path d="M326.5 2074.2L333.3 2064.9L325.1 2071.3L318.4 2080.5z" fill="#62ff00" stroke="#1b4700"/>
<path d="M365.4 2039.6L372.6 2028.3L364.5 2034.6L357.4 2045.8z" fill="#31ff00" stroke="#0d4700"/>
<path d="M404.3 2003.2L412 1989.9L404.1 1996.2L396.4 2009.4z" fill="#00fb04" stroke="#004601"/>
<path d="M318.4 2080.5L325.1 2071.3L316.9 2077.7L310.3 2086.9z" fill="#67ff00" stroke="#1c4700"/>
<path d="M357.4 2045.8L364.5 2034.6L356.5 2041L349.4 2052.1z" fill="#36ff00" stroke="#0f4700"/>
<path d="M396.4 2009.4L404.1 1996.2L396.1 2002.5L388.5 2015.7z" fill="#01ff00" stroke="#004700"/>
<path d="M310.3 2086.9L316.9 2077.7L308.7 2084.2L302.2 2093.3z" fill="#6cff00" stroke="#1e4700"/>
<path d="M349.4 2052.1L356.5 2041L348.3 2047.4L341.4 2058.5z" fill="#3bff00" stroke="#104700"/>
<path d="M388.5 2015.7L396.1 2002.5L388.1 2008.9L380.6 2021.9z" fill="#06ff00" stroke="#014700"/>
<path d="M302.2 2093.3L308.7 2084.2L300.4 2090.7L294 2099.7z" fill="#71ff00" stroke="#1f4700"/>
<path d="M341.4 2058.5L348.3 2047.4L340.2 2053.9L333.3 2064.9z" fill="#40ff00" stroke="#114700"/>
<path d="M380.6 2021.9L388.1 2008.9L380 2015.3L372.6 2028.3z" fill="#0bff00" stroke="#034700"/>
<path d="M333.3 2064.9L340.2 2053.9L332 2060.4L325.1 2071.3z" fill="#45ff00" stroke="#134700"/>
<path d="M372.6 2028.3L380 2015.3L371.9 2021.7L364.5 2034.6z" fill="#10ff00" stroke="#044700"/>
<path d="M325.1 2071.3L332 2060.4L323.7 2066.9L316.9 2077.7z" fill="#4aff00" stroke="#144700"/>
<path d="M364.5 2034.6L371.9 2021.7L363.7 2028.2L356.5 2041z" fill="#15ff00" stroke="#054700"/>
<path d="M316.9 2077.7L323.7 2066.9L315.4 2073.5L308.7 2084.2z" fill="#4fff00" stroke="#164700"/>
<path d="M356.5 2041L363.7 2028.2L355.5 2034.7L348.3 2047.4z" fill="#1aff00" stroke="#074700"/>
<path d="M308.7 2084.2L315.4 2073.5L307.1 2080.1L300.4 2090.7z" fill="#53ff00" stroke="#174700"/>
<path d="M348.3 2047.4L355.5 2034.7L347.3 2041.2L340.2 2053.9z" fill="#1fff00" stroke="#084700"/>
<path d="M340.2 2053.9L347.3 2041.2L339 2047.8L332 2060.4z" fill="#24ff00" stroke="#0a4700"/>
<path d="M332 2060.4L339 2047.8L330.6 2054.4L323.7 2066.9z" fill="#29ff00" stroke="#0b4700"/>
<path d="M323.7 2066.9L330.6 2054.4L322.3 2061.1L315.4 2073.5z" fill="#2eff00" stroke="#0c4700"/>
<path d="M315.4 2073.5L322.3 2061.1L313.8 2067.8L307.1 2080.1z" fill="#33ff00" stroke="#0e4700"/>
</g>
<g fill="none">
<line x1="312.8" y1="1905.4" x2="119.3" y2="1790.8" stroke="#222" stroke-width="1.8"/>
<line x1="312.8" y1="1905.4" x2="554.7" y2="1806.6" stroke="#222" stroke-width="1.8"/>
<line x1="312.8" y1="1905.4" x2="314.5" y2="2178.6" stroke="#222" stroke-width="1.8"/>
</g>
<path d="M276.7 154.1L139.9 212.4M154.9 213.2L139.9 212.4L149.7 201.1" fill="none" stroke="#333" stroke-width="1.8" stroke-linecap="round" stroke-linejoin="round"/>
<path d="M361.8 151.7L518.8 199.9M507.8 189.7L518.8 199.9L504 202.2" fill="none" stroke="#333" stroke-width="1.8" stroke-linecap="round" stroke-linejoin="round"/>
<path d="M110.1 466.8L95.3 295.3M89.9 309.3L95.3 295.3L103 308.2" fill="none" stroke="#333" stroke-width="1.8" stroke-linecap="round" stroke-linejoin="round"/>
<text x="208.8" y="159.3" font-size="38" textLength="42.2" lengthAdjust="spacingAndGlyphs">ST</text>
<text x="466.6" y="151" font-size="38" textLength="70.6" lengthAdjust="spacingAndGlyphs">EQT</text>
<text x="45.3" y="379.8" font-size="43.5" textLength="46.3" lengthAdjust="spacingAndGlyphs">#F</text>
<path d="M338 912.8L169.7 948.6M184.3 952.2L169.7 948.6L181.5 939.4" fill="none" stroke="#333" stroke-width="1.8" stroke-linecap="round" stroke-linejoin="round"/>
<path d="M422 920.5L534.9 988.5M526.7 975.9L534.9 988.5L520 987.2" fill="none" stroke="#333" stroke-width="1.8" stroke-linecap="round" stroke-linejoin="round"/>
<path d="M126.9 1187.9L112.2 1023.7M106.9 1037.7L112.2 1023.7L120 1036.5" fill="none" stroke="#333" stroke-width="1.8" stroke-linecap="round" stroke-linejoin="round"/>
<text x="233.4" y="903.2" font-size="38" textLength="22.8" lengthAdjust="spacingAndGlyphs">T</text>
<text x="484.7" y="923.2" font-size="38" textLength="40.9" lengthAdjust="spacingAndGlyphs">ST</text>
<text x="19.7" y="1130.4" font-size="38" textLength="54.6" lengthAdjust="spacingAndGlyphs">IV1</text>
<path d="M116 2001L102.3 1836M96.9 1850L102.3 1836L110 1848.9" fill="none" stroke="#333" stroke-width="1.8" stroke-linecap="round" stroke-linejoin="round"/>
<path d="M270.7 2172.8L154.9 2080.5M161.3 2094L154.9 2080.5L169.5 2083.8" fill="none" stroke="#333" stroke-width="1.8" stroke-linecap="round" stroke-linejoin="round"/>
<path d="M365.2 2178.5L508.5 2099.5M493.5 2100.3L508.5 2099.5L499.9 2111.8" fill="none" stroke="#333" stroke-width="1.8" stroke-linecap="round" stroke-linejoin="round"/>
<text x="34" y="1957.5" font-size="38" textLength="53.8" lengthAdjust="spacingAndGlyphs">IV2</text>
<text x="140.2" y="2189.6" font-size="38" textLength="22.7" lengthAdjust="spacingAndGlyphs">T</text>
<text x="452.3" y="2194" font-size="38" textLength="42.2" lengthAdjust="spacingAndGlyphs">ST</text>
<rect x="961.7" y="92.5" width="650.9" height="554.8" fill="none" stroke="#444" stroke-width="2.4" stroke-dasharray="6.5 6.5"/>
<line x1="961.7" y1="167.1" x2="961.7" y2="597.6" stroke="#333" stroke-width="2.2"/>
<line x1="945.9" y1="167.1" x2="962.7" y2="167.1" stroke="#333" stroke-width="2.2"/>
<text x="929.4" y="177.9" font-size="27" text-anchor="end" fill="#1c1c24" stroke="#1c1c24" stroke-width="0.3">0.4</text>
<line x1="945.9" y1="252.6" x2="962.7" y2="252.6" stroke="#333" stroke-width="2.2"/>
<text x="929.4" y="263.4" font-size="27" text-anchor="end" fill="#1c1c24" stroke="#1c1c24" stroke-width="0.3">0.2</text>
<line x1="945.9" y1="338.8" x2="962.7" y2="338.8" stroke="#333" stroke-width="2.2"/>
<text x="929.4" y="349.6" font-size="27" text-anchor="end" fill="#1c1c24" stroke="#1c1c24" stroke-width="0.3">0.0</text>
<line x1="945.9" y1="425.3" x2="962.7" y2="425.3" stroke="#333" stroke-width="2.2"/>
<text x="929.4" y="436.1" font-size="27" text-anchor="end" fill="#1c1c24" stroke="#1c1c24" stroke-width="0.3">-0.2</text>
<line x1="945.9" y1="511.6" x2="962.7" y2="511.6" stroke="#333" stroke-width="2.2"/>
<text x="929.4" y="522.4" font-size="27" text-anchor="end" fill="#1c1c24" stroke="#1c1c24" stroke-width="0.3">-0.4</text>
<line x1="945.9" y1="597.6" x2="962.7" y2="597.6" stroke="#333" stroke-width="2.2"/>
<text x="929.4" y="608.4" font-size="27" text-anchor="end" fill="#1c1c24" stroke="#1c1c24" stroke-width="0.3">-0.6</text>
<rect x="986.8" y="338.8" width="150.7" height="234.2" fill="#fe0000" stroke="#3c0000" stroke-width="1.7"/>
<rect x="1137.5" y="338.8" width="151.1" height="50.3" fill="#fe0000" stroke="#3c0000" stroke-width="1.7"/>
<rect x="1288.6" y="338.8" width="149.7" height="23.9" fill="#fe0000" stroke="#3c0000" stroke-width="1.7"/>
<rect x="1438.3" y="250" width="150.7" height="88.8" fill="#fe0000" stroke="#3c0000" stroke-width="1.7"/>
<path d="M1061.1 498.6V647.3M1031.1 498.6H1091.1M1031.1 647.3H1091.1" fill="none" stroke="#00ff00" stroke-opacity="0.66" stroke-width="2.4"/>
<path d="M1211.6 297.9V480M1181.6 297.9H1241.6M1181.6 480H1241.6" fill="none" stroke="#00ff00" stroke-opacity="0.66" stroke-width="2.4"/>
<path d="M1362.4 271.5V453.8M1332.4 271.5H1392.4M1332.4 453.8H1392.4" fill="none" stroke="#00ff00" stroke-opacity="0.66" stroke-width="2.4"/>
<path d="M1513.1 92.5V407.2M1483.1 92.5H1543.1M1483.1 407.2H1543.1" fill="none" stroke="#00ff00" stroke-opacity="0.66" stroke-width="2.4"/>
<text x="1062.5" y="595.2" font-size="42" font-weight="bold" text-anchor="middle" letter-spacing="3.6">***</text>
<text x="1028.5" y="715.5" font-size="38" textLength="42.2" lengthAdjust="spacingAndGlyphs">ST</text>
<text x="1199.5" y="715.5" font-size="38" textLength="22.7" lengthAdjust="spacingAndGlyphs">T</text>
<text x="1307.5" y="714" font-size="38" textLength="84.9" lengthAdjust="spacingAndGlyphs">ST<tspan font-size="46" dy="4.5" stroke="#000" stroke-width="0.7">*</tspan><tspan dy="-4.5">T</tspan></text>
<text x="1481" y="715.5" font-size="38" textLength="56" lengthAdjust="spacingAndGlyphs">ST<tspan font-size="24" dy="-13">2</tspan></text>
<rect x="967.4" y="860.5" width="645.7" height="550.2" fill="none" stroke="#444" stroke-width="2.4" stroke-dasharray="6.5 6.5"/>
<line x1="967.4" y1="874" x2="967.4" y2="1381.4" stroke="#333" stroke-width="2.2"/>
<line x1="951.6" y1="874" x2="968.4" y2="874" stroke="#333" stroke-width="2.2"/>
<text x="935.1" y="884.8" font-size="27" text-anchor="end" fill="#1c1c24" stroke="#1c1c24" stroke-width="0.3">0.4</text>
<line x1="951.6" y1="976.3" x2="968.4" y2="976.3" stroke="#333" stroke-width="2.2"/>
<text x="935.1" y="987.1" font-size="27" text-anchor="end" fill="#1c1c24" stroke="#1c1c24" stroke-width="0.3">0.2</text>
<line x1="951.6" y1="1078.1" x2="968.4" y2="1078.1" stroke="#333" stroke-width="2.2"/>
<text x="935.1" y="1088.9" font-size="27" text-anchor="end" fill="#1c1c24" stroke="#1c1c24" stroke-width="0.3">0.0</text>
<line x1="951.6" y1="1178.9" x2="968.4" y2="1178.9" stroke="#333" stroke-width="2.2"/>
<text x="935.1" y="1189.7" font-size="27" text-anchor="end" fill="#1c1c24" stroke="#1c1c24" stroke-width="0.3">-0.2</text>
<line x1="951.6" y1="1280.7" x2="968.4" y2="1280.7" stroke="#333" stroke-width="2.2"/>
<text x="935.1" y="1291.5" font-size="27" text-anchor="end" fill="#1c1c24" stroke="#1c1c24" stroke-width="0.3">-0.4</text>
<line x1="951.6" y1="1381.4" x2="968.4" y2="1381.4" stroke="#333" stroke-width="2.2"/>
<text x="935.1" y="1392.2" font-size="27" text-anchor="end" fill="#1c1c24" stroke="#1c1c24" stroke-width="0.3">-0.6</text>
<rect x="991.2" y="1068.3" width="150.2" height="10" fill="#fe0000" stroke="#3c0000" stroke-width="1.7"/>
<rect x="1141.4" y="1078.3" width="149.2" height="153.7" fill="#fe0000" stroke="#3c0000" stroke-width="1.7"/>
<rect x="1290.6" y="975" width="150" height="103.3" fill="#fe0000" stroke="#3c0000" stroke-width="1.7"/>
<rect x="1440.6" y="1078.3" width="149.2" height="133.7" fill="#fe0000" stroke="#3c0000" stroke-width="1.7"/>
<path d="M1065.8 975V1162.8M1035.8 975H1095.8M1035.8 1162.8H1095.8" fill="none" stroke="#00ff00" stroke-opacity="0.66" stroke-width="2.4"/>
<path d="M1215 1117V1345.4M1185 1117H1245M1185 1345.4H1245" fill="none" stroke="#00ff00" stroke-opacity="0.66" stroke-width="2.4"/>
<path d="M1364.4 860.5V1089M1334.4 860.5H1394.4M1334.4 1089H1394.4" fill="none" stroke="#00ff00" stroke-opacity="0.66" stroke-width="2.4"/>
<path d="M1514.4 1015.2V1410.7M1484.4 1015.2H1544.4M1484.4 1410.7H1544.4" fill="none" stroke="#00ff00" stroke-opacity="0.66" stroke-width="2.4"/>
<text x="1216.5" y="1254.2" font-size="42" font-weight="bold" text-anchor="middle" letter-spacing="3.6">*</text>
<text x="1030.6" y="1475" font-size="38" textLength="41.4" lengthAdjust="spacingAndGlyphs">ST</text>
<text x="1200" y="1475" font-size="38" textLength="23" lengthAdjust="spacingAndGlyphs">T</text>
<text x="1307.5" y="1473.5" font-size="38" textLength="84.9" lengthAdjust="spacingAndGlyphs">ST<tspan font-size="46" dy="4.5" stroke="#000" stroke-width="0.7">*</tspan><tspan dy="-4.5">T</tspan></text>
<text x="1481" y="1475" font-size="38" textLength="56" lengthAdjust="spacingAndGlyphs">ST<tspan font-size="24" dy="-13">2</tspan></text>
<rect x="960.9" y="1662" width="647.5" height="550.7" fill="none" stroke="#444" stroke-width="2.4" stroke-dasharray="6.5 6.5"/>
<line x1="960.9" y1="1677.5" x2="960.9" y2="2105.4" stroke="#333" stroke-width="2.2"/>
<line x1="945.1" y1="1677.5" x2="961.9" y2="1677.5" stroke="#333" stroke-width="2.2"/>
<text x="928.6" y="1688.3" font-size="27" text-anchor="end" fill="#1c1c24" stroke="#1c1c24" stroke-width="0.3">0.20</text>
<line x1="945.1" y1="1784.7" x2="961.9" y2="1784.7" stroke="#333" stroke-width="2.2"/>
<text x="928.6" y="1795.5" font-size="27" text-anchor="end" fill="#1c1c24" stroke="#1c1c24" stroke-width="0.3">0.15</text>
<line x1="945.1" y1="1891.7" x2="961.9" y2="1891.7" stroke="#333" stroke-width="2.2"/>
<text x="928.6" y="1902.5" font-size="27" text-anchor="end" fill="#1c1c24" stroke="#1c1c24" stroke-width="0.3">0.10</text>
<line x1="945.1" y1="1998.4" x2="961.9" y2="1998.4" stroke="#333" stroke-width="2.2"/>
<text x="928.6" y="2009.2" font-size="27" text-anchor="end" fill="#1c1c24" stroke="#1c1c24" stroke-width="0.3">0.05</text>
<line x1="945.1" y1="2105.4" x2="961.9" y2="2105.4" stroke="#333" stroke-width="2.2"/>
<text x="928.6" y="2116.2" font-size="27" text-anchor="end" fill="#1c1c24" stroke="#1c1c24" stroke-width="0.3">0.00</text>
<rect x="986" y="2028.2" width="149.7" height="77.2" fill="#fe0000" stroke="#3c0000" stroke-width="1.9"/>
<rect x="1135.7" y="2025.1" width="150.3" height="80.3" fill="#fe0000" stroke="#3c0000" stroke-width="1.9"/>
<rect x="1286" y="2103.2" width="148.9" height="3.8" fill="#0a0000"/>
<rect x="1434.9" y="1843.8" width="150.2" height="261.6" fill="#fe0000" stroke="#3c0000" stroke-width="1.9"/>
<path d="M1060.1 1942.7V2113.7M1030.1 1942.7H1090.1M1030.1 2113.7H1090.1" fill="none" stroke="#00ff00" stroke-opacity="0.66" stroke-width="2.4"/>
<path d="M1210.1 1920V2130M1180.1 1920H1240.1M1180.1 2130H1240.1" fill="none" stroke="#00ff00" stroke-opacity="0.66" stroke-width="2.4"/>
<path d="M1359.8 2000.5V2212.7M1329.8 2000.5H1389.8M1329.8 2212.7H1389.8" fill="none" stroke="#00ff00" stroke-opacity="0.66" stroke-width="2.4"/>
<path d="M1509.2 1662V2027M1479.2 1662H1539.2M1479.2 2027H1539.2" fill="none" stroke="#00ff00" stroke-opacity="0.66" stroke-width="2.4"/>
<text x="1510.7" y="1868.1" font-size="42" font-weight="bold" text-anchor="middle" letter-spacing="3.6">*</text>
<text x="1028.5" y="2280" font-size="38" textLength="42.2" lengthAdjust="spacingAndGlyphs">ST</text>
<text x="1199.5" y="2280" font-size="38" textLength="22.5" lengthAdjust="spacingAndGlyphs">T</text>
<text x="1307.5" y="2278.5" font-size="38" textLength="84.9" lengthAdjust="spacingAndGlyphs">ST<tspan font-size="46" dy="4.5" stroke="#000" stroke-width="0.7">*</tspan><tspan dy="-4.5">T</tspan></text>
<text x="1481" y="2280" font-size="38" textLength="56" lengthAdjust="spacingAndGlyphs">ST<tspan font-size="24" dy="-13">2</tspan></text>
<line x1="1356.5" y1="727.8" x2="1361.5" y2="726.6" stroke="#8a8a8a" stroke-width="1.3"/>
<line x1="1360" y1="1490.1" x2="1365" y2="1488.9" stroke="#8a8a8a" stroke-width="1.3"/>
<line x1="1352.5" y1="2293.6" x2="1357.5" y2="2292.4" stroke="#8a8a8a" stroke-width="1.3"/>
</svg>
</body></html>
